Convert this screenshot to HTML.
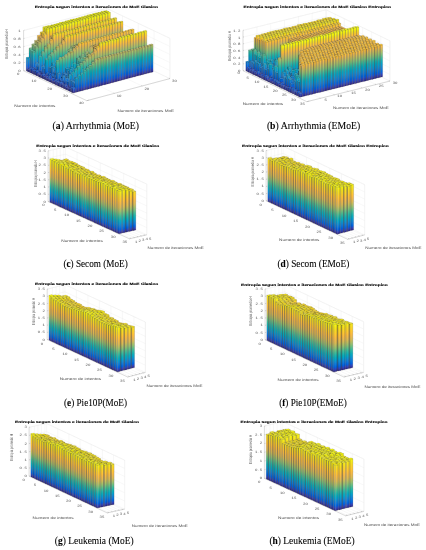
<!DOCTYPE html>
<html><head><meta charset="utf-8"><title>Entropia</title>
<style>
html,body{margin:0;padding:0;background:#fff;}
svg{display:block;}
text{font-family:"Liberation Sans",Arial,sans-serif;text-rendering:geometricPrecision;}
.cap{font-family:"Liberation Serif","Times New Roman",serif;font-size:9.4px;fill:#000;stroke:#000;stroke-width:0.08px;text-rendering:optimizeLegibility;}
</style></head><body>
<svg width="426" height="550" viewBox="0 0 426 550">
<defs><linearGradient id="gl" gradientUnits="userSpaceOnUse"><stop offset="0" stop-color="#352a87"/><stop offset="0.05" stop-color="#353eaf"/><stop offset="0.1" stop-color="#1b55d7"/><stop offset="0.15" stop-color="#036ae1"/><stop offset="0.2" stop-color="#0f77db"/><stop offset="0.25" stop-color="#1484d4"/><stop offset="0.3" stop-color="#0d93d2"/><stop offset="0.35" stop-color="#06a0cd"/><stop offset="0.4" stop-color="#07aac1"/><stop offset="0.45" stop-color="#18b1b2"/><stop offset="0.5" stop-color="#33b8a1"/><stop offset="0.55" stop-color="#55bd8e"/><stop offset="0.6" stop-color="#7abf7c"/><stop offset="0.65" stop-color="#9bbf6f"/><stop offset="0.7" stop-color="#b8bd63"/><stop offset="0.75" stop-color="#d3bb58"/><stop offset="0.8" stop-color="#ecb94c"/><stop offset="0.85" stop-color="#fec13a"/><stop offset="0.9" stop-color="#fad12b"/><stop offset="0.95" stop-color="#f5e31e"/><stop offset="1" stop-color="#f9fb0e"/></linearGradient><linearGradient id="gld" gradientUnits="userSpaceOnUse"><stop offset="0" stop-color="#251e5e"/><stop offset="0.05" stop-color="#252b7a"/><stop offset="0.1" stop-color="#133c96"/><stop offset="0.15" stop-color="#024a9d"/><stop offset="0.2" stop-color="#0a5399"/><stop offset="0.25" stop-color="#0e5c95"/><stop offset="0.3" stop-color="#096793"/><stop offset="0.35" stop-color="#04708f"/><stop offset="0.4" stop-color="#057787"/><stop offset="0.45" stop-color="#117c7d"/><stop offset="0.5" stop-color="#248171"/><stop offset="0.55" stop-color="#3b8463"/><stop offset="0.6" stop-color="#558657"/><stop offset="0.65" stop-color="#6d854e"/><stop offset="0.7" stop-color="#818445"/><stop offset="0.75" stop-color="#94833e"/><stop offset="0.8" stop-color="#a58235"/><stop offset="0.85" stop-color="#b28729"/><stop offset="0.9" stop-color="#af931e"/><stop offset="0.95" stop-color="#ab9f15"/><stop offset="1" stop-color="#aeaf0a"/></linearGradient><linearGradient id="gc" gradientUnits="userSpaceOnUse"><stop offset="0" stop-color="#352a87"/><stop offset="0.05" stop-color="#3145bc"/><stop offset="0.1" stop-color="#0265e1"/><stop offset="0.15" stop-color="#0f77db"/><stop offset="0.2" stop-color="#128ad3"/><stop offset="0.25" stop-color="#06a0cd"/><stop offset="0.3" stop-color="#0cadbb"/><stop offset="0.35" stop-color="#24b5aa"/><stop offset="0.4" stop-color="#44bb97"/><stop offset="0.45" stop-color="#6bbf83"/><stop offset="0.5" stop-color="#95bf71"/><stop offset="0.55" stop-color="#b8bd63"/><stop offset="0.6" stop-color="#d8ba56"/><stop offset="0.65" stop-color="#e8b94f"/><stop offset="0.7" stop-color="#f7ba45"/><stop offset="0.75" stop-color="#fec238"/><stop offset="0.8" stop-color="#fdcc2f"/><stop offset="0.85" stop-color="#f8d627"/><stop offset="0.9" stop-color="#f5e11f"/><stop offset="0.95" stop-color="#f5ed17"/><stop offset="1" stop-color="#f9fb0e"/></linearGradient><linearGradient id="gcd" gradientUnits="userSpaceOnUse"><stop offset="0" stop-color="#251e5e"/><stop offset="0.05" stop-color="#223084"/><stop offset="0.1" stop-color="#02479d"/><stop offset="0.15" stop-color="#0a5399"/><stop offset="0.2" stop-color="#0d6193"/><stop offset="0.25" stop-color="#047090"/><stop offset="0.3" stop-color="#097983"/><stop offset="0.35" stop-color="#197e77"/><stop offset="0.4" stop-color="#30836a"/><stop offset="0.45" stop-color="#4b855c"/><stop offset="0.5" stop-color="#68864f"/><stop offset="0.55" stop-color="#818445"/><stop offset="0.6" stop-color="#97823c"/><stop offset="0.65" stop-color="#a28237"/><stop offset="0.7" stop-color="#ad8230"/><stop offset="0.75" stop-color="#b28828"/><stop offset="0.8" stop-color="#b18f21"/><stop offset="0.85" stop-color="#ae961c"/><stop offset="0.9" stop-color="#ac9d16"/><stop offset="0.95" stop-color="#aca610"/><stop offset="1" stop-color="#aeaf0a"/></linearGradient>
<linearGradient id="aF1" href="#gl" gradientUnits="userSpaceOnUse" x1="0" y1="58.41" x2="14.80" y2="27.12"/>
<linearGradient id="aS30" href="#gl" gradientUnits="userSpaceOnUse" x1="0" y1="112.57" x2="-9.51" y2="76.82"/>
<linearGradient id="aF2" href="#gl" gradientUnits="userSpaceOnUse" x1="0" y1="56.36" x2="14.80" y2="25.08"/>
<linearGradient id="aF3" href="#gl" gradientUnits="userSpaceOnUse" x1="0" y1="54.31" x2="14.80" y2="23.03"/>
<linearGradient id="aF4" href="#gl" gradientUnits="userSpaceOnUse" x1="0" y1="52.27" x2="14.80" y2="20.98"/>
<linearGradient id="aF5" href="#gl" gradientUnits="userSpaceOnUse" x1="0" y1="50.22" x2="14.80" y2="18.93"/>
<linearGradient id="aF6" href="#gl" gradientUnits="userSpaceOnUse" x1="0" y1="48.17" x2="14.80" y2="16.89"/>
<linearGradient id="aF7" href="#gl" gradientUnits="userSpaceOnUse" x1="0" y1="46.12" x2="14.80" y2="14.84"/>
<linearGradient id="aF8" href="#gl" gradientUnits="userSpaceOnUse" x1="0" y1="44.08" x2="14.80" y2="12.79"/>
<linearGradient id="aF9" href="#gl" gradientUnits="userSpaceOnUse" x1="0" y1="42.03" x2="14.80" y2="10.75"/>
<linearGradient id="aF10" href="#gl" gradientUnits="userSpaceOnUse" x1="0" y1="39.98" x2="14.80" y2="8.70"/>
<linearGradient id="aF11" href="#gl" gradientUnits="userSpaceOnUse" x1="0" y1="37.93" x2="14.80" y2="6.65"/>
<linearGradient id="aF12" href="#gl" gradientUnits="userSpaceOnUse" x1="0" y1="35.89" x2="14.80" y2="4.60"/>
<linearGradient id="aF13" href="#gl" gradientUnits="userSpaceOnUse" x1="0" y1="33.84" x2="14.80" y2="2.56"/>
<linearGradient id="aF14" href="#gl" gradientUnits="userSpaceOnUse" x1="0" y1="31.79" x2="14.80" y2="0.51"/>
<linearGradient id="aF15" href="#gl" gradientUnits="userSpaceOnUse" x1="0" y1="29.75" x2="14.80" y2="-1.54"/>
<linearGradient id="aF16" href="#gl" gradientUnits="userSpaceOnUse" x1="0" y1="27.70" x2="14.80" y2="-3.58"/>
<linearGradient id="aF17" href="#gl" gradientUnits="userSpaceOnUse" x1="0" y1="25.65" x2="14.80" y2="-5.63"/>
<linearGradient id="aF18" href="#gl" gradientUnits="userSpaceOnUse" x1="0" y1="23.60" x2="14.80" y2="-7.68"/>
<linearGradient id="aF19" href="#gl" gradientUnits="userSpaceOnUse" x1="0" y1="21.56" x2="14.80" y2="-9.73"/>
<linearGradient id="aF20" href="#gl" gradientUnits="userSpaceOnUse" x1="0" y1="19.51" x2="14.80" y2="-11.77"/>
<linearGradient id="aF21" href="#gl" gradientUnits="userSpaceOnUse" x1="0" y1="17.46" x2="14.80" y2="-13.82"/>
<linearGradient id="aF22" href="#gl" gradientUnits="userSpaceOnUse" x1="0" y1="15.42" x2="14.80" y2="-15.87"/>
<linearGradient id="aF23" href="#gl" gradientUnits="userSpaceOnUse" x1="0" y1="13.37" x2="14.80" y2="-17.91"/>
<linearGradient id="aF24" href="#gl" gradientUnits="userSpaceOnUse" x1="0" y1="11.32" x2="14.80" y2="-19.96"/>
<linearGradient id="aF25" href="#gl" gradientUnits="userSpaceOnUse" x1="0" y1="9.27" x2="14.80" y2="-22.01"/>
<linearGradient id="aF26" href="#gl" gradientUnits="userSpaceOnUse" x1="0" y1="7.23" x2="14.80" y2="-24.06"/>
<linearGradient id="aF27" href="#gl" gradientUnits="userSpaceOnUse" x1="0" y1="5.18" x2="14.80" y2="-26.10"/>
<linearGradient id="aF28" href="#gl" gradientUnits="userSpaceOnUse" x1="0" y1="3.13" x2="14.80" y2="-28.15"/>
<linearGradient id="aF29" href="#gl" gradientUnits="userSpaceOnUse" x1="0" y1="1.09" x2="14.80" y2="-30.20"/>
<linearGradient id="aS29d" href="#gld" gradientUnits="userSpaceOnUse" x1="0" y1="111.41" x2="-9.51" y2="75.65"/>
<linearGradient id="aS28d" href="#gld" gradientUnits="userSpaceOnUse" x1="0" y1="110.24" x2="-9.51" y2="74.48"/>
<linearGradient id="aS28" href="#gl" gradientUnits="userSpaceOnUse" x1="0" y1="110.24" x2="-9.51" y2="74.48"/>
<linearGradient id="aF3d" href="#gld" gradientUnits="userSpaceOnUse" x1="0" y1="54.31" x2="14.80" y2="23.03"/>
<linearGradient id="aF10d" href="#gld" gradientUnits="userSpaceOnUse" x1="0" y1="39.98" x2="14.80" y2="8.70"/>
<linearGradient id="aS27d" href="#gld" gradientUnits="userSpaceOnUse" x1="0" y1="109.07" x2="-9.51" y2="73.31"/>
<linearGradient id="aS27" href="#gl" gradientUnits="userSpaceOnUse" x1="0" y1="109.07" x2="-9.51" y2="73.31"/>
<linearGradient id="aS26" href="#gl" gradientUnits="userSpaceOnUse" x1="0" y1="107.90" x2="-9.51" y2="72.15"/>
<linearGradient id="aS25" href="#gl" gradientUnits="userSpaceOnUse" x1="0" y1="106.74" x2="-9.51" y2="70.98"/>
<linearGradient id="aS25d" href="#gld" gradientUnits="userSpaceOnUse" x1="0" y1="106.74" x2="-9.51" y2="70.98"/>
<linearGradient id="aS24d" href="#gld" gradientUnits="userSpaceOnUse" x1="0" y1="105.57" x2="-9.51" y2="69.81"/>
<linearGradient id="aS24" href="#gl" gradientUnits="userSpaceOnUse" x1="0" y1="105.57" x2="-9.51" y2="69.81"/>
<linearGradient id="aF6d" href="#gld" gradientUnits="userSpaceOnUse" x1="0" y1="48.17" x2="14.80" y2="16.89"/>
<linearGradient id="aF14d" href="#gld" gradientUnits="userSpaceOnUse" x1="0" y1="31.79" x2="14.80" y2="0.51"/>
<linearGradient id="aS23" href="#gl" gradientUnits="userSpaceOnUse" x1="0" y1="104.40" x2="-9.51" y2="68.64"/>
<linearGradient id="aS23d" href="#gld" gradientUnits="userSpaceOnUse" x1="0" y1="104.40" x2="-9.51" y2="68.64"/>
<linearGradient id="aS22" href="#gl" gradientUnits="userSpaceOnUse" x1="0" y1="103.23" x2="-9.51" y2="67.48"/>
<linearGradient id="aS22d" href="#gld" gradientUnits="userSpaceOnUse" x1="0" y1="103.23" x2="-9.51" y2="67.48"/>
<linearGradient id="aF11d" href="#gld" gradientUnits="userSpaceOnUse" x1="0" y1="37.93" x2="14.80" y2="6.65"/>
<linearGradient id="aF15d" href="#gld" gradientUnits="userSpaceOnUse" x1="0" y1="29.75" x2="14.80" y2="-1.54"/>
<linearGradient id="aS21d" href="#gld" gradientUnits="userSpaceOnUse" x1="0" y1="102.06" x2="-9.51" y2="66.31"/>
<linearGradient id="aS21" href="#gl" gradientUnits="userSpaceOnUse" x1="0" y1="102.06" x2="-9.51" y2="66.31"/>
<linearGradient id="aS20" href="#gl" gradientUnits="userSpaceOnUse" x1="0" y1="100.90" x2="-9.51" y2="65.14"/>
<linearGradient id="aS20d" href="#gld" gradientUnits="userSpaceOnUse" x1="0" y1="100.90" x2="-9.51" y2="65.14"/>
<linearGradient id="aS19" href="#gl" gradientUnits="userSpaceOnUse" x1="0" y1="99.73" x2="-9.51" y2="63.97"/>
<linearGradient id="aS19d" href="#gld" gradientUnits="userSpaceOnUse" x1="0" y1="99.73" x2="-9.51" y2="63.97"/>
<linearGradient id="aS18d" href="#gld" gradientUnits="userSpaceOnUse" x1="0" y1="98.56" x2="-9.51" y2="62.81"/>
<linearGradient id="aS18" href="#gl" gradientUnits="userSpaceOnUse" x1="0" y1="98.56" x2="-9.51" y2="62.81"/>
<linearGradient id="aS17" href="#gl" gradientUnits="userSpaceOnUse" x1="0" y1="97.39" x2="-9.51" y2="61.64"/>
<linearGradient id="aS17d" href="#gld" gradientUnits="userSpaceOnUse" x1="0" y1="97.39" x2="-9.51" y2="61.64"/>
<linearGradient id="aS16d" href="#gld" gradientUnits="userSpaceOnUse" x1="0" y1="96.23" x2="-9.51" y2="60.47"/>
<linearGradient id="aS15" href="#gl" gradientUnits="userSpaceOnUse" x1="0" y1="95.06" x2="-9.51" y2="59.30"/>
<linearGradient id="aS15d" href="#gld" gradientUnits="userSpaceOnUse" x1="0" y1="95.06" x2="-9.51" y2="59.30"/>
<linearGradient id="aS14d" href="#gld" gradientUnits="userSpaceOnUse" x1="0" y1="93.89" x2="-9.51" y2="58.13"/>
<linearGradient id="aS14" href="#gl" gradientUnits="userSpaceOnUse" x1="0" y1="93.89" x2="-9.51" y2="58.13"/>
<linearGradient id="aF12d" href="#gld" gradientUnits="userSpaceOnUse" x1="0" y1="35.89" x2="14.80" y2="4.60"/>
<linearGradient id="aS13" href="#gl" gradientUnits="userSpaceOnUse" x1="0" y1="92.72" x2="-9.51" y2="56.97"/>
<linearGradient id="aS13d" href="#gld" gradientUnits="userSpaceOnUse" x1="0" y1="92.72" x2="-9.51" y2="56.97"/>
<linearGradient id="aS12d" href="#gld" gradientUnits="userSpaceOnUse" x1="0" y1="91.56" x2="-9.51" y2="55.80"/>
<linearGradient id="aS12" href="#gl" gradientUnits="userSpaceOnUse" x1="0" y1="91.56" x2="-9.51" y2="55.80"/>
<linearGradient id="aF5d" href="#gld" gradientUnits="userSpaceOnUse" x1="0" y1="50.22" x2="14.80" y2="18.93"/>
<linearGradient id="aS11" href="#gl" gradientUnits="userSpaceOnUse" x1="0" y1="90.39" x2="-9.51" y2="54.63"/>
<linearGradient id="aS10d" href="#gld" gradientUnits="userSpaceOnUse" x1="0" y1="89.22" x2="-9.51" y2="53.46"/>
<linearGradient id="aS9d" href="#gld" gradientUnits="userSpaceOnUse" x1="0" y1="88.05" x2="-9.51" y2="52.30"/>
<linearGradient id="aS9" href="#gl" gradientUnits="userSpaceOnUse" x1="0" y1="88.05" x2="-9.51" y2="52.30"/>
<linearGradient id="aF7d" href="#gld" gradientUnits="userSpaceOnUse" x1="0" y1="46.12" x2="14.80" y2="14.84"/>
<linearGradient id="aF9d" href="#gld" gradientUnits="userSpaceOnUse" x1="0" y1="42.03" x2="14.80" y2="10.75"/>
<linearGradient id="aS8" href="#gl" gradientUnits="userSpaceOnUse" x1="0" y1="86.88" x2="-9.51" y2="51.13"/>
<linearGradient id="aS8d" href="#gld" gradientUnits="userSpaceOnUse" x1="0" y1="86.88" x2="-9.51" y2="51.13"/>
<linearGradient id="aS7" href="#gl" gradientUnits="userSpaceOnUse" x1="0" y1="85.72" x2="-9.51" y2="49.96"/>
<linearGradient id="aS6d" href="#gld" gradientUnits="userSpaceOnUse" x1="0" y1="84.55" x2="-9.51" y2="48.79"/>
<linearGradient id="aS5d" href="#gld" gradientUnits="userSpaceOnUse" x1="0" y1="83.38" x2="-9.51" y2="47.63"/>
<linearGradient id="aS5" href="#gl" gradientUnits="userSpaceOnUse" x1="0" y1="83.38" x2="-9.51" y2="47.63"/>
<linearGradient id="aF4d" href="#gld" gradientUnits="userSpaceOnUse" x1="0" y1="52.27" x2="14.80" y2="20.98"/>
<linearGradient id="aF8d" href="#gld" gradientUnits="userSpaceOnUse" x1="0" y1="44.08" x2="14.80" y2="12.79"/>
<linearGradient id="aS4" href="#gl" gradientUnits="userSpaceOnUse" x1="0" y1="82.21" x2="-9.51" y2="46.46"/>
<linearGradient id="aS4d" href="#gld" gradientUnits="userSpaceOnUse" x1="0" y1="82.21" x2="-9.51" y2="46.46"/>
<linearGradient id="aS3d" href="#gld" gradientUnits="userSpaceOnUse" x1="0" y1="81.05" x2="-9.51" y2="45.29"/>
<linearGradient id="aS3" href="#gl" gradientUnits="userSpaceOnUse" x1="0" y1="81.05" x2="-9.51" y2="45.29"/>
<linearGradient id="aS2d" href="#gld" gradientUnits="userSpaceOnUse" x1="0" y1="79.88" x2="-9.51" y2="44.12"/>
<linearGradient id="aS2" href="#gl" gradientUnits="userSpaceOnUse" x1="0" y1="79.88" x2="-9.51" y2="44.12"/>
<linearGradient id="aS1" href="#gl" gradientUnits="userSpaceOnUse" x1="0" y1="78.71" x2="-9.51" y2="42.95"/>
<linearGradient id="aS1d" href="#gld" gradientUnits="userSpaceOnUse" x1="0" y1="78.71" x2="-9.51" y2="42.95"/>
<linearGradient id="bF1" href="#gl" gradientUnits="userSpaceOnUse" x1="0" y1="-48.59" x2="14.53" y2="-78.49"/>
<linearGradient id="bS30" href="#gl" gradientUnits="userSpaceOnUse" x1="0" y1="171.60" x2="-8.63" y2="136.78"/>
<linearGradient id="bF2" href="#gl" gradientUnits="userSpaceOnUse" x1="0" y1="-50.62" x2="14.53" y2="-80.52"/>
<linearGradient id="bF3" href="#gl" gradientUnits="userSpaceOnUse" x1="0" y1="-52.66" x2="14.53" y2="-82.56"/>
<linearGradient id="bF4" href="#gl" gradientUnits="userSpaceOnUse" x1="0" y1="-54.69" x2="14.53" y2="-84.59"/>
<linearGradient id="bF5" href="#gl" gradientUnits="userSpaceOnUse" x1="0" y1="-56.72" x2="14.53" y2="-86.62"/>
<linearGradient id="bF6d" href="#gld" gradientUnits="userSpaceOnUse" x1="0" y1="-58.75" x2="14.53" y2="-88.66"/>
<linearGradient id="bF7" href="#gl" gradientUnits="userSpaceOnUse" x1="0" y1="-60.79" x2="14.53" y2="-90.69"/>
<linearGradient id="bF8" href="#gl" gradientUnits="userSpaceOnUse" x1="0" y1="-62.82" x2="14.53" y2="-92.72"/>
<linearGradient id="bF9" href="#gl" gradientUnits="userSpaceOnUse" x1="0" y1="-64.85" x2="14.53" y2="-94.75"/>
<linearGradient id="bF10" href="#gl" gradientUnits="userSpaceOnUse" x1="0" y1="-66.88" x2="14.53" y2="-96.79"/>
<linearGradient id="bF11d" href="#gld" gradientUnits="userSpaceOnUse" x1="0" y1="-68.92" x2="14.53" y2="-98.82"/>
<linearGradient id="bF12" href="#gl" gradientUnits="userSpaceOnUse" x1="0" y1="-70.95" x2="14.53" y2="-100.85"/>
<linearGradient id="bF13d" href="#gld" gradientUnits="userSpaceOnUse" x1="0" y1="-72.98" x2="14.53" y2="-102.88"/>
<linearGradient id="bF14" href="#gl" gradientUnits="userSpaceOnUse" x1="0" y1="-75.02" x2="14.53" y2="-104.92"/>
<linearGradient id="bF15" href="#gl" gradientUnits="userSpaceOnUse" x1="0" y1="-77.05" x2="14.53" y2="-106.95"/>
<linearGradient id="bF16" href="#gl" gradientUnits="userSpaceOnUse" x1="0" y1="-79.08" x2="14.53" y2="-108.98"/>
<linearGradient id="bF17" href="#gl" gradientUnits="userSpaceOnUse" x1="0" y1="-81.11" x2="14.53" y2="-111.01"/>
<linearGradient id="bF18" href="#gl" gradientUnits="userSpaceOnUse" x1="0" y1="-83.15" x2="14.53" y2="-113.05"/>
<linearGradient id="bF19" href="#gl" gradientUnits="userSpaceOnUse" x1="0" y1="-85.18" x2="14.53" y2="-115.08"/>
<linearGradient id="bF20" href="#gl" gradientUnits="userSpaceOnUse" x1="0" y1="-87.21" x2="14.53" y2="-117.11"/>
<linearGradient id="bF21" href="#gl" gradientUnits="userSpaceOnUse" x1="0" y1="-89.24" x2="14.53" y2="-119.14"/>
<linearGradient id="bF22" href="#gl" gradientUnits="userSpaceOnUse" x1="0" y1="-91.28" x2="14.53" y2="-121.18"/>
<linearGradient id="bF23" href="#gl" gradientUnits="userSpaceOnUse" x1="0" y1="-93.31" x2="14.53" y2="-123.21"/>
<linearGradient id="bF24" href="#gl" gradientUnits="userSpaceOnUse" x1="0" y1="-95.34" x2="14.53" y2="-125.24"/>
<linearGradient id="bF25d" href="#gld" gradientUnits="userSpaceOnUse" x1="0" y1="-97.37" x2="14.53" y2="-127.27"/>
<linearGradient id="bF26" href="#gl" gradientUnits="userSpaceOnUse" x1="0" y1="-99.41" x2="14.53" y2="-129.31"/>
<linearGradient id="bF27" href="#gl" gradientUnits="userSpaceOnUse" x1="0" y1="-101.44" x2="14.53" y2="-131.34"/>
<linearGradient id="bF28d" href="#gld" gradientUnits="userSpaceOnUse" x1="0" y1="-103.47" x2="14.53" y2="-133.37"/>
<linearGradient id="bF29" href="#gl" gradientUnits="userSpaceOnUse" x1="0" y1="-105.50" x2="14.53" y2="-135.40"/>
<linearGradient id="bF30" href="#gl" gradientUnits="userSpaceOnUse" x1="0" y1="-107.54" x2="14.53" y2="-137.44"/>
<linearGradient id="bS29" href="#gl" gradientUnits="userSpaceOnUse" x1="0" y1="170.26" x2="-8.63" y2="135.44"/>
<linearGradient id="bS29d" href="#gld" gradientUnits="userSpaceOnUse" x1="0" y1="170.26" x2="-8.63" y2="135.44"/>
<linearGradient id="bS28d" href="#gld" gradientUnits="userSpaceOnUse" x1="0" y1="168.93" x2="-8.63" y2="134.11"/>
<linearGradient id="bS28" href="#gl" gradientUnits="userSpaceOnUse" x1="0" y1="168.93" x2="-8.63" y2="134.11"/>
<linearGradient id="bF4d" href="#gld" gradientUnits="userSpaceOnUse" x1="0" y1="-54.69" x2="14.53" y2="-84.59"/>
<linearGradient id="bF6" href="#gl" gradientUnits="userSpaceOnUse" x1="0" y1="-58.75" x2="14.53" y2="-88.66"/>
<linearGradient id="bF7d" href="#gld" gradientUnits="userSpaceOnUse" x1="0" y1="-60.79" x2="14.53" y2="-90.69"/>
<linearGradient id="bF9d" href="#gld" gradientUnits="userSpaceOnUse" x1="0" y1="-64.85" x2="14.53" y2="-94.75"/>
<linearGradient id="bF13" href="#gl" gradientUnits="userSpaceOnUse" x1="0" y1="-72.98" x2="14.53" y2="-102.88"/>
<linearGradient id="bF15d" href="#gld" gradientUnits="userSpaceOnUse" x1="0" y1="-77.05" x2="14.53" y2="-106.95"/>
<linearGradient id="bF19d" href="#gld" gradientUnits="userSpaceOnUse" x1="0" y1="-85.18" x2="14.53" y2="-115.08"/>
<linearGradient id="bF25" href="#gl" gradientUnits="userSpaceOnUse" x1="0" y1="-97.37" x2="14.53" y2="-127.27"/>
<linearGradient id="bF26d" href="#gld" gradientUnits="userSpaceOnUse" x1="0" y1="-99.41" x2="14.53" y2="-129.31"/>
<linearGradient id="bS27" href="#gl" gradientUnits="userSpaceOnUse" x1="0" y1="167.59" x2="-8.63" y2="132.77"/>
<linearGradient id="bS27d" href="#gld" gradientUnits="userSpaceOnUse" x1="0" y1="167.59" x2="-8.63" y2="132.77"/>
<linearGradient id="bS26" href="#gl" gradientUnits="userSpaceOnUse" x1="0" y1="166.25" x2="-8.63" y2="131.43"/>
<linearGradient id="bS26d" href="#gld" gradientUnits="userSpaceOnUse" x1="0" y1="166.25" x2="-8.63" y2="131.43"/>
<linearGradient id="bF8d" href="#gld" gradientUnits="userSpaceOnUse" x1="0" y1="-62.82" x2="14.53" y2="-92.72"/>
<linearGradient id="bF11" href="#gl" gradientUnits="userSpaceOnUse" x1="0" y1="-68.92" x2="14.53" y2="-98.82"/>
<linearGradient id="bF12d" href="#gld" gradientUnits="userSpaceOnUse" x1="0" y1="-70.95" x2="14.53" y2="-100.85"/>
<linearGradient id="bF17d" href="#gld" gradientUnits="userSpaceOnUse" x1="0" y1="-81.11" x2="14.53" y2="-111.01"/>
<linearGradient id="bF20d" href="#gld" gradientUnits="userSpaceOnUse" x1="0" y1="-87.21" x2="14.53" y2="-117.11"/>
<linearGradient id="bF23d" href="#gld" gradientUnits="userSpaceOnUse" x1="0" y1="-93.31" x2="14.53" y2="-123.21"/>
<linearGradient id="bF28" href="#gl" gradientUnits="userSpaceOnUse" x1="0" y1="-103.47" x2="14.53" y2="-133.37"/>
<linearGradient id="bS25d" href="#gld" gradientUnits="userSpaceOnUse" x1="0" y1="164.91" x2="-8.63" y2="130.09"/>
<linearGradient id="bF2d" href="#gld" gradientUnits="userSpaceOnUse" x1="0" y1="-50.62" x2="14.53" y2="-80.52"/>
<linearGradient id="bS25" href="#gl" gradientUnits="userSpaceOnUse" x1="0" y1="164.91" x2="-8.63" y2="130.09"/>
<linearGradient id="bS24" href="#gl" gradientUnits="userSpaceOnUse" x1="0" y1="163.58" x2="-8.63" y2="128.76"/>
<linearGradient id="bF18d" href="#gld" gradientUnits="userSpaceOnUse" x1="0" y1="-83.15" x2="14.53" y2="-113.05"/>
<linearGradient id="bS23d" href="#gld" gradientUnits="userSpaceOnUse" x1="0" y1="162.24" x2="-8.63" y2="127.42"/>
<linearGradient id="bS23" href="#gl" gradientUnits="userSpaceOnUse" x1="0" y1="162.24" x2="-8.63" y2="127.42"/>
<linearGradient id="bS22" href="#gl" gradientUnits="userSpaceOnUse" x1="0" y1="160.90" x2="-8.63" y2="126.08"/>
<linearGradient id="bS21" href="#gl" gradientUnits="userSpaceOnUse" x1="0" y1="159.56" x2="-8.63" y2="124.74"/>
<linearGradient id="bS21d" href="#gld" gradientUnits="userSpaceOnUse" x1="0" y1="159.56" x2="-8.63" y2="124.74"/>
<linearGradient id="bS20" href="#gl" gradientUnits="userSpaceOnUse" x1="0" y1="158.23" x2="-8.63" y2="123.40"/>
<linearGradient id="bS20d" href="#gld" gradientUnits="userSpaceOnUse" x1="0" y1="158.23" x2="-8.63" y2="123.40"/>
<linearGradient id="bF22d" href="#gld" gradientUnits="userSpaceOnUse" x1="0" y1="-91.28" x2="14.53" y2="-121.18"/>
<linearGradient id="bS19d" href="#gld" gradientUnits="userSpaceOnUse" x1="0" y1="156.89" x2="-8.63" y2="122.07"/>
<linearGradient id="bS19" href="#gl" gradientUnits="userSpaceOnUse" x1="0" y1="156.89" x2="-8.63" y2="122.07"/>
<linearGradient id="bS18" href="#gl" gradientUnits="userSpaceOnUse" x1="0" y1="155.55" x2="-8.63" y2="120.73"/>
<linearGradient id="bS18d" href="#gld" gradientUnits="userSpaceOnUse" x1="0" y1="155.55" x2="-8.63" y2="120.73"/>
<linearGradient id="bS17" href="#gl" gradientUnits="userSpaceOnUse" x1="0" y1="154.21" x2="-8.63" y2="119.39"/>
<linearGradient id="bF24d" href="#gld" gradientUnits="userSpaceOnUse" x1="0" y1="-95.34" x2="14.53" y2="-125.24"/>
<linearGradient id="bS16" href="#gl" gradientUnits="userSpaceOnUse" x1="0" y1="152.87" x2="-8.63" y2="118.05"/>
<linearGradient id="bS16d" href="#gld" gradientUnits="userSpaceOnUse" x1="0" y1="152.87" x2="-8.63" y2="118.05"/>
<linearGradient id="bS15d" href="#gld" gradientUnits="userSpaceOnUse" x1="0" y1="151.54" x2="-8.63" y2="116.72"/>
<linearGradient id="bS15" href="#gl" gradientUnits="userSpaceOnUse" x1="0" y1="151.54" x2="-8.63" y2="116.72"/>
<linearGradient id="bS14" href="#gl" gradientUnits="userSpaceOnUse" x1="0" y1="150.20" x2="-8.63" y2="115.38"/>
<linearGradient id="bS14d" href="#gld" gradientUnits="userSpaceOnUse" x1="0" y1="150.20" x2="-8.63" y2="115.38"/>
<linearGradient id="bS13d" href="#gld" gradientUnits="userSpaceOnUse" x1="0" y1="148.86" x2="-8.63" y2="114.04"/>
<linearGradient id="bS12" href="#gl" gradientUnits="userSpaceOnUse" x1="0" y1="147.52" x2="-8.63" y2="112.70"/>
<linearGradient id="bF3d" href="#gld" gradientUnits="userSpaceOnUse" x1="0" y1="-52.66" x2="14.53" y2="-82.56"/>
<linearGradient id="bS11" href="#gl" gradientUnits="userSpaceOnUse" x1="0" y1="146.19" x2="-8.63" y2="111.37"/>
<linearGradient id="bS11d" href="#gld" gradientUnits="userSpaceOnUse" x1="0" y1="146.19" x2="-8.63" y2="111.37"/>
<linearGradient id="bS10d" href="#gld" gradientUnits="userSpaceOnUse" x1="0" y1="144.85" x2="-8.63" y2="110.03"/>
<linearGradient id="bS10" href="#gl" gradientUnits="userSpaceOnUse" x1="0" y1="144.85" x2="-8.63" y2="110.03"/>
<linearGradient id="bS9" href="#gl" gradientUnits="userSpaceOnUse" x1="0" y1="143.51" x2="-8.63" y2="108.69"/>
<linearGradient id="bS8d" href="#gld" gradientUnits="userSpaceOnUse" x1="0" y1="142.17" x2="-8.63" y2="107.35"/>
<linearGradient id="bS8" href="#gl" gradientUnits="userSpaceOnUse" x1="0" y1="142.17" x2="-8.63" y2="107.35"/>
<linearGradient id="bF5d" href="#gld" gradientUnits="userSpaceOnUse" x1="0" y1="-56.72" x2="14.53" y2="-86.62"/>
<linearGradient id="bS7" href="#gl" gradientUnits="userSpaceOnUse" x1="0" y1="140.84" x2="-8.63" y2="106.02"/>
<linearGradient id="bS7d" href="#gld" gradientUnits="userSpaceOnUse" x1="0" y1="140.84" x2="-8.63" y2="106.02"/>
<linearGradient id="bS6d" href="#gld" gradientUnits="userSpaceOnUse" x1="0" y1="139.50" x2="-8.63" y2="104.68"/>
<linearGradient id="bS6" href="#gl" gradientUnits="userSpaceOnUse" x1="0" y1="139.50" x2="-8.63" y2="104.68"/>
<linearGradient id="bS5" href="#gl" gradientUnits="userSpaceOnUse" x1="0" y1="138.16" x2="-8.63" y2="103.34"/>
<linearGradient id="bS5d" href="#gld" gradientUnits="userSpaceOnUse" x1="0" y1="138.16" x2="-8.63" y2="103.34"/>
<linearGradient id="bS4" href="#gl" gradientUnits="userSpaceOnUse" x1="0" y1="136.82" x2="-8.63" y2="102.00"/>
<linearGradient id="bS3d" href="#gld" gradientUnits="userSpaceOnUse" x1="0" y1="135.49" x2="-8.63" y2="100.67"/>
<linearGradient id="bS2" href="#gl" gradientUnits="userSpaceOnUse" x1="0" y1="134.15" x2="-8.63" y2="99.33"/>
<linearGradient id="bF27d" href="#gld" gradientUnits="userSpaceOnUse" x1="0" y1="-101.44" x2="14.53" y2="-131.34"/>
<linearGradient id="bS1" href="#gl" gradientUnits="userSpaceOnUse" x1="0" y1="132.81" x2="-8.63" y2="97.99"/>
<linearGradient id="bS1d" href="#gld" gradientUnits="userSpaceOnUse" x1="0" y1="132.81" x2="-8.63" y2="97.99"/>
<linearGradient id="cF1" href="#gc" gradientUnits="userSpaceOnUse" x1="0" y1="179.35" x2="16.49" y2="143.31"/>
<linearGradient id="cS30" href="#gc" gradientUnits="userSpaceOnUse" x1="0" y1="260.93" x2="-9.43" y2="219.49"/>
<linearGradient id="cF2" href="#gc" gradientUnits="userSpaceOnUse" x1="0" y1="176.97" x2="16.49" y2="140.93"/>
<linearGradient id="cF3d" href="#gcd" gradientUnits="userSpaceOnUse" x1="0" y1="174.58" x2="16.49" y2="138.54"/>
<linearGradient id="cF4d" href="#gcd" gradientUnits="userSpaceOnUse" x1="0" y1="172.20" x2="16.49" y2="136.16"/>
<linearGradient id="cF5d" href="#gcd" gradientUnits="userSpaceOnUse" x1="0" y1="169.82" x2="16.49" y2="133.78"/>
<linearGradient id="cS29" href="#gc" gradientUnits="userSpaceOnUse" x1="0" y1="259.34" x2="-9.43" y2="217.90"/>
<linearGradient id="cF5" href="#gc" gradientUnits="userSpaceOnUse" x1="0" y1="169.82" x2="16.49" y2="133.78"/>
<linearGradient id="cS28" href="#gc" gradientUnits="userSpaceOnUse" x1="0" y1="257.75" x2="-9.43" y2="216.31"/>
<linearGradient id="cF2d" href="#gcd" gradientUnits="userSpaceOnUse" x1="0" y1="176.97" x2="16.49" y2="140.93"/>
<linearGradient id="cS28d" href="#gcd" gradientUnits="userSpaceOnUse" x1="0" y1="257.75" x2="-9.43" y2="216.31"/>
<linearGradient id="cS27d" href="#gcd" gradientUnits="userSpaceOnUse" x1="0" y1="256.15" x2="-9.43" y2="214.72"/>
<linearGradient id="cS27" href="#gc" gradientUnits="userSpaceOnUse" x1="0" y1="256.15" x2="-9.43" y2="214.72"/>
<linearGradient id="cS26" href="#gc" gradientUnits="userSpaceOnUse" x1="0" y1="254.56" x2="-9.43" y2="213.12"/>
<linearGradient id="cF4" href="#gc" gradientUnits="userSpaceOnUse" x1="0" y1="172.20" x2="16.49" y2="136.16"/>
<linearGradient id="cS25d" href="#gcd" gradientUnits="userSpaceOnUse" x1="0" y1="252.97" x2="-9.43" y2="211.53"/>
<linearGradient id="cS25" href="#gc" gradientUnits="userSpaceOnUse" x1="0" y1="252.97" x2="-9.43" y2="211.53"/>
<linearGradient id="cF3" href="#gc" gradientUnits="userSpaceOnUse" x1="0" y1="174.58" x2="16.49" y2="138.54"/>
<linearGradient id="cS24" href="#gc" gradientUnits="userSpaceOnUse" x1="0" y1="251.38" x2="-9.43" y2="209.94"/>
<linearGradient id="cS23" href="#gc" gradientUnits="userSpaceOnUse" x1="0" y1="249.79" x2="-9.43" y2="208.35"/>
<linearGradient id="cS23d" href="#gcd" gradientUnits="userSpaceOnUse" x1="0" y1="249.79" x2="-9.43" y2="208.35"/>
<linearGradient id="cS22d" href="#gcd" gradientUnits="userSpaceOnUse" x1="0" y1="248.20" x2="-9.43" y2="206.76"/>
<linearGradient id="cS22" href="#gc" gradientUnits="userSpaceOnUse" x1="0" y1="248.20" x2="-9.43" y2="206.76"/>
<linearGradient id="cS21d" href="#gcd" gradientUnits="userSpaceOnUse" x1="0" y1="246.61" x2="-9.43" y2="205.17"/>
<linearGradient id="cS21" href="#gc" gradientUnits="userSpaceOnUse" x1="0" y1="246.61" x2="-9.43" y2="205.17"/>
<linearGradient id="cS20d" href="#gcd" gradientUnits="userSpaceOnUse" x1="0" y1="245.01" x2="-9.43" y2="203.57"/>
<linearGradient id="cS20" href="#gc" gradientUnits="userSpaceOnUse" x1="0" y1="245.01" x2="-9.43" y2="203.57"/>
<linearGradient id="cS19" href="#gc" gradientUnits="userSpaceOnUse" x1="0" y1="243.42" x2="-9.43" y2="201.98"/>
<linearGradient id="cS18" href="#gc" gradientUnits="userSpaceOnUse" x1="0" y1="241.83" x2="-9.43" y2="200.39"/>
<linearGradient id="cS17d" href="#gcd" gradientUnits="userSpaceOnUse" x1="0" y1="240.24" x2="-9.43" y2="198.80"/>
<linearGradient id="cS17" href="#gc" gradientUnits="userSpaceOnUse" x1="0" y1="240.24" x2="-9.43" y2="198.80"/>
<linearGradient id="cS16" href="#gc" gradientUnits="userSpaceOnUse" x1="0" y1="238.65" x2="-9.43" y2="197.21"/>
<linearGradient id="cS15" href="#gc" gradientUnits="userSpaceOnUse" x1="0" y1="237.06" x2="-9.43" y2="195.62"/>
<linearGradient id="cS14" href="#gc" gradientUnits="userSpaceOnUse" x1="0" y1="235.46" x2="-9.43" y2="194.03"/>
<linearGradient id="cS13d" href="#gcd" gradientUnits="userSpaceOnUse" x1="0" y1="233.87" x2="-9.43" y2="192.43"/>
<linearGradient id="cS13" href="#gc" gradientUnits="userSpaceOnUse" x1="0" y1="233.87" x2="-9.43" y2="192.43"/>
<linearGradient id="cS12d" href="#gcd" gradientUnits="userSpaceOnUse" x1="0" y1="232.28" x2="-9.43" y2="190.84"/>
<linearGradient id="cS12" href="#gc" gradientUnits="userSpaceOnUse" x1="0" y1="232.28" x2="-9.43" y2="190.84"/>
<linearGradient id="cS11" href="#gc" gradientUnits="userSpaceOnUse" x1="0" y1="230.69" x2="-9.43" y2="189.25"/>
<linearGradient id="cS11d" href="#gcd" gradientUnits="userSpaceOnUse" x1="0" y1="230.69" x2="-9.43" y2="189.25"/>
<linearGradient id="cS10d" href="#gcd" gradientUnits="userSpaceOnUse" x1="0" y1="229.10" x2="-9.43" y2="187.66"/>
<linearGradient id="cS10" href="#gc" gradientUnits="userSpaceOnUse" x1="0" y1="229.10" x2="-9.43" y2="187.66"/>
<linearGradient id="cS9" href="#gc" gradientUnits="userSpaceOnUse" x1="0" y1="227.51" x2="-9.43" y2="186.07"/>
<linearGradient id="cS8d" href="#gcd" gradientUnits="userSpaceOnUse" x1="0" y1="225.92" x2="-9.43" y2="184.48"/>
<linearGradient id="cS8" href="#gc" gradientUnits="userSpaceOnUse" x1="0" y1="225.92" x2="-9.43" y2="184.48"/>
<linearGradient id="cS7" href="#gc" gradientUnits="userSpaceOnUse" x1="0" y1="224.32" x2="-9.43" y2="182.89"/>
<linearGradient id="cS6d" href="#gcd" gradientUnits="userSpaceOnUse" x1="0" y1="222.73" x2="-9.43" y2="181.29"/>
<linearGradient id="cS6" href="#gc" gradientUnits="userSpaceOnUse" x1="0" y1="222.73" x2="-9.43" y2="181.29"/>
<linearGradient id="cS5" href="#gc" gradientUnits="userSpaceOnUse" x1="0" y1="221.14" x2="-9.43" y2="179.70"/>
<linearGradient id="cS5d" href="#gcd" gradientUnits="userSpaceOnUse" x1="0" y1="221.14" x2="-9.43" y2="179.70"/>
<linearGradient id="cS4d" href="#gcd" gradientUnits="userSpaceOnUse" x1="0" y1="219.55" x2="-9.43" y2="178.11"/>
<linearGradient id="cS4" href="#gc" gradientUnits="userSpaceOnUse" x1="0" y1="219.55" x2="-9.43" y2="178.11"/>
<linearGradient id="cS3" href="#gc" gradientUnits="userSpaceOnUse" x1="0" y1="217.96" x2="-9.43" y2="176.52"/>
<linearGradient id="cS2" href="#gc" gradientUnits="userSpaceOnUse" x1="0" y1="216.37" x2="-9.43" y2="174.93"/>
<linearGradient id="cS1" href="#gc" gradientUnits="userSpaceOnUse" x1="0" y1="214.78" x2="-9.43" y2="173.34"/>
<linearGradient id="dF1" href="#gc" gradientUnits="userSpaceOnUse" x1="0" y1="74.85" x2="18.15" y2="36.42"/>
<linearGradient id="dS30" href="#gc" gradientUnits="userSpaceOnUse" x1="0" y1="320.92" x2="-11.34" y2="276.84"/>
<linearGradient id="dF2" href="#gc" gradientUnits="userSpaceOnUse" x1="0" y1="72.35" x2="18.15" y2="33.92"/>
<linearGradient id="dF3d" href="#gcd" gradientUnits="userSpaceOnUse" x1="0" y1="69.86" x2="18.15" y2="31.43"/>
<linearGradient id="dF4d" href="#gcd" gradientUnits="userSpaceOnUse" x1="0" y1="67.36" x2="18.15" y2="28.93"/>
<linearGradient id="dF5" href="#gc" gradientUnits="userSpaceOnUse" x1="0" y1="64.86" x2="18.15" y2="26.43"/>
<linearGradient id="dS29" href="#gc" gradientUnits="userSpaceOnUse" x1="0" y1="319.23" x2="-11.34" y2="275.14"/>
<linearGradient id="dF4" href="#gc" gradientUnits="userSpaceOnUse" x1="0" y1="67.36" x2="18.15" y2="28.93"/>
<linearGradient id="dS28d" href="#gcd" gradientUnits="userSpaceOnUse" x1="0" y1="317.53" x2="-11.34" y2="273.44"/>
<linearGradient id="dS28" href="#gc" gradientUnits="userSpaceOnUse" x1="0" y1="317.53" x2="-11.34" y2="273.44"/>
<linearGradient id="dF3" href="#gc" gradientUnits="userSpaceOnUse" x1="0" y1="69.86" x2="18.15" y2="31.43"/>
<linearGradient id="dS27" href="#gc" gradientUnits="userSpaceOnUse" x1="0" y1="315.83" x2="-11.34" y2="271.74"/>
<linearGradient id="dS27d" href="#gcd" gradientUnits="userSpaceOnUse" x1="0" y1="315.83" x2="-11.34" y2="271.74"/>
<linearGradient id="dS26d" href="#gcd" gradientUnits="userSpaceOnUse" x1="0" y1="314.13" x2="-11.34" y2="270.04"/>
<linearGradient id="dS26" href="#gc" gradientUnits="userSpaceOnUse" x1="0" y1="314.13" x2="-11.34" y2="270.04"/>
<linearGradient id="dF5d" href="#gcd" gradientUnits="userSpaceOnUse" x1="0" y1="64.86" x2="18.15" y2="26.43"/>
<linearGradient id="dS25d" href="#gcd" gradientUnits="userSpaceOnUse" x1="0" y1="312.43" x2="-11.34" y2="268.34"/>
<linearGradient id="dS25" href="#gc" gradientUnits="userSpaceOnUse" x1="0" y1="312.43" x2="-11.34" y2="268.34"/>
<linearGradient id="dS24" href="#gc" gradientUnits="userSpaceOnUse" x1="0" y1="310.73" x2="-11.34" y2="266.64"/>
<linearGradient id="dF2d" href="#gcd" gradientUnits="userSpaceOnUse" x1="0" y1="72.35" x2="18.15" y2="33.92"/>
<linearGradient id="dS24d" href="#gcd" gradientUnits="userSpaceOnUse" x1="0" y1="310.73" x2="-11.34" y2="266.64"/>
<linearGradient id="dS23d" href="#gcd" gradientUnits="userSpaceOnUse" x1="0" y1="309.03" x2="-11.34" y2="264.94"/>
<linearGradient id="dS23" href="#gc" gradientUnits="userSpaceOnUse" x1="0" y1="309.03" x2="-11.34" y2="264.94"/>
<linearGradient id="dS22" href="#gc" gradientUnits="userSpaceOnUse" x1="0" y1="307.33" x2="-11.34" y2="263.24"/>
<linearGradient id="dS22d" href="#gcd" gradientUnits="userSpaceOnUse" x1="0" y1="307.33" x2="-11.34" y2="263.24"/>
<linearGradient id="dS21" href="#gc" gradientUnits="userSpaceOnUse" x1="0" y1="305.63" x2="-11.34" y2="261.54"/>
<linearGradient id="dS20d" href="#gcd" gradientUnits="userSpaceOnUse" x1="0" y1="303.93" x2="-11.34" y2="259.85"/>
<linearGradient id="dS20" href="#gc" gradientUnits="userSpaceOnUse" x1="0" y1="303.93" x2="-11.34" y2="259.85"/>
<linearGradient id="dS19d" href="#gcd" gradientUnits="userSpaceOnUse" x1="0" y1="302.23" x2="-11.34" y2="258.15"/>
<linearGradient id="dS19" href="#gc" gradientUnits="userSpaceOnUse" x1="0" y1="302.23" x2="-11.34" y2="258.15"/>
<linearGradient id="dS18" href="#gc" gradientUnits="userSpaceOnUse" x1="0" y1="300.53" x2="-11.34" y2="256.45"/>
<linearGradient id="dS18d" href="#gcd" gradientUnits="userSpaceOnUse" x1="0" y1="300.53" x2="-11.34" y2="256.45"/>
<linearGradient id="dS17" href="#gc" gradientUnits="userSpaceOnUse" x1="0" y1="298.84" x2="-11.34" y2="254.75"/>
<linearGradient id="dS17d" href="#gcd" gradientUnits="userSpaceOnUse" x1="0" y1="298.84" x2="-11.34" y2="254.75"/>
<linearGradient id="dS16d" href="#gcd" gradientUnits="userSpaceOnUse" x1="0" y1="297.14" x2="-11.34" y2="253.05"/>
<linearGradient id="dS16" href="#gc" gradientUnits="userSpaceOnUse" x1="0" y1="297.14" x2="-11.34" y2="253.05"/>
<linearGradient id="dS15" href="#gc" gradientUnits="userSpaceOnUse" x1="0" y1="295.44" x2="-11.34" y2="251.35"/>
<linearGradient id="dS15d" href="#gcd" gradientUnits="userSpaceOnUse" x1="0" y1="295.44" x2="-11.34" y2="251.35"/>
<linearGradient id="dS14d" href="#gcd" gradientUnits="userSpaceOnUse" x1="0" y1="293.74" x2="-11.34" y2="249.65"/>
<linearGradient id="dS14" href="#gc" gradientUnits="userSpaceOnUse" x1="0" y1="293.74" x2="-11.34" y2="249.65"/>
<linearGradient id="dS13" href="#gc" gradientUnits="userSpaceOnUse" x1="0" y1="292.04" x2="-11.34" y2="247.95"/>
<linearGradient id="dS13d" href="#gcd" gradientUnits="userSpaceOnUse" x1="0" y1="292.04" x2="-11.34" y2="247.95"/>
<linearGradient id="dS12d" href="#gcd" gradientUnits="userSpaceOnUse" x1="0" y1="290.34" x2="-11.34" y2="246.25"/>
<linearGradient id="dS12" href="#gc" gradientUnits="userSpaceOnUse" x1="0" y1="290.34" x2="-11.34" y2="246.25"/>
<linearGradient id="dS11d" href="#gcd" gradientUnits="userSpaceOnUse" x1="0" y1="288.64" x2="-11.34" y2="244.55"/>
<linearGradient id="dS11" href="#gc" gradientUnits="userSpaceOnUse" x1="0" y1="288.64" x2="-11.34" y2="244.55"/>
<linearGradient id="dS10" href="#gc" gradientUnits="userSpaceOnUse" x1="0" y1="286.94" x2="-11.34" y2="242.85"/>
<linearGradient id="dS10d" href="#gcd" gradientUnits="userSpaceOnUse" x1="0" y1="286.94" x2="-11.34" y2="242.85"/>
<linearGradient id="dS9" href="#gc" gradientUnits="userSpaceOnUse" x1="0" y1="285.24" x2="-11.34" y2="241.15"/>
<linearGradient id="dS8d" href="#gcd" gradientUnits="userSpaceOnUse" x1="0" y1="283.54" x2="-11.34" y2="239.46"/>
<linearGradient id="dS8" href="#gc" gradientUnits="userSpaceOnUse" x1="0" y1="283.54" x2="-11.34" y2="239.46"/>
<linearGradient id="dS7d" href="#gcd" gradientUnits="userSpaceOnUse" x1="0" y1="281.84" x2="-11.34" y2="237.76"/>
<linearGradient id="dS7" href="#gc" gradientUnits="userSpaceOnUse" x1="0" y1="281.84" x2="-11.34" y2="237.76"/>
<linearGradient id="dS6" href="#gc" gradientUnits="userSpaceOnUse" x1="0" y1="280.14" x2="-11.34" y2="236.06"/>
<linearGradient id="dS6d" href="#gcd" gradientUnits="userSpaceOnUse" x1="0" y1="280.14" x2="-11.34" y2="236.06"/>
<linearGradient id="dS5" href="#gc" gradientUnits="userSpaceOnUse" x1="0" y1="278.45" x2="-11.34" y2="234.36"/>
<linearGradient id="dS4" href="#gc" gradientUnits="userSpaceOnUse" x1="0" y1="276.75" x2="-11.34" y2="232.66"/>
<linearGradient id="dS3" href="#gc" gradientUnits="userSpaceOnUse" x1="0" y1="275.05" x2="-11.34" y2="230.96"/>
<linearGradient id="dS2d" href="#gcd" gradientUnits="userSpaceOnUse" x1="0" y1="273.35" x2="-11.34" y2="229.26"/>
<linearGradient id="dS2" href="#gc" gradientUnits="userSpaceOnUse" x1="0" y1="273.35" x2="-11.34" y2="229.26"/>
<linearGradient id="dS1" href="#gc" gradientUnits="userSpaceOnUse" x1="0" y1="271.65" x2="-11.34" y2="227.56"/>
<linearGradient id="eF1" href="#gc" gradientUnits="userSpaceOnUse" x1="0" y1="317.41" x2="17.27" y2="280.25"/>
<linearGradient id="eS30" href="#gc" gradientUnits="userSpaceOnUse" x1="0" y1="402.39" x2="-10.96" y2="360.03"/>
<linearGradient id="eF2d" href="#gcd" gradientUnits="userSpaceOnUse" x1="0" y1="314.85" x2="17.27" y2="277.68"/>
<linearGradient id="eF3d" href="#gcd" gradientUnits="userSpaceOnUse" x1="0" y1="312.29" x2="17.27" y2="275.12"/>
<linearGradient id="eF4" href="#gc" gradientUnits="userSpaceOnUse" x1="0" y1="309.73" x2="17.27" y2="272.56"/>
<linearGradient id="eF5d" href="#gcd" gradientUnits="userSpaceOnUse" x1="0" y1="307.17" x2="17.27" y2="270.00"/>
<linearGradient id="eS29" href="#gc" gradientUnits="userSpaceOnUse" x1="0" y1="400.73" x2="-10.96" y2="358.37"/>
<linearGradient id="eF3" href="#gc" gradientUnits="userSpaceOnUse" x1="0" y1="312.29" x2="17.27" y2="275.12"/>
<linearGradient id="eS28d" href="#gcd" gradientUnits="userSpaceOnUse" x1="0" y1="399.06" x2="-10.96" y2="356.71"/>
<linearGradient id="eS28" href="#gc" gradientUnits="userSpaceOnUse" x1="0" y1="399.06" x2="-10.96" y2="356.71"/>
<linearGradient id="eS27d" href="#gcd" gradientUnits="userSpaceOnUse" x1="0" y1="397.40" x2="-10.96" y2="355.04"/>
<linearGradient id="eF2" href="#gc" gradientUnits="userSpaceOnUse" x1="0" y1="314.85" x2="17.27" y2="277.68"/>
<linearGradient id="eS27" href="#gc" gradientUnits="userSpaceOnUse" x1="0" y1="397.40" x2="-10.96" y2="355.04"/>
<linearGradient id="eF5" href="#gc" gradientUnits="userSpaceOnUse" x1="0" y1="307.17" x2="17.27" y2="270.00"/>
<linearGradient id="eS26d" href="#gcd" gradientUnits="userSpaceOnUse" x1="0" y1="395.74" x2="-10.96" y2="353.38"/>
<linearGradient id="eS26" href="#gc" gradientUnits="userSpaceOnUse" x1="0" y1="395.74" x2="-10.96" y2="353.38"/>
<linearGradient id="eS25d" href="#gcd" gradientUnits="userSpaceOnUse" x1="0" y1="394.07" x2="-10.96" y2="351.72"/>
<linearGradient id="eS25" href="#gc" gradientUnits="userSpaceOnUse" x1="0" y1="394.07" x2="-10.96" y2="351.72"/>
<linearGradient id="eS24" href="#gc" gradientUnits="userSpaceOnUse" x1="0" y1="392.41" x2="-10.96" y2="350.05"/>
<linearGradient id="eS23" href="#gc" gradientUnits="userSpaceOnUse" x1="0" y1="390.74" x2="-10.96" y2="348.39"/>
<linearGradient id="eF4d" href="#gcd" gradientUnits="userSpaceOnUse" x1="0" y1="309.73" x2="17.27" y2="272.56"/>
<linearGradient id="eS22" href="#gc" gradientUnits="userSpaceOnUse" x1="0" y1="389.08" x2="-10.96" y2="346.72"/>
<linearGradient id="eS21" href="#gc" gradientUnits="userSpaceOnUse" x1="0" y1="387.42" x2="-10.96" y2="345.06"/>
<linearGradient id="eS20" href="#gc" gradientUnits="userSpaceOnUse" x1="0" y1="385.75" x2="-10.96" y2="343.40"/>
<linearGradient id="eS19" href="#gc" gradientUnits="userSpaceOnUse" x1="0" y1="384.09" x2="-10.96" y2="341.73"/>
<linearGradient id="eS19d" href="#gcd" gradientUnits="userSpaceOnUse" x1="0" y1="384.09" x2="-10.96" y2="341.73"/>
<linearGradient id="eS18" href="#gc" gradientUnits="userSpaceOnUse" x1="0" y1="382.43" x2="-10.96" y2="340.07"/>
<linearGradient id="eS17" href="#gc" gradientUnits="userSpaceOnUse" x1="0" y1="380.76" x2="-10.96" y2="338.41"/>
<linearGradient id="eS16" href="#gc" gradientUnits="userSpaceOnUse" x1="0" y1="379.10" x2="-10.96" y2="336.74"/>
<linearGradient id="eS15d" href="#gcd" gradientUnits="userSpaceOnUse" x1="0" y1="377.43" x2="-10.96" y2="335.08"/>
<linearGradient id="eS15" href="#gc" gradientUnits="userSpaceOnUse" x1="0" y1="377.43" x2="-10.96" y2="335.08"/>
<linearGradient id="eS14" href="#gc" gradientUnits="userSpaceOnUse" x1="0" y1="375.77" x2="-10.96" y2="333.41"/>
<linearGradient id="eS13d" href="#gcd" gradientUnits="userSpaceOnUse" x1="0" y1="374.11" x2="-10.96" y2="331.75"/>
<linearGradient id="eS13" href="#gc" gradientUnits="userSpaceOnUse" x1="0" y1="374.11" x2="-10.96" y2="331.75"/>
<linearGradient id="eS12" href="#gc" gradientUnits="userSpaceOnUse" x1="0" y1="372.44" x2="-10.96" y2="330.09"/>
<linearGradient id="eS11" href="#gc" gradientUnits="userSpaceOnUse" x1="0" y1="370.78" x2="-10.96" y2="328.42"/>
<linearGradient id="eS10d" href="#gcd" gradientUnits="userSpaceOnUse" x1="0" y1="369.12" x2="-10.96" y2="326.76"/>
<linearGradient id="eS10" href="#gc" gradientUnits="userSpaceOnUse" x1="0" y1="369.12" x2="-10.96" y2="326.76"/>
<linearGradient id="eS9" href="#gc" gradientUnits="userSpaceOnUse" x1="0" y1="367.45" x2="-10.96" y2="325.10"/>
<linearGradient id="eS8" href="#gc" gradientUnits="userSpaceOnUse" x1="0" y1="365.79" x2="-10.96" y2="323.43"/>
<linearGradient id="eS7d" href="#gcd" gradientUnits="userSpaceOnUse" x1="0" y1="364.12" x2="-10.96" y2="321.77"/>
<linearGradient id="eS7" href="#gc" gradientUnits="userSpaceOnUse" x1="0" y1="364.12" x2="-10.96" y2="321.77"/>
<linearGradient id="eS6" href="#gc" gradientUnits="userSpaceOnUse" x1="0" y1="362.46" x2="-10.96" y2="320.10"/>
<linearGradient id="eS5d" href="#gcd" gradientUnits="userSpaceOnUse" x1="0" y1="360.80" x2="-10.96" y2="318.44"/>
<linearGradient id="eS5" href="#gc" gradientUnits="userSpaceOnUse" x1="0" y1="360.80" x2="-10.96" y2="318.44"/>
<linearGradient id="eS4" href="#gc" gradientUnits="userSpaceOnUse" x1="0" y1="359.13" x2="-10.96" y2="316.78"/>
<linearGradient id="eS3" href="#gc" gradientUnits="userSpaceOnUse" x1="0" y1="357.47" x2="-10.96" y2="315.11"/>
<linearGradient id="eS2" href="#gc" gradientUnits="userSpaceOnUse" x1="0" y1="355.81" x2="-10.96" y2="313.45"/>
<linearGradient id="eS1" href="#gc" gradientUnits="userSpaceOnUse" x1="0" y1="354.14" x2="-10.96" y2="311.79"/>
<linearGradient id="fF1" href="#gc" gradientUnits="userSpaceOnUse" x1="0" y1="214.37" x2="18.35" y2="175.51"/>
<linearGradient id="fS30" href="#gc" gradientUnits="userSpaceOnUse" x1="0" y1="449.66" x2="-10.48" y2="404.57"/>
<linearGradient id="fF2d" href="#gcd" gradientUnits="userSpaceOnUse" x1="0" y1="211.60" x2="18.35" y2="172.73"/>
<linearGradient id="fF3d" href="#gcd" gradientUnits="userSpaceOnUse" x1="0" y1="208.82" x2="18.35" y2="169.96"/>
<linearGradient id="fF4" href="#gc" gradientUnits="userSpaceOnUse" x1="0" y1="206.05" x2="18.35" y2="167.18"/>
<linearGradient id="fF5d" href="#gcd" gradientUnits="userSpaceOnUse" x1="0" y1="203.27" x2="18.35" y2="164.40"/>
<linearGradient id="fS29d" href="#gcd" gradientUnits="userSpaceOnUse" x1="0" y1="448.07" x2="-10.48" y2="402.98"/>
<linearGradient id="fS29" href="#gc" gradientUnits="userSpaceOnUse" x1="0" y1="448.07" x2="-10.48" y2="402.98"/>
<linearGradient id="fF3" href="#gc" gradientUnits="userSpaceOnUse" x1="0" y1="208.82" x2="18.35" y2="169.96"/>
<linearGradient id="fS28" href="#gc" gradientUnits="userSpaceOnUse" x1="0" y1="446.48" x2="-10.48" y2="401.39"/>
<linearGradient id="fF2" href="#gc" gradientUnits="userSpaceOnUse" x1="0" y1="211.60" x2="18.35" y2="172.73"/>
<linearGradient id="fS27d" href="#gcd" gradientUnits="userSpaceOnUse" x1="0" y1="444.90" x2="-10.48" y2="399.81"/>
<linearGradient id="fS27" href="#gc" gradientUnits="userSpaceOnUse" x1="0" y1="444.90" x2="-10.48" y2="399.81"/>
<linearGradient id="fF4d" href="#gcd" gradientUnits="userSpaceOnUse" x1="0" y1="206.05" x2="18.35" y2="167.18"/>
<linearGradient id="fS26" href="#gc" gradientUnits="userSpaceOnUse" x1="0" y1="443.31" x2="-10.48" y2="398.22"/>
<linearGradient id="fS26d" href="#gcd" gradientUnits="userSpaceOnUse" x1="0" y1="443.31" x2="-10.48" y2="398.22"/>
<linearGradient id="fF5" href="#gc" gradientUnits="userSpaceOnUse" x1="0" y1="203.27" x2="18.35" y2="164.40"/>
<linearGradient id="fS25" href="#gc" gradientUnits="userSpaceOnUse" x1="0" y1="441.72" x2="-10.48" y2="396.63"/>
<linearGradient id="fS25d" href="#gcd" gradientUnits="userSpaceOnUse" x1="0" y1="441.72" x2="-10.48" y2="396.63"/>
<linearGradient id="fS24d" href="#gcd" gradientUnits="userSpaceOnUse" x1="0" y1="440.14" x2="-10.48" y2="395.05"/>
<linearGradient id="fS24" href="#gc" gradientUnits="userSpaceOnUse" x1="0" y1="440.14" x2="-10.48" y2="395.05"/>
<linearGradient id="fS23" href="#gc" gradientUnits="userSpaceOnUse" x1="0" y1="438.55" x2="-10.48" y2="393.46"/>
<linearGradient id="fS22" href="#gc" gradientUnits="userSpaceOnUse" x1="0" y1="436.97" x2="-10.48" y2="391.88"/>
<linearGradient id="fS21" href="#gc" gradientUnits="userSpaceOnUse" x1="0" y1="435.38" x2="-10.48" y2="390.29"/>
<linearGradient id="fS20" href="#gc" gradientUnits="userSpaceOnUse" x1="0" y1="433.79" x2="-10.48" y2="388.70"/>
<linearGradient id="fS19d" href="#gcd" gradientUnits="userSpaceOnUse" x1="0" y1="432.21" x2="-10.48" y2="387.12"/>
<linearGradient id="fS19" href="#gc" gradientUnits="userSpaceOnUse" x1="0" y1="432.21" x2="-10.48" y2="387.12"/>
<linearGradient id="fS18d" href="#gcd" gradientUnits="userSpaceOnUse" x1="0" y1="430.62" x2="-10.48" y2="385.53"/>
<linearGradient id="fS18" href="#gc" gradientUnits="userSpaceOnUse" x1="0" y1="430.62" x2="-10.48" y2="385.53"/>
<linearGradient id="fS17d" href="#gcd" gradientUnits="userSpaceOnUse" x1="0" y1="429.03" x2="-10.48" y2="383.94"/>
<linearGradient id="fS17" href="#gc" gradientUnits="userSpaceOnUse" x1="0" y1="429.03" x2="-10.48" y2="383.94"/>
<linearGradient id="fS16d" href="#gcd" gradientUnits="userSpaceOnUse" x1="0" y1="427.45" x2="-10.48" y2="382.36"/>
<linearGradient id="fS15" href="#gc" gradientUnits="userSpaceOnUse" x1="0" y1="425.86" x2="-10.48" y2="380.77"/>
<linearGradient id="fS14" href="#gc" gradientUnits="userSpaceOnUse" x1="0" y1="424.27" x2="-10.48" y2="379.19"/>
<linearGradient id="fS13" href="#gc" gradientUnits="userSpaceOnUse" x1="0" y1="422.69" x2="-10.48" y2="377.60"/>
<linearGradient id="fS12" href="#gc" gradientUnits="userSpaceOnUse" x1="0" y1="421.10" x2="-10.48" y2="376.01"/>
<linearGradient id="fS11d" href="#gcd" gradientUnits="userSpaceOnUse" x1="0" y1="419.52" x2="-10.48" y2="374.43"/>
<linearGradient id="fS11" href="#gc" gradientUnits="userSpaceOnUse" x1="0" y1="419.52" x2="-10.48" y2="374.43"/>
<linearGradient id="fS10" href="#gc" gradientUnits="userSpaceOnUse" x1="0" y1="417.93" x2="-10.48" y2="372.84"/>
<linearGradient id="fS9d" href="#gcd" gradientUnits="userSpaceOnUse" x1="0" y1="416.34" x2="-10.48" y2="371.25"/>
<linearGradient id="fS9" href="#gc" gradientUnits="userSpaceOnUse" x1="0" y1="416.34" x2="-10.48" y2="371.25"/>
<linearGradient id="fS8d" href="#gcd" gradientUnits="userSpaceOnUse" x1="0" y1="414.76" x2="-10.48" y2="369.67"/>
<linearGradient id="fS7d" href="#gcd" gradientUnits="userSpaceOnUse" x1="0" y1="413.17" x2="-10.48" y2="368.08"/>
<linearGradient id="fS7" href="#gc" gradientUnits="userSpaceOnUse" x1="0" y1="413.17" x2="-10.48" y2="368.08"/>
<linearGradient id="fS6" href="#gc" gradientUnits="userSpaceOnUse" x1="0" y1="411.58" x2="-10.48" y2="366.50"/>
<linearGradient id="fS5" href="#gc" gradientUnits="userSpaceOnUse" x1="0" y1="410.00" x2="-10.48" y2="364.91"/>
<linearGradient id="fS4" href="#gc" gradientUnits="userSpaceOnUse" x1="0" y1="408.41" x2="-10.48" y2="363.32"/>
<linearGradient id="fS3d" href="#gcd" gradientUnits="userSpaceOnUse" x1="0" y1="406.83" x2="-10.48" y2="361.74"/>
<linearGradient id="fS3" href="#gc" gradientUnits="userSpaceOnUse" x1="0" y1="406.83" x2="-10.48" y2="361.74"/>
<linearGradient id="fS2" href="#gc" gradientUnits="userSpaceOnUse" x1="0" y1="405.24" x2="-10.48" y2="360.15"/>
<linearGradient id="fS1d" href="#gcd" gradientUnits="userSpaceOnUse" x1="0" y1="403.65" x2="-10.48" y2="358.56"/>
<linearGradient id="fS1" href="#gc" gradientUnits="userSpaceOnUse" x1="0" y1="403.65" x2="-10.48" y2="358.56"/>
<linearGradient id="gF1" href="#gc" gradientUnits="userSpaceOnUse" x1="0" y1="462.29" x2="16.97" y2="426.18"/>
<linearGradient id="gS30" href="#gc" gradientUnits="userSpaceOnUse" x1="0" y1="528.85" x2="-9.03" y2="486.70"/>
<linearGradient id="gF2" href="#gc" gradientUnits="userSpaceOnUse" x1="0" y1="459.89" x2="16.97" y2="423.78"/>
<linearGradient id="gF3d" href="#gcd" gradientUnits="userSpaceOnUse" x1="0" y1="457.50" x2="16.97" y2="421.39"/>
<linearGradient id="gF4" href="#gc" gradientUnits="userSpaceOnUse" x1="0" y1="455.10" x2="16.97" y2="418.99"/>
<linearGradient id="gF5d" href="#gcd" gradientUnits="userSpaceOnUse" x1="0" y1="452.71" x2="16.97" y2="416.60"/>
<linearGradient id="gS29" href="#gc" gradientUnits="userSpaceOnUse" x1="0" y1="527.32" x2="-9.03" y2="485.17"/>
<linearGradient id="gF2d" href="#gcd" gradientUnits="userSpaceOnUse" x1="0" y1="459.89" x2="16.97" y2="423.78"/>
<linearGradient id="gF5" href="#gc" gradientUnits="userSpaceOnUse" x1="0" y1="452.71" x2="16.97" y2="416.60"/>
<linearGradient id="gS28d" href="#gcd" gradientUnits="userSpaceOnUse" x1="0" y1="525.79" x2="-9.03" y2="483.65"/>
<linearGradient id="gS28" href="#gc" gradientUnits="userSpaceOnUse" x1="0" y1="525.79" x2="-9.03" y2="483.65"/>
<linearGradient id="gS27" href="#gc" gradientUnits="userSpaceOnUse" x1="0" y1="524.27" x2="-9.03" y2="482.12"/>
<linearGradient id="gS27d" href="#gcd" gradientUnits="userSpaceOnUse" x1="0" y1="524.27" x2="-9.03" y2="482.12"/>
<linearGradient id="gS26" href="#gc" gradientUnits="userSpaceOnUse" x1="0" y1="522.74" x2="-9.03" y2="480.59"/>
<linearGradient id="gS25d" href="#gcd" gradientUnits="userSpaceOnUse" x1="0" y1="521.21" x2="-9.03" y2="479.07"/>
<linearGradient id="gS25" href="#gc" gradientUnits="userSpaceOnUse" x1="0" y1="521.21" x2="-9.03" y2="479.07"/>
<linearGradient id="gF4d" href="#gcd" gradientUnits="userSpaceOnUse" x1="0" y1="455.10" x2="16.97" y2="418.99"/>
<linearGradient id="gS24" href="#gc" gradientUnits="userSpaceOnUse" x1="0" y1="519.69" x2="-9.03" y2="477.54"/>
<linearGradient id="gF3" href="#gc" gradientUnits="userSpaceOnUse" x1="0" y1="457.50" x2="16.97" y2="421.39"/>
<linearGradient id="gS23d" href="#gcd" gradientUnits="userSpaceOnUse" x1="0" y1="518.16" x2="-9.03" y2="476.01"/>
<linearGradient id="gS23" href="#gc" gradientUnits="userSpaceOnUse" x1="0" y1="518.16" x2="-9.03" y2="476.01"/>
<linearGradient id="gS22" href="#gc" gradientUnits="userSpaceOnUse" x1="0" y1="516.63" x2="-9.03" y2="474.49"/>
<linearGradient id="gS21" href="#gc" gradientUnits="userSpaceOnUse" x1="0" y1="515.11" x2="-9.03" y2="472.96"/>
<linearGradient id="gS20" href="#gc" gradientUnits="userSpaceOnUse" x1="0" y1="513.58" x2="-9.03" y2="471.43"/>
<linearGradient id="gS19" href="#gc" gradientUnits="userSpaceOnUse" x1="0" y1="512.05" x2="-9.03" y2="469.91"/>
<linearGradient id="gS19d" href="#gcd" gradientUnits="userSpaceOnUse" x1="0" y1="512.05" x2="-9.03" y2="469.91"/>
<linearGradient id="gS18d" href="#gcd" gradientUnits="userSpaceOnUse" x1="0" y1="510.53" x2="-9.03" y2="468.38"/>
<linearGradient id="gS18" href="#gc" gradientUnits="userSpaceOnUse" x1="0" y1="510.53" x2="-9.03" y2="468.38"/>
<linearGradient id="gS17" href="#gc" gradientUnits="userSpaceOnUse" x1="0" y1="509.00" x2="-9.03" y2="466.85"/>
<linearGradient id="gS16" href="#gc" gradientUnits="userSpaceOnUse" x1="0" y1="507.47" x2="-9.03" y2="465.33"/>
<linearGradient id="gS15d" href="#gcd" gradientUnits="userSpaceOnUse" x1="0" y1="505.95" x2="-9.03" y2="463.80"/>
<linearGradient id="gS15" href="#gc" gradientUnits="userSpaceOnUse" x1="0" y1="505.95" x2="-9.03" y2="463.80"/>
<linearGradient id="gS14" href="#gc" gradientUnits="userSpaceOnUse" x1="0" y1="504.42" x2="-9.03" y2="462.27"/>
<linearGradient id="gS13" href="#gc" gradientUnits="userSpaceOnUse" x1="0" y1="502.89" x2="-9.03" y2="460.75"/>
<linearGradient id="gS12" href="#gc" gradientUnits="userSpaceOnUse" x1="0" y1="501.37" x2="-9.03" y2="459.22"/>
<linearGradient id="gS11d" href="#gcd" gradientUnits="userSpaceOnUse" x1="0" y1="499.84" x2="-9.03" y2="457.69"/>
<linearGradient id="gS11" href="#gc" gradientUnits="userSpaceOnUse" x1="0" y1="499.84" x2="-9.03" y2="457.69"/>
<linearGradient id="gS10" href="#gc" gradientUnits="userSpaceOnUse" x1="0" y1="498.31" x2="-9.03" y2="456.16"/>
<linearGradient id="gS9d" href="#gcd" gradientUnits="userSpaceOnUse" x1="0" y1="496.79" x2="-9.03" y2="454.64"/>
<linearGradient id="gS9" href="#gc" gradientUnits="userSpaceOnUse" x1="0" y1="496.79" x2="-9.03" y2="454.64"/>
<linearGradient id="gS8" href="#gc" gradientUnits="userSpaceOnUse" x1="0" y1="495.26" x2="-9.03" y2="453.11"/>
<linearGradient id="gS7d" href="#gcd" gradientUnits="userSpaceOnUse" x1="0" y1="493.73" x2="-9.03" y2="451.58"/>
<linearGradient id="gS7" href="#gc" gradientUnits="userSpaceOnUse" x1="0" y1="493.73" x2="-9.03" y2="451.58"/>
<linearGradient id="gS6d" href="#gcd" gradientUnits="userSpaceOnUse" x1="0" y1="492.21" x2="-9.03" y2="450.06"/>
<linearGradient id="gS6" href="#gc" gradientUnits="userSpaceOnUse" x1="0" y1="492.21" x2="-9.03" y2="450.06"/>
<linearGradient id="gS5" href="#gc" gradientUnits="userSpaceOnUse" x1="0" y1="490.68" x2="-9.03" y2="448.53"/>
<linearGradient id="gS4" href="#gc" gradientUnits="userSpaceOnUse" x1="0" y1="489.15" x2="-9.03" y2="447.00"/>
<linearGradient id="gS4d" href="#gcd" gradientUnits="userSpaceOnUse" x1="0" y1="489.15" x2="-9.03" y2="447.00"/>
<linearGradient id="gS3" href="#gc" gradientUnits="userSpaceOnUse" x1="0" y1="487.63" x2="-9.03" y2="445.48"/>
<linearGradient id="gS2" href="#gc" gradientUnits="userSpaceOnUse" x1="0" y1="486.10" x2="-9.03" y2="443.95"/>
<linearGradient id="gS1" href="#gc" gradientUnits="userSpaceOnUse" x1="0" y1="484.57" x2="-9.03" y2="442.42"/>
<linearGradient id="hF1" href="#gc" gradientUnits="userSpaceOnUse" x1="0" y1="356.36" x2="18.51" y2="316.18"/>
<linearGradient id="hS30" href="#gc" gradientUnits="userSpaceOnUse" x1="0" y1="592.88" x2="-11.25" y2="546.92"/>
<linearGradient id="hF2" href="#gc" gradientUnits="userSpaceOnUse" x1="0" y1="353.78" x2="18.51" y2="313.59"/>
<linearGradient id="hF3d" href="#gcd" gradientUnits="userSpaceOnUse" x1="0" y1="351.20" x2="18.51" y2="311.01"/>
<linearGradient id="hF4" href="#gc" gradientUnits="userSpaceOnUse" x1="0" y1="348.62" x2="18.51" y2="308.43"/>
<linearGradient id="hF5" href="#gc" gradientUnits="userSpaceOnUse" x1="0" y1="346.03" x2="18.51" y2="305.85"/>
<linearGradient id="hS29" href="#gc" gradientUnits="userSpaceOnUse" x1="0" y1="591.24" x2="-11.25" y2="545.28"/>
<linearGradient id="hF5d" href="#gcd" gradientUnits="userSpaceOnUse" x1="0" y1="346.03" x2="18.51" y2="305.85"/>
<linearGradient id="hS29d" href="#gcd" gradientUnits="userSpaceOnUse" x1="0" y1="591.24" x2="-11.25" y2="545.28"/>
<linearGradient id="hS28" href="#gc" gradientUnits="userSpaceOnUse" x1="0" y1="589.60" x2="-11.25" y2="543.65"/>
<linearGradient id="hF2d" href="#gcd" gradientUnits="userSpaceOnUse" x1="0" y1="353.78" x2="18.51" y2="313.59"/>
<linearGradient id="hS28d" href="#gcd" gradientUnits="userSpaceOnUse" x1="0" y1="589.60" x2="-11.25" y2="543.65"/>
<linearGradient id="hF3" href="#gc" gradientUnits="userSpaceOnUse" x1="0" y1="351.20" x2="18.51" y2="311.01"/>
<linearGradient id="hS27d" href="#gcd" gradientUnits="userSpaceOnUse" x1="0" y1="587.97" x2="-11.25" y2="542.01"/>
<linearGradient id="hS27" href="#gc" gradientUnits="userSpaceOnUse" x1="0" y1="587.97" x2="-11.25" y2="542.01"/>
<linearGradient id="hS26d" href="#gcd" gradientUnits="userSpaceOnUse" x1="0" y1="586.33" x2="-11.25" y2="540.37"/>
<linearGradient id="hS26" href="#gc" gradientUnits="userSpaceOnUse" x1="0" y1="586.33" x2="-11.25" y2="540.37"/>
<linearGradient id="hS25" href="#gc" gradientUnits="userSpaceOnUse" x1="0" y1="584.70" x2="-11.25" y2="538.74"/>
<linearGradient id="hF4d" href="#gcd" gradientUnits="userSpaceOnUse" x1="0" y1="348.62" x2="18.51" y2="308.43"/>
<linearGradient id="hS25d" href="#gcd" gradientUnits="userSpaceOnUse" x1="0" y1="584.70" x2="-11.25" y2="538.74"/>
<linearGradient id="hS24" href="#gc" gradientUnits="userSpaceOnUse" x1="0" y1="583.06" x2="-11.25" y2="537.10"/>
<linearGradient id="hS24d" href="#gcd" gradientUnits="userSpaceOnUse" x1="0" y1="583.06" x2="-11.25" y2="537.10"/>
<linearGradient id="hS23" href="#gc" gradientUnits="userSpaceOnUse" x1="0" y1="581.42" x2="-11.25" y2="535.46"/>
<linearGradient id="hS23d" href="#gcd" gradientUnits="userSpaceOnUse" x1="0" y1="581.42" x2="-11.25" y2="535.46"/>
<linearGradient id="hS22" href="#gc" gradientUnits="userSpaceOnUse" x1="0" y1="579.79" x2="-11.25" y2="533.83"/>
<linearGradient id="hS21d" href="#gcd" gradientUnits="userSpaceOnUse" x1="0" y1="578.15" x2="-11.25" y2="532.19"/>
<linearGradient id="hS21" href="#gc" gradientUnits="userSpaceOnUse" x1="0" y1="578.15" x2="-11.25" y2="532.19"/>
<linearGradient id="hS20" href="#gc" gradientUnits="userSpaceOnUse" x1="0" y1="576.51" x2="-11.25" y2="530.56"/>
<linearGradient id="hS20d" href="#gcd" gradientUnits="userSpaceOnUse" x1="0" y1="576.51" x2="-11.25" y2="530.56"/>
<linearGradient id="hS19d" href="#gcd" gradientUnits="userSpaceOnUse" x1="0" y1="574.88" x2="-11.25" y2="528.92"/>
<linearGradient id="hS19" href="#gc" gradientUnits="userSpaceOnUse" x1="0" y1="574.88" x2="-11.25" y2="528.92"/>
<linearGradient id="hS18" href="#gc" gradientUnits="userSpaceOnUse" x1="0" y1="573.24" x2="-11.25" y2="527.28"/>
<linearGradient id="hS18d" href="#gcd" gradientUnits="userSpaceOnUse" x1="0" y1="573.24" x2="-11.25" y2="527.28"/>
<linearGradient id="hS17d" href="#gcd" gradientUnits="userSpaceOnUse" x1="0" y1="571.60" x2="-11.25" y2="525.65"/>
<linearGradient id="hS17" href="#gc" gradientUnits="userSpaceOnUse" x1="0" y1="571.60" x2="-11.25" y2="525.65"/>
<linearGradient id="hS16" href="#gc" gradientUnits="userSpaceOnUse" x1="0" y1="569.97" x2="-11.25" y2="524.01"/>
<linearGradient id="hS16d" href="#gcd" gradientUnits="userSpaceOnUse" x1="0" y1="569.97" x2="-11.25" y2="524.01"/>
<linearGradient id="hS15" href="#gc" gradientUnits="userSpaceOnUse" x1="0" y1="568.33" x2="-11.25" y2="522.37"/>
<linearGradient id="hS15d" href="#gcd" gradientUnits="userSpaceOnUse" x1="0" y1="568.33" x2="-11.25" y2="522.37"/>
<linearGradient id="hS14d" href="#gcd" gradientUnits="userSpaceOnUse" x1="0" y1="566.69" x2="-11.25" y2="520.74"/>
<linearGradient id="hS14" href="#gc" gradientUnits="userSpaceOnUse" x1="0" y1="566.69" x2="-11.25" y2="520.74"/>
<linearGradient id="hS13d" href="#gcd" gradientUnits="userSpaceOnUse" x1="0" y1="565.06" x2="-11.25" y2="519.10"/>
<linearGradient id="hS13" href="#gc" gradientUnits="userSpaceOnUse" x1="0" y1="565.06" x2="-11.25" y2="519.10"/>
<linearGradient id="hS12d" href="#gcd" gradientUnits="userSpaceOnUse" x1="0" y1="563.42" x2="-11.25" y2="517.46"/>
<linearGradient id="hS11d" href="#gcd" gradientUnits="userSpaceOnUse" x1="0" y1="561.78" x2="-11.25" y2="515.83"/>
<linearGradient id="hS10" href="#gc" gradientUnits="userSpaceOnUse" x1="0" y1="560.15" x2="-11.25" y2="514.19"/>
<linearGradient id="hS10d" href="#gcd" gradientUnits="userSpaceOnUse" x1="0" y1="560.15" x2="-11.25" y2="514.19"/>
<linearGradient id="hS9" href="#gc" gradientUnits="userSpaceOnUse" x1="0" y1="558.51" x2="-11.25" y2="512.55"/>
<linearGradient id="hS9d" href="#gcd" gradientUnits="userSpaceOnUse" x1="0" y1="558.51" x2="-11.25" y2="512.55"/>
<linearGradient id="hS8d" href="#gcd" gradientUnits="userSpaceOnUse" x1="0" y1="556.87" x2="-11.25" y2="510.92"/>
<linearGradient id="hS8" href="#gc" gradientUnits="userSpaceOnUse" x1="0" y1="556.87" x2="-11.25" y2="510.92"/>
<linearGradient id="hS7" href="#gc" gradientUnits="userSpaceOnUse" x1="0" y1="555.24" x2="-11.25" y2="509.28"/>
<linearGradient id="hS6" href="#gc" gradientUnits="userSpaceOnUse" x1="0" y1="553.60" x2="-11.25" y2="507.64"/>
<linearGradient id="hS6d" href="#gcd" gradientUnits="userSpaceOnUse" x1="0" y1="553.60" x2="-11.25" y2="507.64"/>
<linearGradient id="hS5d" href="#gcd" gradientUnits="userSpaceOnUse" x1="0" y1="551.96" x2="-11.25" y2="506.01"/>
<linearGradient id="hS5" href="#gc" gradientUnits="userSpaceOnUse" x1="0" y1="551.96" x2="-11.25" y2="506.01"/>
<linearGradient id="hS4" href="#gc" gradientUnits="userSpaceOnUse" x1="0" y1="550.33" x2="-11.25" y2="504.37"/>
<linearGradient id="hS4d" href="#gcd" gradientUnits="userSpaceOnUse" x1="0" y1="550.33" x2="-11.25" y2="504.37"/>
<linearGradient id="hS3d" href="#gcd" gradientUnits="userSpaceOnUse" x1="0" y1="548.69" x2="-11.25" y2="502.73"/>
<linearGradient id="hS3" href="#gc" gradientUnits="userSpaceOnUse" x1="0" y1="548.69" x2="-11.25" y2="502.73"/>
<linearGradient id="hS2" href="#gc" gradientUnits="userSpaceOnUse" x1="0" y1="547.06" x2="-11.25" y2="501.10"/>
<linearGradient id="hS1d" href="#gcd" gradientUnits="userSpaceOnUse" x1="0" y1="545.42" x2="-11.25" y2="499.46"/>
<linearGradient id="hS1" href="#gc" gradientUnits="userSpaceOnUse" x1="0" y1="545.42" x2="-11.25" y2="499.46"/>
</defs>
<rect width="426" height="550" fill="#fff"/>
<path d="M39.4 78.3L122.5 56.2M122.5 56.2L122.5 15.9M55.2 85.8L138.3 63.6M138.3 63.6L138.3 23.3M71 93.2L154.1 71.1M154.1 71.1L154.1 30.8M86.8 100.7L169.9 78.6M169.9 78.6L169.9 38.3M51.3 63.4L114.5 93.3M51.3 63.4L51.3 23.1M79 56.1L142.2 86M79 56.1L79 15.8M106.7 48.7L169.9 78.6M106.7 48.7L106.7 8.4M23.6 70.8L106.7 48.7M106.7 48.7L169.9 78.6M23.6 62.7L106.7 40.6M106.7 40.6L169.9 70.5M23.6 54.7L106.7 32.6M106.7 32.6L169.9 62.5M23.6 46.6L106.7 24.5M106.7 24.5L169.9 54.4M23.6 38.6L106.7 16.5M106.7 16.5L169.9 46.4M23.6 30.5L106.7 8.4M106.7 8.4L169.9 38.3M106.7 48.7L106.7 8.4M169.9 78.6L169.9 38.3M23.6 30.5L106.7 8.4M106.7 8.4L169.9 38.3" stroke="#e6e6e6" stroke-width="0.3" fill="none"/>
<path d="M23.6 70.8L23.6 30.5M23.6 70.8L86.8 100.7M86.8 100.7L169.9 78.6M23.6 70.8L24.5 70.5M23.6 62.7L24.5 62.5M23.6 54.7L24.5 54.4M23.6 46.6L24.5 46.4M23.6 38.6L24.5 38.3M23.6 30.5L24.5 30.2M39.4 78.3L41.9 77.6M55.2 85.8L57.7 85.1M71 93.2L73.5 92.6M86.8 100.7L89.3 100M114.5 93.3L113.6 92.9M142.2 86L141.3 85.5M169.9 78.6L169 78.2" stroke="#9a9a9a" stroke-width="0.35" fill="none"/>
<g stroke="rgba(0,0,0,0.5)" stroke-width="0.25" stroke-linejoin="round"><path fill="url(#aF1)" d="M73.3 93.1v-4.6l-1.3-.6v4.6zM71.7 92.3v-4.1l-1.2-.6v4.1zM70.1 91.6v-2.8l-1.2-.6v2.8zM68.6 90.8v-2l-1.3-.6v2zM67 90.1v-2.3l-1.3-.6v2.3zM65.4 89.3v-3.7l-1.3-.6v3.7zM63.8 88.6v-3.1l-1.2-.5v3zM62.2 87.8v-3.1l-1.2-.6v3.2zM60.7 87.1v-4.3l-1.3-.6v4.3zM59.1 86.4v-3.3l-1.3-.6v3.3zM57.5 85.6v-3.8l-1.3-.6v3.8zM55.9 84.9v-4.3l-1.3-.6v4.3zM54.3 84.1v-2.1l-1.2-.6v2.1zM52.8 83.4v-4.3l-1.3-.6v4.3zM51.2 82.6v-2.2l-1.3-.6v2.2zM49.6 81.9v-4.6l-1.3-.6v4.6zM48 81.1v-1.8l-1.3-.6v1.8zM46.4 80.4v-3.3l-1.2-.6v3.3zM44.9 79.6v-2.8l-1.3-.6v2.8zM43.3 78.9v-4.1l-1.3-.6v4.1zM41.7 78.1v-2.4l-1.3-.6v2.4zM40.1 77.4v-2.2l-1.3-.6v2.2zM38.5 76.6v-3.1l-1.2-.6v3.1zM37 75.9v-4.4l-1.3-.6v4.4zM35.4 75.1v-4.1l-1.3-.6v4.1zM33.8 74.4v-3.5l-1.3-.6v3.5zM32.2 73.6v-4.5l-1.2-.6v4.5zM30.6 72.9v-4.2l-1.2-.6v4.2zM29.1 72.2v-2.2l-1.3-.6v2.2zM27.5 71.4v-13.3l-1.3-.6v13.3z"/><path fill="url(#aS30)" d="M75.5 92.5v-4.6l-2.2.6v4.6zM78.3 91.8v-13.9l-2.2.6v13.8zM81.1 91v-15.8l-2.3.6v15.8zM83.8 90.3v-17.2l-2.2.6v17.2zM86.6 89.5v-19l-2.2.6v19zM89.4 88.8v-20.7l-2.3.6v20.7zM92.1 88.1v-22.6l-2.2.6v22.6zM94.9 87.3v-24.8l-2.2.6v24.8zM97.7 86.6v-27.5l-2.2.6v27.5zM100.4 85.9v-27.6l-2.2.6v27.6zM103.2 85.1v-27.4l-2.2.6v27.4zM106 84.4v-27.5l-2.2.6v27.5zM108.8 83.7v-27.5l-2.3.6v27.4zM111.5 82.9v-27.4l-2.2.5v27.5zM114.3 82.2v-27.5l-2.2.6v27.5zM117.1 81.4v-27.4l-2.3.6v27.4zM119.8 80.7v-27.5l-2.2.6v27.5zM122.6 80v-27.3l-2.2.5v27.4zM125.4 79.2v-27.5l-2.2.6v27.5zM128.1 78.5v-27.5l-2.2.6v27.5zM130.9 77.8v-27.3l-2.2.6v27.2zM133.7 77v-27.3l-2.2.5v27.4zM136.4 76.3v-27.3l-2.2.6v27.3zM139.2 75.5v-27.3l-2.2.6v27.3zM142 74.8v-27.5l-2.2.6v27.5zM144.8 74.1v-27.3l-2.3.6v27.3zM147.5 73.3v-27.3l-2.2.6v27.3zM150.3 72.6v-27.3l-2.2.6v27.3zM153.1 71.9v-27.5l-2.2.6v27.5z"/><path fill="url(#aF2)" d="M76.1 92.3v-13.8l-1.3-.6v9.7l.7.3v4.2zM74.5 83.4l-1.3-.6v4.5l.4.2.6-.2.3.1zM72.9 81.8l-1.3-.6v6.1l1.1-.3.2.1zM71.3 80.8l-1.2-.6v7.7l.4-.1v-.2l.8-.2zM69.7 75.5l-1.2-.6v12l.7.3v.5l.3-.1.2.1zM68.2 82.2l-1.3-.6v3.1l.7.3v1.7l.3-.1.3.1zM66.6 78.8l-1.3-.6v6.4l.1.1.9-.3.3.1zM65 81.5l-1.3-.6v2.9l.7.3v.3h.4l.2.1zM63.4 76.7l-1.2-.6v5.8l.7.3v1.4l.3-.1.2.1zM61.8 81.1l-1.2-.6v1.4l1-.3.2.1zM60.3 79.5l-1.3-.6v2l.7.3v.8l.3-.1.3.1zM58.7 73.8l-1.3-.6v6.4l.7.4v.7l.3-.1.3.1zM57.1 61.2l-1.3-.6v19l1.1-.2.2.1zM55.5 76.4l-1.2-.6v2.4l.7.3v1.4l.5-.2zM53.9 76.6l-1.2-.6v2.2l1-.3.2.1zM52.4 75.3l-1.3-.6v1.6l.7.4v1.7l.6-.2zM50.8 75.9l-1.3-.6v1l1-.2.3.1zM49.2 74.2l-1.3-.6v2.5l.8.4v.1l.5-.2zM47.6 73.5l-1.2-.6v3l.3.2.7-.2.2.1zM46 59.6l-1.2-.6v14.9l.7.3v1.5l.3-.1.2.1zM44.5 69.2l-1.3-.6v5.3l1-.3.3.2zM42.9 66.8l-1.3-.6v8l.4.2v-.2l.9-.2zM41.3 71.4l-1.3-.6v1.8l.8.3v1.2l.3-.1.2.1zM39.7 56.8l-1.2-.6v14.3l.7.4v1.5l.3-.1.2.1zM38.1 66.5l-1.2-.6v4.2l.6.3.4-.1.2.1zM36.6 63.6l-1.3-.6v7l.2.1.8-.2.3.1zM35 68.6l-1.3-.6v.2l.7.3v1.3l.3-.1.3.2zM33.4 52.2l-1.3-.6v16.2l.6.3.5-.2.2.1zM31.8 51.1l-1.2-.6v17.3l1-.3.2.2zM30.2 48.7l-1.2-.6v9.1l.7.3v10.5l.5-.1z"/><path fill="url(#aF3)" d="M78.8 91.6v-15.8l-1.2-.6v2.4l.7.3v13.4zM72.5 72.9l-1.3-.6v2.3l.8.3v4.8l.3-.1.2.1zM67.8 76.8l-1.3-.6v1.7l1-.3.3.1zM59.9 58.4l-1.3-.6v2.4l.7.4v12.1h.3l.3.1zM55.1 72.7l-1.2-.6v2.3l.7.3v.8l.3-.1.2.1zM53.6 67.9l-1.3-.6v7.1l1-.3.3.1zM52 67l-1.3-.6v6.9l.7.3v1l.6-.1zM50.4 68.1l-1.3-.6v5.1l.7.3v.2l.4-.1.2.1zM48.8 56.5l-1.2-.6v2.7l.7.4v13.4l.3-.1.2.2zM42.5 52.5l-1.3-.6v4l.7.3v9.9l.6-.2zM36.2 47.6l-1.3-.6v4.3l.7.4v11.2l.6-.2zM34.6 46l-1.3-.6v4.8l.7.3v.6h.4l.2.1zM33 44.7l-1.2-.6v3.6l.7.4v1.9l.3-.1.2.1z"/><path fill="url(#aF4)" d="M81.6 90.9v-17.2l-1.3-.6v1.8l.8.3v15.4zM75.3 69.9l-1.3-.6v2.6l.7.4v5.6l.6-.1zM65.8 74.8l-1.3-.6v1.4l1.1.5v.2h.2zM64.2 73.8l-1.2-.6v2.5l.2.1 1-.2zM62.6 57.7l-1.2-.6v.4l.7.3v17.7h.3l.2.1zM53.2 63.5l-1.3-.6v3.2l1-.3.3.1zM51.6 53.4l-1.3-.6v2.7l.7.4v10.4l.6-.1zM45.3 48.4l-1.3-.6v3.8l.7.3v12h.1v-4.9l.5-.2zM38.9 42.8l-1.2-.6v4.5l.7.3v15.8h.1v-6.6l.4-.1zM37.4 42.1l-1.3-.6v3.6l.7.4v1l.3-.1.3.1zM35.8 41l-1.3-.6v3.4l.7.4v.7h.3l.3.1z"/><path fill="url(#aF5)" d="M84.4 90.1v-19l-1.3-.6v2.3l.7.3v16.8zM78.1 66.8l-1.3-.6v2.7l.7.4v8.2l.1-.1v-2.2l.5-.1zM76.5 68.8l-1.3-.6v.8l1-.3zM72 72.1l1-.3-1-.5zM70.2 70.1l-1.3-.6v4.9l1.3-.4zM68.6 71l-1.3-.6v3.4l.7.4v1.3h.1v-.9l.5-.2zM67 69.1l-1.3-.6v4.3l.7.4v.5l.4-.1.2.1zM65.4 55.5l-1.2-.6v1.8l.7.4v15.6l.3-.1.2.1zM54.4 50.8l-1.3-.6v2.3l.7.3v9.6l.3-.1.3.1zM49.6 55.1l-1.2-.6v1.2l1.2-.4zM48 44.5l-1.2-.6v3.6l.7.3v10.7l.1-.1v-2.5l.4-.2zM41.7 38.8l-1.3-.6v3.7l.8.3v10.6v-.9l.5-.1zM40.1 37.6l-1.2-.6v4.2l.7.4v.1l.3-.1.2.1zM38.6 36.2l-1.3-.6v4.5l.7.4v.5h.3l.3.1z"/><path fill="url(#aF6)" d="M87.1 89.4v-20.7l-1.2-.6v2.1l.7.3v18.6zM84 69.5l-1.3-.6v3.7l.4.2v-2.3l.9-.2zM80.8 63.9l-1.2-.6v2.5l.7.4v8.6v.1v-1.8l.5-.1zM71.3 68l-1.2-.5v1.7l1-.3.2.2zM68.2 53.7l-1.3-.6v1.5l.7.3v13.1l.3-.1.3.2zM57.1 47.2l-1.2-.6v3.2l.7.4v10.2l.5-.2zM50.8 40.1l-1.3-.6v4.1l.8.3v10.1v-1.2l.5-.1zM46.1 46.8l-1.3-.6v1.4l1.3-.4zM44.5 34.7l-1.3-.6v3.8l.7.3v13.3l.1.1v-3.8l.5-.1zM42.9 33l-1.3-.6v4.3l.8.3v.7h.3l.2.1zM41.3 32.7l-1.2-.6v3.2l.7.3v.9l.3-.1.2.1z"/><path fill="url(#aF7)" d="M89.9 88.7v-22.6l-1.3-.6v2.3l.8.3v20.3zM83.6 61.9l-1.3-.6v1.7l.7.3v5.6l.6-.2zM77.3 65.1l-1.3-.6v3.4l.4-.1v-1.2l.4-.1v-.3l.5-.2zM74.1 63.8l-1.3-.6v3.9l.8.4v3.4l.4-.1v-1.5l.1-.1zM71 52.2l-1.3-.6v1.1l.7.4v14.3l.6-.2zM59.9 44.7l-1.3-.6v2.1l.7.4v11l.6-.1zM53.6 34.9l-1.3-.6v4.9l.7.3v13h.1v-2.3l.5-.2zM47.3 29.2l-1.3-.6v5.2l.7.3v11.6h.1v-1.8l.5-.1zM45.7 28.4l-1.3-.6v4.3l.7.3v1.2l.3-.1.3.1zM44.1 27.5l-1.3-.6v4.9l.4.2.7-.2.2.1z"/><path fill="url(#aF8)" d="M92.7 87.9v-24.8l-1.3-.6v2.6l.7.4v22.2zM87.9 67.2l-1.2-.6v1.3l1.2-.3zM86.4 58.6l-1.3-.6v3l.7.3v7.5h.1v-.7l.5-.1zM81.6 61.9l-1.2-.6v1.8l1.2-.4zM80 61.5l-1.2-.6v3.3l.7.3v1h.1v-2.2l.4-.1zM78.5 59.3l-1.3-.6v5.5l1-.3.3.2zM73.7 49.4l-1.2-.6v2.5l.7.3v11.5l.5-.1zM62.7 41.5l-1.3-.6v2.9l.7.3v12.8l.6-.2zM56.3 33.9l-1.2-.6v.6l.7.4v13.2h.1v-.9l.4-.2zM51.6 36.6l-1.3-.6v3.3l1.3-.3zM50 28.6l-1.2-.6v.3l.7.3v15v-4.1l.5-.1zM48.4 27.5l-1.2-.6v.6l.7.3v.3l.3-.1.2.1zM46.9 26.8l-1.3-.6v.4l.7.3v.4l.3-.1.3.1z"/><path fill="url(#aF9)" d="M95.5 87.2v-27.5l-1.3-.6v3.1l.7.3v24.4zM89.1 56.2l-1.2-.6v2.1l.7.3v8.1v-.6l.5-.2zM84.4 58.1l-1.3-.6v3.4l.3.2 1-.3zM81.2 58.6l-1.2-.6v.4l.7.3v1.7l.3-.1.2.1zM76.8 58v6.3l.4-.1v-5.5l.7-.2zM76.5 47.1l-1.3-.6v2l.7.3v14.2l.4.2v1.2h.2zM70.2 49.8l-1.3-.6v3.3h.2l.6.2v-1.1l.5-.1zM68.6 51l-1.3-.6v2.6l1.3-.4zM65.4 36.7l-1.2-.6v4.5l.7.3v13.8l.5-.1zM59.1 33.4l-1.3-.6v.2l.8.3v12.9v-2.1l.5-.1zM52.8 27.6l-1.3-.6v.6l.7.4v7.5l.1-.1v-1.1l.5-.2zM51.2 27l-1.2-.6v.2l.7.4v.5l.3-.1.2.1zM49.6 26.4l-1.2-.6v.1l.7.3v.2h.3l.2.1z"/><path fill="url(#aF10)" d="M98.2 86.5v-27.6l-1.2-.6v.5l.7.3v27.1zM93.5 61.8l-1.3-.6v1.1l1.3-.3zM91.9 54.2l-1.3-.6v1.7l.8.3v9.5v-2.6l.5-.1zM88.7 54.9l-1.2-.6v3.2l.4.2v-2.1l.8-.3zM87.2 56l-1.3-.6v1.8l.7.3v.1l.6-.1zM82.4 55.4l-1.2-.6v2.9l1-.3.2.1zM80.8 56.6l-1.2-.6v1.6l.6.3.6-.1zM79.3 43.7l-1.3-.6v3l.7.4v11l.3-.1.3.1zM68.2 35.9l-1.3-.6v.4l.7.4v14.2l.6-.2zM63.5 39l-1.3-.6v2.3l1.3-.4zM61.9 32.6l-1.3-.6v.4l.7.4v9l.1-.1v-.8l.5-.1zM55.6 27.1l-1.3-.6v.2l.7.3v6.9h.1v-.6l.5-.1zM54 26.2l-1.3-.6v.5l.7.4.3-.1.3.1zM52.4 25.5l-1.3-.6v.6l.8.3v.1l.3-.1.2.2z"/><path fill="url(#aF11)" d="M101 85.7v-27.4l-1.3-.6v.3l.7.3v27.2zM94.7 50.9l-1.3-.6v3l.7.3v6.9h.1v-1.4l.5-.1zM93.1 52.8l-1.3-.6v1.1l1.1-.3.2.1zM86.8 52.6l-1.3-.6v5l.4.2v-1.8l.9-.3zM82 42.9l-1.2-.6v.5l.7.3v11.6l.5-.2zM76 45.4v.9l1.1-.3zM75.7 46.1l-1.3-.6v2.8l.3-.1.5.3v-2l.5-.2zM74.1 46.9l-1.2-.6v2.4l1.2-.3zM72.6 46.8l-1.3-.6v2.5l1.1.5v2l.1.1v-2.5h.1zM71 35.2l-1.3-.6v.3l.7.4v13.5l.6-.2zM64.7 31.8l-1.3-.6v.4l.7.4v5.9l.1-.1v-1.7l.5-.2zM58.3 26.3l-1.2-.6v.5l.7.3v6.4v.1v-.2l.5-.2zM56.8 25.4l-1.3-.6v.5l.7.3v.4l.3-.1.3.1zM55.2 24.9l-1.3-.6v.3l.7.4v.1l.3-.1.3.1z"/><path fill="url(#aF12)" d="M103.8 85v-27.5l-1.3-.6v.5l.7.3v27zM97.4 47.2l-1.2-.6v3.3l.7.4v8.5h.1v-.5l.4-.1zM93 51.9l.4-.1v-1.5l.8-.2-1.2-.6zM84.8 42.4l-1.3-.6v.2l.7.3v12.3l.4.2v2.3l.2-.1zM73.7 34.6l-1.2-.6v.3l.7.3v11.1h.3l.2.1zM67.4 31l-1.2-.6v.4l.7.4v4.5v-.4l.5-.2zM61.1 25.7l-1.3-.6v.2l.8.4v6.7v-.4l.5-.2zM59.5 24.6l-1.2-.6v.5l.7.3v.3h.3l.2.1zM57.9 24.2l-1.2-.6v.4l.7.3.3-.1.2.2z"/><path fill="url(#aF13)" d="M106.5 84.2v-27.4l-1.2-.6v.4l.7.3v27.1zM100.2 43.4l-1.2-.6v3.5l.7.3v11.4v-.3l.5-.1zM95.5 47.9l-1.3-.6v1.9l1-.3.3.1zM90.7 47.5l-1.2-.6v6.8l1.1.5v-.6h.1zM87.6 41.5l-1.3-.6v.6l.7.3v9.8l.6-.2zM76.5 33.9l-1.3-.6v.4l.8.3v11.1l.5-.2zM70.2 30.5l-1.3-.6v.2l.7.3v4.5h.1v-.3l.5-.1zM63.9 24.7l-1.3-.6v.7l.7.3v6.5h.1v-.4l.5-.2zM62.3 23.8l-1.3-.6v.5l.7.3v.6l.4-.1.2.1zM60.7 23.2l-1.3-.6v.7l.6.2.5-.1.2.1z"/><path fill="url(#aF14)" d="M109.3 83.5v-27.5l-1.3-.6v.5l.8.3v27zM103 42.7l-1.3-.6v.4l.7.3v14.6h.1v-.5l.5-.1zM98.2 45.8l-1.2-.6v1.2l1.2-.3zM96.7 45.6l-1.3-.6v2l.8-.2v-.2l.5-.1zM95.1 46l-1.3-.6v3.9l.4-.1v-1.9l.9-.2zM93.5 46.8l-1.3-.6v.3l.8.4v5v-2.4l.5-.1zM90.3 41l-1.2-.6v.2l.7.3v5.9l.5-.2zM79.3 33.2l-1.3-.6v.4l.7.3v9.6l.6-.1zM73 29.6l-1.3-.6v.6l.7.3v4.3l.1.1v-.3l.5-.1zM66.6 24.2l-1.2-.6v.2l.7.3v6.7h.1v-.4l.4-.1zM65.1 23.5l-1.3-.6.7.4v.3l.3-.1.3.1zM63.5 22.6l-1.3-.6v.3l.7.4h.3l.3.1z"/><path fill="url(#aF15)" d="M112.1 82.8v-27.5l-1.3-.6v.4l.7.4v27zM105.8 42l-1.3-.6v.3l.7.4v14.4l.1.1v-.4l.5-.1zM93.1 40.2l-1.3-.6v.5l.8.3v5.3l.3-.1.2.1zM82.1 32.1l-1.3-.6v.8l.7.3v9.5l.6-.1zM75.7 29.1l-1.2-.6v.2l.7.4v4.5v.1v-.4l.5-.1zM69.4 23.5l-1.2-.6v.3l.7.4v6.5v-.2l.5-.1zM67.8 22.5l-1.2-.6v.6l.7.4v.2l.3-.1.2.1zM66.3 21.7l-1.3-.6v.6l.7.3v.4l.3-.1.3.1z"/><path fill="url(#aF16)" d="M114.8 82v-27.4l-1.2-.6v.4l.7.3v27.1zM108.5 41.1l-1.2-.6v.6l.7.4v14.3v.1v-.5l.5-.1zM95.9 39.4l-1.3-.6v.5l.7.3v5.4l.6-.2zM84.8 31.7l-1.2-.6v.1l.7.3v10.1l.5-.1zM78.5 28.1l-1.3-.6v.6l.8.4v4.5v-.4l.5-.1zM72.2 22.5l-1.3-.6v.7l.7.3v6.7h.1v-.6l.5-.1zM70.6 21.9l-1.3-.6v.3l.8.3v.5l.3-.1.2.1zM69 21l-1.2-.6v.4l.7.3v.3l.3-.1.2.2z"/><path fill="url(#aF17)" d="M117.6 81.3v-27.5l-1.2-.6v.4l.7.4v27zM111.3 40.4l-1.3-.6v.4l.7.3v14.6h.1v-.4l.5-.1zM98.7 38.8l-1.3-.6v.3l.7.3v5.7l.6-.2zM87.6 30.7l-1.3-.6v.7l.7.3v9.6l.6-.2zM81.3 27.5l-1.3-.6v.3l.7.3v4.7l.1.1v-.8l.5-.1zM75 21.8l-1.3-.6v.3l.7.4v6.8h.1v-.2l.5-.2zM73.4 20.9l-1.3-.6v.7l.7.3v.1l.3-.1.3.1zM71.8 20.2l-1.3-.6v.5l.7.3v.4l.4-.1.2.1z"/><path fill="url(#aF18)" d="M120.4 80.6v-27.4l-1.3-.6v.3l.7.3v27.1zM114.1 39.8l-1.3-.6v.3l.7.3v14.6h.1v-.4l.5-.2zM101.4 37.9l-1.2-.6v.6l.7.3v4.1l.3-.1.2.1zM90.4 29.9l-1.3-.6v.5l.7.3v10.1l.6-.1zM84 26.8l-1.2-.6v.4l.7.3v4.3h.1v-.1l.4-.1zM77.7 21.2l-1.2-.6v.2l.7.4v6.9v-.6l.5-.1zM76.1 20.5l-1.2-.6.7.4v.4l.3-.1.2.1zM74.6 19.7l-1.3-.6v.2l.7.3v.2l.3-.1.3.1z"/><path fill="url(#aF19)" d="M123.2 79.8v-27.5l-1.3-.6v.6l.7.4v26.9zM116.8 39.1l-1.2-.6v.4l.7.3v14.4h.1v-.4l.4-.1zM104.2 37l-1.3-.6v.5l.7.4v4.3l.3-.1.3.1zM93.1 29.2l-1.2-.6v.4l.7.4v10l.5-.2zM86.8 25.8l-1.2-.6v.7l.7.4v4.5v-.7l.5-.1zM80.5 20.5l-1.3-.6v.4l.7.3v6.6h.1v-.3l.5-.1zM78.9 19.7l-1.3-.6v.5l.8.3v.2l.3-.1.2.1zM77.3 18.9l-1.2-.6v.5l.7.3v.3l.3-.1.2.1z"/><path fill="url(#aF20)" d="M125.9 79.1v-27.5l-1.2-.6v.4l.7.3v27.1zM119.6 38l-1.3-.6v.7l.7.4v14.3l.1.1v-.3l.5-.1zM107 36.5l-1.3-.6v.2l.7.4v4.4h.3l.3.1zM95.9 28.5l-1.3-.6v.4l.8.3v10l.5-.1zM89.6 25.3l-1.3-.6v.2l.7.3v4.5l.1.1v-.5l.5-.1zM83.3 19.5l-1.3-.6v.6l.7.4v6.6l.1.1v-.4l.5-.1zM81.7 18.7l-1.3-.6v.7l.7.3v.2h.3l.3.1zM80.1 18.2l-1.3-.6v.4l.8.3v.3l.3-.1.2.1z"/><path fill="url(#aF21)" d="M128.7 78.3v-27.2l-1.3-.6v.1l.7.4v27.1zM122.4 37.4l-1.3-.6v.3l.7.3v14.9h.1v-.6l.5-.1zM109.7 35.6l-1.2-.6v.5l.7.4v4.1l.3-.1.2.1zM98.7 27.8l-1.3-.6v.4l.7.3v10.1l.6-.1zM92.4 24.6l-1.3-.6v.4l.7.3v4.3h.1v-.4l.5-.1zM86 18.8l-1.2-.6v.4l.7.3v7h.1v-.7l.4-.1zM84.5 18l-1.3-.6v.4l.7.3v.3l.3-.1.3.1zM82.9 17.4l-1.3-.6v.5l.7.3.3-.1.3.1z"/><path fill="url(#aF22)" d="M131.5 77.6v-27.4l-1.3-.5v.4l.7.4v26.8zM125.1 36.6l-1.2-.6v.4l.7.4v14.5l.1.1v-.4l.4-.2zM112.5 34.9l-1.3-.6v.4l.8.3v4.3l.2-.1.3.1zM101.4 27.2l-1.2-.6v.3l.7.3v9.9l.5-.2zM95.1 23.9l-1.2-.6v.4l.7.3v4.3v-.4l.5-.1zM88.8 18l-1.3-.6v.5l.7.3v6.7h.1v-.2l.5-.1zM87.2 17.5l-1.2-.6v.1l.7.4v.3l.3-.1.2.2zM85.6 16.5l-1.2-.6v.6l.7.3h.3l.2.1z"/><path fill="url(#aF23)" d="M134.2 76.9v-27.3l-1.2-.6v.3l.7.4v26.9zM127.9 35.9l-1.3-.6v.3l.8.4v14.6v-.1l.5-.2zM115.3 34.3l-1.3-.6v.3l.7.3v4.4l.3-.1.3.1zM104.2 26.4l-1.2-.6v.4l.7.4v9.6l.5-.1zM97.9 23l-1.3-.6v.6l.7.3v4.3h.1v-.4l.5-.1zM91.6 17.3l-1.3-.6v.3l.7.4v7h.1v-.4l.5-.1zM90 16.8l-1.3-.6v.4l.7.3.4-.1.2.1zM88.4 15.7l-1.2-.6v.5l.7.4v.4l.3-.1.2.1z"/><path fill="url(#aF24)" d="M137 76.1v-27.3l-1.3-.6v.5l.7.3v26.9zM130.7 35.1l-1.3-.6v.5l.7.3v14.8h.1v-.4l.5-.2zM118 33.6l-1.2-.6v.4l.7.3v4.2h.3l.2.1zM107 25.7l-1.3-.6v.4l.7.3v9.9l.6-.2zM100.7 22.3l-1.3-.6v.4l.7.3v4.4l.1.1v-.3l.5-.2zM94.3 16.6l-1.2-.6v.3l.7.4v7h.1v-.4l.4-.1zM92.8 16.1l-1.3-.6v.4l.7.3.3-.1.3.1zM91.2 15.2l-1.3-.6v.2l.7.3v.6l.3-.1.3.1z"/><path fill="url(#aF25)" d="M139.8 75.4v-27.5l-1.3-.6v.6l.7.3v26.9zM133.5 34.6l-1.3-.6v.2l.7.3v14.8h.1v-.3l.5-.1zM120.8 32.7l-1.2-.6v.6l.7.3v3.9l.3-.1.2.2zM109.8 24.8l-1.3-.6v.5l.7.4v9.7l.6-.1zM103.4 21.6l-1.2-.6v.4l.7.3v4.5h.1v-.4l.4-.1zM97.1 15.8l-1.2-.6v.5l.7.4v6.9v-.6l.5-.1zM95.5 15.3l-1.2-.6v.5l.7.3h.3l.2.1zM94 14.3l-1.3-.6v.6l.7.3v.4l.3-.1.3.1z"/><path fill="url(#aF26)" d="M142.5 74.7v-27.3l-1.2-.6v.2l.7.3v27.1zM136.2 34l-1.2-.6v.3l.7.3v14.6v.1v-.5l.5-.1zM123.6 32.1l-1.3-.6v.3l.7.3v4.1h.3l.3.1zM112.5 24.3l-1.2-.6v.2l.7.4v9.8l.5-.1zM106.2 20.6l-1.3-.6v.6l.7.4v4.4l.1.1v-.4l.5-.2zM99.9 15.2l-1.3-.6v.3l.7.3v6.8l.1.1v-.4l.5-.1zM98.3 14.2l-1.3-.5v.7l.7.3.4-.1.2.1zM96.7 13.6l-1.2-.6v.4l.7.3v.5l.3-.1.2.1z"/><path fill="url(#aF27)" d="M145.3 73.9v-27.3l-1.3-.6v.5l.8.3v26.9zM139 32.9l-1.3-.6v.7l.7.4v14.4l.1.1v-.6l.5-.1zM126.4 31.3l-1.3-.6v.5l.7.3v4l.3-.1.3.1zM115.3 23.6l-1.3-.6v.4l.7.3v9.8l.6-.2zM109 20l-1.3-.6v.3l.7.3v4.7h.1v-.5l.5-.1zM102.7 14.6l-1.3-.6v.3l.7.4v6.7h.1v-.4l.5-.2zM101.1 13.5l-1.3-.6v.4l.7.4v.4h.3l.3.1zM99.5 13l-1.3-.5v.1l.7.4v.1h.4l.2.1z"/><path fill="url(#aF28)" d="M148.1 73.2v-27.3l-1.3-.6v.3l.7.4v26.9zM141.8 32.4l-1.3-.6v.2l.7.3v14.6l.1.1v-.2l.5-.1zM129.1 30.5l-1.2-.6v.5l.7.3v4.1l.3-.1.2.1zM118.1 22.6l-1.3-.6v.7l.7.3v9.8l.6-.1zM111.7 19.4l-1.2-.6v.2l.7.4v4.5h.1v-.2l.4-.1zM105.4 13.9l-1.2-.6v.4l.7.3v6.6v-.6l.5-.1zM103.8 13.1l-1.2-.6v.1l.7.4v.5l.3-.1.2.1zM102.3 12l-1.3-.6v.7l.7.3h.3l.3.1z"/><path fill="url(#aF29)" d="M150.9 72.5v-27.5l-1.3-.6v.6l.7.3v26.9zM144.5 31.5l-1.2-.6v.6l.7.3v14.6v.1v-.5l.5-.2zM131.9 30l-1.3-.6v.2l.7.3v4.1l.3-.1.3.1zM120.8 22.1l-1.2-.6v.2l.7.3v9.9l.5-.1zM114.5 18.6l-1.3-.6v.5l.8.3v4.6v-.4l.5-.1zM108.2 13l-1.3-.6v.6l.7.3v6.4h.1v-.3l.5-.2zM106.6 12.2l-1.2-.6v.6l.7.3v.3l.3-.1.2.1zM105 11.6l-1.2-.6v.1l.7.4v.5l.3-.1.2.2z"/><path fill="url(#aS29d)" d="M72 92.3v-4.2l-.3.1v4.1zM74.5 87.4l.3.2v-4.3l-.3.1z"/><path fill="url(#aS28d)" d="M70.5 91.5v-2.8l-.4.1v2.8z"/><path fill="url(#aS28)" d="M72.9 81.8v5.3l.3.2v-4.5l1.6-.5v-1zM84 69.5v.8l1.3-.4.6.3v-1.2z"/><path fill="url(#aF3d)" d="M74.4 80.9l.4.1v-2.8l-.4-.2zM68.1 77.9l.4.2v-3.2l.2-.1-.6-.2zM66.2 77.1l-.6-.3v1.3l.6-.1zM61.8 77.1v1.4l.4.2v-1.4zM61.5 76.7l-.6-.3v2l.3-.1.3.1zM55.4 75.5l.4-.1v-4.8l-.4-.2zM44.4 65.8l.4.2v-1.8l-.4-.2z"/><path fill="url(#aF10d)" d="M93.8 60.6v1.4l.4.2v-1.4zM63.8 40.4l.4.2v-2.5l-.4-.1z"/><path fill="url(#aS27d)" d="M68.9 90.8v-2.1l-.3.1v2zM87.9 67.2v.4l.2-.1.5.3v-.8zM93.5 61.8v.2h.1h.2v-.3z"/><path fill="url(#aS27)" d="M73.5 80.2l-2.2.6v6.6l.3-.1v-6.1l1.9-.5z"/><path fill="url(#aS26)" d="M67.3 90v-1.8l1.9-.5v-.5l-2.2.6v2.3zM72 74.9l-2.3.6v12.2l.4.2v-7.7l1.9-.5zM74.7 72.3l-2.2.6v6.8l1 .5v.5l.4-.1.5.3v-2.9l.3-.1zM77.5 69.3l-2.2.6v7.9l1.7-.5.4.2h.1zM80.3 66.2l-2.2.6v8.3l1.7-.5.5.2zM83 63.3l-2.2.6v9.1l1.8-.5.1.1v-3.7h.3zM85.8 61.3l-2.2.6v6.8l1.3-.3.9.4zM88.6 58l-2.2.6v9.4l.3-.1v-1.3l1.9-.5zM91.4 55.6l-2.3.6v9.1l1.8-.4.5.2zM94.1 53.6l-2.2.6v8.2l.3-.1v-1.1l1.6-.5v-.1l.3-.1zM96.9 50.3l-2.2.6v8.1l1.7-.5.5.3zM99.7 46.6l-2.3.6v11l1.8-.5.5.3zM102.4 42.8l-2.2.6v14.2l1.7-.5.5.3zM105.2 42.1l-2.2.6v14.1l1.7-.5.5.2zM108 41.5l-2.2.5v14.1l1.7-.5.5.2zM110.7 40.5l-2.2.6v14.2l1.8-.4.4.2zM113.5 39.8l-2.2.6v14.2l1.7-.5.5.3zM116.3 39.2l-2.2.6v14l1.7-.4.5.2zM119 38.5l-2.2.6v14l1.8-.5.4.2zM121.8 37.4l-2.2.6v14.5l1.7-.4.5.2zM124.6 36.8l-2.2.6v14.2l1.7-.5.5.2zM127.4 36l-2.3.6v14.2l1.8-.4.5.2zM130.1 35.3l-2.2.6v14.4l1.7-.4.5.2zM132.9 34.5l-2.2.6v14.4l1.7-.4.5.2zM135.7 34l-2.2.6v14.3l1.7-.5.5.2zM138.4 33.4l-2.2.6v14.1l1.8-.5.4.2zM141.2 32.3l-2.2.6v14.3l1.7-.5.5.2zM144 31.8l-2.2.6v14.3l1.7-.5.5.2zM146.8 30.9l-2.3.6v14.3l1.8-.4.5.2z"/><path fill="url(#aS25)" d="M65.7 89.3v-2.1l1.9-.5v-1.7l-2.2.6v3.7z"/><path fill="url(#aS25d)" d="M68.2 86.7l.3.2v-4.7h-.3zM93.1 53.1l.3.2v-.6l-.3.1z"/><path fill="url(#aS24d)" d="M64.1 88.5v-3h-.3v3.1zM96.2 49.9v-.3l-.5.1z"/><path fill="url(#aS24)" d="M66.6 78.8v5.7l.3.2v-3.1l1.6-.4v-2.9zM88.7 55.3l1.4-.3.5.3v-.9l-1.9.5z"/><path fill="url(#aF6d)" d="M76.4 67.8l.4-.1v-.9l-.4-.2zM69.8 69l-.6-.3v.7l.6-.1z"/><path fill="url(#aF14d)" d="M98.6 46.1l.4.2v-1.4l-.4-.2zM90.7 46.5l.4-.1-.4-.2z"/><path fill="url(#aS23)" d="M62.6 87.8v-2.8l1.8-.6v-.3l-2.2.6v3.1zM86.6 57.5l-2.2.6v2.7h.1l.6.2v-3l1.5-.4z"/><path fill="url(#aS23d)" d="M65 84.5l.3.1v-3.2l-.3.1zM67.8 77.7l.3.2v-1.2l-.3.1zM81.6 61.9v.8h.2l.5.3v-1.3zM87.2 57.5l.1-.1.2.1v-1.6l-.3.1zM95.5 49l.7.4v-1.7l-.7.2zM98.2 45.8v.3l.2-.1.2.1v-.4z"/><path fill="url(#aS22)" d="M61 87v-2.9l1.9-.5v-1.4l-2.2.6v4.3zM65.6 76.1l-2.2.6v6.9l.3.2v-2.9l1.6-.4v-2.3l.3-.1zM79.5 64.5l-2.2.6v.9l2.2-.5z"/><path fill="url(#aS22d)" d="M66.2 78l.3-.1v-.9l-.3.1zM80 61.5v1.7l.4-.1v-1.7zM96.7 46.5l.3-.1v-.9l-.3.1z"/><path fill="url(#aF11d)" d="M87.1 55l.4-.1v-.5l-.4-.2zM77.6 44.6v1.4l.4.1v-1.3z"/><path fill="url(#aF15d)" d="M98.2 44.5v.1l.3.2.1-.1zM93.4 45.5v.4l.4-.1v-.1z"/><path fill="url(#aS21d)" d="M59.4 86.3v-3.3l-.3.1v3.3zM61.8 81.7l.4.2v-.9l-.4.1zM95.1 47.1l.3-.1v-1.1l-.3.1z"/><path fill="url(#aS21)" d="M72.4 69.5l-2.2.6v3.9h.1l.6.3.3-.1v-1.9l.8-.2v-.8l.4-.1zM80.7 58.7l-2.2.6v4.8l.3.1v-3.3l1.9-.5zM81.2 58.6v1.8l.9.4.5-.1.5.2v-2.8zM89 52l-2.2.6v2.5l.3-.1v-.8l1.9-.5z"/><path fill="url(#aS20)" d="M57.8 85.5v-3l1.9-.5v-.8l-2.2.6v3.8zM60.3 79.5v2.5l.3-.1v-1.4l1.6-.4v-1.1zM68 74.2l-2.2.6v1.5l.3-.1v-.2l1.9-.5zM73.6 67.5l-2.3.5v1.1l1.1.4v1.7l1.2-.3zM76.3 63.2l-2.2.6v5.4l1.1-.2v-.8l.8-.3v-3.4l.3-.1zM84.6 54.8l-2.2.6v2.1l.7.4v-.4l1.5-.4zM93 46.9l-2.3.6v6.1l.7-.2v-.2l.4-.1v-.9l1.2-.3z"/><path fill="url(#aS20d)" d="M68.6 74.4h.3v-3.5l-.3.1zM93.5 49.4l.3-.1v-2.6l-.3.1z"/><path fill="url(#aS19)" d="M56.2 84.8v-3.6l1.9-.5v-.7l-2.2.6v4.3zM60.9 73.3l-2.2.5v6.9l.3.2v-2l1.9-.5zM66.4 73.2l-2.2.6v1.8l.2-.1.1.1v-1.4l1.9-.5zM69.2 68.5l-2.2.6v4.6l.3.1v-3.4l1.6-.5v-.4l.3-.1z"/><path fill="url(#aS19d)" d="M61.5 76.7v1.7l.3.1v-1.4l.4-.1v-.5zM69.8 69.3l.3-.1v-.3l-.3.1zM80 58.1l-.4.1.4.2zM80.8 56.6v1.2l.4-.1v-1.1z"/><path fill="url(#aS18d)" d="M54.6 84v-2.1l-.3.1v2.1z"/><path fill="url(#aS18)" d="M59.3 60.6l-2.2.6v18.3l.3.1v-6.4l1.9-.5zM62.1 57.8l-2.2.6v14.4l1 .5v2.6l1.2-.4zM64.9 57.1l-2.3.6v17.9l.4.1v-2.5l1.9-.5zM67.6 54.9l-2.2.6v17.2l.3.1v-4.3l1.9-.5zM70.4 53.1l-2.2.6v14.4l.5.2 1.4-.3v-.5l.3-.1zM73.2 51.6l-2.2.6v15l1.3-.3.5.2v-3.9l.4-.1zM75.9 48.8l-2.2.6v13.6l1.4-.4.8.4zM78.7 46.5l-2.2.6v17.3l.3-.1v-6.3l1.9-.5zM81.5 43.1l-2.2.6v13.8l.3.1v-1.6l1.6-.4v-.8l.3-.1zM84.2 42.3l-2.2.6v11.6l1.4-.3.8.4zM87 41.8l-2.2.6v14.6l.5-.1.2.1v-5l1.5-.4zM89.8 40.9l-2.2.6v9.9h.1l1.3.6v1.7l.3-.1.2.1v-6.8l.3-.1zM92.6 40.4l-2.3.6v5.6l.4-.1v-.3l1.9-.5zM95.3 39.6l-2.2.6v5.5l.3.2v-.4l1.9-.5zM98.1 38.8l-2.2.6v5.4l1.7-.4.4.1h.1zM100.9 38.2l-2.2.6v5.5l.3-.1v-1.4l1.9-.5zM103.6 37.3l-2.2.6v4.4l.3.2v-.4l1.9-.5zM106.4 36.5l-2.2.5v4.6l.3.1v-.3l1.9-.5zM109.2 35.9l-2.2.6v4.5l.3.1v-.6l1.9-.5zM112 35l-2.3.6v4.4l.3.2v-.4l2-.5zM114.7 34.3l-2.2.6v4.4l.3.2v-.3l1.9-.5zM117.5 33.7l-2.2.6v4.4l.3.2v-.4l1.9-.6zM120.3 33l-2.3.6v4.4l.3.1v-.7l2-.5zM123 32.1l-2.2.6v4.3l.3.1v-.3l1.9-.6zM125.8 31.5l-2.2.6v4.2l.3.1v-.4l1.9-.5zM128.6 30.7l-2.2.6v4.2l.2.1v-.3l2-.5zM131.3 29.9l-2.2.6v4.3l.3.2v-.5l1.9-.5zM134.1 29.4l-2.2.6v4l.3.2v-.2l1.9-.5z"/><path fill="url(#aS17)" d="M53.1 83.3v-1.9l1.5-.4v-1l.4-.1v-1.4l-2.2.6v4.3z"/><path fill="url(#aS17d)" d="M55.5 76.4v3.3l.3-.1v-3.3z"/><path fill="url(#aS16d)" d="M51.5 82.5v-2.1h-.3v2.2zM53.9 76.6v1.4l.4.2v-1.7z"/><path fill="url(#aS15)" d="M49.9 81.8v-2l1.6-.4v-.9l.3-.1v-1.7l-2.2.6v4.6zM54.6 74.7l-2.2.6v2.9h.3v-2.2l1.9-.5z"/><path fill="url(#aS15d)" d="M55.1 72.7v2.8l.1.1.2-.1v-2.8z"/><path fill="url(#aS14d)" d="M48.3 81v-1.8l-.3.1v1.8zM50.8 75.9v.3l.3.1v-.5zM75.7 46.1v.2h.3v-.3z"/><path fill="url(#aS14)" d="M55.8 67.3l-2.2.6v6.3l.3.2v-2.3l1.5-.4v-1.3l.4-.1zM72.4 49.2l-2.2.6v1.7l1.7-.5.5.2z"/><path fill="url(#aF12d)" d="M77.2 45.1l.4-.1v-.1l-.4-.2zM74.1 45.9l.3-.1v-.1l-.3-.1z"/><path fill="url(#aS13)" d="M46.7 80.3v-1.6l1.6-.5v-1.5l.4-.1v-.1l-2.3.6v3.3zM51.4 73.6l-2.2.6v2.2l.3-.1v-1l1.6-.4v-.2l.3-.1zM54.2 66.4l-2.2.6v7.5l.3-.1v-7.1l1.9-.5z"/><path fill="url(#aS13d)" d="M68.6 52.6l.3-.1v-1.6l-.3.1zM74.1 48.4l.3-.1v-1.5l-.3.1z"/><path fill="url(#aS12d)" d="M45.2 79.5v-2.8l-.3.1v2.8zM50.4 68.1v5l.3.2v-5.3zM72.6 48.8l.3-.1v-1.9h-.3z"/><path fill="url(#aS12)" d="M49.8 72.9l-2.2.6v2.5l.3.1v-2.5l1.9-.5zM55.4 62.9l-2.2.6v2.4l1 .5v.4l.3-.1.9.4z"/><path fill="url(#aF5d)" d="M55.4 66.6v.5l.4.2v3v-3.5z"/><path fill="url(#aS11)" d="M43.6 78.8v-2.6l1.9-.5v-1.5l-2.2.6v4.1zM48.3 59l-2.3.6v16.1l.4.2v-3l1.9-.5zM51 55.9l-2.2.6v16l.3.1v-5.1l1.6-.4v-.7l.3-.1zM53.8 52.8l-2.2.6v12.8l.3-.1v-3.2l1.9-.5zM56.6 50.2l-2.2.6v11.6l1 .5v3.2l.4-.1v-5.4l.8-.2zM59.3 46.6l-2.2.6v13l1-.2.5.2v-2.4l.7-.2zM62.1 44.1l-2.2.6v12.8l.9-.3.5.2h.1v-.3l.7-.2zM64.9 40.9l-2.2.6v15.2l.9-.2.6.2v-1.8l.7-.2zM67.6 36.1l-2.2.6v17.9l1-.3.5.3v-1.5l.4-.1v-2.6l.3-.1zM70.4 35.3l-2.2.6v14.2l.7-.1v-.8l1.5-.4zM73.2 34.6l-2.2.6v13.4h.1l.2.1v-2.5l1.9-.5zM76 34l-2.3.6v11.2l.4.1v-.3l1.9-.5zM78.7 33.3l-2.2.6v11h.2l.4.2h.1v-.4l.8-.2v-1.4l.7-.2zM81.5 32.6l-2.2.6v9.6l.9-.3.6.3v-.5l.7-.2zM84.3 31.5l-2.2.6v9.9l.9-.2.5.2v-.2l.8-.2zM87 31.1l-2.2.6v9.8l1-.2.5.2v-.6l.7-.2zM89.8 30.1l-2.2.6v9.8l.9-.2.6.3v-.2l.7-.2zM92.6 29.4l-2.2.5v10.2l.9-.3.5.3v-.5l.8-.2zM95.4 28.6l-2.3.6v10l1-.2.5.3v-.5l.8-.2zM98.1 27.9l-2.2.6v10l.9-.3.6.3v-.3l.7-.2zM100.9 27.2l-2.2.6v10.1l.9-.3.6.3v-.6l.7-.2zM103.7 26.6l-2.3.6v9.7l1-.2.5.2v-.5l.8-.2zM106.4 25.8l-2.2.6v9.7l.9-.2.6.2v-.2l.7-.2zM109.2 25.1l-2.2.6v9.8l.9-.2.6.2v-.5l.7-.2zM112 24.3l-2.2.5v9.9l.9-.3.5.3v-.4l.8-.2zM114.7 23.7l-2.2.6v9.7l1-.3.5.3v-.3l.7-.2zM117.5 23l-2.2.6v9.7l.9-.2.6.3v-.4l.7-.2zM120.3 22l-2.2.6v10.1l.9-.3.6.3v-.6l.7-.2zM123 21.5l-2.2.6v9.7l1-.3.5.3v-.3l.7-.2z"/><path fill="url(#aS10d)" d="M42 78v-2.4l-.3.1v2.4zM44.5 69.2v4.6l.3.1v-4.8z"/><path fill="url(#aS9d)" d="M40.4 77.3v-2.2l-.3.1v2.2z"/><path fill="url(#aS9)" d="M42.9 66.8v7.2l.3-.1v-5.3l1.6-.4v-1.9z"/><path fill="url(#aF7d)" d="M55.5 49.6l.4.2v-2l-.4-.2z"/><path fill="url(#aF9d)" d="M61 41.8v1.8l.4.2v-1.8z"/><path fill="url(#aS8)" d="M38.8 76.6v-2l2-.5v-1.2l-2.3.6v3.1z"/><path fill="url(#aS8d)" d="M41.3 71.4v2.7l.3.1v-2.9zM49.6 55.1v.2h.2l.5.2v-.6zM63.5 39v1.3h.1l.2.1v-1.5z"/><path fill="url(#aS7)" d="M37.3 75.8v-2.9l1.9-.5v-1.5l-2.2.6v4.4zM41.9 56.2l-2.2.6v15.6l.3.2v-1.8l1.6-.4v-4.2l.3-.1zM44.7 51.9l-2.2.6v13.4l1.3-.3.5.2.1-.1v-1.7l.3-.1zM47.5 47.8l-2.2.6v10.4l1.7-.4.3.1h.2zM50.3 43.9l-2.3.6v11.2h.4v-1.2l1.9-.5zM53 39.5l-2.2.6v12.6l1.7-.5.5.3zM55.8 34.3l-2.2.6v15.1l1.7-.4h.2v-2l.3-.1zM58.6 33.3l-2.3.6v12.5l1.8-.4.5.2zM61.3 32.8l-2.2.6v10.6l1.7-.5.2.1v-1.8h.3zM64.1 32l-2.2.6v8.2l.3-.1v-2.3l1.9-.5zM66.9 31.2l-2.2.6v4.1l1.7-.4.5.2zM69.6 30.4l-2.2.6v4.1l1.8-.4.4.2zM72.4 29.9l-2.2.6v4l1.7-.5.5.2zM75.2 29.1l-2.2.5v4.3l1.7-.5.5.2zM78 28.5l-2.3.6v4.1l1.8-.5.5.3zM80.7 27.5l-2.2.6v4.4l1.7-.5.5.2zM83.5 26.9l-2.2.6v3.9l1.7-.5.5.3zM86.3 26.3l-2.3.5v4.2l1.8-.5.5.3zM89 25.2l-2.2.6v4.2l1.7-.5.5.2zM91.8 24.7l-2.2.6v3.9l1.7-.4.5.2zM94.6 24l-2.2.6v3.9l1.7-.5.5.3zM97.3 23.3l-2.2.6v3.9l1.8-.5.4.3zM100.1 22.4l-2.2.6v4.1l1.7-.5.5.2zM102.9 21.7l-2.2.6v4.1l1.7-.4.5.2zM105.6 21l-2.2.6v4.1l1.8-.5.4.2zM108.4 20l-2.2.6v4.3l1.7-.4.5.2zM111.2 19.4l-2.2.6v4.1l1.7-.4.5.2zM114 18.8l-2.3.6v4.2l1.8-.5.5.3zM116.7 18l-2.2.6v4.3l1.7-.5.5.2z"/><path fill="url(#aS6d)" d="M35.7 75.1v-4.1h-.3v4.1zM38.1 66.5v3.9l.4.1v-4.1z"/><path fill="url(#aS5d)" d="M34.1 74.3v-3.5l-.3.1v3.5z"/><path fill="url(#aS5)" d="M36.6 70l.3.1v-4.2l1.6-.4v-2.5l-1.9.6z"/><path fill="url(#aF4d)" d="M40.8 52.9v2.8l.4.2v-2.8z"/><path fill="url(#aF8d)" d="M51.9 39l.4.2v-3.3l-.4-.2z"/><path fill="url(#aS4)" d="M32.5 73.6v-3.3l1.9-.5v-1.3l-2.2.6v4.5z"/><path fill="url(#aS4d)" d="M35 68.6v1.3l.3.1v-1.4zM46.1 46.8v.4h.1l.6.3v-.9zM51.6 36.6v2.4l.2-.1.1.1v-2.5z"/><path fill="url(#aS3d)" d="M31 72.8v-4.2l-.4.1v4.2z"/><path fill="url(#aS3)" d="M35.6 51.7l-2.2.5v15.8l.3.2v-.2l1.6-.4v-4.6l.3-.1zM38.4 47l-2.2.6v15.1l1.3-.3.9.4zM41.2 42.2l-2.3.6v13.3l1.8-.5.1.1v-2.8l.4-.1zM43.9 38.2l-2.2.6v13l1.7-.5.5.2zM46.7 34.1l-2.2.6v13l.3-.1v-1.4l1.9-.5zM49.5 28.6l-2.2.6v14.6l1.7-.5.5.3zM52.2 28l-2.2.6v10.8l.3-.1v-3.3l1.9-.5zM55 27l-2.2.6v6.5l1.7-.4.5.2zM57.8 26.5l-2.2.6v6.1l1.7-.5.5.2zM60.6 25.7l-2.3.6v6.3l1.8-.4.5.2zM63.3 25.1l-2.2.6v6.1l1.7-.4.5.2zM66.1 24.1l-2.2.6v6.3l1.7-.4.5.2zM68.9 23.6l-2.3.6v6.1l1.8-.5.5.3zM71.6 22.9l-2.2.6v6.3l1.7-.5.5.3zM74.4 21.9l-2.2.6v6.4l1.7-.4.5.2zM77.2 21.2l-2.2.6v6.5l1.7-.4.5.2zM79.9 20.6l-2.2.6v6.2l1.8-.5.4.3zM82.7 19.9l-2.2.6v6.3l1.7-.5.5.2zM85.5 18.9l-2.2.6v6.6l1.7-.4.5.2zM88.2 18.2l-2.2.6v6.3l1.8-.4.4.2zM91 17.4l-2.2.6v6.6l1.7-.5.5.3zM93.8 16.7l-2.2.6v6.6l1.7-.5.5.3zM96.6 16.1l-2.3.5v6.6l1.8-.5.5.3zM99.3 15.2l-2.2.6v6.5l1.7-.5.5.2zM102.1 14.7l-2.2.5v6.4l1.7-.5.5.3zM104.9 14l-2.2.6v6.2l1.7-.4.5.2zM107.6 13.3l-2.2.6v6l1.8-.4.4.2zM110.4 12.4l-2.2.6v6.2l1.7-.4.5.2z"/><path fill="url(#aS2d)" d="M29.4 72.1v-2.2l-.3.1v2.2zM87.2 17.8l.3.1v-.5l-.3.1zM90 16.9l.3.1v-.3l-.3.1zM95.5 15.3v.3l.4.1v-.5z"/><path fill="url(#aS2)" d="M34 50.5l-2.2.6v16.6l.3.1v-16.2l1.9-.5zM36.8 45.5l-2.2.5v5.2l.3.1v-4.3l1.9-.5zM39.6 41.6l-2.2.5v4.4l.3.2v-4.5l1.9-.5zM42.4 37l-2.3.6v4.1l.3.2v-3.7l2-.5zM45.1 32.4l-2.2.6v4.8l.3.1v-3.8l1.9-.5zM47.9 27.8l-2.2.6v5.2l.3.2v-5.2l1.9-.5zM50.7 27l-2.3.5v.6l.4.2v-.3l1.9-.5zM53.4 26.4l-2.2.6v.5l.3.1v-.6zM56.2 25.6l-2.2.6v.3l.3.2v-.2l1.9-.5zM59 24.8l-2.2.6v.6l.3.2v-.5l1.9-.6zM61.7 24l-2.2.6v.6l.3.1v-.2l1.9-.5zM64.5 23.3l-2.2.5v.8l.3.2v-.7l1.9-.5zM67.3 22.9l-2.2.6v.1l.3.2v-.2l1.9-.5zM70.1 21.9l-2.3.6v.6l.4.1v-.3l1.9-.5zM72.8 21.3l-2.2.6v.5l.3.2v-.7l1.9-.5zM75.6 20.3l-2.2.6v.5l.3.1v-.3l1.9-.5zM78.4 19.9l-2.3.6v.2l.4.1v-.2l1.9-.5zM81.1 19.1l-2.2.6v.4l.3.2v-.4l1.9-.6zM83.9 18.1l-2.2.6v.7l.3.1v-.6l1.9-.5zM86.7 17.4l-2.2.6v.4l.3.2v-.4l1.9-.5zM95 15.5l-2.2.6v.1l.3.1v-.3zM100.5 13.7l-2.2.5v.5l.3.2v-.3l1.9-.5zM103.3 13l-2.2.5v.7l.3.1v-.3l1.9-.5zM106.1 12.5l-2.3.6v.4l.4.2v-.4l1.9-.5zM108.8 11.6l-2.2.6v.6l.3.2v-.6l1.9-.5z"/><path fill="url(#aS1)" d="M27.8 71.3v-1.9l1.6-.4v-.9l.3-.1v-10.5l-2.2.6v13.3zM32.5 48.1l-2.3.6v19.2l.4-.1v-17.3l1.9-.5zM35.2 44.2l-2.2.5v5.3l.3.2v-4.8l1.9-.5zM38 40.5l-2.2.5v4l.3.1v-3.6l1.9-.5zM40.8 35.6l-2.2.6v4.9l.3.1v-4.2l1.9-.5zM46.3 26.9l-2.2.6v4.4l.3.2v-4.3l1.9-.5zM49.1 26.2l-2.2.6v.5l.3.2v-.6l1.9-.5zM51.9 25.8l-2.3.6v.1l.4.1v-.2l1.9-.5zM54.6 25l-2.2.5v.5l.3.1v-.5l1.9-.5zM57.4 24.3l-2.2.6v.2l.3.2v-.5zM62.9 22.7l-2.2.5v.3l.3.2v-.5zM65.7 22l-2.2.6v.2l.3.1 1.9-.5zM68.5 21.1l-2.2.6v.7l.3.1v-.6l1.9-.5zM71.2 20.4l-2.2.6v.5l.3.1v-.3l1.9-.5zM74 19.6l-2.2.6v.6l.3.2v-.7l1.9-.5zM76.8 19.1l-2.2.6v.1l.3.2 1.9-.6zM79.6 18.3l-2.3.6v.5l.3.2v-.5l2-.5zM87.9 16l-2.3.5v.4l.4.1v-.1l1.9-.5zM90.6 15.1l-2.2.6v.7l.3.2v-.4l1.9-.5zM93.4 14.6l-2.2.6v.5l.3.2v-.4l1.9-.5zM96.2 13.7l-2.2.6v.7l.3.2v-.5l1.9-.5zM98.9 13l-2.2.6v.6l.3.2v-.7l1.9-.6zM104.5 11.5l-2.2.5v.5l.3.1v-.1l1.9-.5zM107.2 11l-2.2.6v.5l.4.1v-.6l1.8-.5z"/><path fill="url(#aS1d)" d="M41.3 36.5l.3.2v-4.1l-.3.1zM57.9 24.2v.2l.4.1v-.4zM80.1 18.6l.3.2v-.7l-.3.1zM82.9 17.6l.3.2v-.4h-.3zM99.5 13.2l.3.1v-.3h-.3z"/></g>
<g stroke="rgba(0,0,0,0.35)" stroke-width="0.25" stroke-linejoin="round"><path fill="#0363e1" d="M72 87.9l1.3.6 2.2-.6-1.3-.6zM49.6 77.3l2.2-.6-1.3-.6-2.2.6z"/><path fill="#06a4ca" d="M76.1 78.5l2.2-.6-1.3-.6-2.2.6zM69.7 75.5l2.3-.6-1.3-.6-2.2.6zM71.3 68l2.3-.5-1.3-.6-2.2.6zM53.2 63.5l2.2-.6-1.3-.6-2.2.6z"/><path fill="#0aacbe" d="M78.8 75.8l2.3-.6-1.3-.6-2.2.6zM72.5 72.9l2.2-.6-1.2-.6-2.3.6z"/><path fill="#15b1b4" d="M81.6 73.7l2.2-.6-1.2-.6-2.3.6zM79 65.6l.6.2v-.3z"/><path fill="#2eb7a4" d="M84.4 71.1l2.2-.6-1.3-.6-2.2.6zM46 59.6l2.3-.6-1.3-.6-2.2.6zM49.6 55.1l.7-.2v-.9l-1.9.5zM41.2 53.1v-.3l-.4.1z"/><path fill="#4dbc92" d="M87.1 68.7l2.3-.6-1.3-.6-2.2.6zM78.1 66.8l2.2-.6-1.3-.6-2.2.6zM81.6 61.9l.7-.2v-.4l1.1-.2-.8-.4-2.2.6zM80 61.5l.4-.1v-.1l1.7-.5-1.1-.5-2.2.6zM77.9 58.5l1.5-.4.2.1.6-.3-1.2-.5-2.2.6zM48.8 56.5l2.2-.6-1.2-.6-2.2.6z"/><path fill="#71bf80" d="M89.9 66.1l2.2-.6-1.2-.6-2.3.6zM93.5 61.8l.3-.1v-1l-1.6.5zM80.8 63.9l2.2-.6-1.2-.6-2.2.6zM57.1 61.2l2.2-.6-1.2-.6-2.3.6z"/><path fill="#9cbf6f" d="M92.7 63.1l2.2-.6-1.3-.5-2.2.5zM87.1 54.2l.4.1 2.1-.5-.3-.2zM54.4 50.8l2.2-.6-1.3-.6-2.2.6zM55.9 47.8v-.3l-.4.1zM34.6 46l2.2-.5-1.3-.6-2.2.5zM33 44.7l2.2-.5-1.2-.6-2.2.5z"/><path fill="#c0bc60" d="M95.5 59.7l2.2-.6-1.3-.6-2.2.6zM98.2 58.9l2.2-.6-1.2-.6-2.2.6zM101 58.3l2.2-.6-1.3-.6-2.2.6zM103.8 57.5l2.2-.6-1.3-.6-2.2.6zM106.5 56.8l2.3-.6-1.3-.6-2.2.6zM109.3 56l2.2-.5-1.2-.6-2.3.5zM112.1 55.3l2.2-.6-1.3-.6-2.2.6zM114.8 54.6l2.3-.6-1.3-.6-2.2.6zM117.6 53.8l2.2-.6-1.2-.6-2.2.6zM120.4 53.2l2.2-.5-1.3-.6-2.2.5zM123.2 52.3l2.2-.6-1.3-.6-2.2.6zM125.9 51.6l2.2-.6-1.2-.6-2.2.6zM128.7 51.1l2.2-.6-1.3-.6-2.2.6zM131.5 50.2l2.2-.5-1.3-.6-2.2.6zM134.2 49.6l2.2-.6-1.2-.6-2.2.6zM137 48.8l2.2-.6-1.2-.6-2.3.6zM139.8 47.9l2.2-.6-1.3-.6-2.2.6zM142.5 47.4l2.3-.6-1.3-.6-2.2.6zM145.3 46.6l2.2-.6-1.2-.6-2.3.6zM148.1 45.9l2.2-.6-1.3-.6-2.2.6zM150.9 45l2.2-.6-1.3-.6-2.2.6zM71 52.2l2.2-.6-1.3-.6-2.2.6z"/><path fill="#0f5cdd" d="M71.7 88.2l.3-.1v-.2l1.6-.4-.9-.5-2.2.6zM60.7 82.8l2.2-.6-1.3-.6-2.2.6zM61.8 81.1l.4-.1v-.9l-1.6.4zM55.9 80.6l2.2-.6-1.2-.6-2.3.6zM52.8 79.1l2.2-.6-1.3-.6-2.2.6zM50.8 75.9l.3-.1v-.9l-1.6.4zM43.3 74.8l2.2-.6-1.3-.6-2.2.6zM41.3 71.4l.3-.1v-.9l-1.6.4zM37 71.5l2.2-.6-1.3-.6-2.2.6zM35.4 71h.3v-.1l1.8-.5-1.2-.5-2.2.5zM32.2 69.1l2.2-.6-1.2-.6-2.2.6zM35 68.6h.3v-1l-1.6.4zM30.6 68.7l.4-.1v-.1l1.7-.4-1.1-.6-2.2.6z"/><path fill="#127dd8" d="M74.5 83.4l.3-.1v-1l-1.6.5zM66.2 77.1l.3-.1v-.8l.8-.2-.2-.1-1.5.4v.5zM65.8 74.8l2.2-.6-1.2-.6-2.3.6zM44.5 69.2l.3-.1v-.9l-1.6.4z"/><path fill="#2c4ac7" d="M70.1 88.8l.4-.1v-.9l-1.6.4zM63.8 85.5h.3v-.5l1.3-.3-.6-.3-2.2.6zM62.2 84.7l2.2-.6-1.2-.6-2.2.6zM59.1 83.1l.3-.1v-.8l.8-.2-.2-.1-2.2.6zM46.4 77.1l2.3-.6-1.3-.6-2.2.6zM44.9 76.8l.3-.1v-.2l1.5-.4-.9-.5-2.2.6zM38.5 73.5l2.3-.6-1.3-.6-2.2.6z"/><path fill="#1481d6" d="M72.9 81.8l1.9-.5v-.3l-.9-.4-2.3.6zM71.3 80.8l2.2-.6-1.2-.6-2.2.6zM66.6 78.8l1.9-.5v-.2l-1-.5-2.2.6zM64.2 73.8l2.2-.6-1.2-.6-2.2.6z"/><path fill="#0c93d2" d="M74.8 78.2v-.3l1.9-.5-2.3.6zM68.6 71l.3-.1v-1l-1.6.5zM53.6 67.9l2.2-.6-1.3-.6-2.2.6zM44.8 64.2v-.3l-.4.1z"/><path fill="#25b5a9" d="M84 69.5l1.9-.5v-.2l-1-.4-2.2.5zM87.9 67.2l.7-.2v-.9l-1.9.5zM75.3 69.9l2.2-.6-1.3-.6-2.2.6zM39.7 56.8l2.2-.6-1.2-.6-2.2.6z"/><path fill="#87bf77" d="M94.2 60.8v-.3l-.4.1zM83.6 61.9l2.2-.6-1.3-.5-2.2.5zM84.4 58.1l2.2-.6-1.3-.6-2.2.6zM82.4 55.4l2.2-.6-1.2-.6-2.2.6zM68.6 51l.3-.1v-.9l-1.6.4zM36.2 47.6l2.2-.6-1.3-.6-2.2.6z"/><path fill="#353dad" d="M68.6 88.8l.3-.1v-.5l1.2-.3-.6-.3-2.2.6zM54.3 82l.3-.1v-.9l-1.5.4zM48 79.3l.3-.1v-1l-1.6.5zM29.1 70l.3-.1v-.9l-1.6.4z"/><path fill="#3243ba" d="M67 87.8l2.2-.6-1.3-.6-2.2.6zM51.2 80.4h.3v-1l-1.6.4zM41.7 75.7l.3-.1v-1l-1.6.5zM40.1 75.2l1.9-.6v-.2l-.9-.4-2.3.6z"/><path fill="#aebe67" d="M86.4 58.6l2.2-.6-1.3-.6-2.2.6zM91.7 53.3h.1v-.2l-.4.1zM86.8 52.6l2.2-.6-1.3-.6-2.2.6zM74.1 46.9l.3-.1v-1l-1.5.5z"/><path fill="#c8bc5d" d="M89.1 56.2l2.3-.6-1.3-.6-2.2.6zM75.7 46.1l.3-.1v-.6l1.2-.3-.5-.2-2.3.6zM77.6 44.9v-.3l.4-.1-.8.2zM57.1 47.2l2.2-.6-1.2-.6-2.2.6zM38.9 42.8l2.3-.6-1.3-.6-2.2.6zM37.4 42.1l2.2-.5-1.3-.6-2.2.5zM35.8 41l2.2-.5-1.3-.6-2.2.5z"/><path fill="#d9ba56" d="M91.9 54.2l2.2-.6-1.2-.6-2.3.6zM93.1 52.8l.3-.1v-.9l-1.6.4zM90.7 47.5l2.3-.6-1.3-.6-2.2.6zM93.5 46.8l.3-.1v-.9l-1.6.4zM61.4 42v-.3l-.4.1z"/><path fill="#f8bb44" d="M94.7 50.9l2.2-.6-1.3-.6-2.2.6zM98.6 44.7l.4-.1v-.4l-.8.3zM40.1 37.6l2.3-.6-1.3-.6-2.2.6z"/><path fill="#fad32a" d="M97.4 47.2l2.3-.6-1.3-.6-2.2.6zM44.5 34.7l2.2-.6-1.3-.6-2.2.6z"/><path fill="#f6f313" d="M100.2 43.4l2.2-.6-1.2-.6-2.2.6zM103 42.7l2.2-.6-1.3-.6-2.2.6zM105.8 42l2.2-.5-1.3-.6-2.2.5zM108.5 41.1l2.2-.6-1.2-.6-2.2.6zM111.3 40.4l2.2-.6-1.3-.6-2.2.6zM114.1 39.8l2.2-.6-1.3-.6-2.2.6zM116.8 39.1l2.2-.6-1.2-.6-2.2.6zM133.5 34.6l2.2-.6-1.3-.6-2.2.6zM136.2 34l2.2-.6-1.2-.6-2.2.6zM141.8 32.4l2.2-.6-1.3-.6-2.2.6zM144.5 31.5l2.3-.6-1.3-.6-2.2.6z"/><path fill="#f9fb0e" d="M119.6 38l2.2-.6-1.2-.6-2.3.6zM122.4 37.4l2.2-.6-1.3-.6-2.2.6zM125.1 36.6l2.3-.6-1.3-.6-2.2.6zM127.9 35.9l2.2-.6-1.2-.6-2.3.6zM130.7 35.1l2.2-.6-1.3-.6-2.2.6zM139 32.9l2.2-.6-1.3-.6-2.2.6zM47.3 29.2l2.2-.6-1.3-.6-2.2.6zM50 28.6l2.2-.6-1.2-.6-2.2.6zM52.8 27.6l2.2-.6-1.3-.6-2.2.6zM55.6 27.1l2.2-.6-1.3-.6-2.2.6zM58.3 26.3l2.3-.6-1.3-.6-2.2.6zM61.1 25.7l2.2-.6-1.2-.6-2.3.6zM63.9 24.7l2.2-.6-1.3-.6-2.2.6zM66.6 24.2l2.3-.6-1.3-.6-2.2.6zM69.4 23.5l2.2-.6-1.2-.6-2.2.6zM72.2 22.5l2.2-.6-1.3-.6-2.2.6zM75 21.8l2.2-.6-1.3-.6-2.2.6zM77.7 21.2l2.2-.6-1.2-.6-2.2.6zM80.5 20.5l2.2-.6-1.3-.6-2.2.6zM83.3 19.5l2.2-.6-1.3-.6-2.2.6zM86 18.8l2.2-.6-1.2-.6-2.2.6zM88.8 18l2.2-.6-1.2-.6-2.3.6zM91.6 17.3l2.2-.6-1.3-.6-2.2.6zM94.3 16.6l2.3-.5-1.3-.6-2.2.5zM97.1 15.8l2.2-.6-1.2-.6-2.2.6zM99.9 15.2l2.2-.5-1.3-.6-2.2.5zM102.7 14.6l2.2-.6-1.3-.6-2.2.6zM105.4 13.9l2.2-.6-1.2-.6-2.2.6zM108.2 13l2.2-.6-1.3-.6-2.2.6zM45.7 28.4l2.2-.6-1.3-.6-2.2.6zM48.4 27.5l2.3-.5-1.3-.6-2.2.5zM51.2 27l2.2-.6-1.2-.6-2.2.6zM54 26.2l2.2-.6-1.3-.6-2.2.6zM56.8 25.4l2.2-.6-1.3-.6-2.2.6zM59.5 24.6l2.2-.6-1.2-.6-2.2.6zM62.3 23.8l2.2-.5-1.3-.6-2.2.5zM65.1 23.5l2.2-.6-1.3-.6-2.2.6zM67.8 22.5l2.3-.6-1.3-.6-2.2.6zM70.6 21.9l2.2-.6-1.2-.6-2.3.6zM73.4 20.9l2.2-.6-1.3-.6-2.2.6zM76.1 20.5l2.3-.6-1.3-.6-2.2.6zM78.9 19.7l2.2-.6-1.2-.6-2.3.6zM81.7 18.7l2.2-.6-1.3-.6-2.2.6zM84.5 18l2.2-.6-1.3-.6-2.2.6zM87.2 17.5l.3-.1 1.9-.5-1.2-.6-2.2.6zM90 16.8l.3-.1 1.9-.5-1.3-.6-2.2.6zM92.8 16.1l2.2-.6-1.3-.6-2.2.6zM95.5 15.3l.4-.1 1.8-.5-1.2-.6-2.2.6zM98.3 14.2l2.2-.5-1.2-.6-2.3.6zM101.1 13.5l2.2-.5-1.3-.6-2.2.5zM103.8 13.1l2.3-.6-1.3-.6-2.2.6zM106.6 12.2l2.2-.6-1.2-.6-2.2.6zM44.1 27.5l2.2-.6-1.3-.6-2.2.6zM46.9 26.8l2.2-.6-1.3-.6-2.2.6zM49.6 26.4l2.3-.6-1.3-.6-2.2.6zM52.4 25.5l2.2-.5-1.2-.6-2.3.5zM55.2 24.9l2.2-.6-1.3-.6-2.2.6zM57.9 24.2l.4-.1v-.1l1.7-.5-1.1-.5-2.2.6zM60.7 23.2l2.2-.5-1.2-.6-2.3.5zM63.5 22.6l2.2-.6-1.3-.6-2.2.6zM66.3 21.7l2.2-.6-1.3-.6-2.2.6zM69 21l2.2-.6-1.2-.6-2.2.6zM71.8 20.2l2.2-.6-1.3-.6-2.2.6zM74.6 19.7l2.2-.6-1.3-.6-2.2.6zM77.3 18.9l2.3-.6-1.3-.6-2.2.6zM80.1 18.2l.3-.1 1.9-.5-1.2-.6-2.3.6zM82.9 17.4h.3l1.9-.6-1.3-.5-2.2.5zM85.6 16.5l2.3-.5-1.3-.6-2.2.5zM88.4 15.7l2.2-.6-1.2-.6-2.2.6zM91.2 15.2l2.2-.6-1.3-.6-2.2.6zM94 14.3l2.2-.6-1.3-.6-2.2.6zM96.7 13.6l2.2-.6-1.2-.6-2.2.6zM99.5 13l.3-.1 1.9-.5-1.3-.5-2.2.6zM102.3 12l2.2-.5-1.3-.6-2.2.5zM105 11.6l2.2-.6-1.2-.6-2.2.6z"/><path fill="#2053d4" d="M65.4 85.6l2.2-.6-1.3-.6-2.2.6zM57.5 81.8l2.2-.6-1.3-.6-2.2.6zM33.8 70.9l.3-.1v-.4l1.4-.3-.8-.4-2.2.6z"/><path fill="#046de0" d="M68.2 82.2h.3v-1l-1.6.4zM55.5 76.4l.3-.1v-.9l-1.5.4zM52.4 75.3l2.2-.6-1.3-.6-2.2.6z"/><path fill="#1db3af" d="M76.5 68.8l.3-.1v-1l-1.6.5zM76.8 66.8v-.3l-.4.1zM77.3 65.1l2.2-.6-1.3-.6-2.2.6zM74.1 63.8l2.2-.6-1.2-.6-2.3.6z"/><path fill="#0998d1" d="M68.7 74.8l2-.5.5.3v-.2l-.9-.4-2.2.6zM69.8 69l.3-.1v-.9l-1.4.3.5.2v.2zM52 67l2.2-.6-1.3-.6-2.2.6z"/><path fill="#b7bd64" d="M88.7 54.9l1.9-.5v-.2l-.9-.5-2.2.6zM68.2 53.7l2.2-.6-1.3-.6-2.2.6z"/><path fill="#e9b94e" d="M94.2 50.1l2-.5v-.2l-1-.5-2.2.6z"/><path fill="#fcce2e" d="M99 44.9v-.3l-.4.1zM79.3 43.7l2.2-.6-1.3-.6-2.2.6zM82 42.9l2.2-.6-1.2-.5-2.2.5zM87.6 41.5l2.2-.6-1.3-.6-2.2.6zM104.2 37l2.2-.5-1.3-.6-2.2.5zM109.7 35.6l2.3-.6-1.3-.6-2.2.6zM112.5 34.9l2.2-.6-1.2-.6-2.3.6z"/><path fill="#0268e1" d="M65 81.5l.3-.1v-.9l-1.6.4zM60.3 79.5l1.9-.5v-.3l-1-.4-2.2.6zM53.9 76.6l.4-.1v-.7l.9-.2-.3-.2-2.2.6zM49.2 74.2l2.2-.6-1.2-.6-2.3.6zM47.6 73.5l2.2-.6-1.2-.6-2.2.6z"/><path fill="#1485d4" d="M67.8 76.8l.3-.1v-.9l-1.6.4zM63.4 76.7l2.2-.6-1.2-.6-2.2.6zM55.8 66.8v-.8l-.4.1v.5zM42.9 66.8l1.9-.5v-.3l-1-.4-2.2.6z"/><path fill="#079ccf" d="M73 71.8l.5-.1.2.1.3-.1v-.9l-2 .5zM67 69.1l2.2-.6-1.3-.6-2.2.6z"/><path fill="#a5be6b" d="M87.2 56l.3-.1v-1l-1.6.5zM65.4 55.5l2.2-.6-1.2-.6-2.2.6zM70.2 49.8l2.2-.6-1.3-.6-2.2.6zM72.6 46.8h.3v-.5l1.2-.4-.6-.2-2.2.5zM74.4 45.7v-.2l1.9-.5-2.2.6zM45.3 48.4l2.2-.6-1.3-.6-2.2.6z"/><path fill="#f1b94a" d="M95.5 47.9l.7-.2v-.9l-2 .5zM95.1 46l.3-.1v-.9l-1.6.4zM76.5 47.1l2.2-.6-1.3-.6-2.2.6zM63.5 39l.3-.1v-.9l.4-.2-2 .6zM41.7 38.8l2.2-.6-1.2-.5-2.3.5z"/><path fill="#fdbe3d" d="M98.2 45.8l.4-.1v-.9l-1.6.4zM96.7 45.6l.3-.1v-.3l1.5-.4-.9-.4-2.2.6zM62.7 41.5l2.2-.6-1.3-.6-2.2.6zM64.2 38.1v-.2l-.4.1zM50.8 40.1l2.2-.6-1.2-.6-2.3.6zM51.6 36.6l.3-.1v-.8l.4-.1v-.2l-2 .6zM38.6 36.2l2.2-.6-1.3-.6-2.2.6z"/><path fill="#0d75dc" d="M66.4 76.1l.7-.2.2.1.8-.2v-.3l-2 .5z"/><path fill="#06a0cd" d="M70.2 70.1l2.2-.6-1.3-.6-2.2.6zM27.5 58.1l2.2-.6-1.3-.6-2.2.6z"/><path fill="#65be86" d="M78.5 59.3l2.2-.6-1.3-.6-2.2.6zM81.2 58.6l1.9-.5v-.2l-.9-.5-2.2.6zM80.8 56.6h.4v-1l-1.6.4zM42.5 52.5l2.2-.6-1.3-.6-2.2.6zM30.2 48.7l2.3-.6-1.3-.6-2.2.6z"/><path fill="#0871de" d="M62.2 77.3v-.3l-.4.1zM61.5 76.7l.7-.2v-.4l1-.3-.8-.3-1.5.4v.5z"/><path fill="#1389d3" d="M58.7 73.8l2.2-.5-1.3-.6-2.2.5zM55.8 70.6v-.3l-.4.1zM50.4 68.1l.3-.1v-.9l-1.6.4zM36.6 63.6l1.9-.6v-.2l-1-.4-2.2.6z"/><path fill="#d1bb59" d="M91.1 46.4l.6-.1.5.2v-.3l1.2-.3-.5-.3-2.2.6zM93.8 45.7v-.3l1.8-.5-2.2.6zM77.1 46l.3-.1.2.1v-1l-1.6.4zM48 44.5l2.3-.6-1.3-.6-2.2.6z"/><path fill="#92bf73" d="M59.9 58.4l2.2-.6-1.3-.6-2.2.6zM62.6 57.7l2.3-.6-1.3-.6-2.2.6z"/><path fill="#e1b952" d="M73.7 49.4l2.2-.6-1.2-.6-2.2.6zM78 44.8v-.3l-.4.1zM59.9 44.7l2.2-.6-1.3-.6-2.2.6z"/><path fill="#fec832" d="M84.8 42.4l2.2-.6-1.2-.5-2.3.5zM90.3 41l2.3-.6-1.3-.6-2.2.6zM93.1 40.2l2.2-.6-1.2-.6-2.3.6zM95.9 39.4l2.2-.6-1.3-.6-2.2.6zM98.7 38.8l2.2-.6-1.3-.6-2.2.6zM101.4 37.9l2.2-.6-1.2-.6-2.2.6zM107 36.5l2.2-.6-1.3-.6-2.2.6zM115.3 34.3l2.2-.6-1.3-.6-2.2.6zM118 33.6l2.3-.6-1.3-.6-2.2.6zM120.8 32.7l2.2-.6-1.2-.6-2.2.6zM123.6 32.1l2.2-.6-1.3-.6-2.2.6zM126.4 31.3l2.2-.6-1.3-.5-2.2.5zM129.1 30.5l2.2-.6-1.2-.6-2.2.6zM131.9 30l2.2-.6-1.3-.6-2.2.6z"/><path fill="#1079da" d="M55.1 72.7h.3v-1l-1.5.4zM38.1 66.5l.4-.1v-.9l-1.6.4z"/><path fill="#7cbf7b" d="M51.6 53.4l2.2-.6-1.3-.6-2.2.6zM46.1 46.8l.7-.2v-.9l-2 .5z"/><path fill="#f5e41d" d="M65.4 36.7l2.2-.6-1.2-.6-2.2.6zM68.2 35.9l2.2-.6-1.2-.6-2.3.6zM71 35.2l2.2-.6-1.3-.6-2.2.6zM73.7 34.6l2.3-.6-1.3-.6-2.2.6zM82.1 32.1l2.2-.6-1.3-.6-2.2.6zM87.6 30.7l2.2-.6-1.3-.6-2.2.6zM90.4 29.9l2.2-.5-1.3-.6-2.2.5zM93.1 29.2l2.3-.6-1.3-.6-2.2.6zM95.9 28.5l2.2-.6-1.2-.6-2.3.6zM98.7 27.8l2.2-.6-1.3-.6-2.2.6zM101.4 27.2l2.3-.6-1.3-.6-2.2.6zM104.2 26.4l2.2-.6-1.2-.6-2.2.6zM107 25.7l2.2-.6-1.3-.6-2.2.6zM109.8 24.8l2.2-.5-1.3-.6-2.2.5zM118.1 22.6l2.2-.6-1.3-.6-2.2.6zM53.6 34.9l2.2-.6-1.3-.6-2.2.6zM59.1 33.4l2.2-.6-1.2-.6-2.3.6zM61.9 32.6l2.2-.6-1.3-.6-2.2.6zM64.7 31.8l2.2-.6-1.3-.6-2.2.6zM67.4 31l2.2-.6-1.2-.6-2.2.6zM70.2 30.5l2.2-.6-1.3-.6-2.2.6zM73 29.6l2.2-.5-1.3-.6-2.2.5zM75.7 29.1l2.3-.6-1.3-.6-2.2.6zM78.5 28.1l2.2-.6-1.2-.6-2.3.6zM81.3 27.5l2.2-.6-1.3-.6-2.2.6zM84 26.8l2.3-.5-1.3-.6-2.2.5zM89.6 25.3l2.2-.6-1.3-.6-2.2.6zM92.4 24.6l2.2-.6-1.3-.6-2.2.6zM95.1 23.9l2.2-.6-1.2-.6-2.2.6zM97.9 23l2.2-.6-1.3-.6-2.2.6zM100.7 22.3l2.2-.6-1.3-.6-2.2.6zM103.4 21.6l2.2-.6-1.2-.6-2.2.6zM109 20l2.2-.6-1.3-.6-2.2.6zM111.7 19.4l2.3-.6-1.3-.5-2.2.5zM114.5 18.6l2.2-.6-1.2-.6-2.3.6z"/><path fill="#f5de21" d="M76.5 33.9l2.2-.6-1.2-.6-2.3.6zM79.3 33.2l2.2-.6-1.3-.6-2.2.6zM84.8 31.7l2.2-.6-1.2-.6-2.2.6zM112.5 24.3l2.2-.6-1.2-.6-2.2.6zM115.3 23.6l2.2-.6-1.3-.6-2.2.6zM120.8 22.1l2.2-.6-1.2-.6-2.2.6z"/><path fill="#f5eb18" d="M56.3 33.9l2.3-.6-1.3-.6-2.2.6zM86.8 25.8l2.2-.6-1.2-.5-2.2.5zM106.2 20.6l2.2-.6-1.2-.5-2.3.5z"/><path fill="#ffc337" d="M52.3 35.9v-.3l-.4.1z"/><path fill="#42bb98" d="M33.4 52.2l2.2-.5-1.2-.6-2.3.5zM31.8 51.1l2.2-.6-1.2-.6-2.2.6z"/><path fill="#f7d826" d="M42.9 33l2.2-.6-1.2-.6-2.3.6zM41.3 32.7l.3-.1v-.2l1.6-.4-.9-.5-2.2.6z"/></g>
<g font-size="3.3" fill="#606060" letter-spacing="0"><text transform="translate(21.4 72.2)scale(1.3 1)" text-anchor="end" letter-spacing="0.5">0</text><text transform="translate(21.4 64.1)scale(1.3 1)" text-anchor="end" letter-spacing="0.5">0.2</text><text transform="translate(21.4 56.1)scale(1.3 1)" text-anchor="end" letter-spacing="0.5">0.4</text><text transform="translate(21.4 48)scale(1.3 1)" text-anchor="end" letter-spacing="0.5">0.6</text><text transform="translate(21.4 40)scale(1.3 1)" text-anchor="end" letter-spacing="0.5">0.8</text><text transform="translate(21.4 31.9)scale(1.3 1)" text-anchor="end" letter-spacing="0.5">1</text><text transform="translate(18.1 74.5)scale(1.3 1)" text-anchor="middle">0</text><text transform="translate(33.9 82)scale(1.3 1)" text-anchor="middle">10</text><text transform="translate(49.7 89.5)scale(1.3 1)" text-anchor="middle">20</text><text transform="translate(65.5 96.9)scale(1.3 1)" text-anchor="middle">30</text><text transform="translate(81.3 104.4)scale(1.3 1)" text-anchor="middle">40</text><text transform="translate(119.1 97.1)scale(1.3 1)" text-anchor="middle">10</text><text transform="translate(146.8 89.8)scale(1.3 1)" text-anchor="middle">20</text><text transform="translate(174.5 82.4)scale(1.3 1)" text-anchor="middle">30</text></g>
<text font-size="4.3" fill="#4a4a4a" text-anchor="middle" transform="translate(7.6 43.9) rotate(-90)" textLength="29.7" lengthAdjust="spacingAndGlyphs">Entropia promedio H</text>
<text font-size="3.5" fill="#4a4a4a" x="14.2" y="106.5" textLength="41.3" lengthAdjust="spacingAndGlyphs">Numero de intentos</text>
<text font-size="3.5" fill="#4a4a4a" x="117.4" y="111.6" textLength="56.7" lengthAdjust="spacingAndGlyphs">Numero de iteraciones MoE</text>
<text font-size="3.3" font-weight="bold" stroke="#000" stroke-width="0.12" fill="#000" x="34.8" y="7.7" textLength="123.2" lengthAdjust="spacingAndGlyphs">Entropia segun intentos e iteraciones de MoE Clasico</text>
<path d="M252.1 75.1L335.2 54.5M335.2 54.5L335.2 14.2M261.2 79.6L344.3 59M344.3 59L344.3 18.6M270.3 84L353.4 63.4M353.4 63.4L353.4 23.1M279.5 88.4L362.6 67.8M362.6 67.8L362.6 27.5M288.6 92.8L371.7 72.2M371.7 72.2L371.7 31.9M297.7 97.3L380.8 76.7M380.8 76.7L380.8 36.4M306.8 101.7L389.9 81.1M389.9 81.1L389.9 40.8M256.9 67.3L320.6 98.3M256.9 67.3L256.9 26.9M270.7 63.8L334.5 94.8M270.7 63.8L270.7 23.5M284.5 60.4L348.4 91.4M284.5 60.4L284.5 20.1M298.4 57L362.2 88M298.4 57L298.4 16.6M312.2 53.5L376 84.5M312.2 53.5L312.2 13.2M326.1 50.1L389.9 81.1M326.1 50.1L326.1 9.8M243 70.7L326.1 50.1M326.1 50.1L389.9 81.1M243 64L326.1 43.4M326.1 43.4L389.9 74.4M243 57.3L326.1 36.7M326.1 36.7L389.9 67.7M243 50.5L326.1 29.9M326.1 29.9L389.9 60.9M243 43.8L326.1 23.2M326.1 23.2L389.9 54.2M243 37.1L326.1 16.5M326.1 16.5L389.9 47.5M243 30.4L326.1 9.8M326.1 9.8L389.9 40.8M326.1 50.1L326.1 9.8M389.9 81.1L389.9 40.8M243 30.4L326.1 9.8M326.1 9.8L389.9 40.8" stroke="#e6e6e6" stroke-width="0.3" fill="none"/>
<path d="M243 70.7L243 30.4M243 70.7L306.8 101.7M306.8 101.7L389.9 81.1M243 70.7L243.9 70.5M243 64L243.9 63.7M243 57.3L243.9 57M243 50.5L243.9 50.3M243 43.8L243.9 43.6M243 37.1L243.9 36.9M243 30.4L243.9 30.1M252.1 75.1L254.6 74.5M261.2 79.6L263.7 78.9M270.3 84L272.8 83.4M279.5 88.4L282 87.8M288.6 92.8L291.1 92.2M297.7 97.3L300.2 96.7M306.8 101.7L309.3 101.1M320.6 98.3L319.7 97.8M334.5 94.8L333.5 94.4M348.4 91.4L347.4 90.9M362.2 88L361.2 87.5M376 84.5L375.1 84.1M389.9 81.1L388.9 80.6" stroke="#9a9a9a" stroke-width="0.35" fill="none"/>
<g stroke="rgba(0,0,0,0.5)" stroke-width="0.25" stroke-linejoin="round"><path fill="url(#bF1)" d="M300.1 97.2v-3.4l-1.5-.7v3.4zM298.3 96.3v-4.1l-1.5-.8v4.2zM296.4 95.4v-2.9l-1.4-.7v2.9zM294.6 94.6v-4.2l-1.4-.7v4.1zM292.8 93.7v-4.5l-1.5-.7v4.5zM291 92.8v-3.5l-1.5-.7v3.5zM289.1 91.9v-3.6l-1.4-.7v3.6zM287.3 91v-2.8l-1.4-.7v2.8zM285.5 90.1v-2.9l-1.5-.7v2.9zM283.7 89.2v-2.7l-1.5-.7v2.7zM281.8 88.4v-4.1l-1.4-.7v4zM280 87.5v-2.6l-1.4-.7v2.6zM278.2 86.6v-3.9l-1.5-.7v3.9zM276.4 85.7v-4.2l-1.5-.7v4.2zM274.6 84.8v-4.3l-1.5-.7v4.3zM272.7 83.9v-1.5l-1.4-.7v1.5zM270.9 83v-3.8l-1.4-.8v3.9zM269.1 82.2v-1.4l-1.5-.7v1.3zM267.3 81.3v-3.7l-1.5-.7v3.7zM265.4 80.4v-4.3l-1.4-.7v4.3zM263.6 79.5v-2.6l-1.4-.8v2.7zM261.8 78.6v-3.3l-1.5-.7v3.3zM260 77.7v-1.7l-1.5-.7v1.7zM258.2 76.8v-4.4l-1.5-.7v4.4zM256.3 76v-2.2l-1.4-.7v2.1zM254.5 75.1v-3.1l-1.5-.7v3.1zM252.7 74.2v-3.8l-1.5-.7v3.8zM250.9 73.3v-2.9l-1.5-.7v2.9zM249 72.4v-4.2l-1.4-.7v4.2zM247.2 71.5v-9.2l-1.4-.7v9.2z"/><path fill="url(#bS30)" d="M302.3 96.7v-3.5l-2.2.6v3.4zM305.1 96v-31.7l-2.3.6v31.6zM307.8 95.3v-32.4l-2.2.5v32.4zM310.6 94.6v-32l-2.2.5v32.1zM313.4 93.9v-32l-2.2.5v32.1zM316.1 93.2v-31.6l-2.2.6v31.6zM318.9 92.5v-31.7l-2.2.5v31.8zM321.7 91.9v-32.2l-2.2.6v32.1zM324.5 91.2v-32.4l-2.3.6v32.3zM327.2 90.5v-32.2l-2.2.6v32.1zM330 89.8v-31.6l-2.2.5v31.6zM332.8 89.1v-32l-2.3.5v32.1zM335.5 88.4v-31.6l-2.2.6v31.6zM338.3 87.7v-32.1l-2.2.5v32.2zM341.1 87.1v-31.9l-2.2.6v31.8zM343.8 86.4v-32.1l-2.2.6v32zM346.6 85.7v-32.4l-2.2.6v32.3zM349.4 85v-32.1l-2.2.6v32zM352.2 84.3v-31.9l-2.3.6v31.9zM354.9 83.6v-32l-2.2.6v32zM357.7 82.9v-31.6l-2.2.5v31.7zM360.5 82.2v-32l-2.3.6v32zM363.2 81.6v-31.8l-2.2.6v31.7zM366 80.9v-32.3l-2.2.5v32.3zM368.8 80.2v-31.7l-2.2.5v31.7zM371.5 79.5v-31.9l-2.2.5v31.9zM374.3 78.8v-32l-2.2.6v32zM377.1 78.1v-31.4l-2.2.5v31.5zM379.9 77.4v-32.1l-2.3.6v32.1zM382.6 76.8v-32.1l-2.2.5v32.1z"/><path fill="url(#bF2)" d="M302.8 96.5v-31.6l-1.4-.7v28.6l.9.4v3.1zM301 66.3l-1.4-.7v25.6l.9.4v1l.3-.1.2.1zM299.2 82l-1.5-.7v9.9l1.3-.3.2.1zM297.4 78l-1.5-.7v12.1l.9.4v1.5l.4-.1.2.1zM295.6 81.5l-1.5-.7v7.4l.9.5v.5l.4-.1.2.1zM291.9 84.2l-1.4-.7v3.8l.9.4v.5l.3-.1.2.1zM290.1 79.8l-1.5-.7v8.1l.2.1 1.1-.3.2.1zM288.3 76.4l-1.5-.7v10.5l.9.5v.4l.4-.1.2.1zM286.4 78.6l-1.4-.8v7.7l.9.4v.1h.4l.1.1zM284.6 77.5l-1.4-.7v6.5l.9.4v1.6l.3-.1.2.1zM281.3 82.5v.8l1.2-.3zM281 79.1l-1.5-.7v3.3l.9.5v1.4l.6-.2zM279.1 58.6l-1.4-.7v22.6l.9.4v.7l.4-.1.1.1zM277.3 73.1l-1.4-.7v7.1l.9.5v.3l.3-.1.2.1zM275.5 66.7l-1.5-.7v13.6l1.3-.3.2.1zM273.7 69.7l-1.5-.7v9.2l.9.4v1.2l.6-.1zM271.9 76.7l-1.5-.7v2.2l1.3-.3.2.1zM270 64.7l-1.4-.7v12.6l.9.5v1.3l.5-.1zM268.2 69.2l-1.4-.7v6.6l.9.5v.8h.3l.2.1zM266.4 70.3l-1.5-.7v5.6l1.3-.4.2.1zM264.6 64.4l-1.5-.7v10.7l.9.4v.6l.6-.1zM262.7 66.8l-1.4-.7v8.3l1.3-.3.1.1zM260.9 68l-1.4-.7v4.1l.9.5v2.7l.5-.1zM259.1 64.2l-1.5-.7v8l1.3-.3.2.1zM257.3 63l-1.5-.7v8.8l.9.4v.2l.6-.1zM255.5 61.5l-1.5-.7v8.6l.9.5v1l.4-.1.2.1zM253.6 63.5l-1.4-.7v6.6l.1.1 1.1-.3.2.1zM251.8 61.9l-1.5-.7v6l1 .5v1.5l.3-.1.2.1zM250 50.7l-1.5-.7v11.4l.9.4v5.3l.4-.1.2.1z"/><path fill="url(#bF3)" d="M305.6 95.8v-32.4l-1.4-.7v1.2l.9.4v31.3zM302 61.7l-1.5-.7v4.3l.9-.2v-.9l.6-.2zM300.1 64l-1.4-.8v13.8l.9.5v-11.9l.5-.2zM296.5 75.6l-1.5-.7v5.7l.9-.2v-3.1l.6-.1zM293.2 80.1v3.1l.9.5v-2.9l.5-.1zM287.4 75.5l-1.5-.7v1.7l.9.4v-1.2l.6-.1zM283.7 73l-1.4-.7v5.8l.9.4v-1.7l.5-.2zM281.9 45.7l-1.4-.7v12.6l.9.5v19.8h.3h.2zM269.2 63.3l-1.5-.7v5.7l.9-.3v-4l.6-.1zM267.3 61.4l-1.4-.7v2.8l.9.4v4.6l.5-.1zM263.7 55.3l-1.5-.7v11.3l.9-.2v-2l.6-.1zM261.9 55.4l-1.5-.7v8.5l.9.5v2.4l.6-.1zM260 58.1l-1.4-.7v4.6l.9.5v.5l.4-.1.1.1zM258.2 52.7l-1.4-.7v8.5l.9.5v.9l.3-.1.2.1zM256.4 55.4l-1.5-.7v5.9l1.3-.3.2.1zM254.6 50.4l-1.5-.7v11.3l.9.4v-.6l.6-.1zM252.8 49.8l-1.5-.7v.6l.9.5v10.6l.4-.1.2.1z"/><path fill="url(#bF4)" d="M308.4 95.2v-32.1l-1.5-.7v.1l.9.4v32zM301.1 59.7l-1.5-.7v4l.9-.2v-1.8l.6-.2zM295.6 74.1l-1.4-.7v6.4l.8-.2v-4.7l.6-.1zM292 77.2l-1.5-.7v2.1l1.3-.3.2.1zM286.5 70.7l-1.4-.7v2l.9.4v2.4l.5-.2zM284.7 44.8l-1.5-.7v.6l.9.4v26.7l.4-.1.2.1zM266.8 59.7v.7l1-.2zM266.5 42.2l-1.5-.8v13l.9.4v5.9l.6-.2zM264.6 38.6l-1.4-.7v16.5l1.2-.3.2.1zM262.8 40.7l-1.4-.7v14.5l1.2-.3.2.1zM261 37.4l-1.5-.7v15l.9.5v2.5l.6-.1zM259.2 40l-1.5-.7v12.5l1.3-.4.2.1zM257.3 36.2l-1.4-.7v14l.9.4v2.1l.5-.1zM255.5 38.3l-1.4-.7v11.2l.9.5.3-.1.2.1z"/><path fill="url(#bF5)" d="M311.2 94.5v-32.1l-1.5-.7v.4l.9.5v31.6zM307.5 60.4l-1.4-.7v1.2l.9.4v1.1l.5-.2zM303.9 58.8l-1.5-.7v.7l.9.4v1.5l.6.3zM300.2 57.6l-1.4-.7v6.3l.8-.2v-4l.6-.1zM292.9 71.1l-1.4-.7v5.8l1.2-.3.2.1zM291.1 73l-1.5-.7v2.2l1 .4v1.5l.5-.1zM289.3 67.8l-1.5-.7v2.6l.9.5v4.1l.4-.1.2.1zM287.5 44.1l-1.5-.7v.4l.9.5v25.2l.4-.1.2.1zM276.5 60.9l-1.4-.7v5.5l1.2-.3.2.1zM269.2 41.2l-1.4-.7v.7l.9.4v17.6h.3h.2zM267.4 37.4l-1.4-.7v.9l.9.4v3l.3-.1.2.1zM263.8 36.5l-1.5-.7v.6l.9.4v1.1l.6-.2zM260.1 35.7l-1.4-.7v.2l.9.4v1l.5-.1z"/><path fill="url(#bF6d)" d="M313.9 93.8v-31.6l-.5-.3v31.6zM306.6 58.6l-.5-.2v1.3l.5-.1zM273.8 62.9l-.5-.3v2l.5.3z"/><path fill="url(#bF7)" d="M316.7 93.1v-31.8l-1.5-.7v.6l.9.4v31.2zM309.4 57.2l-1.5-.7v1.1l1 .5v1.2l.5-.1zM305.8 55.7l-1.5-.7v.9l.9.4v1.5l.2.1.4-.1zM302.1 54.4l-1.4-.7v2.7l.3-.1.5.3v-.4l.6-.2zM300.3 55.8l-1.5-.7v1.7l1.5-.3zM293.4 69.1v.8l.3-.1.5.3v-.6zM293 43.1l-1.5-.8v.5l.9.4v26.9l.6-.1zM276.6 59.7l-1.5-.7v1.2l1.5-.4zM274.8 39.6l-1.5-.7v.6l.9.4v20.8l.6-.1zM272.9 36.4l-1.4-.7v.3l.9.4v2.9l.4-.1.1.1zM269.3 35l-1.5-.7v.5l.9.4v1.1l.6-.2zM265.7 34.1l-1.5-.7v.3l.9.5v.9l.6-.2z"/><path fill="url(#bF8)" d="M319.5 92.4v-32.1l-1.5-.7v.7l.9.5v31.3zM315.8 58.5l-1.4-.8v1.1l.9.4v1.4l.5-.1zM304.9 53.1l-1.5-.7v1l.9.5v1.1l.6-.2zM301.2 52.1l-1.4-.7v3.5l.9-.2v-1l.5-.1zM295.8 42.2l-1.5-.7v.6l.9.4v26.2l.4-.1.2.1zM277.5 39.1l-1.4-.7v.2l.9.4v19.6l.4-.1.1.1zM275.7 35.3l-1.4-.8v.9l.9.4v2.6l.3-.1.2.1zM272.1 34.6l-1.5-.7v.1l.9.5v1.1l.6-.1zM268.4 33.2l-1.4-.7v.6l.9.5v.7l.5-.1z"/><path fill="url(#bF9)" d="M322.2 91.7v-32.3l-1.4-.8v.7l.9.4v31.8zM314.9 56.4l-1.4-.7v.5l.9.4v1.1l.5-.1zM311.3 54.9l-1.5-.7v.2l.9.5v1.3l.3.2.3-.1zM304 51.3l-1.4-.7v.5l.9.4v.9l.5-.1zM280.3 38.2l-1.4-.7v.6l.9.5v18.1l.5-.2zM278.5 34.9l-1.5-.8v.2l.9.4v3.3l.4-.1.2.1zM274.8 33.7l-1.4-.7v.6l.9.4v.5l.5-.1zM271.2 32.5l-1.5-.7v.5l.9.4v1.2l.6-.2z"/><path fill="url(#bF10)" d="M325 91v-32.1l-1.5-.7v.2l1 .4v32zM321.4 57l-1.5-.7v1.2l.9.4v.7l.6-.1zM317.7 55.5l-1.4-.7v.6l.9.5v1.6l.4.2.1-.1zM314.1 53.4l-1.5-.7v1.3l.9.4v1.3l.6-.1zM310.4 51.8l-1.4-.7v1l.9.4v1.7l.5-.1zM306.8 49.8l-1.5-.7v1.2l.9.5v1.3l.3.2.3-.1zM301.3 40.8l-1.4-.7v.8l.9.5v9.7l.5-.1zM283.1 37.6l-1.5-.7v.3l.9.5v6.8l.2-.1.4.2zM281.3 34.5l-1.5-.8v.2l.9.4v2.8l.4-.1.2.1zM277.6 32.8l-1.4-.7v.6l.9.4v1l.5-.1zM274 31.8l-1.5-.7v.5l.9.4v1l.6-.2z"/><path fill="url(#bF11d)" d="M327.8 90.3v-31.6l-.6-.2v31.6zM324.1 57.1l-.5-.3v1.4l.5-.2z"/><path fill="url(#bF12)" d="M330.5 89.7v-32.1l-1.4-.7v.8l.9.5v31.2zM326.9 56.4l-1.5-.7v.4l.9.4v1.4l.2.1.4-.1zM319.6 52l-1.4-.7v.5l.9.4v1.5l.5-.1zM316 50.4l-1.5-.7v.7l.9.4v1.2l.6-.1zM307.2 48.7l.3-.1.6.3.4-.2-1.3-.6zM306.8 39.9l-1.4-.8v.4l.9.4v9l.5-.1zM294.1 41.7l-1.5-.7v1.1l1.2-.3.3.2zM292.3 40.8l-1.5-.7v2.5l.2-.1.5.3v-.5l.8-.1zM290.4 39.9l-1.4-.7v3.8l1.4-.4zM288.6 36.4l-1.4-.7v.2l.9.5v6.5h.1l.4.2zM286.8 32.6l-1.5-.7v.2l.9.5v3.2l.4-.1.2.1zM283.2 31.5l-1.5-.7v.6l.9.4v.6l.6-.1zM279.5 30.8l-1.5-.8v.1l1 .5v1.1l.5-.2z"/><path fill="url(#bF13d)" d="M333.3 89v-31.6l-.5-.3v31.6zM322.4 52l-.6-.3v1.8h.2l.4-.1z"/><path fill="url(#bF14)" d="M336.1 88.3v-32.2l-1.5-.7v1l.9.4v31.2zM332.4 54.2l-1.4-.7v.6l.9.4v2.1l.5-.1zM328.8 53.1l-1.5-.7v.3l.9.4v1.2l.6-.1zM325.1 50.7l-1.4-.7v1l.9.5v1.4l.5-.1zM321.5 49.6l-1.5-.7 1 .4v1.7l.3.2h.2zM317.9 47.6l-1.5-.7v.5l.9.4v1.4l.6-.2zM314.2 47.4l-1.4-.7v.4l.9.5v.1l.5-.2zM312.4 38.4l-1.5-.7.9.5v8.7l.4-.1.2.1zM299.6 40.3l-1.4-.7v.4l.9.5v.2l.3-.1.2.1zM297.8 39.4l-1.5-.7v.4l1 .5v.3l.3-.1.2.1zM296 38.6l-1.5-.7v.4l.9.4v.3l.4-.1.2.1zM294.2 34.9l-1.5-.7v.2l.9.5v3.2l.4-.1.2.1zM292.3 31.6l-1.4-.8.9.5v3l.3-.1.2.1zM288.7 30.4l-1.5-.7.9.5v.9l.6-.1zM285 28.9l-1.4-.7v.8l.9.5v.5l.5-.2z"/><path fill="url(#bF15)" d="M338.9 87.6v-31.8l-1.5-.8v.1l.9.5v31.7zM331.6 52.3l-1.5-.7v.5l.9.4v1l.6-.1zM324.3 48.9l-1.5-.7v.4l.9.4v1l.6-.2zM320.6 47.2l-1.4-.7v.1l.9.4v1.9l.5-.2zM317 46.7l-1.5-.7v.4l.9.5zM315.2 37.4l-1.5-.7v.7l.9.5v8.4l.4-.1.2.1zM302.4 39.6l-1.5-.7v.4l.7.4.5-.1.3.1zM300.6 38.8l-1.5-.7v.4l.9.4v.3l.4-.1.2.1zM298.8 37.9l-1.5-.7v.4l.9.4v.3l.4-.1.2.1zM296.9 34.3l-1.4-.7v.3l.9.4v3.1l.3-.1.2.1zM295.1 30.8l-1.5-.7v.5l1 .4v2.7l.3-.1.2.1zM291.5 29.7l-1.5-.7v.4l.9.4v1l.6-.1zM287.8 28.6l-1.4-.7.9.5v1.2l.5-.1z"/><path fill="url(#bF16)" d="M341.6 86.9v-32l-1.4-.7v.6l.9.4v31.4zM338 53.3l-1.5-.7v.6l.9.5v1.3l.6-.1zM334.3 51.4l-1.4-.7v.6l.9.4v1.6l.3.1h.2zM330.7 49.8l-1.5-.7v.6l.9.4v1.5l.6-.2zM327 48.2l-1.4-.7v.4l.9.5v1.3l.3.2.2-.1zM323.4 46.1l-1.5-.7v.8l.9.5v1.5l.6-.1zM319.8 46l-1.5-.7v.4l.9.5v.3l.6-.1zM317.9 36.6l-1.4-.7v.5l.9.5v8.7l.3-.1.2.1zM305.2 39l-1.5-.7v.4l.9.4v.1h.2l.4.1zM303.3 38.1l-1.4-.7v.4l.9.4v.3l.4-.1.1.1zM301.5 37.2l-1.4-.7v.4l.9.4v.3l.3-.1.2.1zM299.7 33.9l-1.5-.7v.1l.9.4v3l.4-.1.2.1zM297.9 30.4l-1.5-.7v.1l.9.5v2.8l.4-.1.2.1zM294.2 29l-1.4-.7v.4l.9.4v1l.5-.1zM290.6 28.1l-1.5-.7v.2l.9.4v1l.6-.2z"/><path fill="url(#bF17)" d="M344.4 86.2v-32.3l-1.5-.7v.7l.9.4v31.7zM340.8 52.4l-1.5-.7v.6l.9.4v1.5l.6-.2zM333.5 48.6l-1.5-.7v.9l.9.4v1.4l.6-.1zM329.8 47l-1.4-.7v.9l.9.5v1.4l.5-.2zM326.2 45.7l-1.5-.7.9.5v2l.6-.1zM321.1 44.6v.5l.8.4v-.1l.4-.1zM320.7 35.9l-1.5-.8v.5l.9.5v8.8l.4-.1.2.1zM307.9 38.3l-1.4-.7v.4l.9.4v.3l.4-.1.1.1zM306.1 37.4l-1.4-.7v.4l.9.4v.3l.3-.1.2.1zM304.3 36.5l-1.5-.7v.4l.9.4v.3l.4-.1.2.1zM302.5 32.6l-1.5-.7v1l.9.4v2.7l.4-.1.2.1zM300.6 29l-1.4-.7v1.1l.9.4v2.9l.4-.1.1.1zM297 28.5l-1.5-.7v.2l.9.4v1.3l.6-.2zM293.4 27.3l-1.5-.8v.6l.9.5v.7l.6-.2z"/><path fill="url(#bF18)" d="M347.2 85.5v-32l-1.5-.7v.1l.9.4v32zM343.5 51.6l-1.4-.7v.5l.9.4v1.4l.5-.2zM339.9 49.6l-1.5-.7v1.2l.9.4v1.1l.6-.1zM328.9 44.6l-1.4-.7v.8l.9.5v1.1l.5-.1zM325.3 44.7l-1.5-.7v.4l.9.4v.2l.6-.1zM310.7 37.6l-1.4-.7v.4l.6.3.5-.2zM308.9 36.7l-1.5-.7v.4l.9.4v.3l.4-.1.2.1zM307.1 35.8l-1.5-.7v.4l.9.5v.2l.4-.1.2.1zM303.4 28.7l-1.4-.7.9.5v2.9h.3h.2zM299.8 27.4l-1.5-.7v.8l.9.4v.4l.6-.2zM296.1 26.7l-1.4-.7v.3l.9.4v1.1l.5-.2z"/><path fill="url(#bF19)" d="M349.9 84.9v-31.9l-1.4-.7v.2l.9.4v31.7zM342.6 49.1l-1.4-.7v.3l.9.4v1.8l.5-.2zM339 47.5l-1.5-.7v.7l.9.4v1l.6-.1zM335.4 46.2l-1.5-.7v.4l.9.4v1.3l.1.1.5-.1zM331.7 43.9l-1.5-.7v.4l1 .5v1.9l.1.1.4-.1zM326.6 43.7l.9.4v-.2l.2-.1-1.1-.5zM326.2 34.9l-1.4-.7v.5l.9.4v8.4l.4-.1.1.1zM313.5 36.9l-1.5-.7v.4l.9.4v.2h.2l.4.1zM311.7 36l-1.5-.7v.4l.9.5v.2l.4-.1.2.1zM309.8 35.1l-1.4-.7v.4l.9.5v.2l.3-.1.2.1zM308 31.8l-1.4-.7v.3l.9.4v2.8h.3h.2zM306.2 28l-1.5-.7v.4l.9.5v3l.4-.1.2.1zM302.5 26.8l-1.4-.7v.3l.9.5v1.1l.5-.1zM298.9 25.5l-1.5-.8v1l.9.5v.5l.6-.1z"/><path fill="url(#bF20)" d="M352.7 84.2v-32l-1.5-.8v.6l1 .4v31.5zM349.1 50.1l-1.5-.7v1l.9.4v1.4l.6-.1zM341.8 46.9l-1.5-.7v.4l.9.4v1.4l.6-.1zM338.1 45.4l-1.4-.7v.5l.9.4v1.2l.5-.1zM334.5 43.5l-1.5-.7v.1l.9.5v2.1l.6-.2zM329.4 43l.8.4v-.2l.3-.1-1.1-.5zM329 34.2l-1.4-.7v.4l.9.4v8.5l.3-.1.2.1zM316.2 36.2l-1.4-.7v.4l.7.4.4-.1.3.1zM314.4 35.3l-1.4-.7v.4l.9.5v.2l.3-.1.2.1zM312.6 34.4l-1.5-.7v.4l.9.5v.2h.4h.2zM310.8 31l-1.5-.7v.5l.9.5v2.7l.4-.1.2.1zM309 27.4l-1.5-.7v.3l.9.4v3.3l.4-.1.2.1zM305.3 26l-1.4-.7v.6l.9.4v1l.5-.2zM301.7 25.1l-1.5-.7v.1l.9.4v1.2l.6-.1z"/><path fill="url(#bF21)" d="M355.5 83.5v-31.7l-1.5-.7.9.5v31.6zM351.8 49.7l-1.4-.8v.2l.9.5v1.8l.5-.1zM348.2 48.3l-1.5-.7v.4l.9.4v1l.6-.1zM344.5 46l-1.4-.7v.6l.9.5v1.7l.1.1.4-.1zM340.9 44.7l-1.5-.7v.5l.9.4v1.3l.6-.1zM337.2 42.3l-1.4-.7v.9l.9.4v1.8l.5-.1zM333.6 42.6l-1.5-.7v.4l.9.5zM331.8 33.2l-1.5-.7v.7l.9.5v8.4l.4-.1.2.1zM317.6 34.8v.4l.5.3.6-.1zM317.2 34.6l-1.5-.7v.4l.9.5v.2h.4h.2zM315.4 33.8l-1.5-.8v.5l.9.4v.3l.4-.1.2.1zM313.6 30.2l-1.5-.7v.5l.9.5v2.8l.4-.1.2.1zM311.7 26.6l-1.4-.7v.5l.9.5v2.9h.3h.2zM308.1 25.2l-1.5-.7v.5l.9.5v1.2l.6-.1zM304.4 24.4l-1.4-.7v.4l.9.4v.8l.5-.1z"/><path fill="url(#bF22)" d="M358.2 82.8v-32l-1.4-.7v.7l.9.5v31.2zM354.6 49.3l-1.5-.7v.1l.9.4v2l.6-.1zM351 46.9l-1.5-.7v1.1l.9.5v1.1l.6-.1zM347.3 45.4l-1.4-.7v.3l.9.4v2.2l.5-.1zM343.7 43.3l-1.5-.7v1.1l.9.4v1.1l.6-.1zM334.9 41.2v.4l.9.4v-.4zM334.5 32.4l-1.4-.7v.6l.9.4v8.7h.4h.1zM320.3 34.1v.4l.5.3.5-.2zM320 34l-1.5-.8v.5l.9.4v.3l.4-.1.2.1zM318.1 33.1l-1.4-.7v.4l.9.4v.3l.4-.1.1.1zM316.3 29.6l-1.4-.8v.4l.9.5v2.9l.3-.1.2.1zM314.5 25.7l-1.5-.7v.6l.9.5v2.9h.4h.2zM310.9 24.6l-1.5-.7v.3l.9.4v1.3l.6-.1zM307.2 24l-1.5-.7v.1l1 .4v.7l.5-.2z"/><path fill="url(#bF23)" d="M361 82.1v-31.7l-1.4-.7v.1l.9.4v31.6zM357.4 48.5l-1.5-.7v.5l.9.4v1.4l.6-.2zM346.4 43l-1.4-.7v.1l.9.4v1.9l.5-.2zM342.8 41.4l-1.5-.7v.7l.9.4v.8l.6-.1zM339.1 41.2l-1.4-.7v.4l.3.2 1 .5.1-.1zM337.3 31.6l-1.4-.7v.5l.9.4v9l.3-.1.2.1zM324.6 34.2l-1.5-.8v.5l.9.4v.2l.2-.1.4.2zM322.7 33.3l-1.4-.7v.4l.9.4v.3l.3-.1.2.1zM320.9 32.4l-1.4-.7v.4l.9.4v.3l.3-.1.2.1zM319.1 28.9l-1.5-.8v.5l.9.4v2.9l.4-.1.2.1zM313.6 24.3l-1.4-.7.9.5v.9l.5-.2zM310 23.2l-1.5-.7v.5l.9.5v.4l.6-.2z"/><path fill="url(#bF24)" d="M363.8 81.4v-32.3l-1.5-.7v1l.9.4v31.4zM360.1 47.6l-1.4-.7v.6l.9.5v1.7l.5-.2zM356.5 46.1l-1.5-.7v.3l.9.4v1.7l.6-.1zM352.8 44.5l-1.4-.8v.5l.9.4v1.4l.5-.2zM349.2 42.4l-1.5-.7v.3l.9.4v2h.2l.4-.1zM345.6 40.5l-1.5-.7v.6l.9.5v1.4l.6-.2zM341.9 40.6l-1.4-.8v.4l.9.5zM327.3 33.5l-1.4-.7v.4l.9.4v.1l.2-.1.3.2zM325.5 32.6l-1.5-.7v.4l1 .4v.3l.3-.1.2.1zM323.7 31.7l-1.5-.7v.4l.9.4v.3l.4-.1.2.1zM321.9 28l-1.5-.7v.6l.9.4v2.9l.4-.1.2.1zM320 24.2l-1.4-.7v.9l.9.4v2.9l.3-.1.2.1zM316.4 23.3l-1.5-.7v.7l.9.4v1l.6-.2zM312.7 22.6l-1.4-.7v.4l.9.4v.9l.5-.2z"/><path fill="url(#bF25d)" d="M366.6 80.7v-31.7l-.6-.3v31.8z"/><path fill="url(#bF26)" d="M369.3 80v-31.9l-1.4-.7v.6l.9.5v31.3zM358.4 42.8l-1.5-.7v.1l.9.5v1.7l.6-.2zM354.7 41.3l-1.4-.7v.1l.9.4v1.4l.5-.1zM346 38.9l.9.4v-.4l-.9-.4zM345.6 29.9l-1.4-.7v.2l.9.5v8.8l.3-.1.2.1zM332.9 32.1l-1.5-.7v.4l.7.3.4-.1.4.2zM331 31.2l-1.4-.7v.4l.9.4v.3l.4-.1.1.1zM329.2 30.3l-1.4-.7v.4l.9.5v.2l.3-.1.2.1zM327.4 26.9l-1.5-.7v.4l.9.5v2.7h.4h.2zM325.6 22.8l-1.5-.7v.6l.9.4v3.4l.4-.1.2.1zM321.9 22.2l-1.4-.7v.4l.9.4v.7l.5-.2zM318.3 20.8l-1.5-.7v.9l.9.4v.8l.6-.2z"/><path fill="url(#bF27)" d="M372.1 79.4v-32l-1.5-.7v.5l.9.4v31.5zM368.5 45.3l-1.5-.7v.8l.9.4v1.6l.6-.1zM364.8 43.7l-1.5-.7v1l1 .5v1.1l.5-.1zM361.2 41.7l-1.5-.7v.8l.9.4v1.9l.2.1h.4zM357.5 39.9l-1.4-.7v1.1l.9.5v1.3l.5-.2zM353.9 38.6l-1.5-.7v.4l.9.5v1.8l.6-.1zM348.8 38.2l.9.4.5-.1-1.4-.7zM348.4 29.5l-1.5-.7v.1l.9.5v8.6l.4-.1.2.1zM334.2 31.1l.4.2.5-.1-.9-.5zM333.8 30.5l-1.4-.7v.4l.9.5v.2l.3-.1.2.1zM332 29.6l-1.5-.7v.4l.9.5v.2l.4-.1.2.1zM330.2 26.2l-1.5-.7v.4l.9.5v2.8l.4-.1.2.1zM328.3 22.5l-1.4-.7.9.5v3.4h.4h.1zM324.7 21.4l-1.5-.7v.5l.9.5v.4l.6-.1z"/><path fill="url(#bF28d)" d="M374.9 78.7v-31.5l-.6-.3v31.5zM371.2 45.1l-.5-.3v1.9l.5-.2zM363.9 41.6l-.5-.2v1.6l.5-.2zM360.3 39.7l-.6-.3v1.6l.6-.2z"/><path fill="url(#bF29)" d="M377.6 78v-32.1l-1.4-.7v1l.9.5v31zM374 44.8l-1.5-.8.9.5v1.9l.2.1.4-.1zM370.3 42.8l-1.4-.7v.3l.9.4v1.5h.1l.4-.1zM366.7 41.1l-1.5-.7v.2l.9.5v1.5l.6-.1zM363.1 38.6l-1.5-.7v.8l.9.4v1.6l.3.1h.3zM359.4 37l-1.4-.7v.4l.9.5v1.8l.5-.2zM354.3 36.8l.9.4v-.2l.2-.1-1.1-.5zM353.9 27.8l-1.4-.7v.6l.9.4v8.5l.4-.1.1.1zM341.2 30l-1.5-.7v.4l.9.5v.1l.2-.1.4.2zM339.4 29.1l-1.5-.7v.4l.9.5v.3l.4-.1.2.1zM337.5 28.3l-1.4-.7v.4l.9.4v.3l.3-.1.2.1zM335.7 24.5l-1.4-.7v.4l.9.4v3.2l.3-.1.2.1zM333.9 21.2l-1.5-.7v.3l.9.4v2.8l.4-.1.2.1zM330.2 20.1l-1.4-.7v.6l.9.4v.6l.5-.1zM326.6 18.7l-1.5-.7v.3l.9.4v1.6l.6-.2z"/><path fill="url(#bF30)" d="M380.4 77.3v-32.1l-1.5-.7v.4l1 .4v31.7zM376.8 44.1l-1.5-.8v.5l.9.4v.9l.6-.1zM373.1 41.4l-1.4-.7v1.1l.9.5v1.7l.5-.1zM369.5 39.7l-1.5-.7v1.1l.9.4v1.6l.6-.1zM365.8 37.8l-1.4-.7v.5l.9.4v2.4l.5-.2zM362.2 36.6l-1.5-.7v.1l.9.4v1.5l.6-.2zM357.1 36.1l.9.5v-.3l.1-.1-1-.5zM356.7 27.5l-1.4-.7.9.5v8.7l.3-.1.2.1zM342.5 28.6v.4l.5.3.6-.1zM342.1 28.5l-1.4-.7v.4l.9.4v.3l.3-.1.2.1zM340.3 27.6l-1.5-.7v.4l1 .4v.3l.3-.1.2.1zM338.5 23.9l-1.5-.7v.3l.9.4v3.2l.4-.1.2.1zM336.7 20.1l-1.5-.7v.8l.9.4v2.7l.4-.1.2.1zM333 19.2l-1.4-.7v.6l.9.4v1l.5-.2zM329.4 18.4l-1.5-.7.9.5v1.2l.6-.2z"/><path fill="url(#bS29)" d="M298.6 96.2v-3.1l1.9-.5v-1l-2.2.6v4.1z"/><path fill="url(#bS29d)" d="M301 92.6l.4.2v-26.6l-.4.1z"/><path fill="url(#bS28d)" d="M296.8 95.4v-3l-.4.1v2.9zM299.2 91l.4.2v-9.3l-.4.1z"/><path fill="url(#bS28)" d="M304.2 61.2l-2.2.5v2.3l1.6-.4.6.3zM307 61.3l-2.3.6v.7l1.7-.4.5.3zM309.7 59.9l-2.2.5v1.8l1.6-.4.6.3zM312.5 59.5l-2.2.5v1.6l1.6-.4.6.2zM315.3 59.2l-2.2.6v1.5l1.6-.4.5.3zM318 57.9l-2.2.6v2l1.7-.4.5.2zM320.8 57.9l-2.2.6v.9l1.6-.4.6.3zM323.6 56.4l-2.2.6v1.5l1.6-.4.5.3zM326.3 56.5l-2.2.6v.9l1.7-.4.5.3zM329.1 55.9l-2.2.5v1.5l1.6-.4.6.2zM331.9 54.5l-2.2.6v1.7l1.6-.5.6.3zM334.7 53.7l-2.3.5v2.3l1.7-.4.5.3zM337.4 53.7l-2.2.5v1.1l1.6-.4.6.2zM340.2 52.7l-2.2.6v1.6l1.6-.4.6.3zM343 51.8l-2.2.6v1.6l1.6-.4.5.3zM345.7 51l-2.2.6v1.4l1.7-.4.5.3zM348.5 50.8l-2.2.6v1.2l1.6-.4.6.3zM351.3 49.6l-2.2.5v2l1.6-.4.5.3zM354 49.1l-2.2.6v1.6l1.7-.4.5.3zM356.8 48.7l-2.2.6v1.7l1.6-.4.6.2zM359.6 48l-2.2.5v1.4l1.6-.4.6.3zM362.4 47.1l-2.3.5v1.9l1.7-.4.5.3zM365.1 46l-2.2.6v1.7l1.6-.5.6.3zM367.9 45.8l-2.2.6v1.8l1.6-.4.6.2zM370.7 44.7l-2.2.6v2l1.6-.4.5.3zM373.4 44.5l-2.2.6v1.4l1.7-.4.5.3zM376.2 44.2l-2.2.6v1.6l1.6-.5.6.3zM379 43.5l-2.2.6v.9l1.6-.4.5.3z"/><path fill="url(#bF4d)" d="M304.7 61.9l-.5-.3v1.1l.5-.1z"/><path fill="url(#bF6)" d="M310.3 60l-1.5-.7v.1l.9.5v1.8l.6-.1zM303 56.9l-1.5-.7v.4l.9.4v1.1l.6-.2zM295.7 70l-1.5-.7v.8l.9.4v2.7l.6-.2zM290.2 43.8l-1.4-.7.9.5v23.1l.3-.1.2.1zM274.2 65.3l.9.4v-4.6l-.9-.4zM272 40.5l-1.5-.8v.5l.9.4v18.9l.4-.1.2.1zM270.2 37l-1.5-.7v.2l.9.4v3.1l.4-.1.2.1zM266.5 35.8l-1.4-.7v.4l.9.4v.8l.5-.1zM262.9 34.7l-1.5-.7v.7l.9.5v.6l.6-.2z"/><path fill="url(#bF7d)" d="M313.1 59.8l-.6-.3v1.9l.6-.1zM298.5 71.1l-.6-.2v3.8l.6.2zM277 59.1v.6l.3-.1.4.2v-.3z"/><path fill="url(#bF9d)" d="M318.6 58.5l-.6-.3v1.4l.6-.2zM307.7 53.1l-.6-.3v1.9l.6-.1zM298.5 41.9l-.5-.2v27.4l.4-.1.1.1z"/><path fill="url(#bF13)" d="M329.7 55.1l-1.5-.8v1.1l.9.5v1l.6-.1zM326 53.7l-1.4-.7v.3l.9.4v2l.5-.2zM318.7 49.9l-1.4-.7v.2l.9.5v1.4l.5-.1zM315.1 48.4l-1.5-.7v.6l.9.4v1l.6-.1zM311.4 48.1l-1.4-.7v.4l.9.4v.4l.5-.2zM309.6 38.7l-1.4-.7v.9l.9.4v8.3l.3-.1.2.1zM296.9 41l-1.5-.7v.4l.7.4.4-.2.4.2zM295 40.1l-1.4-.7v.4l.9.5v.2l.3-.1.2.1zM293.2 39.2l-1.4-.7v.4l.9.5v.3l.3-.1.2.1zM291.4 35.4l-1.5-.7v.7l.9.5v2.9l.4-.1.2.1zM289.6 31.8l-1.5-.7v.5l.9.4v3.2h.4h.2zM285.9 30.7l-1.4-.7v.5l.9.4v1l.5-.2zM282.3 30l-1.5-.7v.5l.9.4v.6l.6-.2z"/><path fill="url(#bF15d)" d="M335.2 54.2l-.5-.3v1.5l.5-.1zM327.9 50.7l-.5-.3v1.9l.5-.1z"/><path fill="url(#bF19d)" d="M346.3 51.4l-.6-.3v1.7l.6-.2z"/><path fill="url(#bF25)" d="M362.9 46.6l-1.4-.7v.8l.9.4v1.3l.5-.1zM359.3 45.1l-1.5-.7v.7l.9.4v1.4l.6-.1zM355.6 43.2l-1.4-.7v1l.9.4v1.5l.5-.2zM352 41.7l-1.5-.7v.4l.9.4v1.9l.6-.1zM348.3 39.6l-1.4-.8v.7l.9.4v1.7l.5-.1zM343.2 39.6l.9.4v-.2l.3-.1-1.2-.5zM342.9 30.4l-1.5-.7v.8l.9.4v8.5l.4-.1.2.1zM330.1 32.8l-1.5-.7v.4l.9.4v.1h.3l.3.1zM328.3 31.9l-1.5-.7v.4l.9.4v.3l.4-.1.2.1zM326.5 31l-1.5-.7v.4l.9.4v.3l.4-.1.2.1zM324.6 27.6l-1.4-.7v.2l.9.4v3l.3-.1.2.1zM322.8 23.7l-1.5-.7v.2l1 .5v3.2l.3-.1.2.1zM319.2 22.9l-1.5-.7v.1l.9.5v.7l.6-.1zM315.5 21.9l-1.4-.7v.4l.9.5v.5l.5-.2z"/><path fill="url(#bF26d)" d="M365.7 46.4l-.6-.3v2l.3.1h.3zM362 45l-.5-.3v1.2l.5-.2zM351.1 39.3l-.6-.3v2l.6-.2z"/><path fill="url(#bS27)" d="M295 94.5v-2.7l1.8-.5v-1.5l-2.2.6v4.2zM297.4 91.3l.3-.1v-9.9l1.9-.5v-3.3l-2.2.5z"/><path fill="url(#bS27d)" d="M300.1 64v1.4l.4-.1v-1.4z"/><path fill="url(#bS26)" d="M293.2 93.6v-3.9l1.8-.5v-.5l-2.2.5v4.5zM303.3 59.2l-2.2.5v1.1l1.6-.4.6.3zM306.1 58.2l-2.2.6v2.2l1.6-.4.6.3zM308.9 58.1l-2.3.5v1l1.7-.4.5.2zM311.6 56.7l-2.2.5v2l1.6-.4.6.2zM314.4 56.6l-2.2.6v1.7l1.6-.4.6.3zM317.2 55.9l-2.3.5v1.2l1.7-.4.6.3zM319.9 55l-2.2.5v2.1l1.6-.4.6.3zM322.7 53.9l-2.2.5v1.7l1.6-.4.6.3zM325.5 53.7l-2.2.6v1.9l1.6-.4.5.3zM328.2 53.1l-2.2.6v1.8l1.7-.4.5.3zM331 52.5l-2.2.6v1.1l1.6-.4.6.3zM333.8 51.7l-2.2.6v1.1l1.6-.4.6.3zM336.6 50.8l-2.3.6v2l1.7-.4.5.2zM339.3 50.5l-2.2.6v1.3l1.6-.4.6.3zM342.1 49.1l-2.2.5v1.9l1.6-.4.6.3zM344.9 48.6l-2.3.5v1.6l1.7-.4.6.3zM347.6 48.4l-2.2.5v1.6l1.6-.4.6.3zM350.4 47.8l-2.2.5v1l1.6-.4.6.2zM353.2 46.4l-2.2.5v1.9l1.6-.4.5.3zM355.9 46.1l-2.2.6v1.7l1.7-.4.5.3zM358.7 45.5l-2.2.6v1.6l1.6-.4.6.2zM361.5 44.6l-2.2.5v1.7l1.6-.4.6.3zM364.3 44.5l-2.3.5v.7l1.7-.4.6.3zM367 43.1l-2.2.6v1.8l1.6-.4.6.3zM369.8 42.8l-2.2.6v1l1.6-.4.6.3zM372.6 42.3l-2.3.5v1.4l1.7-.4.5.3zM375.3 40.8l-2.2.6v2.5l1.6-.4.6.3z"/><path fill="url(#bS26d)" d="M295.6 89.2l.3.2v-7.9h-.3z"/><path fill="url(#bF8d)" d="M312.2 57.2l-.6-.3v2.1l.6-.1zM308.5 55.4l-.5-.2v1.3l.5-.1zM279.7 56.7v.7h.2l.6.2v-.6z"/><path fill="url(#bF11)" d="M320.5 54.4l-1.5-.7v.8l.9.5v1.3l.6-.2zM316.8 52.8l-1.4-.7v.3l.9.5v1.9l.5-.1zM313.2 51.4l-1.5-.7v.1l.9.4v1.5l.6-.1zM309.5 49.5l-1.4-.7.9.5v1.8l.5-.2zM304.1 40.4l-1.5-.7v.1l.9.5v10.1l.6-.2zM285.9 36.9l-1.5-.7v.4l.9.5v6.5l.1-.1.5.2zM284 33.1l-1.4-.7v1.1l.9.4v2.5l.3-.1.2.1zM280.4 32.4l-1.5-.7v.1l.9.4v1.5l.6-.1zM276.7 31.1l-1.4-.7v.4l.9.5v.8l.5-.2z"/><path fill="url(#bF12d)" d="M323.3 54.3l-.6-.3v2l.5.2h.1zM312.3 49.3l-.5-.3v1.7l.5-.2z"/><path fill="url(#bF17d)" d="M337.1 51.1l-.5-.3v1.8l.5-.2z"/><path fill="url(#bF20d)" d="M345.4 48.9l-.5-.2v1.9l.5-.1z"/><path fill="url(#bF23d)" d="M353.7 46.7l-.5-.3v2.2l.5-.2zM350.1 45.2l-.6-.3v1.3l.6-.1zM317.3 25.4l-.6-.3v3.3l.4-.1.2.1z"/><path fill="url(#bF28)" d="M367.6 43.4l-1.5-.8.9.5v1.5l.6-.2zM356.6 37.7l-1.4-.7v.7l.9.4v1.1l.5-.1zM351.5 37.5l.9.4.6-.1-1.5-.7zM351.2 28.7l-1.5-.7v.5l.9.4v8.4l.4-.1.2.1zM337 30v.4l.2.1.6-.1zM336.6 29.8l-1.5-.7v.4l.9.5v.2l.4-.1.2.1zM334.8 28.9l-1.5-.7v.4l.9.5v.3l.4-.1.2.1zM332.9 25.2l-1.4-.8v.9l.9.4v2.8l.4-.1.1.1zM331.1 21.7l-1.4-.7v.6l.9.4v3.1l.3-.1.2.1zM327.5 21l-1.5-.7v.1l.9.4v1l.6-.1zM323.8 19.3l-1.4-.7v.9l.9.5v.6l.5-.1z"/><path fill="url(#bS25d)" d="M291.3 92.7v-3.5l-.3.1v3.5z"/><path fill="url(#bF2d)" d="M292.3 88.3l.6-.2-.6-.3z"/><path fill="url(#bS25)" d="M296.5 77.2l.4-.1v-.2l1.8-.4v-1.4l-2.2.5z"/><path fill="url(#bS24)" d="M289.5 91.8v-3.2l1.9-.4v-.5l-2.3.6v3.6zM291.9 88.2l.4.1v-.5l1.8-.4v-3.7l-2.2.5zM302.4 57l-2.2.6v1.3l1.7-.4.5.3zM305.2 56.3l-2.2.6v1l1.6-.4.6.3zM308 55.1l-2.2.6v2.1l1.6-.4.5.2zM310.7 54.9l-2.2.5v1l1.7-.4.5.2zM313.5 54.4l-2.2.5v1.4l1.6-.4.6.3zM316.3 52.9l-2.2.5v2.2l1.6-.5.6.3zM319.1 52.2l-2.3.6v1.9l1.7-.5.5.3zM321.8 51.5l-2.2.5v1.6l1.6-.4.6.3zM324.6 51.5l-2.2.5v1.4l1.6-.4.6.3zM327.4 50.2l-2.3.5v2.1l1.7-.4.5.3zM330.1 50.1l-2.2.6v1.5l1.7-.4.5.3zM332.9 49.2l-2.2.6v1.6l1.6-.4.6.3zM335.7 48.1l-2.2.5v1.9l1.6-.4.6.3zM338.4 47.9l-2.2.5v1.8l1.7-.4.5.3zM341.2 47l-2.2.5v1.3l1.6-.4.6.3zM344 46.4l-2.2.5v1.4l1.6-.5.6.3zM346.8 45.4l-2.3.6v2.1l1.7-.4.5.3zM349.5 44.8l-2.2.6v2.1l1.6-.4.6.2zM352.3 44.6l-2.2.6v.9l1.6-.4.6.3zM355.1 43.9l-2.3.6v1.3l1.7-.4.5.3zM357.8 42.7l-2.2.5v2l1.7-.4.5.3zM360.6 42.2l-2.2.6v1.4l1.6-.4.6.3zM363.4 41.1l-2.2.6v2.5l1.6-.5.5.3zM366.1 41.1l-2.2.5v1.2l1.7-.4.5.3zM368.9 40.5l-2.2.6v1.4l1.6-.4.6.3zM371.7 39.2l-2.2.5v2.3l1.6-.4.6.2z"/><path fill="url(#bF18d)" d="M336.2 48.4l-.5-.2v2.2l.5-.2zM332.6 46.9l-.6-.3v1.3l.6-.1zM323.5 35.7l-.6-.3v8.8l.4-.1.2.1zM305.2 32.4l-.5-.3v3.2l.4-.1.1.1z"/><path fill="url(#bS23d)" d="M287.7 90.9v-2.8l-.4.1v2.8z"/><path fill="url(#bS23)" d="M292.3 79.3l-2.2.5v7.3l.4.2v-3.8l1.8-.4zM297.8 73.6l-2.2.5v.7l1.7-.4.5.2z"/><path fill="url(#bS22)" d="M285.9 90v-2.5l1.8-.4v-.4l-2.2.5v2.9zM290.5 75.9l-2.2.5v10.7l.3.1v-8.1l1.9-.5zM293.2 79.1l-.9.2v3.8l.4-.1.5.2zM304.3 53.9l-2.2.5v1.6l1.6-.4.6.3zM307.1 52.6l-2.2.5v1.7l1.6-.4.6.3zM309.9 52.5l-2.2.6v1.5l1.6-.4.5.2zM312.6 51.2l-2.2.6v2.3l1.7-.4.5.3zM315.4 50.8l-2.2.6v1.2l1.6-.4.6.2zM318.2 49.9l-2.2.5v1.5l1.6-.4.6.3zM321 49.3l-2.3.6v1.3l1.7-.4.6.2zM323.7 49l-2.2.6v1.6l1.6-.4.6.2zM326.5 48.4l-2.2.5v.9l1.6-.4.6.3zM329.3 47.7l-2.3.5v1.6l1.7-.4.5.3zM332 46.5l-2.2.5v1.9l1.6-.4.6.3zM334.8 46.3l-2.2.6v.9l1.6-.4.6.2zM337.6 45.6l-2.2.6v1.4l1.6-.4.5.3zM340.3 44.9l-2.2.5v1.3l1.7-.4.5.3zM343.1 44.1l-2.2.6v1.4l1.6-.4.6.2zM345.9 42.8l-2.2.5v1.8l1.6-.4.6.3zM348.6 42.4l-2.2.6v1.5l1.7-.4.5.3zM351.4 41.8l-2.2.6v1.9l1.6-.4.6.3zM354.2 41.1l-2.2.6v1.9l1.6-.4.6.3zM357 40.8l-2.3.5v1.1l1.7-.5.5.3zM359.7 39.4l-2.2.5v2l1.6-.4.6.3zM362.5 39.1l-2.2.6v1.1l1.6-.4.6.3zM365.3 38l-2.2.6v2.2l1.6-.4.5.2zM368 37.3l-2.2.5v2.4l1.7-.4.5.3z"/><path fill="url(#bS21)" d="M284 89.2v-2.7l1.9-.5v-.1l-2.2.6v2.7zM292 78.4l1.2.7v1l1-.3v-3.2l-2.2.6z"/><path fill="url(#bS21d)" d="M286.4 86.1l.4.1v-7.7l-.4.1zM300.3 56.5l.4-.1v-.7l-.4.1z"/><path fill="url(#bS20)" d="M282.2 88.3v-2.5l1.9-.5v-1.6l-2.3.6v4.1zM284.6 85.3l.4.2v-7.7l1.8-.4v-.4l-2.2.5zM289.6 74.9l-2.2.6v.1l1.6-.4.6.3zM295.1 70.5l-2.2.6v4.9l1.1.5h.2v-3.1l.9-.2zM297.9 69.5l-2.2.5v3l.7-.1 1.4.7v1l.1.1zM303.5 51.5l-2.3.6v1.5l1.7-.4.5.2zM306.2 50.8l-2.2.5v1l1.6-.4.6.2zM309 49.3l-2.2.5v2.4l1.6-.4.6.3zM311.8 49l-2.3.5v1.4l1.7-.4.5.3zM314.5 48.7l-2.2.6v1.2l1.7-.4.5.3zM317.3 47.8l-2.2.6v1.2l1.6-.4.6.2zM320.1 47l-2.2.6v1.4l1.6-.4.5.3zM322.8 46.7l-2.2.5v1.5l1.7-.4.5.3zM325.6 45.5l-2.2.6v2l1.6-.4.6.2zM328.4 45.2l-2.2.5v1.7l1.6-.4.6.2zM331.2 44.1l-2.3.5v1.6l1.7-.5.6.3zM333.9 43.4l-2.2.5v2.1l1.6-.4.6.3zM336.7 42.9l-2.2.6v1.8l1.6-.4.6.3zM339.5 41.8l-2.3.5v2.3l1.7-.4.5.3zM342.2 41.8l-2.2.6v1.4l1.7-.4.5.3zM345 40.9l-2.2.5v1.1l1.6-.4.6.3zM347.8 39.9l-2.2.6v1.6l1.6-.4.5.3zM350.5 39l-2.2.6v1.9l1.7-.4.5.3zM353.3 38.8l-2.2.5v1.5l1.6-.4.6.3zM356.1 38.1l-2.2.5v1.9l1.6-.4.6.2zM358.9 37.2l-2.3.5v1.4l1.7-.4.6.3zM361.6 36.4l-2.2.6v1.8l1.6-.4.6.3zM364.4 36l-2.2.6v1.1l1.6-.4.6.3z"/><path fill="url(#bS20d)" d="M298.5 71.1v3.8l.2.1v-3.9z"/><path fill="url(#bF22d)" d="M340 42.4l-.5-.3v1.9l.5-.2z"/><path fill="url(#bS19d)" d="M280.4 87.4v-2.6l-.4.1v2.6zM291.1 73v3.3l.4-.1v-3.3z"/><path fill="url(#bS19)" d="M290.6 74.9l-1 .3v.3l.9.4v.9l.1-.4z"/><path fill="url(#bS18)" d="M278.6 86.5v-2.3l1.8-.4v-1.6l-2.2.5v3.9zM281 83.4l.3-.1v-.8l1.9-.5v-3.4l-2.2.5zM286 72.4l-2.3.6v3.6l1.7-.4.5.3zM288.7 70.2l-2.2.5v3.9l1.6-.4.4.2.2-.1zM291.5 67.3l-2.2.5v6.5l.3.2v-2.2l1.9-.5zM313.7 47.6l-2.3.5v.3l1.7-.4.5.3zM316.4 46.9l-2.2.5v.1l1.6-.4.6.3zM319.2 46.2l-2.2.5 1.6-.4.6.3zM319.8 46.4l1.6-.4.5.2v-.7l-2.1.5zM325.3 44.9l1.6-.4.6.2v-.6l-2.2.6zM333.6 42.6l1.6-.4.6.3v-.4zM341.4 40.7l-2.3.5v.3l1.7-.4.5.3zM341.9 40.6l1.6-.4.6.2v-.4z"/><path fill="url(#bS18d)" d="M310.9 48.2l-.4.2.4.2zM324.7 44.8l-.3.1.3.2zM352.4 38.3v-.4l-.5.2zM355.2 37.7v-.4l-.6.1z"/><path fill="url(#bS17)" d="M276.7 85.6v-3.6l1.9-.4v-.7l-2.2.6v4.2zM281.4 58.1l-2.3.5v23l.4.1v-3.3l1.9-.5zM284.1 45.1l-2.2.6v32.2l.4.2v-5.8l1.8-.5zM286.9 44.3l-2.2.5v27l.4.2v-2l1.8-.5zM289.7 43.6l-2.2.5v25.4l.3.2v-2.6l1.9-.4zM292.4 43.2l-2.2.6v22.9l1.3.6v3l.9-.2zM295.2 42.5l-2.2.6v26.9l.4-.1v-.8l1.8-.4zM298 41.7l-2.2.5v26.5l.3.1.4-.1 1 .5.5-.1zM300.8 41.4l-2.3.5v27.2l.2.1v-6h.1v-6.3v-.1v-1.7l1-.2v-3.5l1-.3zM303.5 40.3l-2.2.5v10.2l.7-.2.6.3v-.5l.9-.2zM306.3 39.9l-2.2.5v9.8l.7-.1.5.2v-1.2l1-.2zM309.1 39.3l-2.3.6v8.9l.4-.1v-.6l1.9-.5zM311.8 38.2l-2.2.5v8.9l.4.2v-.4l1.8-.5zM314.6 37.9l-2.2.5v8.5l.4.2v-.4l1.8-.4zM317.4 36.9l-2.2.5v8.9l.3.1v-.4l1.9-.4zM320.1 36.1l-2.2.5v9l.4.1v-.4l1.8-.4zM322.9 35.3l-2.2.6v9l.4.2v-.5l1.8-.4zM325.7 35.1l-2.2.6v8.5l.3.2v-.4l1.9-.5zM328.5 34.3l-2.3.6v8.6l.4.2v-.4l1.9-.5zM331.2 33.7l-2.2.5v8.6l.4.2v-.4l1.8-.5zM334 32.7l-2.2.5v8.9l.3.2v-.4l1.9-.5zM336.8 31.8l-2.3.6v9l.4.2v-.4l1.9-.4zM339.5 31l-2.2.6v9.2l.4.1v-.4l1.8-.4zM342.3 30.9l-2.2.6v8.6l.4.1v-.4l1.8-.4zM345.1 29.9l-2.2.5v9l.3.2v-.4l1.9-.5zM347.8 29.4l-2.2.5v8.8l.4.2v-.4l1.8-.5zM350.6 28.9l-2.2.6v8.5l.4.2v-.4l1.8-.5zM353.4 28.1l-2.2.6v8.6l.3.2v-.4l1.9-.5zM356.2 27.3l-2.3.5v8.8l.4.2v-.4l1.9-.4zM358.9 27l-2.2.5v8.5l.4.1v-.4l1.8-.4z"/><path fill="url(#bF24d)" d="M340.1 31.5l-.6-.3v8.9l.4-.1.2.1z"/><path fill="url(#bS16)" d="M274.9 84.7v-3.9l1.9-.5v-.3l-2.2.5v4.3z"/><path fill="url(#bS16d)" d="M277.3 80.3l.4.2v-7.5l-.4.1z"/><path fill="url(#bS15d)" d="M273.1 83.8v-1.5l-.4.1v1.5z"/><path fill="url(#bS15)" d="M275.5 79.4l.4.1v-7.1l1.8-.5v-5.8l-2.2.6z"/><path fill="url(#bS14)" d="M271.3 83v-1.3l1.8-.4v-2.7l-2.2.6v3.8z"/><path fill="url(#bS14d)" d="M273.7 79.7l.3-.1v-10l-.3.1z"/><path fill="url(#bS13d)" d="M269.5 82.1v-1.4l-.4.1v1.4zM271.9 78l.3.2v-1.6l-.3.1z"/><path fill="url(#bS12)" d="M267.6 81.2v-1.1l1.9-.5v-2.5l-2.2.5v3.7zM272.3 64.2l-2.3.5v13.6l.4-.1v-2.2l1.8-.5zM272.8 68.8l1.2-.3v-.5l-1.2.3z"/><path fill="url(#bF3d)" d="M272.8 68.3l-.5-.2v.9l.5-.2z"/><path fill="url(#bS11)" d="M265.8 80.3v-3.4l1.9-.5v-.8l-2.3.5v4.3zM273.2 66.5l-.9.2v.7l.9-.2zM276.5 65.5l1.2.6v-5.5l-1.2.3z"/><path fill="url(#bS11d)" d="M268.2 76.5l.4.1v-7.5l-.4.1z"/><path fill="url(#bS10d)" d="M264 79.4v-2.6l-.4.1v2.6zM266.4 74.9l.4.2v-4.9l-.4.1zM294.1 41.7v.3l.2.1v-.4zM299.6 40.3v.4l.3.1v-.5zM307.9 38.3v.4l.3.1v-.6zM313.5 36.9v.4l.2.1v-.6zM330.1 32.8v.3l.2.1v-.5zM341.2 30v.4l.2.1v-.5z"/><path fill="url(#bS10)" d="M271.4 62.8l-2.2.5v.6l1.6-.4.6.2zM274.1 65l-1.8.5v.5l.9.5v.7l.4-.1.4.2v-1.3l.1-.1zM299.1 40.5l-2.2.5v.1l.2.1 2-.5zM304.6 39.1l-2.2.5v.1l.2.1v-.1l2-.5zM307.4 38.4l-2.2.6v.3l.2.2v-.4l2-.4zM312.9 37l-2.2.6.2.1 2-.5zM324 34.3l-2.1.5.2.1 1.9-.4zM326.8 33.6l-2.2.6v.4l.2.1v-.5l2-.5zM329.5 32.9l-2.2.6v.3l.3.1v-.4l1.9-.5zM340.6 30.2l-1.9.4.2.1 1.7-.4z"/><path fill="url(#bS9)" d="M262.2 78.5v-2.4l1.8-.4v-.9l-2.2.5v3.3zM266.8 63.9l-2.2.5v10.9l.3-.1v-5.6l1.9-.5zM269.6 60.8l-2.3.6v7l.4-.1v-5.7l1.9-.4zM294.5 40.3l-2.2.5v1.4l.3-.1v-1.1l1.9-.5zM297.3 39.6l-2.3.5v.4l.4.2v-.4l1.9-.4zM300 38.9l-2.2.5v.5l.4.1v-.4l1.8-.4zM302.8 38.2l-2.2.6v.4l.3.1v-.4l1.9-.4zM305.6 37.5l-2.3.6v.4l.4.2v-.4l1.9-.5zM308.3 36.8l-2.2.6v.4l.4.2v-.4l1.8-.5zM311.1 36.2l-2.2.5v.4l.4.2v-.4l1.8-.5zM313.9 35.5l-2.2.5v.4l.3.2v-.4l1.9-.5zM316.6 34.8l-2.2.5v.4l.4.2v-.4l1.8-.5zM319.4 34.1l-2.2.5v.4l.4.2v-.4l1.8-.4zM322.2 33.4l-2.2.6v.4l.3.1v-.4l1.9-.4zM325 32.7l-2.3.6v.4l.4.2v-.5l1.9-.4zM327.7 32l-2.2.6v.4l.4.2v-.4l1.8-.5zM330.5 31.3l-2.2.6v.4l.3.2v-.4l1.9-.5zM333.3 30.7l-2.3.5v.4l.4.2v-.4l1.9-.5zM336 30l-2.2.5v.4l.4.2v-.4l1.8-.5zM338.8 29.3l-2.2.5v.4l.4.2v-.4l1.8-.4zM341.6 28.6l-2.2.5v.5l.3.1v-.4l1.9-.4zM344.3 27.9l-2.2.6v.4l.4.1v-.4l1.8-.4z"/><path fill="url(#bS8d)" d="M260.3 77.6v-1.7l-.3.1v1.7zM262.7 74.2l.4.2v-7.7l-.4.1zM273.8 64.9l.3.1.1.3v-2.5l-.4.1z"/><path fill="url(#bS8)" d="M270.5 59.9l-2 .4 1.1.5v1.4l.3-.1.6.2zM273.3 60.1l-2.2.6v1.9l.3.2v.9l.9.5v.2l.4-.1.6.3zM292.7 39.4l-2.3.5v2.7h.4v-2.5l1.9-.4zM295.4 38.7l-2.2.5v.5l.4.1v-.4l1.8-.4zM298.2 38l-2.2.6v.4l.3.1v-.4l1.9-.4zM301 37.3l-2.2.6v.4l.3.2v-.4l1.9-.5zM303.7 36.6l-2.2.6v.4l.4.2v-.4l1.8-.5zM306.5 36l-2.2.5v.4l.4.2v-.4l1.8-.5zM309.3 35.3l-2.2.5v.4l.3.2v-.4l1.9-.5zM312 34.6l-2.2.5v.4l.4.2v-.4l1.8-.5zM314.8 33.9l-2.2.5v.4l.4.2v-.4l1.8-.4zM317.6 33.2l-2.2.6v.4l.3.1v-.4l1.9-.4zM320.4 32.5l-2.3.6v.4l.4.2v-.5l1.9-.4zM323.1 31.8l-2.2.6v.4l.4.2v-.4l1.8-.5zM325.9 31.1l-2.2.6v.4l.3.2v-.4l1.9-.5zM328.7 30.5l-2.2.5v.4l.3.2v-.4l1.9-.5zM331.4 29.8l-2.2.5v.4l.4.2v-.4l1.8-.5zM334.2 29.1l-2.2.5v.4l.4.2v-.4l1.8-.4zM337 28.4l-2.2.5v.5l.3.1v-.4l1.9-.4zM339.8 27.7l-2.3.6v.4l.4.1v-.4l1.9-.4zM342.5 27l-2.2.6v.4l.4.2v-.4l1.8-.5z"/><path fill="url(#bF5d)" d="M271.1 60.7l-.6-.3v1.9l.6.3z"/><path fill="url(#bS7)" d="M258.5 76.8v-1.5l1.8-.5.1-2.9-2.2.5v4.4zM265.9 54.8l-2.2.5v8.3l1.6-.4.6.3zM268.7 41.6l-2.2.6v18.3l.3-.1v-.7l1.9-.5zM271.4 40.6l-2.2.6v18l1.1.6 1.1-.3zM274.2 39.9l-2.2.6v19l1.3.6v1.9l.9-.3zM277 39l-2.2.6v21l.3-.1v-.3v-1.2l1.9-.4zM279.8 38.6l-2.3.5v19.5h.2v-.7l2-.5zM282.5 37.7l-2.2.5v18.3h.2v-11.5l2-.5zM285.3 37.1l-2.2.5v7l.1.1v-.6l2.1-.5zM288.1 36.4l-2.2.5v6.8l.1.1v-.4l2.1-.5zM290.8 35.9l-2.2.5v6.7h.2l.2-.1v-3.8l1.8-.4zM293.6 34.9l-2.2.5v3.4l.4.1v-.4l1.8-.4zM296.4 34.3l-2.2.6v3.2l.3.2v-.4l1.9-.5zM299.1 33.7l-2.2.6v3.1l.4.2v-.4l1.8-.5zM301.9 33.3l-2.2.6v2.8l.4.2v-.4l1.8-.5zM304.7 32.1l-2.2.5v3.4l.3.2v-.4l1.9-.5zM307.5 31.8l-2.3.6v2.9l.4.2v-.4l1.9-.5zM310.2 31.3l-2.2.5v2.8l.4.2v-.4l1.8-.4zM313 30.5l-2.2.5v3l.3.1v-.4l1.9-.4zM315.8 29.7l-2.2.5v3.1l.3.2v-.5l1.9-.4zM318.5 29l-2.2.6v3l.4.2v-.4l1.8-.5zM321.3 28.3l-2.2.6v3l.4.2v-.4l1.8-.5zM324.1 27.5l-2.2.5v3.2l.3.2v-.4l1.9-.5zM326.8 27.1l-2.2.5v2.9l.4.2v-.4l1.8-.5zM329.6 26.4l-2.2.5v2.9l.4.2v-.4l1.8-.4zM332.4 25.7l-2.2.5v3l.3.1v-.4l1.9-.4zM335.2 24.6l-2.3.6v3.3l.4.1v-.4l1.9-.4zM337.9 23.9l-2.2.6v3.3l.4.2v-.4l1.8-.5zM340.7 23.3l-2.2.6v3.2l.3.2v-.4l1.9-.5z"/><path fill="url(#bS7d)" d="M260.9 74.5l.4-.1v-6.5l-.4.1z"/><path fill="url(#bS6d)" d="M256.7 75.9v-2.1h-.4v2.2zM261.9 55.4v10.6l.3-.1v-10.6z"/><path fill="url(#bS6)" d="M261.3 63.7l-2.2.5v7.1l.4.1v-4.1l1.8-.5zM266.9 38l-2.3.6v15.6l.4.2v-13l1.9-.4zM269.6 36.9l-2.2.5v3.6l.4.2v-.7l1.8-.5zM272.4 36.4l-2.2.6v3l.3.2v-.5l1.9-.4zM275.2 35.8l-2.3.6v2.9l.4.2v-.6l1.9-.5zM277.9 34.7l-2.2.6v3.1l.4.2v-.2l1.8-.4zM280.7 34.3l-2.2.6v3.1l.4.1v-.6l1.8-.4zM283.5 33.9l-2.2.6v2.6l.3.1v-.3l1.9-.5zM286.2 32.6l-2.2.5v3.3l.4.2v-.4l1.8-.4zM289 32l-2.2.6v3.2l.4.1v-.2l1.8-.5zM291.8 31.3l-2.2.5v3.4l.3.2v-.7l1.9-.4zM294.6 31l-2.3.6v2.7l.4.1v-.2l1.9-.5zM297.3 30.3l-2.2.5v2.9l.4.2v-.3l1.8-.5zM300.1 29.8l-2.2.6v2.7l.3.2v-.1l1.9-.5zM302.9 28.5l-2.3.5v3.7l.4.2v-1l1.9-.5zM305.6 28.2l-2.2.5v2.7l.5.3 1.7-.5zM308.4 27.4l-2.2.6v3.2l.4.2v-.3l1.8-.4zM311.2 26.9l-2.2.5v3.3l.3.1v-.5l1.9-.5zM313.9 26.1l-2.2.5v3.2l.4.2v-.5l1.8-.5zM316.7 25.1l-2.2.6v3.3l.4.2v-.4l1.8-.4zM319.5 24.8l-2.2.6v3l.3.2v-.5l1.9-.4zM322.3 23.7l-2.3.5v3.5l.4.2v-.6l1.9-.4zM325 23.1l-2.2.6v3.2l.4.2v-.2l1.8-.4zM327.8 22.3l-2.2.5v3.7l.3.1v-.4l1.9-.5zM330.6 22l-2.3.5v3.2l.4.2v-.4l1.9-.4zM333.3 21.2l-2.2.5v3.4l.4.2v-.9l1.8-.4zM336.1 20.6l-2.2.6v2.8l.4.2v-.4l1.8-.5zM338.9 19.6l-2.2.5v3.2l.3.2v-.3l1.9-.5z"/><path fill="url(#bS5)" d="M254.9 75v-1.9l1.8-.4v-1.2l-2.2.5v3.1zM259.5 62.5l-2.2.5v8.6l.3-.1v-8l1.9-.5z"/><path fill="url(#bS5d)" d="M260 58.1v4.9l.4.2v-5.2zM262.8 40.7v13.6l.3.1.1-13.8z"/><path fill="url(#bS4)" d="M253 74.1v-2.8l1.9-.4v-1l-2.2.5v3.8zM257.7 61l-2.2.5v9.4l.3.2v-8.8l1.9-.4zM260.4 52.2l-2.2.5v9.2l.4.1v-4.6l1.8-.5zM263.2 36.8l-2.2.6v17.2l.4-.1v-14.5l1.8-.5zM266 35.9l-2.2.6v1.2l1.6-.4.6.3zM268.7 35.2l-2.2.6v.8l1.7-.4.5.3zM271.5 34.5l-2.2.5v1.1l1.6-.4.6.3zM274.3 34l-2.2.6v.9l1.6-.4.6.3zM277.1 33.1l-2.3.6v.7l1.7-.4.5.3zM279.8 32.2l-2.2.6v1.2l1.6-.4.6.3zM282.6 31.8l-2.2.6v1.2l1.6-.4.6.3zM285.4 30.9l-2.2.6v.8l1.6-.4.5.2zM288.1 30.2l-2.2.5v1l1.7-.4.5.3zM290.9 29.8l-2.2.6v.6l1.6-.4.6.3zM293.7 29.1l-2.2.6v1l1.6-.4.5.3zM296.4 28.4l-2.2.6v1l1.7-.5.5.3zM299.2 27.9l-2.2.6v1l1.6-.4.6.3zM302 26.9l-2.2.5v.7l1.6-.4.6.3zM304.8 26.3l-2.3.5v1.1l1.7-.4.5.2zM307.5 25.5l-2.2.5v1.1l1.6-.4.6.3zM310.3 24.6l-2.2.6v1.4l1.6-.4.6.2zM313.1 24.1l-2.2.5v1.2l1.6-.4.5.2zM315.8 23.7l-2.2.6v.5l1.7-.4.5.3zM318.6 22.8l-2.2.5v1.2l1.6-.4.6.3zM321.4 22.3l-2.2.6v.5l1.6-.4.5.2zM324.1 21.7l-2.2.5v.6l1.7-.4.5.3zM326.9 20.8l-2.2.6v.6l1.6-.4.6.3zM329.7 20.4l-2.2.6v.7l1.6-.4.6.3zM332.5 19.5l-2.3.6v.8l1.7-.4.5.3zM335.2 18.7l-2.2.5v1.1l1.6-.4.6.3z"/><path fill="url(#bS3d)" d="M251.2 73.2v-2.9l-.3.1v2.9zM253.6 63.5v5.8l.4.1v-6zM256.4 55.4v5l.4.1v-5.1zM259.2 40v11.5l.3.2v-11.8z"/><path fill="url(#bS2)" d="M249.4 72.3v-2.6l1.9-.5v-1.5l-2.3.5v4.2zM251.8 69.2l.4.2v-6.6l1.8-.5v-.9l-2.2.5zM256.8 49.9l-2.2.5v10.3l.3-.1v-5.9l1.9-.4zM259.6 35.6l-2.3.6v15.7l.4-.1v-12.5l1.8-.5zM262.3 35.2l-2.2.5v.8l1.7-.4.5.3zM265.1 34.2l-2.2.5v.9l1.6-.4.6.3zM267.9 33.6l-2.2.5v.8l1.6-.4.5.3zM270.6 32.7l-2.2.5v1l1.7-.5.5.3zM273.4 32l-2.2.5v1.2l1.6-.4.6.3zM276.2 31.3l-2.2.5v1l1.6-.4.6.3zM279 30.6l-2.3.5v.8l1.7-.4.5.3zM281.7 30.2l-2.2.6v.7l1.6-.4.6.3zM284.5 29.5l-2.2.5v.6l1.6-.4.6.3zM287.3 28.4l-2.3.5v.9l1.7-.4.5.3zM290 28l-2.2.6v.9l1.7-.4.5.3zM292.8 27.6l-2.2.5v.7l1.6-.4.6.3zM295.6 26.7l-2.2.6v.8l1.6-.4.5.3zM298.3 26.2l-2.2.5v.9l1.7-.4.5.3zM301.1 24.9l-2.2.6v1.1l1.6-.5.6.3zM303.9 24.5l-2.2.6v.9l1.6-.4.6.3zM306.7 23.8l-2.3.6v.8l1.7-.4.5.2zM309.4 23.5l-2.2.5v.3l1.6-.4.6.3zM312.2 22.7l-2.2.5v.5l1.6-.4.6.3zM315 22.1l-2.3.5v.8l1.7-.4.5.3zM317.7 21.4l-2.2.5v.5l1.7-.4.5.3zM320.5 20.2l-2.2.6v1.2l1.6-.4.6.3zM323.3 20l-2.2.5v.9l1.6-.5.5.3zM326 18.7l-2.2.6v1.2l1.7-.4.5.3zM328.8 18.2l-2.2.5v1.4l1.6-.4.6.3zM331.6 17.8l-2.2.6v.8l1.6-.4.6.3z"/><path fill="url(#bF27d)" d="M321.1 20.5l-.6-.3v1.3l.6-.1z"/><path fill="url(#bS1)" d="M247.6 71.4v-3.9l1.8-.4v-5.3l-2.2.5v9.2zM252.2 50.2l-2.2.5v16.4l.3.1v-6l1.9-.4z"/><path fill="url(#bS1d)" d="M252.8 49.8v11l.3.2v-11.3zM255.5 38.3v11l.4.2v-11.3z"/></g>
<g stroke="rgba(0,0,0,0.35)" stroke-width="0.25" stroke-linejoin="round"><path fill="#2053d4" d="M298.6 93.1l1.5.7 2.2-.6-1.5-.7zM291 89.3l.3-.1v-.7l.9-.2-.5-.2-2.2.5zM292.9 88.1l.6-.1.6.2v-.8l-1.8.4zM289.1 88.3l2.3-.6-1.5-.7-2.2.6zM281.3 82.5l1.6.6h.3v-1.1zM267.3 77.6l2.2-.5-1.5-.7-2.2.5zM261.8 75.3l2.2-.5-1.4-.7-2.3.5zM252.7 70.4l2.2-.5-1.5-.7-2.2.5z"/><path fill="#ffc337" d="M302.8 64.9l2.3-.6-1.5-.7-2.2.6zM313.9 62.2l2.2-.6-1.4-.7-2.2.5zM316.7 61.3l2.2-.5-1.4-.7-2.3.5zM327.8 58.7l2.2-.5-1.5-.7-2 .5.7.3v.2zM333.3 57.4l2.2-.6-1.4-.7-2.2.5zM338.9 55.8l2.2-.6-1.5-.7-2.2.5zM349.9 53l2.3-.6-1.5-.7-2.2.6zM355.5 51.8l2.2-.5-1.5-.7-2.2.5zM361 50.4l2.2-.6-1.4-.7-2.2.6zM366.6 49l2.2-.5-1.5-.7-1.9.4.6.4v.1zM369.3 48.1l2.2-.5-1.4-.7-2.2.5zM374.9 47.2l2.2-.5-1.5-.8-2 .6.7.3v.1zM304.7 61.9l2.3-.6-1.5-.7-1.6.4.3.2v.4zM313.1 59.8l2.2-.6-1.5-.7-2.2.5zM318.6 58.5l2.2-.6-1.5-.7-1.7.5.4.2v.3zM324.1 57.1l2.2-.6-1.4-.7-1.7.4.4.2v.4zM326.9 56.4l2.2-.5-1.4-.8-2.3.6zM335.2 54.2l2.2-.5-1.4-.7-1.9.4.6.3v.2zM338 53.3l2.2-.6-1.5-.7-2.2.6zM346.3 51.4l2.2-.6-1.5-.7-2.1.5zM354.6 49.3l2.2-.6-1.4-.7-2.3.6zM357.4 48.5l2.2-.5-1.5-.7-2.2.5zM365.7 46.4l2.2-.6-1.5-.7-2.1.5zM371.2 45.1l2.2-.6-1.4-.7-2.1.5zM374 44.8l2.2-.6-1.5-.7-2.2.5zM376.8 44.1l2.2-.6-1.5-.7-2.2.5zM301.1 59.7l2.2-.5-1.4-.7-2.3.5zM306.6 58.6l2.3-.5-1.5-.7-2 .5.7.3v.2zM312.2 57.2l2.2-.6-1.5-.7-1.9.5.6.3v.2zM314.9 56.4l2.3-.5-1.5-.8-2.2.6zM323.3 54.3l2.2-.6-1.5-.7-2 .5.7.4v.1zM326 53.7l2.2-.6-1.4-.7-2.2.6zM328.8 53.1l2.2-.6-1.4-.7-2.3.6zM331.6 52.3l2.2-.6-1.5-.7-2.2.6zM337.1 51.1l2.2-.6-1.4-.7-2.2.6zM345.4 48.9l2.2-.5-1.4-.7-2.1.5.8.4v.1zM348.2 48.3l2.2-.5-1.5-.7-2.2.5zM353.7 46.7l2.2-.6-1.4-.7-2.2.6zM356.5 46.1l2.2-.6-1.4-.7-2.3.6zM362 45l2.3-.5-1.5-.8-2 .5.7.4v.1zM367.6 43.4l2.2-.6-1.5-.7-2.2.5zM370.3 42.8l2.3-.5-1.5-.7-2.2.5zM300.2 57.6l2.2-.6-1.4-.7-2.2.6zM303 56.9l2.2-.6-1.5-.7-2.2.6zM308.5 55.4l2.2-.5-1.4-.7-2.2.5zM311.3 54.9l2.2-.5-1.4-.7-2.3.5zM322.4 52l2.2-.5-1.5-.7-1.8.4.5.3v.2zM327.9 50.7l2.2-.6-1.4-.7-1.9.5.6.3v.2zM330.7 49.8l2.2-.6-1.5-.7-2.2.6zM336.2 48.4l2.2-.5-1.4-.7-2.1.5.8.4v.1zM341.8 46.9l2.2-.5-1.5-.7-2.2.5zM350.1 45.2l2.2-.6-1.5-.7-2 .5.7.4v.1zM352.8 44.5l2.3-.6-1.5-.7-2.2.5zM358.4 42.8l2.2-.6-1.5-.7-2.2.6zM363.9 41.6l2.2-.5-1.4-.7-1.9.4.6.3v.3zM366.7 41.1l2.2-.6-1.4-.7-2.3.6zM302.1 54.4l2.2-.5-1.4-.7-2.2.5zM307.7 53.1l2.2-.6-1.5-.7-1.9.5.6.3v.2zM313.2 51.4l2.2-.6-1.4-.7-2.3.6zM321.5 49.6l2.2-.6-1.4-.7-2.3.6zM324.3 48.9l2.2-.5-1.5-.7-2.2.5zM327 48.2l2.3-.5-1.5-.7-2.2.5zM332.6 46.9l2.2-.6-1.5-.7-2 .5.7.4v.1zM335.4 46.2l2.2-.6-1.5-.7-2.2.6zM338.1 45.4l2.2-.5-1.4-.7-2.2.5zM340.9 44.7l2.2-.6-1.4-.7-2.3.6zM349.2 42.4l2.2-.6-1.4-.7-2.3.6zM352 41.7l2.2-.6-1.5-.7-2.2.6zM354.7 41.3l2.3-.5-1.5-.7-2.2.5zM360.3 39.7l2.2-.6-1.5-.7-2.2.6zM301.2 52.1l2.3-.6-1.5-.7-2.2.6zM304 51.3l2.2-.5-1.4-.7-2.2.5zM309.5 49.5l2.3-.5-1.5-.7-2.2.5zM312.3 49.3l2.2-.6-1.4-.7-2.2.6zM315.1 48.4l2.2-.6-1.5-.7-2.2.6zM317.9 47.6l2.2-.6-1.5-.7-2.2.6zM320.6 47.2l2.2-.5-1.4-.7-2.2.5zM326.2 45.7l2.2-.5-1.5-.7-2.2.5zM334.5 43.5l2.2-.6-1.5-.7-2.2.6zM340 42.4l2.2-.6-1.4-.7-1.8.5.5.2v.3zM342.8 41.4l2.2-.5-1.5-.7-2.2.5zM351.1 39.3l2.2-.5-1.4-.8-2.2.6zM353.9 38.6l2.2-.5-1.5-.7-2.2.5zM362.2 36.6l2.2-.6-1.5-.7-2.2.6z"/><path fill="#fec832" d="M305.6 63.4l2.2-.5-1.4-.7-2.2.5zM308.4 63.1l2.2-.5-1.5-.8-2.2.6zM311.2 62.4l2.2-.5-1.5-.7-2.2.5zM319.5 60.3l2.2-.6-1.5-.7-2.2.6zM322.2 59.4l2.3-.6-1.5-.7-2.2.5zM325 58.9l2.2-.6-1.4-.7-2.3.6zM330.5 57.6l2.3-.5-1.5-.8-2.2.6zM336.1 56.1l2.2-.5-1.5-.7-2.2.5zM341.6 54.9l2.2-.6-1.4-.7-2.2.6zM344.4 53.9l2.2-.6-1.4-.7-2.3.6zM347.2 53.5l2.2-.6-1.5-.7-2.2.6zM352.7 52.2l2.2-.6-1.4-.7-2.3.5zM358.2 50.8l2.3-.6-1.5-.7-2.2.6zM363.8 49.1l2.2-.5-1.5-.8-2.2.6zM372.1 47.4l2.2-.6-1.4-.7-2.3.6zM377.6 45.9l2.3-.6-1.5-.7-2.2.6zM380.4 45.2l2.2-.5-1.4-.8-2.3.6zM302 61.7l2.2-.5-1.5-.8-2.2.6zM307.5 60.4l2.2-.5-1.4-.7-2.2.5zM310.3 60l2.2-.5-1.5-.7-2.2.5zM315.8 58.5l2.2-.6-1.4-.7-2.2.5zM321.4 57l2.2-.6-1.5-.7-2.2.6zM329.7 55.1l2.2-.6-1.5-.7-2.2.5zM332.4 54.2l2.3-.5-1.5-.7-2.2.5zM340.8 52.4l2.2-.6-1.5-.7-2.2.6zM343.5 51.6l2.2-.6-1.4-.7-2.2.6zM349.1 50.1l2.2-.5-1.5-.7-2.2.5zM351.8 49.7l2.2-.6-1.4-.7-2.2.5zM360.1 47.6l2.3-.5-1.5-.7-2.2.5zM362.9 46.6l2.2-.6-1.4-.7-2.2.6zM368.5 45.3l2.2-.6-1.5-.7-2.2.6zM303.9 58.8l2.2-.6-1.5-.7-2.2.6zM309.4 57.2l2.2-.5-1.4-.7-2.3.5zM317.7 55.5l2.2-.5-1.4-.8-2.2.6zM320.5 54.4l2.2-.5-1.5-.7-2.2.5zM334.3 51.4l2.3-.6-1.5-.7-2.2.6zM339.9 49.6l2.2-.5-1.5-.7-2.2.5zM342.6 49.1l2.3-.5-1.5-.8-2.2.6zM351 46.9l2.2-.5-1.5-.7-2.2.5zM359.3 45.1l2.2-.5-1.5-.8-2.2.6zM364.8 43.7l2.2-.6-1.4-.7-2.3.6zM373.1 41.4l2.2-.6-1.4-.7-2.2.6zM305.8 55.7l2.2-.6-1.5-.7-2.2.6zM314.1 53.4l2.2-.5-1.5-.7-2.2.5zM316.8 52.8l2.3-.6-1.5-.7-2.2.6zM319.6 52l2.2-.5-1.4-.7-2.2.5zM325.1 50.7l2.3-.5-1.5-.8-2.2.6zM333.5 48.6l2.2-.5-1.5-.7-2.2.5zM339 47.5l2.2-.5-1.4-.7-2.3.5zM344.5 46l2.3-.6-1.5-.7-2.2.6zM347.3 45.4l2.2-.6-1.4-.7-2.2.6zM355.6 43.2l2.2-.5-1.4-.8-2.2.6zM361.2 41.7l2.2-.6-1.5-.7-2.2.6zM369.5 39.7l2.2-.5-1.5-.8-2.2.6zM304.9 53.1l2.2-.5-1.5-.7-2.2.5zM310.4 51.8l2.2-.6-1.4-.7-2.2.6zM316 50.4l2.2-.5-1.5-.7-2.2.5zM318.7 49.9l2.3-.6-1.5-.7-2.2.6zM329.8 47l2.2-.5-1.4-.8-2.2.6zM343.7 43.3l2.2-.5-1.5-.7-2.2.5zM346.4 43l2.2-.6-1.4-.7-2.2.6zM357.5 39.9l2.2-.5-1.4-.7-2.2.5zM363.1 38.6l2.2-.6-1.5-.7-2.2.6zM365.8 37.8l2.2-.5-1.4-.7-2.2.5zM306.8 49.8l2.2-.5-1.5-.7-2.2.5zM323.4 46.1l2.2-.6-1.4-.7-2.3.6zM328.9 44.6l2.3-.5-1.5-.7-2.2.5zM331.7 43.9l2.2-.5-1.4-.7-2.3.5zM337.2 42.3l2.3-.5-1.5-.7-2.2.5zM345.6 40.5l2.2-.6-1.5-.7-2.2.6zM348.3 39.6l2.2-.6-1.4-.7-2.2.5zM356.6 37.7l2.3-.5-1.5-.7-2.2.5zM359.4 37l2.2-.6-1.4-.7-2.2.6zM262.8 40.7l.4-.1v-1.1l-1.8.5z"/><path fill="#0f5cdd" d="M298.3 92.2l2.2-.6-1.5-.7-2.2.5zM294.6 90.4l2.2-.6-1.4-.7-2.2.6zM281.8 84.3l2.3-.6-1.5-.7-2.2.6zM278.2 82.7l2.2-.5-1.4-.7-2.3.5zM276.4 81.5l2.2-.6-1.5-.7-2.2.6zM274.6 80.5l2.2-.5-1.5-.7-2.2.5zM270.9 79.2l2.2-.6-1.4-.7-2.2.5zM265.4 76.1l2.3-.5-1.5-.8-2.2.6zM249 68.2l2.3-.5-1.5-.7-2.2.5z"/><path fill="#e9b94e" d="M301 66.3l.4-.1v-1.1l-1.8.5zM300.1 64l.4-.1v-1.1l-1.8.4zM300.3 55.8l.4-.1v-1l-1.9.4z"/><path fill="#2c4ac7" d="M296.4 92.5l.4-.1v-1l.5-.1-.1-.1-2.2.6zM287.3 88.2l.4-.1v-.5l1.1-.3-.7-.3-2.2.5zM285.5 87.2l2.2-.5-1.4-.7-2.3.5zM283.7 86.5l2.2-.6-1.5-.7-2.2.6zM263.6 76.9l.4-.1v-1.1l-1.8.4zM254.5 72l2.2-.5-1.4-.7-2.3.5zM250.9 70.4l.3-.1v-.6l1.1-.2-.7-.4-2.2.6z"/><path fill="#06a0cd" d="M299.2 82l.4-.1v-1.1l-1.9.5zM288.3 76.4l2.2-.5-1.5-.7-2.2.5zM298.5 71.1h.2v-1.1l-.8.2v.7zM294.2 69.5v-.2l1.9-.5-.5-.2-2.2.5zM273.7 69.7l.3-.1v-1.1l-1.8.5z"/><path fill="#0faeb9" d="M297.4 78l2.2-.5-1.5-.7-2.2.5zM296.5 75.6l2.2-.5v-.1l-1.4-.6-2.3.5zM289.3 67.8l2.2-.5-1.5-.7-2.2.5zM270 64.7l2.3-.5-1.5-.7-2.2.5zM267.3 61.4l2.3-.6-1.5-.7-2.2.6zM260 58.1l.4-.1v-1.1l-1.8.5z"/><path fill="#0363e1" d="M292.8 89.2l2.2-.5-1.5-.7-2.2.5zM271.9 76.7l.3-.1v-1.1l-1.8.5zM258.2 72.4l2.2-.5-1.5-.7-2.2.5z"/><path fill="#0c93d2" d="M295.6 81.5h.3v-1.1l-1.8.4zM277.3 73.1l.4-.1v-1.1l-1.8.5zM273.8 62.9l.4-.1v-1.1l-.9.3v.6zM259.1 64.2l2.2-.5-1.4-.8-2.3.6zM257.3 63l2.2-.5-1.5-.7-2.2.5z"/><path fill="#07a9c2" d="M297.1 77l1-.2.6.2v-.5l-1.8.4zM295.6 74.1l2.2-.5-1.4-.7-2.2.5zM292.9 71.1l2.2-.6-1.4-.7-2.2.6zM295.7 70l2.2-.5-1.4-.8-2.3.6zM269.2 63.3l2.2-.5-1.5-.7-2.2.5zM277.7 59.5v-.6l-.7.2z"/><path fill="#0d75dc" d="M291.9 84.2l2.2-.5-1.4-.7-2.2.5zM281 79.1l2.2-.5v-.1l-1.5-.6-2.2.5z"/><path fill="#1389d3" d="M294.6 80.7l.4-.1v-1l-1.8.5zM286.4 78.6l.4-.1v-1.1l-1.8.4zM292 77.2l2.2-.6-1.5-.7-2.2.6zM284.6 77.5l2.2-.5v-.1l-1.4-.7-2.2.6zM290.6 74.9l-1.5-.7-.6.2 1.1.5v.3zM262.7 66.8l.4-.1v-1l-1.8.4zM251.8 61.9l2.2-.5-1.4-.7-2.3.5z"/><path fill="#108ed2" d="M290.1 79.8l2.2-.5-1.5-.7-2.2.5zM268.2 69.2l.4-.1v-1.1l-1.8.5z"/><path fill="#1485d4" d="M293.2 79.1l-1.4-.8-.9.3 1.4.7zM274.1 65.3v.6l.9-.2zM253.6 63.5l.4-.1v-1.1l-1.8.5zM247.2 62.3l2.2-.5-1.4-.7-2.2.5z"/><path fill="#0998d1" d="M287.4 75.5l2.2-.6-1.5-.7-2.2.6zM291.1 73l.4-.1v-1.1l-1.9.5zM298.7 70v-.8l-.3-.2-.9.2.4.3v.7zM272.8 68.3l1.2-.3v-.7l-.4-.2-1.3.3v.7zM273.2 66.5l-.9-.5v.7zM274.1 65l-1.4-.7-.4.1v1.1zM255.5 61.5l2.2-.5-1.5-.7-2.2.5z"/><path fill="#3243ba" d="M280 84.9l.4-.1v-1l-1.8.4zM256.3 73.8h.4v-1.1l-1.8.4z"/><path fill="#079ccf" d="M283.7 73l2.3-.6-1.5-.7-2.2.6z"/><path fill="#06a7c6" d="M286.5 70.7l2.2-.5-1.4-.8-2.2.6zM271.1 60.7l2.2-.6-1.5-.7-1.5.4.2.1v.5zM276.6 59.7l.4-.1v-.5l.7-.2v-.3l-.3-.1-2.3.5z"/><path fill="#f8bb44" d="M308.5 48.7l1.8-.4.2.1.4-.2-1.5-.7-2.2.6zM311.4 48.1l2.3-.5-1.5-.8-2.2.6zM314.2 47.4l2.2-.5-1.4-.7-2.2.5zM317 46.7l2.2-.5-1.5-.7-2.2.5zM319.8 46l2.1-.5-1.4-.7-2.2.5zM322.3 45.3l1.9-.5.2.1.3-.1-1.4-.7-2.2.5zM325.3 44.7l2.2-.6-1.4-.7-2.3.6zM327.7 43.8l2-.4.3.1.2-.1-1.4-.7-2.2.6zM330.5 43.1l2-.4.3.1.2-.1-1.4-.7-2.2.6zM333.6 42.6l2.2-.5v-.1l-1.4-.6-2.3.5zM334.9 41.2l.9.4 2.2-.5-.9-.4zM339.1 41.2l2.3-.5-1.5-.7-2.2.5zM341.9 40.6l2.2-.6-1.4-.7-2.2.5zM344.4 39.7l1.9-.5.3.2.3-.1-1.5-.7-2.2.6zM346 38.5l.9.3 2.1-.5-.8-.4zM350.2 38.5l1.7-.5.5-.1-1.4-.7-2.2.6zM353 37.8l2.2-.5v-.1l-1.4-.7-2.3.6zM355.4 36.9l2-.4.3.1h.3l-1.5-.7-2.2.5zM358.1 36.2l2.1-.5.4.2h.1l-1.4-.7-2.2.5zM294.1 41.7h.2v-.2l1.8-.4-1.3-.7-2.2.6zM296.9 41l2.2-.5-1.5-.7-2.2.5zM299.6 40.3h.3v-.2l1.7-.4-1.2-.6-2.2.5zM302.4 39.6l2.2-.5-1.4-.7-2.3.5zM305.2 39l2.2-.6-1.5-.7-2.2.6zM307.9 38.3l.3-.1v-.2l1.7-.4-1.2-.6-2.2.6zM310.7 37.6l2.2-.6-1.4-.7-2.2.6zM313.5 36.9l.2-.1v-.1l1.8-.4-1.3-.7-2.2.6zM316.2 36.2h.3v-.3l1.6-.4-1.1-.5-2.2.5zM317.6 34.8l1.4.7h.2v-.4l1.6-.3-1-.5zM321.3 34.6h.2l.4.2 2.1-.5-1.5-.7-2.2.5zM324.6 34.2l2.2-.6-1.5-.7-2.2.5zM327.3 33.5l2.2-.6-1.4-.7-2.2.6zM330.1 32.8l.2-.1v-.2l1.8-.4-1.2-.6-2.3.6zM332.9 32.1l.2-.1v-.3l1.5-.4-1-.5-2.2.6zM335.1 31.2l.2-.1.6.3v-.5l1.3-.4-.8-.4-2.2.6zM337.8 30.4l.3-.1.6.3 1.9-.4-1.4-.7-2.2.5zM341.2 30h.2v-.3l1.6-.4-1.1-.5-2.2.5zM342.5 28.6l1.5.7h.2v-.1l1.8-.5-1.3-.6zM292.3 40.8l2.2-.5-1.5-.7-2.2.5zM295 40.1l2.3-.5-1.5-.7-2.2.5zM297.8 39.4l2.2-.5-1.4-.7-2.3.5zM300.6 38.8l2.2-.6-1.5-.7-2.2.6zM303.3 38.1l2.3-.6-1.5-.7-2.2.6zM306.1 37.4l2.2-.6-1.4-.7-2.2.6zM308.9 36.7l2.2-.5-1.5-.8-2.2.6zM311.7 36l2.2-.5-1.5-.7-2.2.5zM314.4 35.3l2.2-.5-1.4-.7-2.2.5zM317.2 34.6l2.2-.5-1.4-.7-2.3.5zM320 34l2.2-.6-1.5-.7-2.2.5zM322.7 33.3l2.3-.6-1.5-.7-2.2.6zM325.5 32.6l2.2-.6-1.4-.7-2.3.6zM328.3 31.9l2.2-.6-1.5-.7-2.2.6zM331 31.2l2.3-.5-1.5-.8-2.2.6zM333.8 30.5l2.2-.5-1.4-.7-2.2.5zM336.6 29.8l2.2-.5-1.5-.7-2.2.5zM339.4 29.1l2.2-.5-1.5-.7-2.2.5zM342.1 28.5l2.2-.6-1.4-.7-2.2.6zM290.4 39.9l2.3-.5-1.5-.7-2.2.5zM293.2 39.2l2.2-.5-1.4-.7-2.2.5zM296 38.6l2.2-.6-1.5-.7-2.2.6zM298.8 37.9l2.2-.6-1.5-.7-2.2.6zM301.5 37.2l2.2-.6-1.4-.7-2.2.6zM304.3 36.5l2.2-.5-1.4-.8-2.3.6zM307.1 35.8l2.2-.5-1.5-.7-2.2.5zM309.8 35.1l2.2-.5-1.4-.7-2.2.5zM312.6 34.4l2.2-.5-1.4-.7-2.3.5zM315.4 33.8l2.2-.6-1.5-.7-2.2.5zM318.1 33.1l2.3-.6-1.5-.7-2.2.6zM320.9 32.4l2.2-.6-1.4-.7-2.2.6zM323.7 31.7l2.2-.6-1.5-.7-2.2.6zM326.5 31l2.2-.5-1.5-.7-2.2.5zM329.2 30.3l2.2-.5-1.4-.7-2.2.5zM332 29.6l2.2-.5-1.4-.7-2.3.5zM334.8 28.9l2.2-.5-1.5-.7-2.2.5zM337.5 28.3l2.3-.6-1.5-.7-2.2.6zM340.3 27.6l2.2-.6-1.4-.7-2.3.6z"/><path fill="#c0bc60" d="M279.1 58.6l2.3-.5-1.5-.7-2.2.5z"/><path fill="#f9fb0e" d="M281.9 45.7l2.2-.6-1.4-.7-2.2.6zM284.7 44.8l2.2-.5-1.5-.8-2.2.6zM287.5 44.1l2.2-.5-1.5-.7-2.2.5zM290.2 43.8l2.2-.6-1.4-.7-2.2.6zM293 43.1l2.2-.6-1.4-.7-2.3.5zM295.8 42.2l2.2-.5-1.5-.8-2.2.6zM298.5 41.9l2.3-.5-1.5-.7-2.2.5zM301.3 40.8l2.2-.5-1.4-.7-2.2.5zM304.1 40.4l2.2-.5-1.5-.7-2.2.5zM306.8 39.9l2.3-.6-1.5-.7-2.2.5zM309.6 38.7l2.2-.5-1.4-.8-2.2.6zM312.4 38.4l2.2-.5-1.5-.7-2.2.5zM315.2 37.4l2.2-.5-1.5-.7-2.2.5zM317.9 36.6l2.2-.5-1.4-.7-2.2.5zM320.7 35.9l2.2-.6-1.4-.7-2.3.5zM323.5 35.7l2.2-.6-1.5-.7-2.1.5zM326.2 34.9l2.3-.6-1.5-.7-2.2.6zM329 34.2l2.2-.5-1.4-.7-2.2.5zM331.8 33.2l2.2-.5-1.5-.7-2.2.5zM334.5 32.4l2.3-.6-1.5-.7-2.2.6zM337.3 31.6l2.2-.6-1.4-.7-2.2.6zM340.1 31.5l2.2-.6-1.5-.7-1.9.5.6.3v.2zM342.9 30.4l2.2-.5-1.5-.7-2.2.5zM345.6 29.9l2.2-.5-1.4-.8-2.2.6zM348.4 29.5l2.2-.6-1.4-.7-2.3.6zM351.2 28.7l2.2-.6-1.5-.7-2.2.6zM353.9 27.8l2.3-.5-1.5-.7-2.2.5zM356.7 27.5l2.2-.5-1.4-.7-2.2.5z"/><path fill="#353dad" d="M272.7 82.4l.4-.1v-1l-1.8.4zM260 76l.3-.1v-1.1l-1.8.5z"/><path fill="#15b1b4" d="M275.5 66.7l2.2-.6-1.4-.7-2.3.6zM280.5 57v-.5l-.8.2zM256.4 55.4h.4v-1.1l-1.9.4z"/><path fill="#3637a0" d="M269.1 80.8l.4-.1v-1.1l-1.9.5z"/><path fill="#1db3af" d="M276.5 60.9l1.2-.3v-.8l-.4-.2-2.2.6z"/><path fill="#127dd8" d="M266.4 70.3l.4-.1v-1.1l-1.9.5zM260.9 68l.4-.1v-1.1l-1.8.5z"/><path fill="#06a4ca" d="M264.6 64.4l2.2-.5-1.5-.7-2.2.5zM275.1 61.1v-.6l-.9.2z"/><path fill="#0aacbe" d="M267.8 60.2l.3-.1.4.2 2-.4-1.5-.7-2.2.5z"/><path fill="#4dbc92" d="M263.7 55.3l2.2-.5-1.5-.7-2.2.5zM258.2 52.7l2.2-.5-1.4-.8-2.2.6zM250 50.7l2.2-.5-1.5-.8-2.2.6z"/><path fill="#fcce2e" d="M266.5 42.2l2.2-.6-1.5-.7-2.2.5zM269.2 41.2l2.2-.6-1.4-.7-2.2.6zM272 40.5l2.2-.6-1.4-.7-2.3.5zM274.8 39.6l2.2-.6-1.5-.7-2.2.6zM277.5 39.1l2.3-.5-1.5-.7-2.2.5zM280.3 38.2l2.2-.5-1.4-.7-2.2.5zM283.1 37.6l2.2-.5-1.5-.8-2.2.6zM285.9 36.9l2.2-.5-1.5-.7-2.2.5zM288.6 36.4l2.2-.5-1.4-.7-2.2.5zM294.2 34.9l2.2-.6-1.5-.7-2.2.6zM296.9 34.3l2.2-.6-1.4-.7-2.2.6zM299.7 33.9l2.2-.6-1.4-.7-2.3.6zM305.2 32.4l2.3-.6-1.5-.7-2.1.6zM308 31.8l2.2-.5-1.4-.7-2.2.5zM310.8 31l2.2-.5-1.5-.7-2.2.5zM313.6 30.2l2.2-.5-1.5-.7-2.2.5zM316.3 29.6l2.2-.6-1.4-.7-2.2.5zM319.1 28.9l2.2-.6-1.5-.7-2.2.5zM321.9 28l2.2-.5-1.5-.7-2.2.5zM324.6 27.6l2.2-.5-1.4-.7-2.2.5zM327.4 26.9l2.2-.5-1.4-.7-2.3.5zM330.2 26.2l2.2-.5-1.5-.7-2.2.5zM332.9 25.2l2.3-.6-1.5-.7-2.2.5zM338.5 23.9l2.2-.6-1.5-.7-2.2.6z"/><path fill="#fad32a" d="M291.4 35.4l2.2-.5-1.5-.7-2.2.5zM302.5 32.6l2.2-.5-1.5-.7-2.2.5zM335.7 24.5l2.2-.6-1.4-.7-2.2.6z"/><path fill="#42bb98" d="M261.9 55.4l.3-.1v-.7l.9-.2-.5-.2-2.2.5z"/><path fill="#f5e41d" d="M264.6 38.6l2.3-.6-1.5-.7-2.2.6zM272.9 36.4l2.3-.6-1.5-.7-2.2.6zM281.3 34.5l2.2-.6-1.5-.7-2.2.5zM292.3 31.6l2.3-.6-1.5-.7-2.2.5zM297.9 30.4l2.2-.6-1.5-.7-2.2.6zM309 27.4l2.2-.5-1.5-.7-2.2.5zM317.3 25.4l2.2-.6-1.5-.7-2.2.6zM263.8 36.5l2.2-.6-1.5-.7-2.2.6zM266.5 35.8l2.2-.6-1.4-.7-2.2.6zM269.3 35l2.2-.5-1.4-.8-2.3.6zM274.8 33.7l2.3-.6-1.5-.7-2.2.6zM277.6 32.8l2.2-.6-1.4-.7-2.2.6zM280.4 32.4l2.2-.6-1.5-.7-2.2.6zM283.2 31.5l2.2-.6-1.5-.7-2.2.6zM285.9 30.7l2.2-.5-1.4-.8-2.2.6zM294.2 29l2.2-.6-1.4-.7-2.2.6zM299.8 27.4l2.2-.5-1.5-.8-2.2.6zM302.5 26.8l2.3-.5-1.5-.7-2.2.5zM305.3 26l2.2-.5-1.4-.7-2.2.5zM308.1 25.2l2.2-.6-1.5-.7-2.2.6zM310.9 24.6l2.2-.5-1.5-.8-2.2.6zM316.4 23.3l2.2-.5-1.4-.8-2.3.6zM324.7 21.4l2.2-.6-1.4-.7-2.3.6zM333 19.2l2.2-.5-1.4-.7-2.2.5z"/><path fill="#f5eb18" d="M267.4 37.4l2.2-.5-1.4-.7-2.2.5zM270.2 37l2.2-.6-1.5-.7-2.2.6zM275.7 35.3l2.2-.6-1.4-.7-2.2.5zM278.5 34.9l2.2-.6-1.5-.7-2.2.5zM284 33.1l2.2-.5-1.4-.7-2.2.5zM286.8 32.6l2.2-.6-1.4-.7-2.3.6zM289.6 31.8l2.2-.5-1.5-.7-2.2.5zM295.1 30.8l2.2-.5-1.4-.8-2.3.6zM300.6 29l2.3-.5-1.5-.8-2.2.6zM303.4 28.7l2.2-.5-1.4-.7-2.2.5zM306.2 28l2.2-.6-1.5-.7-2.2.6zM311.7 26.6l2.2-.5-1.4-.7-2.2.5zM314.5 25.7l2.2-.6-1.4-.7-2.3.6zM320 24.2l2.3-.5-1.5-.7-2.2.5zM322.8 23.7l2.2-.6-1.4-.7-2.3.6zM325.6 22.8l2.2-.5-1.5-.7-2.2.5zM328.3 22.5l2.3-.5-1.5-.7-2.2.5zM331.1 21.7l2.2-.5-1.4-.7-2.2.5zM333.9 21.2l2.2-.6-1.5-.7-2.2.6zM336.7 20.1l2.2-.5-1.5-.7-2.2.5z"/><path fill="#f5de21" d="M261 37.4l2.2-.6-1.4-.7-2.3.6zM272.1 34.6l2.2-.6-1.5-.7-2.2.6zM288.7 30.4l2.2-.6-1.4-.7-2.3.6zM291.5 29.7l2.2-.6-1.5-.7-2.2.6zM297 28.5l2.2-.6-1.4-.7-2.3.6zM313.6 24.3l2.2-.6-1.4-.7-2.2.6zM319.2 22.9l2.2-.6-1.5-.7-2.2.6zM321.9 22.2l2.2-.5-1.4-.8-2.2.6zM327.5 21l2.2-.6-1.5-.7-2.2.6zM330.2 20.1l2.3-.6-1.5-.7-2.2.6zM268.4 33.2l2.2-.5-1.4-.7-2.2.5zM271.2 32.5l2.2-.5-1.4-.7-2.3.5zM274 31.8l2.2-.5-1.5-.7-2.2.5zM276.7 31.1l2.3-.5-1.5-.7-2.2.5zM285 28.9l2.3-.5-1.5-.7-2.2.5zM298.9 25.5l2.2-.6-1.4-.7-2.3.5zM304.4 24.4l2.3-.6-1.5-.7-2.2.6zM318.3 20.8l2.2-.6-1.5-.7-2.2.6zM323.8 19.3l2.2-.6-1.4-.7-2.2.6zM326.6 18.7l2.2-.5-1.4-.7-2.3.5z"/><path fill="#fdbe3d" d="M259.2 40l.3-.1v-1.1l-1.8.5zM255.5 38.3l.4-.1v-1l-1.8.4z"/><path fill="#59bd8c" d="M254.6 50.4l2.2-.5-1.5-.7-2.2.5zM252.8 49.8l.3-.1 1.9-.4-1.5-.7-2.2.5z"/><path fill="#f7d826" d="M257.3 36.2l2.3-.6-1.5-.7-2.2.6zM260.1 35.7l2.2-.5-1.4-.7-2.2.5zM262.9 34.7l2.2-.5-1.5-.7-2.2.5zM265.7 34.1l2.2-.5-1.5-.8-2.2.6zM279.5 30.8l2.2-.6-1.4-.7-2.3.5zM282.3 30l2.2-.5-1.5-.7-2.2.5zM287.8 28.6l2.2-.6-1.4-.7-2.2.6zM290.6 28.1l2.2-.5-1.5-.7-2.2.5zM293.4 27.3l2.2-.6-1.5-.7-2.2.5zM296.1 26.7l2.2-.5-1.4-.7-2.2.5zM301.7 25.1l2.2-.6-1.5-.7-2.2.6zM307.2 24l2.2-.5-1.4-.8-2.3.6zM310 23.2l2.2-.5-1.5-.7-2.2.5zM312.7 22.6l2.3-.5-1.5-.8-2.2.6zM315.5 21.9l2.2-.5-1.4-.7-2.2.5zM321.1 20.5l2.2-.5-1.5-.8-2.2.6zM329.4 18.4l2.2-.6-1.5-.7-2.2.6z"/></g>
<g font-size="3.3" fill="#606060" letter-spacing="0"><text transform="translate(241.1 72.1)scale(1.3 1)" text-anchor="end" letter-spacing="0.5">0</text><text transform="translate(241.1 65.4)scale(1.3 1)" text-anchor="end" letter-spacing="0.5">0.2</text><text transform="translate(241.1 58.7)scale(1.3 1)" text-anchor="end" letter-spacing="0.5">0.4</text><text transform="translate(241.1 51.9)scale(1.3 1)" text-anchor="end" letter-spacing="0.5">0.6</text><text transform="translate(241.1 45.2)scale(1.3 1)" text-anchor="end" letter-spacing="0.5">0.8</text><text transform="translate(241.1 38.5)scale(1.3 1)" text-anchor="end" letter-spacing="0.5">1</text><text transform="translate(241.1 31.8)scale(1.3 1)" text-anchor="end" letter-spacing="0.5">1.2</text><text transform="translate(238.7 74.2)scale(1.3 1)" text-anchor="middle">0</text><text transform="translate(247.8 78.6)scale(1.3 1)" text-anchor="middle">5</text><text transform="translate(256.9 83.1)scale(1.3 1)" text-anchor="middle">10</text><text transform="translate(266 87.5)scale(1.3 1)" text-anchor="middle">15</text><text transform="translate(275.2 91.9)scale(1.3 1)" text-anchor="middle">20</text><text transform="translate(284.3 96.3)scale(1.3 1)" text-anchor="middle">25</text><text transform="translate(293.4 100.8)scale(1.3 1)" text-anchor="middle">30</text><text transform="translate(302.5 105.2)scale(1.3 1)" text-anchor="middle">35</text><text transform="translate(325.8 100.8)scale(1.3 1)" text-anchor="middle">5</text><text transform="translate(339.7 97.3)scale(1.3 1)" text-anchor="middle">10</text><text transform="translate(353.6 93.9)scale(1.3 1)" text-anchor="middle">15</text><text transform="translate(367.4 90.5)scale(1.3 1)" text-anchor="middle">20</text><text transform="translate(381.2 87)scale(1.3 1)" text-anchor="middle">25</text><text transform="translate(395.1 83.6)scale(1.3 1)" text-anchor="middle">30</text></g>
<text font-size="4.3" fill="#4a4a4a" text-anchor="middle" transform="translate(231.3 45.9) rotate(-90)" textLength="30" lengthAdjust="spacingAndGlyphs">Entropia promedio H</text>
<text font-size="3.5" fill="#4a4a4a" x="242.7" y="104.7" textLength="40.5" lengthAdjust="spacingAndGlyphs">Numero de intentos</text>
<text font-size="3.5" fill="#4a4a4a" x="332.9" y="108.6" textLength="55.9" lengthAdjust="spacingAndGlyphs">Numero de iteraciones MoE</text>
<text font-size="3.3" font-weight="bold" stroke="#000" stroke-width="0.12" fill="#000" x="243.5" y="7.7" textLength="147.4" lengthAdjust="spacingAndGlyphs">Entropia segun intentos e iteraciones de MoE Clasico Entropico</text>
<path d="M59.7 206.9L77.1 203M77.1 203L77.1 152.2M71.3 212.2L88.7 208.3M88.7 208.3L88.7 157.6M82.9 217.5L100.3 213.6M100.3 213.6L100.3 162.9M94.6 222.9L112 218.9M112 218.9L112 168.2M106.2 228.2L123.6 224.2M123.6 224.2L123.6 173.5M117.8 233.5L135.2 229.5M135.2 229.5L135.2 178.8M129.4 238.8L146.8 234.8M146.8 234.8L146.8 184.1M49.8 201.2L131.1 238.4M49.8 201.2L49.8 150.5M53.3 200.4L134.6 237.6M53.3 200.4L53.3 149.7M56.8 199.6L138.1 236.8M56.8 199.6L56.8 148.9M60.3 198.8L141.6 236M60.3 198.8L60.3 148.1M63.8 198L145.1 235.2M63.8 198L63.8 147.3M48.1 201.6L65.5 197.6M65.5 197.6L146.8 234.8M48.1 194.4L65.5 190.4M65.5 190.4L146.8 227.6M48.1 187.1L65.5 183.1M65.5 183.1L146.8 220.3M48.1 179.9L65.5 175.9M65.5 175.9L146.8 213.1M48.1 172.6L65.5 168.7M65.5 168.7L146.8 205.9M48.1 165.4L65.5 161.4M65.5 161.4L146.8 198.6M48.1 158.1L65.5 154.2M65.5 154.2L146.8 191.4M48.1 150.9L65.5 146.9M65.5 146.9L146.8 184.1M65.5 197.6L65.5 146.9M146.8 234.8L146.8 184.1M48.1 150.9L65.5 146.9M65.5 146.9L146.8 184.1" stroke="#e6e6e6" stroke-width="0.3" fill="none"/>
<path d="M48.1 201.6L48.1 150.9M48.1 201.6L129.4 238.8M129.4 238.8L146.8 234.8M48.1 201.6L49 201.3M48.1 194.4L49 194.1M48.1 187.1L49 186.9M48.1 179.9L49 179.6M48.1 172.6L49 172.4M48.1 165.4L49 165.1M48.1 158.1L49 157.9M48.1 150.9L49 150.6M59.7 206.9L60.2 206.8M71.3 212.2L71.9 212.1M82.9 217.5L83.5 217.4M94.6 222.9L95.1 222.7M106.2 228.2L106.7 228.1M117.8 233.5L118.3 233.4M129.4 238.8L129.9 238.7M131.1 238.4L129.9 237.8M134.6 237.6L133.4 237.1M138.1 236.8L136.9 236.3M141.6 236L140.4 235.5M145.1 235.2L143.8 234.7" stroke="#9a9a9a" stroke-width="0.35" fill="none"/>
<g stroke="rgba(0,0,0,0.5)" stroke-width="0.25" stroke-linejoin="round"><path fill="url(#cF1)" d="M119.1 233.8v-42.6l-1.9-.8v42.6zM116.7 232.8v-42.6l-1.8-.8v42.5zM114.4 231.7v-43.6l-1.8-.8v43.6zM112.1 230.6v-42.5l-1.9-.8v42.5zM109.8 229.6v-43.2l-1.9-.8v43.1zM107.4 228.5v-42.3l-1.8-.8v42.3zM105.1 227.5v-43.1l-1.8-.9v43.1zM102.8 226.4v-43.3l-1.9-.9v43.3zM100.5 225.3v-42.8l-1.9-.9v42.9zM98.2 224.3v-42.4l-1.9-.9v42.4zM95.8 223.2v-42l-1.8-.9v42.1zM93.5 222.1v-42l-1.8-.8v42zM91.2 221.1v-42.2l-1.9-.9v42.2zM88.9 220v-41.6l-1.9-.9v41.7zM86.5 219v-42.4l-1.8-.8v42.3zM84.2 217.9v-42.1l-1.8-.9v42.1zM81.9 216.8v-42.3l-1.9-.9v42.4zM79.6 215.8v-41.4l-1.9-.9v41.4zM77.3 214.7v-41.1l-1.9-.8v41zM74.9 213.6v-42.1l-1.8-.8v42.1zM72.6 212.6v-41.5l-1.9-.8v41.4zM70.3 211.5v-42.5l-1.9-.9v42.6zM68 210.4v-41.6l-1.9-.9v41.7zM65.6 209.4v-43.2l-1.8-.9v43.2zM63.3 208.3v-42l-1.8-.9v42.1zM61 207.3v-43.5l-1.9-.9v43.5zM58.7 206.2v-42.4l-1.9-.9v42.4zM56.3 205.1v-42.6l-1.8-.8v42.6zM54 204.1v-42.9l-1.8-.8v42.8zM51.7 203v-43.2l-1.9-.9v43.3z"/><path fill="url(#cS30)" d="M121.8 233.2v-42.6l-2.7.6v42.6zM125.3 232.4v-42.9l-2.8.7v42.8zM128.8 231.6v-42l-2.8.6v42zM132.3 230.8v-40.1l-2.8.6v40.2zM135.8 230v-38.8l-2.8.6v38.9z"/><path fill="url(#cF2)" d="M122.5 233v-42.8l-1.8-.9v.7l1.1.6v42.1zM120.2 189.2l-1.8-.8v.7l1.1.5v.2l.5-.1.2.1zM113.7 186.1v.9l1.3-.3zM97.5 179.9v.1l1.1.5h.1zM80.7 172.9l-1.8-.9v.5l1.1.5.5-.1.2.1zM78.4 171l-1.8-.8v.1l1.1.6v1.3l.5-.1.2.1zM57.5 160.7l-1.9-.8v.1l1.2.6v.6l.5-.1.2.1z"/><path fill="url(#cF3d)" d="M126 232.2v-42l-.7-.3v42zM119.1 187.4l-.7-.3v.4l.4-.1.3.1zM93.5 176.8l-.7-.3v1.1l.5-.1.2.1zM86.5 174.4l-.7-.3v.5l.3.1.2-.1.2.1zM84.2 173.1l-.7-.3v.5l.5-.1.2.1zM81.9 170.9l-.7-.3v.9l.5-.1.2.1zM68 165.1l-.7-.3v.2l.2.1.2-.1z"/><path fill="url(#cF4d)" d="M129.5 231.5v-40.2l-.7-.3v40.1zM124.9 188.5l-.7-.3v.5l.4-.1.3.1zM122.5 187.1l-.7-.3v.5l.5-.1.2.1zM113.7 183.8v.4l.6-.2zM104 179.6l-.7-.3v1.2l.4-.1.3.1zM97 177.1l-.7-.3v.6l.5-.1.2.1zM85.4 171.6l-.7-.3v.4l.4-.1.3.1zM78.4 167.9l-.7-.3v.9l.5-.1.2.1zM66.8 162.5l-.7-.4v.5l.1.1.4-.1.2.1z"/><path fill="url(#cF5d)" d="M133 230.7v-38.9l-.7-.3v38.8zM119.5 185v.3l.4-.1zM119 184.6l-.7-.4v1.1l.5-.1.2.1zM91.2 172.4l-.7-.4v1.5l.4-.1.3.1zM81.9 167.9l-.7-.3v1.2l.4-.1.3.1zM77.2 165.9l-.7-.3v.6l.7.3z"/><path fill="url(#cS29)" d="M117.2 232.7v-42.3l2.3-.6v-.2l-2.8.6v42.6zM123 188.6l-2.8.6v.6l.5.2v-.7l2.3-.5zM130 189.9l-1.2.2v.1zM133.4 189.3l-2.7.6 1.6.8 1.1-.3z"/><path fill="url(#cF5)" d="M128.8 189.3l1.2.6.4-.1-1.6-.7zM112.5 182.3l.8.3h.2l-1-.5zM112.1 181.6l-1.9-.8v.6l1.2.6v.1l.4-.1.3.1zM102.8 177.6l-1.9-.8v.3l1.2.5v.3l.5-.1.2.1zM91.6 173.3v.4l.9.4.6-.2zM82.3 168.9v.1l.9.4h.1zM77.7 166.7l.1.1.9-.2-1-.5zM73.1 164l.5.3.7-.2-1.2-.6zM72.6 163.3l-1.9-.8 1.2.6v.7l.5-.1.2.1zM63.8 160l.3.2 1.2-.3-1.5-.7z"/><path fill="url(#cS28)" d="M114.9 231.6v-42.2l2.3-.6v-1.3l-2.8.6v43.6zM124.2 188.1l-1.6.3.4.2v.2l.5-.1.3.1.4-.1zM127.6 187.9l-2.7.6v.2l.6.3 1.4-.3.7.3z"/><path fill="url(#cF2d)" d="M117.2 188.5v.3l.4-.1zM108.6 184.8l-.7-.4v.5l.5-.1.2.1zM90 176.5l-.7-.3v.8l.5-.1.2.1zM73.8 169.2l-.7-.3v.9l.4-.2.3.2zM69.1 166.6l-.7-.3v1.1l.5-.1.2.1zM64.5 163.8l-.7-.3v1.4l.4-.1.3.1z"/><path fill="url(#cS28d)" d="M118.4 188.8l-.5.1.5.2z"/><path fill="url(#cS27d)" d="M112.6 230.5v-42.5l-.5.1v42.5z"/><path fill="url(#cS27)" d="M118.4 186.3l-2.5.6 1.3.6v.2l1.2-.2zM121.8 186.7l-2.7.7v.1l.7.3 2-.5zM125.3 186.5l-2.8.6v.2l.7.3 2.1-.4zM128.8 187.2l-1.8.4.6.3v.4l1.2-.2z"/><path fill="url(#cS26)" d="M110.2 229.5v-42.2l2.4-.5v-1l-2.8.6v43.2zM126.5 186.3l-1.2.2v.3l1.2-.3z"/><path fill="url(#cF4)" d="M118.4 185.6v.7l1-.3zM113.2 183.9l-1.8-.9v.4l1.1.5v.2l.5-.1.2.1zM106.3 180.6l-1.9-.9v1l.2.1 1.4-.3zM97.4 177.4v.2l1.1.5h.4zM87.7 172.3l-1.9-.8v.4l1.2.6v.5l.5-.1.2.1zM69.1 163.7l-1.8-.9 1.1.6v.3l.5-.1z"/><path fill="url(#cS25d)" d="M107.9 228.4v-42.3l-.5.1v42.3z"/><path fill="url(#cS25)" d="M113.7 185.9l-1.1.2v.3l1.1-.3zM117.2 184.6l-2.8.7v.7l2.1-.5.7.3zM124.2 185.2l-1.6.4.4.2 1.2-.3z"/><path fill="url(#cF3)" d="M114.4 185.3l-1.8-.9v.9l1.1.6v.2l.7-.1zM98.6 178.9l1.1.5h.2l-1.3-.6zM87 174.8l1.4-.3-1.4-.7zM77.7 169.8l.2.1.9-.3-1.1-.4zM74.9 167.4l-1.8-.9v.8l1.1.5.5-.1.2.1zM72.6 166.2l-1.9-.8 1.2.5v1.2l.5-.1.2.1zM70.3 165.1l-1.9-.9v1.2h.2l1.4-.3.3.1zM63.3 161.8l-1.9-.9v.7l1.2.5v.5l.5.2h.2z"/><path fill="url(#cS24)" d="M105.6 227.3v-41.9l2.3-.5v-1.1l-2.8.6v43.1zM111.4 184.1l-2.8.7v.1l.8.3 1.3-.3.5.3.2-.1zM118.3 184l-1.7.4.6.2v1l1.1-.3zM121.8 183.9l-2.8.7v.7l.1.1.4-.1v-.3l2.3-.5z"/><path fill="url(#cS23)" d="M103.3 226.3v-42.8l2.3-.5v-.6l-2.8.7v43.3zM109.1 182.9l-2 .5.6.3 1.4-.3zM112.5 183.9l-1.1.3v.1l1.1-.2z"/><path fill="url(#cS23d)" d="M113.2 183.9v.2l.4.1h.1v-.4z"/><path fill="url(#cS22d)" d="M100.9 225.2v-42.8l-.4.1v42.8z"/><path fill="url(#cS22)" d="M106.7 181.8l-1.6.4.5.3 1.1-.3zM117.2 182.3l-2.2.5 1 .4 1.2-.2z"/><path fill="url(#cS21d)" d="M98.6 224.2v-42.4l-.4.1v42.4z"/><path fill="url(#cS21)" d="M107.9 181.4l-1.5.3.3.1v.4l.5-.1.7.3zM111.4 182l-2.5.5.2.1 2.3-.5zM114.9 181l-2.8.6v.5l.4.2v-.2l2.4-.5z"/><path fill="url(#cS20d)" d="M96.3 223.1v-42l-.5.1v42z"/><path fill="url(#cS20)" d="M102.1 180.1l-2.4.6 1 .5.7-.2.5.2h.2zM109.1 179.9l-2.8.7 1.6.8v.1l1.2-.3z"/><path fill="url(#cS19)" d="M94 222v-41.7l2.3-.5v-.3l-2.8.6v42zM103.3 179l-2.5.5 1.3.6v.7l1.2-.3zM106.7 179l-2.7.6v.9l.4.2v-1l2.3-.5zM110.2 179.5l-1.4.3.3.1v.3l1.1-.2z"/><path fill="url(#cS18)" d="M91.7 221v-41.7l2.3-.6v-.5l-2.8.7v42.2zM97.5 178.5l-2.3.5.3.1 2-.4zM107.9 178.4l-1.7.4.5.2 1.2-.2z"/><path fill="url(#cS17d)" d="M89.3 219.9v-41.6l-.4.1v41.6z"/><path fill="url(#cS17)" d="M102.1 177.6l-2.6.6.4.2 2.2-.5zM105.6 177l-2.8.6v.3l.6.2 2.2-.5z"/><path fill="url(#cS16)" d="M87 218.8v-41.3l2.3-.5v-1l-2.8.6v42.4zM92.8 175.9l-2.8.6v.5l1.3.6.8-.2.6.3.1-.1zM96.3 176.2l-2.8.6v.8l.6.3 2.2-.5zM99.8 176.5l-2.8.6v.3l.4.2v-.2l2.4-.5z"/><path fill="url(#cS15)" d="M84.7 217.8v-42l2.3-.5v-.2l-2.8.7v42.1zM94 175.3l-1.6.4.2.1 1.4-.3zM97.4 175.5l-1.8.4.3.2 1.5-.4zM100.9 175.5l-2.2.5.8.3 1.4-.3z"/><path fill="url(#cS14)" d="M82.4 216.7v-41.8l2.3-.5v-.5l-2.8.6v42.3zM91.6 174l-2.5.6.7.4 1.8-.4z"/><path fill="url(#cS13d)" d="M80 215.7v-41.4l-.4.1v41.4zM86.5 174.7l.2.1h.3v-.5l-.5.1z"/><path fill="url(#cS13)" d="M85.8 174l-1.1.3v.1l.4-.1.7.3zM96.3 173.5l-2.7.6 1.4.6 1.3-.3z"/><path fill="url(#cS12d)" d="M77.7 214.6v-41.1l-.4.1v41.1z"/><path fill="url(#cS12)" d="M83.5 172.2l-2.8.7v.1l.7.3 1.4-.3.7.3zM87 172.5l-2.8.6v.2l.5.2 2.3-.5zM90.5 171.7l-2.8.6v.7l1 .4 1.1-.2.7.3zM94 171.7l-2.8.7v1.1l.4.2v-.4l2.4-.6z"/><path fill="url(#cS11)" d="M75.4 213.5v-40.7l2.3-.6v-1.3l-2.8.6v42.1zM81.2 170.4l-2.8.6v1.2l.5.3v-.5l2.3-.5zM84.7 170.3l-2.8.6v.6l1.3.6 1.5-.4z"/><path fill="url(#cS11d)" d="M85.4 171.7l.4.2v-.4l-.4.1z"/><path fill="url(#cS10d)" d="M73.1 212.5v-41.5l-.5.1v41.5z"/><path fill="url(#cS10)" d="M82.3 169.4l-2.2.5.3.1 1.9-.4zM85.8 170.1l-1.1.2v.2l1.1-.2zM89.3 169.9l-2.4.5 1.1.6.6-.2.2.1.5-.1z"/><path fill="url(#cS9)" d="M70.7 211.4v-41.1l2.4-.5v-1.4l-2.8.6v42.5zM76.5 168.6l-2.7.6v.6l.6.3 2.1-.5z"/><path fill="url(#cS8d)" d="M68.4 210.3v-41.6l-.4.1v41.6z"/><path fill="url(#cS8)" d="M77.7 166.7l-2.8.7v.4l1.6.8v.1l1.2-.2zM81.2 167.3l-2.8.6v.6l.8.3 1.3-.3.7.3zM84.7 167.3l-2.8.6v.9l.4.2v-.1l2.4-.5z"/><path fill="url(#cS7)" d="M66.1 209.3v-41.4l2.3-.5v-1.9l-2.8.7v43.2zM71.9 165.9l-2.8.7v.8l.6.2 2.2-.5zM75.4 165.6l-2.8.6v.9l.5.2v-.8l2.3-.5zM82.3 166.4l-2.1.4.3.1 1.8-.4z"/><path fill="url(#cS6d)" d="M63.8 208.2v-42.1l-.5.2v42z"/><path fill="url(#cS6)" d="M73.1 164.5l-2.8.6v.1l.4.2 2.4-.5zM76.5 164.9l-1.8.4.7.3v.4l.4-.1.7.3zM80 165.3l-2.8.6v.6l.5.2v-.6l2.3-.5z"/><path fill="url(#cS5)" d="M61.5 207.2v-41.8l2.3-.5v-1.8l-2.8.7v43.5zM67.3 163.2l-2.8.6v1.1l.4.2 1.7-.4.7.3zM77.7 163.8l-2.4.5 1.1.6 1.3-.3z"/><path fill="url(#cS5d)" d="M68 165.1l.4.3v-.4z"/><path fill="url(#cS4d)" d="M59.1 206.1v-42.4l-.4.1v42.4z"/><path fill="url(#cS4)" d="M68.4 163.4l-1.1.3v.3l1.1-.3zM71.9 163.1l-2.8.6.5.3 1.6-.4.6.3.1-.1zM75.4 162.7l-2.8.6v.5l.5.2v-.5l2.3-.5z"/><path fill="url(#cS3)" d="M56.8 205v-42.1l2.3-.5v-.5l-2.8.6v42.6zM62.6 162.1l-2.2.5 1.5-.3.7.3zM66.1 161.1l-2.8.7v1l2.1-.5.7.3zM69.6 161.8l-2.8.7v.2l.5.2 2.3-.6zM73 161.8l-2.5.6.2.1 2.3-.6z"/><path fill="url(#cS2)" d="M54.5 204v-42.3l2.3-.5v-.6l-2.8.6v42.9zM60.3 160.1l-2.8.6v.5l1.2.5 1.6-.3zM67.2 160.7l-1.3.3.2.1v.2l1.1-.2z"/><path fill="url(#cS1)" d="M52.2 202.9v-42.5l2.3-.6v-.7l-2.8.7v43.2zM68.4 159.4l-2.7.6 1.5.7 1.2-.3z"/></g>
<g stroke="rgba(0,0,0,0.35)" stroke-width="0.25" stroke-linejoin="round"><path fill="#f8f611" d="M117.2 190.4l1.9.8 2.7-.6-1.8-.9zM122.5 190.2l2.8-.7-1.8-.8-2.8.6zM120.2 189.2l2.8-.6-1.9-.9-2.7.7zM115 186.7l.3-.1.6.3 2.5-.6-1.9-.8-2.8.6zM109.8 186.4l2.8-.6-1.9-.9-2.8.7zM105.1 184.4l2.8-.6-1.8-.9-2.8.6zM100.5 182.5l.4-.1v-.2l2.1-.5-1.6-.7-2.8.6zM65.6 166.2l2.8-.7-1.8-.8-2.8.6zM64.5 163.8l2.8-.6-1.9-.9-2.3.5.7.3v.4zM56.3 162.5l2.8-.6-1.8-.8-2.8.6zM54 161.2l2.8-.6-1.9-.9-2.7.7zM57.5 160.7l2.8-.6-1.9-.9-2.8.7z"/><path fill="#f6f214" d="M126 190.2l2.8-.6-1.9-.9-2.2.5.6.3v.4zM116.7 190.2l2.8-.6-1.8-.9-2.8.7zM117.2 188.5l.7.4.5-.1v-.4l1.7-.4-1.3-.6-1.6.3zM112.1 188.1l.5-.1v-.7l1.2-.3-.8-.3-2.8.6zM107.4 186.2l.5-.1v-.5l1.5-.4-1-.4-2.8.6zM108.6 184.8l2.8-.7-1.9-.8-1.8.4.2.1v.6zM109.1 182.9l-1.9-.8-1.6.4v.5l.5-.1 1 .5zM106.7 181.8l-1.8-.8-2.4.5.5.2.7-.1 1.4.6zM98.2 181.9l.4-.1v-.2l2.1-.4-1.6-.8-2.8.6zM95.8 181.2l.5-.2 2.3-.5-1.8-.8-2.8.6zM93.5 180.1l2.8-.6-1.9-.9-2.7.7zM91.2 178.9l2.8-.7-1.9-.8-2.8.6zM86.5 176.6l2.8-.6-1.8-.8-2.8.6zM84.2 175.8l2.8-.7-1.9-.8-2.7.6zM81.9 174.5l2.8-.6-1.9-.9-2.8.6zM74.9 171.5l2.8-.6-1.8-.9-2.8.7zM70.3 169l2.8-.6-1.9-.9-2.8.6zM69.1 166.6l2.8-.7-1.9-.8-1.7.4h.1v.8zM63.3 166.3l.5-.2v-.8l1.1-.2-.7-.3-2.7.6zM58.7 163.8l.4-.1v-.8l1.3-.3-.8-.3-2.8.6zM56.1 158.7l-1.7.4.1.7.4-.1.7.3v-.1l2-.5z"/><path fill="#f5e61c" d="M129.5 191.3l2.8-.6-1.9-.9-1.6.4v.8zM130 189.9l-1.9-.9-.3.1 1 .5v.5zM111.4 185.1l.5-.1.7.3v-.9l1-.2-.6-.2-1.6.3zM114.3 184l1-.2 1.3.6 1.7-.4-1.8-.9-2.8.7zM112.5 183.9l-1.8-.8-1.1.2 1.8.8v.1zM113.2 183.9l.5-.1 2.3-.6-1.8-.8-2.8.6zM110.2 183.1l-1.8-.8-.5.1 1.2.5v.5zM106.3 180.6l2.8-.7-1.9-.8-2.8.6zM104 179.6l2.7-.6-1.8-.8-2.3.5.7.3v.3zM99.1 178l-1.8.4.2.1v.2l.4-.1.7.3v-.1l1.4-.4zM93.3 177.5l-.6.2 1 .4.5-.1zM94 175.3l-1.9-.9-2.3.6.5.2.6-.2 1.5.7zM86.3 174.6l-.2.1.4.2.2-.1zM85.8 174l-1.8-.8-.5.1 1.2.6v.4zM86.5 174.4l.5-.1v-.5l1.7-.4-1.2-.5-2.8.6zM84.2 173.1l2.8-.6-1.9-.9-1.9.5.3.1v.6zM87.7 172.3l2.8-.6-1.9-.9-2.8.7zM76.5 169.5h.5l.7.2v-.5l1.5-.4-1-.4-1.7.3zM78.4 167.9l2.8-.6-1.9-.9-1.6.4v.8zM76.5 164.9l-1.8-.8-1.7.3.1.5.4-.1 1.2.5zM69.1 163.7l2.8-.6-1.9-.9-2.7.6zM66.8 162.5l2.8-.7-1.9-.8-1.6.3v.8zM62.8 160.6l1.4-.3 1.7.7 1.3-.3-1.8-.8-2.8.6zM59.6 159.6l-.2.1.9.4v.6l1.1-.3z"/><path fill="#f5de21" d="M133 191.8l2.8-.6-1.9-.9-1.6.4v.8zM117.6 182.9l-1.1.2 1.1.5 1.1-.2zM109.3 181.2l.2-.1.4.2.3-.1v-.4l1.7-.4-1.2-.5-1.6.3v.8zM110.2 179.5l-1.8-.8-1.7.3v.2l.5-.1 1.6.7zM107.9 178.4l-1.9-.9-2.6.6.5.3 1-.2 1.3.6zM101.4 175.9l-1.9.4.3.2v.4l.4-.1.7.3v-.3l1.6-.4zM100.9 175.5l-1.8-.9-2.3.6.6.3v.2l.5-.1.8.4zM93.3 173.9l-1.7.4v.3l.5-.2 1.4.7 1.6-.4zM90.9 173.4l-.4.1 1.1.5v.3l.9-.2zM93.1 173.9h.2l.3.2 2.7-.6-1.9-.9-2.8.7zM85.9 170.2h.4l.6.2 2.4-.5-1.8-.9-2.6.6.9.5v.1zM81.6 168.7l-.5.1 1.2.6v.2l.9-.2zM83.3 169.4l.7-.2.9.4 2-.5-1.8-.8-2.8.6zM68.9 160.3l-1.7.4v.4l.5-.1 1.2.5 1.7-.4z"/><path fill="#f5ea19" d="M124.6 188.6l-.8.2.9.4.8-.2zM124.9 188.5l2.7-.6-1.8-.8-2.6.5 1 .5v.1zM122.5 187.1l2.8-.6-1.8-.8-2.7.6zM119.4 186l.6-.1.8.4 2.2-.5-1.9-.9-2.7.7zM102.6 181.1l-.7.1.6.3.7-.1zM103.6 181.3l1.3-.3 1.5.7 1.5-.3-1.9-.9-2.7.6zM99.9 179.4l.3-.1.6.2 2.5-.5-1.9-.9-2.8.7zM97.5 178.5l-1.9-.9-1.9.5.3.1v.5l.4-.1.8.4zM93.5 176.8l2.8-.6-1.9-.8-1.8.4.2.1v.6zM88.4 174.5l.2-.1.5.2 2.5-.6-1.8-.8-2.8.6zM77.3 173.6l.4-.1 2.3-.5-1.8-.9-2.8.7zM80.7 172.9l2.8-.7-1.8-.8-2.8.6zM81.9 170.9l2.8-.6-1.9-.8-2.4.5.8.4v.2zM77 169.5l-2.6.6.5.2 1-.3.7.3v-.1l1.3-.3zM78.8 169.6l.5-.1.8.4 2.2-.5-1.8-.9-2.8.7zM72.4 167l-2.7.6.3.2 1.2-.3 1.5.7 1.5-.4zM67.7 165l-.2.1.8.4.3-.1zM68 165.1l.4-.1v-.8l1.2-.2-.7-.4-1.6.4v.8zM68.4 163.4l-1.8-.8-.4.1 1.1.5v.5zM61.9 160.3l-1.6.4v.7l.5-.1.6.3v-.7l1.3-.3z"/><path fill="#f5e21e" d="M128.8 189.1l1.9.8 2.7-.6-1.8-.9zM129.3 187.9l-1.7.4v.7l.2.1.3-.1.7.3v-.2l2-.5zM128.8 187.2l-1.9-.8-1.6.4v.4l.5-.1 1.2.5zM126.5 186.3l-1.9-.9-1.1.3 1.8.8zM118.8 185.2l-1.6.4v.2l1 .5h.2v-.7l.7-.2zM119.9 185.2l1.2-.3 1.5.7 1.6-.4-1.9-.8-2.8.6zM119 184.6l2.8-.7-1.8-.8-2.4.5.7.4v.2zM110.3 183.2l.4-.1.6.3.1-.1v-.3l1.9-.4-1.5-.6-2.7.6zM113.5 182.6l.7-.2.8.4 2.2-.5-1.9-.8-2.8.6zM108.1 182.4l.3-.1.5.2 2.5-.5-1.9-.9-1.6.4v.8zM112.1 181.6l2.8-.6-1.9-.9-2.8.7zM103.7 180.4l-1.6.4v.4l.5-.1.6.3.1-.3 1.3-.3zM102.6 177.8l-2.7.6h.1l1.4-.3 1.2.6 1.3-.3zM96.8 177.3l-2.7.6.1.1 1.4-.4 1.7.8 1.2-.3zM98.9 178.1l.2-.1.4.2 2.6-.6-1.9-.8-2.8.6zM102.8 177.6l2.8-.6-1.9-.9-2.8.7zM97 177.1l2.8-.6-1.9-.9-2 .5.4.1v.6zM97.4 175.5l-1.8-.9-2.1.5.5.2v.2l.4-.1 1.2.5zM91.2 172.4l2.8-.7-1.9-.8-2.3.5.7.3v.3zM85.4 171.6l.4-.1 2.2-.5-1.7-.8-1.6.3v.8zM85.8 170.1l-1.8-.9-1.2.3 1.9.8zM81.9 167.9l2.8-.6-1.9-.9-2.3.5.7.4v.3zM78.7 166.6l.6-.2.9.4 2.1-.4-1.8-.9-2.8.6zM77.2 165.9l2.8-.6-1.8-.8-1.8.4h.1v.7zM72.4 163.7l-.6.2 1.2.5.6-.1zM74.3 164.1h.4l.6.2 2.4-.5-1.9-.9-2.7.6zM72.6 163.3l2.8-.6-1.9-.9-2.8.7zM69.8 162.3l.2-.1.5.2 2.5-.6-1.8-.8-2.3.5.7.3v.3zM63.1 159.7l-2.2.5.5.2.5-.1.7.3v-.1l1.5-.3zM65.3 159.9h.1l.3.1 2.7-.6-1.9-.8-2.7.6z"/><path fill="#f9fb0e" d="M114.4 188.1l2.8-.6-1.9-.9-2.7.7zM102.8 183.1l2.8-.7-1.9-.8-2.8.6zM61 163.8l2.8-.7-1.9-.8-2.8.6zM51.7 159.8l2.8-.7-1.9-.8-2.8.6z"/><path fill="#f5ee17" d="M124.2 188.1l-1.9-.9-2.5.6.3.2 1-.3 1.5.7zM119.1 187.4l2.7-.7-1.8-.8-1.8.4h.2v.8zM114.2 186l-1.6.4v.4l.4-.1.7.3v-.9zM113.7 185.9l-1.8-.9-.7.2 1.4.6v.3zM114.4 185.3l2.8-.7-1.9-.8-2.7.6zM98.7 180.5l.4-.1.6.3 2.4-.6-1.9-.8-2.7.6zM96.4 179.8l.4-.1.6.3 2.3-.6-1.8-.8-2.4.5.8.4v.2zM88.9 178.4l.4-.1v-.3l2-.4-1.5-.7-2.8.6zM90 176.5l2.8-.6-1.9-.9-2.5.6.9.4v.2zM88.6 174.4l-2.1.5.5.2v.2l.5-.1.9.4 1.9-.4zM79.6 174.4l.4-.1v-.7l1.4-.3-.9-.4-2.8.6zM78.4 171l2.8-.6-1.9-.9-2.7.7zM72.6 171.1l.5-.1v-.3l1.8-.4-1.4-.7-2.8.7zM73.8 169.2l2.7-.6-1.8-.9-2 .5.4.2v.5zM68 168.8l.4-.1v-.6l1.6-.3-1.1-.5-2.8.6zM74.9 167.4l2.8-.7-1.9-.8-2.7.6zM72.6 166.2l2.8-.6-1.9-.8-2.8.6zM70.3 165.1l2.8-.6-1.9-.9-2.8.6zM62.6 162.1l-1.8-.8-2.1.4.4.2v.5l.5-.1.8.3zM63.3 161.8l2.8-.7-1.9-.8-2.8.6z"/><path fill="#f6db24" d="M96.7 174.3l-1.7.4.6-.1 1.2.6 1.2-.3zM89.8 170.7l-1 .2 1 .5 1-.2z"/></g>
<g font-size="3.3" fill="#606060" letter-spacing="0"><text transform="translate(46.5 202.5)scale(1.3 1)" text-anchor="end" letter-spacing="0.5">0</text><text transform="translate(46.5 195.3)scale(1.3 1)" text-anchor="end" letter-spacing="0.5">0.5</text><text transform="translate(46.5 188)scale(1.3 1)" text-anchor="end" letter-spacing="0.5">1</text><text transform="translate(46.5 180.8)scale(1.3 1)" text-anchor="end" letter-spacing="0.5">1.5</text><text transform="translate(46.5 173.5)scale(1.3 1)" text-anchor="end" letter-spacing="0.5">2</text><text transform="translate(46.5 166.3)scale(1.3 1)" text-anchor="end" letter-spacing="0.5">2.5</text><text transform="translate(46.5 159)scale(1.3 1)" text-anchor="end" letter-spacing="0.5">3</text><text transform="translate(46.5 151.8)scale(1.3 1)" text-anchor="end" letter-spacing="0.5">3.5</text><text transform="translate(43.5 205.6)scale(1.3 1)" text-anchor="middle">0</text><text transform="translate(55.1 210.9)scale(1.3 1)" text-anchor="middle">5</text><text transform="translate(66.7 216.2)scale(1.3 1)" text-anchor="middle">10</text><text transform="translate(78.3 221.5)scale(1.3 1)" text-anchor="middle">15</text><text transform="translate(90 226.9)scale(1.3 1)" text-anchor="middle">20</text><text transform="translate(101.6 232.2)scale(1.3 1)" text-anchor="middle">25</text><text transform="translate(113.2 237.5)scale(1.3 1)" text-anchor="middle">30</text><text transform="translate(124.8 242.8)scale(1.3 1)" text-anchor="middle">35</text><text transform="translate(136.1 242.8)scale(1.3 1)" text-anchor="middle">1</text><text transform="translate(139.6 242)scale(1.3 1)" text-anchor="middle">2</text><text transform="translate(143.1 241.2)scale(1.3 1)" text-anchor="middle">3</text><text transform="translate(146.6 240.4)scale(1.3 1)" text-anchor="middle">4</text><text transform="translate(150.1 239.6)scale(1.3 1)" text-anchor="middle">5</text></g>
<text font-size="4.3" fill="#4a4a4a" text-anchor="middle" transform="translate(36.5 173.7) rotate(-90)" textLength="26.6" lengthAdjust="spacingAndGlyphs">Entropia promedio H</text>
<text font-size="3.5" fill="#4a4a4a" x="61.2" y="242.3" textLength="41.6" lengthAdjust="spacingAndGlyphs">Numero de intentos</text>
<text font-size="3.5" fill="#4a4a4a" x="147.6" y="249.4" textLength="56.2" lengthAdjust="spacingAndGlyphs">Numero de iteraciones MoE</text>
<text font-size="3.3" font-weight="bold" stroke="#000" stroke-width="0.12" fill="#000" x="36.2" y="146.6" textLength="123" lengthAdjust="spacingAndGlyphs">Entropia segun intentos e iteraciones de MoE Clasico</text>
<path d="M277.7 206.3L294.8 201.9M294.8 201.9L294.8 151.7M289.4 211.8L306.5 207.4M306.5 207.4L306.5 157.2M301 217.3L318.1 212.9M318.1 212.9L318.1 162.7M312.7 222.8L329.8 218.4M329.8 218.4L329.8 168.2M324.3 228.3L341.4 223.9M341.4 223.9L341.4 173.7M336 233.8L353.1 229.4M353.1 229.4L353.1 179.2M347.6 239.3L364.7 234.9M364.7 234.9L364.7 184.7M267.8 200.4L349.3 238.9M267.8 200.4L267.8 150.2M271.2 199.5L352.7 238M271.2 199.5L271.2 149.3M274.7 198.6L356.2 237.1M274.7 198.6L274.7 148.4M278.1 197.7L359.6 236.2M278.1 197.7L278.1 147.5M281.5 196.8L363 235.3M281.5 196.8L281.5 146.7M266.1 200.8L283.2 196.4M283.2 196.4L364.7 234.9M266.1 193.6L283.2 189.2M283.2 189.2L364.7 227.7M266.1 186.5L283.2 182.1M283.2 182.1L364.7 220.6M266.1 179.3L283.2 174.9M283.2 174.9L364.7 213.4M266.1 172.1L283.2 167.7M283.2 167.7L364.7 206.2M266.1 165L283.2 160.6M283.2 160.6L364.7 199.1M266.1 157.8L283.2 153.4M283.2 153.4L364.7 191.9M266.1 150.6L283.2 146.2M283.2 146.2L364.7 184.7M283.2 196.4L283.2 146.2M364.7 234.9L364.7 184.7M266.1 150.6L283.2 146.2M283.2 146.2L364.7 184.7" stroke="#e6e6e6" stroke-width="0.3" fill="none"/>
<path d="M266.1 200.8L266.1 150.6M266.1 200.8L347.6 239.3M347.6 239.3L364.7 234.9M266.1 200.8L267 200.6M266.1 193.6L267 193.4M266.1 186.5L267 186.2M266.1 179.3L267 179M266.1 172.1L267 171.9M266.1 165L267 164.7M266.1 157.8L267 157.5M266.1 150.6L267 150.4M277.7 206.3L278.3 206.2M289.4 211.8L289.9 211.7M301 217.3L301.5 217.2M312.7 222.8L313.2 222.7M324.3 228.3L324.8 228.2M336 233.8L336.5 233.7M347.6 239.3L348.1 239.2M349.3 238.9L348.1 238.3M352.7 238L351.5 237.4M356.2 237.1L354.9 236.5M359.6 236.2L358.3 235.6M363 235.3L361.8 234.8" stroke="#9a9a9a" stroke-width="0.35" fill="none"/>
<g stroke="rgba(0,0,0,0.5)" stroke-width="0.25" stroke-linejoin="round"><path fill="url(#dF1)" d="M337.2 234.2v-46.7l-1.8-.9v46.7zM334.9 233.1v-47.1l-1.9-.8v47zM332.6 232v-45.7l-1.9-.9v45.7zM330.2 230.9v-46.4l-1.8-.9v46.4zM327.9 229.8v-45.6l-1.8-.9v45.6zM325.6 228.7v-45.1l-1.9-.9v45.1zM323.3 227.6v-46.2l-1.9-.9v46.2zM320.9 226.5v-45.4l-1.8-.9v45.4zM318.6 225.4v-45.8l-1.9-.9v45.8zM316.3 224.3v-46.3l-1.9-.8v46.2zM313.9 223.2v-45.6l-1.8-.9v45.6zM311.6 222.1v-44.9l-1.8-.9v44.9zM309.3 221v-46.6l-1.9-.9v46.6zM307 219.9v-46.6l-1.9-.8v46.5zM304.6 218.8v-45.2l-1.8-.9v45.2zM302.3 217.7v-46.3l-1.9-.9v46.3zM300 216.6v-45.2l-1.9-.8v45.1zM297.6 215.5v-45.3l-1.8-.8v45.2zM295.3 214.4v-44.1l-1.8-.9v44.1zM293 213.3v-43.6l-1.9-.9v43.6zM290.7 212.2v-43.6l-1.9-.9v43.6zM288.3 211.1v-44l-1.8-.9v44zM286 210v-43.4l-1.9-.9v43.4zM283.7 208.9v-42.8l-1.9-.9v42.8zM281.3 207.8v-42.5l-1.8-.9v42.5zM279 206.7v-43.5l-1.8-.8v43.4zM276.7 205.6v-43.9l-1.9-.8v43.8zM274.4 204.5v-44l-1.9-.9v44zM272 203.4v-42.3l-1.8-.9v42.3zM269.7 202.3v-43.5l-1.9-.9v43.5z"/><path fill="url(#dS30)" d="M340 233.4v-46.6l-2.8.7v46.7zM343.4 232.6v-46.7l-2.7.7v46.7zM346.8 231.7v-45.8l-2.7.7v45.8zM350.2 230.8v-45.1l-2.7.7v45.1zM353.6 229.9v-45.5l-2.7.7v45.5z"/><path fill="url(#dF2)" d="M340.7 233.3v-46.7l-1.9-.8v.4l1.2.6v46.1zM336 184.3l-1.9-.8v1.4l1.7-.4.2.1zM329 182.2l-1.9-.8v.9l1 .5.7-.2.2.1zM322.5 179.5v.4l.5.2.4-.1zM322 178.6l-1.8-.9v.7l1.1.5v.8l.5-.2.2.1zM315.5 176.3l.7.4.6-.2-1.3-.6zM306.2 172.2l1.1-.3-1.1-.5zM296.4 167.7l-1.9-.9v1.6l1 .5.7-.2.2.1zM294.1 167.2l-1.9-.9v1.1l1.2.5v.3l.5-.1.2.1zM287.6 165.3l.8.4.4-.1-1.2-.6zM287.1 164.8l-1.9-.9v.9l.9.4.8-.2.2.1zM284.8 164.3l-1.9-.8v.5l1.2.6.4-.1.3.1zM282.4 162.1l-1.8-.8v.7l1.2.5v1.3l.4-.1.2.1zM280.1 160.6l-1.9-.9v.8l1.2.5v.8l.5-.1.2.1zM273.6 158.2v1.1l1.6-.4z"/><path fill="url(#dF3d)" d="M344.1 232.4v-45.8l-.7-.4v45.9zM332.4 182l-.7-.3v.7l.5-.2.2.1zM327.8 180.5l-.7-.3v.4l.5-.1.2.1zM325.4 178.3l-.6-.4v1.1l.4-.2.2.1zM316.1 175.2l-.7-.3v.4l.5-.1zM313.8 173.5l-.7-.3v.7l.5-.1.2.1zM309.1 170.7l-.6-.3v.4l.4-.1zM283.5 160.3l-.7-.3v.7l.5-.1.2.1z"/><path fill="url(#dF4d)" d="M347.5 231.5v-45.1l-.7-.3v45.1zM342.8 184.4l-.7-.3v.4l.5-.1.2.1zM336.3 181.9l.5-.1-.5-.3zM333.3 180.5l-.5-.3v.4zM328.9 178.8l-.7-.3v.6l.4-.2.3.1zM312.6 170.8l-.7-.4v.6l.4-.2.3.1zM300.9 167l-.7-.4v.6l.5-.2.2.1z"/><path fill="url(#dF5)" d="M350.9 230.6v-45.5l-1.9-.9v.9l1.2.6v44.6zM348.6 184l-1.9-.9 1.2.6v1.2l.5-.1.2.1zM342.1 182.8l.6.3.2-.1-.8-.4zM336.9 179.9l-1.8-.9v.3l1.2.6v.5l.4-.1.2.1zM334.6 179l-1.9-.9v.6l1.1.4.6-.1.2.1zM330 176.8l-1.9-.9v.7l1.2.6v.2l.4-.2.3.1zM323.4 173.6v.2l1.2.6.3-.1zM323 172.8l-1.9-.9v1.5l.8.3.8-.2.3.1zM320.6 172.2l-1.8-.9v.6l1.2.5v.8l.4-.2.2.1zM316 169.8l-1.9-.9v.6l1 .5.7-.2.2.1zM309 167l-1.9-.9v.7l1.2.6v.2l.5-.1.2.1zM306.7 166.5l-1.9-.9v1.3l1.6-.4.3.1zM302 165.2l-1.9-.9v1.4l.1.1 1.6-.4.2.1zM299.7 164.8l-1.9-.8v.7l1.2.5v.3l.5-.1.2.1zM297.4 163.5l-1.9-.9v.4l1.2.5v1l.4-.1.3.1zM290.4 159.4l-1.9-.9v.6l1.2.5v1.4l.4-.1.3.1z"/><path fill="url(#dS29)" d="M335.4 232.9v-46.3l2.2-.6v-.7l-2.7.7v47.1zM347.9 183.7l-2.7.7v.7l.7.3 2-.5zM351.3 183.3l-2.7.7v.9l.4.2v-.9l2.3-.6z"/><path fill="url(#dF4)" d="M345.2 184.4l-1.9-.9v1.3l.9.4.7-.2.3.1zM329.3 179v.3l.6.3.3-.1zM320 174.2v.7l.9-.3zM319.5 174.6l-1.8-.9v.3l1.2.5v.4l.4-.1.2.1zM317.2 173.1l-1.8-.9 1.1.6v1l.5-.2.2.2zM314.9 171.4l-1.9-.9v.7l1.2.5v.4l.5-.2.2.2zM308.4 168.5v.8l.4.2 1-.3zM306 168.2v.3l1.2.6.4-.1zM305.6 168.1l-1.9-.9v.7l.9.5.8-.2.2.1zM294.4 165.1v.1l1.2.6v.1l.3-.1zM293.9 164.2l-1.8-.8v.6l1.1.6v.4l.5-.1.2.1zM291.6 162.6l-1.9-.9v.3l1.2.5v1.3l.5-.1.2.1zM282.8 159.1l1.3-.3-1.3-.7zM282.3 158.1l-1.9-.8v.7l1.2.5v.7l.5-.1.2.1z"/><path fill="url(#dS28d)" d="M333 231.8v-45.6l-.4.1v45.7zM342.8 184.4v.1l.5.3v-.5z"/><path fill="url(#dS28)" d="M338.7 183.6l-2.7.7v.3l1.3.6 1.4-.4zM342.1 183.2l-2.7.7v.9l.7.3 2-.6z"/><path fill="url(#dF3)" d="M339.4 183.9l-1.8-.9v.1l1.1.5v1.2l.5-.1.2.1zM335.2 183.2l1.4-.4-1.4-.7zM334.8 183.2l-1.9-.9v.3l1.2.5v.3l.7-.1zM328.2 180.8l.4.2 1.1-.3-1.5-.7zM323.1 177l-1.8-.9v1.1l.3.1 1.3-.3.2.1zM320.8 176l-1.9-.8v.3l1.2.6v.9l.5-.2.2.1zM302.6 168.9v.2l.8.4.3-.1zM288.2 163.2l-1.9-.8v.7l.8.4.9-.3.2.1zM285.9 161.6l-1.9-.8v.1l1.2.5v1.5l.4-.1.3.1z"/><path fill="url(#dS27)" d="M330.7 230.7v-45.3l2.3-.6v-1l-2.8.7v46.4zM339.8 182.3l-2.5.7.3.1v-.1l2.2-.6z"/><path fill="url(#dS27d)" d="M346.7 182.8l-.5.1.4.2h.1z"/><path fill="url(#dS26d)" d="M328.4 229.6v-45.5l-.5.1v45.6zM334.8 183.3l.4-.1v-.1l-.4.1z"/><path fill="url(#dS26)" d="M334.1 183.1l-1.7.4.5.2 1.2-.3zM340.9 181.7l-1.5.4.4.2v.1l.5-.1.6.3zM344.3 181.7l-2.7.7v.2l.5.2v-.2l2.2-.5z"/><path fill="url(#dF5d)" d="M341.6 182.4l-.7-.3v.5l.5-.1.2.1zM331.6 178.2v.3l.4-.1zM327.6 175.7l-.7-.3v1l.5-.1.2.1zM317.6 171.4v.2l.4-.1z"/><path fill="url(#dS25d)" d="M326.1 228.5v-45l-.5.1v45.1z"/><path fill="url(#dS25)" d="M331.7 181.5l-2.7.7v.5l.5.2 2.2-.5zM335.2 181.3l-2.8.7v.3l.5.3v-.3l2.3-.6z"/><path fill="url(#dS24)" d="M323.7 227.4v-44.7l2.3-.6v-1.4l-2.7.7v46.2zM332.8 180.2l-2.5.6.5.3 2-.5zM336.3 179.9l-2.8.7.7.3 2.1-.5zM339.7 179.2l-2.8.7v.5l1.2.5 1.6-.4z"/><path fill="url(#dF2d)" d="M326.7 182.1l-.7-.3v.3l.5-.1zM312.7 175.4l-.7-.3v.6l.5-.1.2.1zM305.7 171.1l-.7-.3v1.3l.5-.1.2.1zM296.9 168.6v.4l.6-.1z"/><path fill="url(#dS24d)" d="M327.1 182l-.4.1.4.2z"/><path fill="url(#dS23d)" d="M321.4 226.3v-45.3l-.5.1v45.4zM327.8 180.6l.4.2v-.4l-.4.1z"/><path fill="url(#dS23)" d="M327.1 179.7l-2 .5.9.5v.2l1.1-.3zM337.3 178.3l-2.7.7v.1l.5.2v-.3l2.2-.6z"/><path fill="url(#dS22)" d="M319.1 225.2v-45l2.2-.5v-.8l-2.7.7v45.8zM324.8 177.9l-2.8.7v1l.5.3v-.4l2.3-.5zM328.2 177.6l-2.8.7v.6l1.2.6 1.6-.4zM331.6 178.1l-2.7.7v.2l.4.3v-.3l2.3-.5z"/><path fill="url(#dS22d)" d="M332.4 178.5l.3.2v-.3z"/><path fill="url(#dS21)" d="M316.7 224.1v-45.4l2.3-.5v-.9l-2.7.7v46.3zM325.8 176.3l-2.7.7v.1l.6.3 2.1-.6zM329.3 177.2l-1.2.3.1.1 1.1-.2zM332.7 176.1l-2.7.7v.5l.5.3 2.2-.6z"/><path fill="url(#dS20d)" d="M314.4 223v-45.5l-.5.1v45.6z"/><path fill="url(#dS20)" d="M320.1 176.1l-2.4.6 1.2.6 1.2-.3zM323.5 175.3l-2.7.7v.9l.5.3v-1.1l2.2-.6zM326.9 175.1l-2.3.6 1.2.6v.4l1.1-.3zM330.4 175l-2.8.7v.7l.5.2v-.7l2.3-.6z"/><path fill="url(#dS19d)" d="M312.1 221.9v-44.8l-.5.1v44.9z"/><path fill="url(#dS19)" d="M328 173.8l-2.5.6.6.3 1.9-.5z"/><path fill="url(#dS18)" d="M309.8 220.8v-44.5l2.2-.6v-2l-2.7.7v46.6zM315.4 174.7l-2.7.7v.3l.5.2 2.2-.6zM318.9 174.5l-2.8.7v.1l.6.2 2.2-.6zM325.7 172.1l-2.7.7v.8l.4.2v-.2l2.3-.6z"/><path fill="url(#dS18d)" d="M319.5 174.6v.3l.1.1.4-.1v-.4z"/><path fill="url(#dS17)" d="M307.4 219.7v-46.2l2.3-.5v-.4l-2.7.7v46.6zM313.1 172.5l-2.3.6 1.2.6v.5l1.1-.3zM316.5 172.8l-2.7.7v.4l.8.4 1.9-.5zM320 172.4l-2.8.7v.7l.5.2v-.3l2.3-.5z"/><path fill="url(#dS17d)" d="M320.6 172.2v.9l.5.3v-1.3z"/><path fill="url(#dS16d)" d="M305.1 218.6v-45.1l-.5.1v45.2zM318.8 171.6l-.4.1.4.2z"/><path fill="url(#dS16)" d="M310.8 171.5l-2.2.6.3.2 1.9-.5zM314.2 171.7l-1.8.5.5.2 1.3-.3zM317.6 170.7l-2.7.7v.7l.5.2 2.2-.7z"/><path fill="url(#dS15)" d="M302.8 217.5v-44.8l2.2-.6v-1.4l-2.7.7v46.3zM308.5 170.4l-2.8.7v1l.3.1h.2v-.8l2.3-.6zM311.9 170l-2.8.7v.1l1.3.5 1.5-.3zM318.7 169.1l-2.7.7v.1l1.4.7 1.3-.4z"/><path fill="url(#dS15d)" d="M312.6 170.8v.1l.4.3v-.6z"/><path fill="url(#dS14d)" d="M300.4 216.4v-45.1l-.4.1v45.2z"/><path fill="url(#dS14)" d="M313 168.7l-2.5.7.8.3 1.7-.4z"/><path fill="url(#dS13)" d="M298.1 215.3v-44.7l2.3-.6v-.5l-2.8.7v45.3zM307.2 169l-2.1.6 2.1-.5z"/><path fill="url(#dS13d)" d="M308.4 169l-.4.1.4.2z"/><path fill="url(#dS12d)" d="M295.8 214.2v-44l-.5.1v44.1z"/><path fill="url(#dS12)" d="M301.5 168.8l-1.8.4.1.1 1.7-.4zM308.3 167.4l-2.7.7v.2l.4.2v-.3l2.3-.6zM311.7 166.3l-2.7.7v.6l1 .5 1.7-.4z"/><path fill="url(#dS11d)" d="M293.5 213.1v-43.5l-.5.1v43.6zM306.7 166.5v.1l.4.2v-.4z"/><path fill="url(#dS11)" d="M299.1 167l-2.7.7v1.1l.5.2v-.4l2.2-.6z"/><path fill="url(#dS10)" d="M291.1 212v-43.2l2.3-.6v-.3l-2.7.7v43.6zM300.2 166.2l-1.8.4.7.4v.4l1.1-.2zM303.7 166.3l-2.8.7v.1l.7.3 2.1-.5z"/><path fill="url(#dS10d)" d="M294.1 167.2v1l.4.2v-1.3z"/><path fill="url(#dS9)" d="M288.8 210.9v-43.2l2.3-.6v-.7l-2.8.7v44zM304.7 164.5l-2.7.7v.3l1.2.5 1.5-.4z"/><path fill="url(#dS8d)" d="M286.5 209.8v-43.4l-.5.2v43.4zM299 165.2l-.5.2.5.1zM299.7 164.8v.7l.4.2v-1z"/><path fill="url(#dS8)" d="M292.2 165.2l-2.4.6 1 .4 1.4-.3z"/><path fill="url(#dS7d)" d="M284.1 208.7v-42.8l-.4.2v42.8z"/><path fill="url(#dS7)" d="M289.8 164.1l-2.7.7v.3l.5.2v-.3l2.2-.6zM293.2 164.6l-1.5.4.5.2v.1l1-.3zM296.7 163.5l-2.8.7v.8l.5.2v-.1l2.3-.6zM300.1 162.8l-2.7.7v1l.4.2v-.7l2.3-.6z"/><path fill="url(#dS6)" d="M281.8 207.6v-42.4l2.3-.6v-.1l-2.8.8v42.5zM290.9 162.5l-2.7.7v.1l1.6.8 1.1-.3zM294.3 161.9l-2.7.7v1.2l.5.2v-.6l2.2-.6z"/><path fill="url(#dS6d)" d="M284.8 164.3v.3l.4.2v-.6z"/><path fill="url(#dS5)" d="M279.5 206.5v-42.1l2.3-.6v-1.3l-2.8.7v43.5zM285.2 161.4l-2.8.7v1.7l.5.2v-.5l2.3-.6zM288.6 160.9l-2.7.7v1.3l.4.2v-.7l2.3-.6zM295.4 161.3l-1.4.4.3.2v.2l1.1-.2z"/><path fill="url(#dS4)" d="M277.2 205.4v-43l2.2-.6v-.8l-2.7.7v43.9zM282.8 159.9l-2.7.7v1.2l.5.2v-.7l2.2-.6zM286.3 159.6l-2.8.7v.4l.5.2v-.1l2.3-.6zM289.7 159.6l-2.5.7 1.4.6v.4l1.1-.3zM293.1 158.7l-2.7.7v1.6l.4.2 2.3-.6z"/><path fill="url(#dS3)" d="M274.8 204.3v-43.4l2.3-.6v-.5l-2.7.7v44zM287.4 158.3l-2.5.6.7.4 1.8-.5z"/><path fill="url(#dS2d)" d="M272.5 203.2v-42.2l-.5.1v42.3z"/><path fill="url(#dS2)" d="M278.2 158.3l-2.7.7.9.4 1.8-.4zM281.6 158.5l-2.4.6.5.2 1.3-.3.5.2h.1zM285 157.4l-2.7.7v1.1h.1l.4-.1v-1l2.2-.6zM288.4 157.2l-2.1.6 1.1.5v.5l1-.3z"/><path fill="url(#dS1)" d="M270.2 202.1v-41.9l2.2-.6v-1.5l-2.7.7v43.5z"/></g>
<g stroke="rgba(0,0,0,0.35)" stroke-width="0.25" stroke-linejoin="round"><path fill="#f9fb0e" d="M335.4 186.6l1.8.9 2.8-.7-1.9-.9zM334.9 186l2.7-.7-1.8-.8-2.8.7zM336 184.3l2.7-.7-1.8-.8-2.8.7z"/><path fill="#f8f611" d="M340.7 186.6l2.7-.7-1.9-.8-2.7.7zM337.7 186l.4-.1.6.3.1-.1v-.3l1.7-.5-1.3-.6-1.9.5.3.1v.6zM345.2 184.4l2.7-.7-1.9-.9-2.7.7zM339.4 183.9l2.7-.7-1.8-.9-2.7.7zM330.2 184.5l2.8-.7-1.9-.9-2.7.7zM336.6 182.8h.3l.4.2 2.5-.7-1.8-.9-2.8.7zM323.3 181.4l2.7-.7-1.9-.9-2.7.7zM322 178.6l2.8-.7-1.9-.9-2.7.7zM316.3 178l2.7-.7-1.9-.8-2.7.7zM309.3 174.4l2.7-.7-1.8-.9-2.8.7zM307 173.3l2.7-.7-1.9-.8-2.7.7zM302.3 171.4l2.7-.7-1.8-.9-2.8.7z"/><path fill="#f6f214" d="M344.1 186.6l2.7-.7-1.9-.9-2.3.6.8.3v.3zM350.9 185.1l2.7-.7-1.8-.9-2.8.7zM342.6 184.4l-2.5.7.4.2 1-.2 1.1.5 1.6-.4zM348.6 184l2.7-.7-1.8-.9-2.8.7zM332.6 186.3l.4-.1v-1l1-.3-.6-.2-2.7.7zM327.9 184.2l.5-.1v-.5l1.6-.4-1.2-.6-2.7.7zM329 182.2l2.7-.7-1.8-.8-2.8.7zM320.9 181.1l.5-.1v-.5l1.6-.4-1.2-.6-2.7.7zM323.4 180l.7-.2 1 .4 2-.5-1.9-.9-2.7.7zM318.6 179.6l2.7-.7-1.8-.9-2.8.7zM325.4 178.3l2.8-.7-1.9-.9-2.6.7zM323.1 177l2.7-.7-1.8-.9-2.7.7zM313.9 177.6l.5-.1v-.3l1.8-.5-1.4-.7-2.7.7zM316.8 176.5h.3l.6.2 2.4-.6-1.9-.9-2.7.7zM320.8 176l2.7-.7-1.8-.8-2.8.7zM309.8 172.9l.4-.1.6.3 2.3-.6-1.8-.9-2.4.7.8.3v.3zM304.6 173.6l.5-.1v-1l.9-.3-.5-.2-2.7.7zM307.3 171.9l.5-.1.8.3 2.2-.6-1.9-.8-2.7.7zM305.7 171.1l2.8-.7-1.9-.9-2.6.7zM309.1 170.7l2.8-.7-1.9-.9-2.7.7zM297.6 170.2l2.8-.7-1.9-.8-2.7.7z"/><path fill="#f5ee17" d="M347.5 186.4l2.7-.7-1.8-.9-2.5.6.9.5v.2zM342.8 184.4l.5-.1v-.8l1.3-.3-.9-.4-1.6.4v.9zM333.3 184.7h.1l.4.2.3-.1v-1.3l.5-.2-1.7.4.1.1v.8zM334.1 183.1l-1.9-.9-2.7.7.5.3 1.1-.3 1.3.6zM334.8 183.2l.4-.1v-1l1.1-.2-.7-.3-2.7.7zM336.8 181.8l1.2-.4 1.4.7 1.5-.4-1.9-.9-2.7.7zM325.6 183.6l.5-.1v-.2l2-.5-1.6-.8-2.8.7zM332.4 182l2.8-.7-1.9-.8-2.5.6.9.4v.2zM326.7 182.1l.4-.1v-.6l1.5-.4-1-.5-1.6.4v.9zM329.7 180.7h.2l.4.1 2.5-.6-1.8-.9-2.8.7zM319.1 178.1l.4-.1.6.3h.1v-.6l1.4-.4-1-.5-1.7.5h.1v.8zM323.5 175.5l.5-.1.6.3 2.3-.6-1.8-.9-2.5.7.9.4zM311.6 177.2l.5-.1v-.4l1.8-.4-1.4-.7-2.7.7zM314 176.2l.8-.2.7.3v-.4l1.3-.3-.9-.4-2.7.7zM312.7 175.4l2.7-.7-1.8-.9-1.6.4v.9zM323 172.8l2.7-.7-1.9-.9-2.7.7zM313.8 173.5l2.7-.7-1.8-.9-1.8.5.2.1v.7zM314.2 171.7l-1.9-.9-1.9.5.4.2v.3l.5-.2 1.1.6zM314.9 171.4l2.7-.7-1.8-.9-2.8.7zM300 171.4l.4-.1v-.8l1.2-.3-.8-.3-2.7.7zM301.9 170.1l1.3-.3.8.4 1.4-.4-1.1-.6-2.8.7zM309.8 169.2l.2-.1.5.3 2.5-.7-1.9-.9-2.7.7zM296.4 167.7l2.7-.7-1.8-.9-2.8.7z"/><path fill="#f5ea19" d="M347.1 182.9l-.5.2.1.1.6-.2zM341.4 182.5l-.5.1 1.2.6.6-.1zM342.9 183l.8-.2.9.4 1.4-.4.2.1.5-.1-1.9-.9-2.7.7zM341.6 182.4l2.7-.7-1.8-.9-2.3.6.7.3v.4zM335.4 181.6h.2l.4.2.3-.1v-.2l2.1-.5-1.7-.7-2.5.6 1 .4v.2zM331.8 179.7l1.7.9 2.8-.7-1.9-.9zM336.9 179.9l2.8-.7-1.9-.9-2.7.7zM327.8 180.5l.4-.1v-.4l1.7-.4-1.3-.7-2 .6.5.2v.5zM330.2 179.5l.8-.2.8.4 2-.6-1.7-.8-2.8.7zM334.6 179l2.7-.7-1.8-.9-2.8.7zM328.9 178.8l2.7-.7-1.9-.9-1.5.4v.9zM329.3 177.2l-1.9-.9-1.6.4v.1l.5-.1 1.8.8zM330 176.8l2.7-.7-1.9-.9-2.7.7zM327.6 175.7l2.8-.7-1.9-.9-2.4.6.8.4v.3zM319.3 174.8l-2.6.7.1.1 1.4-.4.7.3v-.3l.7-.2zM320.9 174.6l.8-.1.9.4 2-.5-1.9-.9-2.7.7zM324.9 174.3l.2-.1.4.2 2.5-.6-1.8-.9-2.8.7zM316.1 175.2l2.8-.7-1.9-.9-2.4.7.8.4v.2zM319.5 174.6l.5-.1v-.3l1.9-.5-1.5-.7-2.7.7zM317.2 173.1l2.8-.7-1.9-.9-2.7.7zM320.6 172.2l.5-.1v-.2l2-.5-1.6-.8-2.7.7zM312.6 170.8l.4-.2v-.1l2.1-.5-1.7-.8-2.1.5.6.3v.4zM316 169.8l2.7-.7-1.8-.9-2.8.7zM307.7 169l-2.6.6.3.2 1.2-.3.7.3 1.5-.3zM301.9 168.8l-2.1.5.6.2v.5l.4-.1.7.3v-.3l1.9-.4zM303.7 169.4l.6-.2.8.4 2.1-.6-1.8-.8-2.8.7zM306 168.2l2 .9.4-.1v-.5l1.6-.4-1.2-.6zM295.3 170.3l.5-.1v-.8l1.2-.3-.8-.4-2.7.7zM297.5 168.9l1-.2 1.2.5 1.8-.4-1.9-.9-2.7.7zM309 167l2.7-.7-1.8-.9-2.8.7zM294.1 167.2l.4-.1v-.3l2-.5-1.5-.7-2.8.7zM288.3 167.1l2.8-.7-1.9-.9-2.7.7zM276.7 161.7l2.7-.7-1.8-.8-2.8.7zM280.1 160.6l2.7-.7-1.8-.9-2.8.7zM274.4 160.5l2.7-.7-1.9-.9-2.7.7z"/><path fill="#f5e61c" d="M340.1 180.3l-2 .6.3.1.6-.2 1.2.6 1.4-.4zM332 178.4l.4.1.3-.1v-.3l2-.5-1.5-.7-2.7.7zM317.6 171.4l.8.3.4-.1v-.3l1.9-.5-1.5-.7-1.8.5.2.1zM313.3 169.2h.1l.4.2.3-.1v-.4l1.8-.4-1.4-.7-2.2.6.7.3v.4zM301.5 168.9l.4-.1.7.3v-.2l2-.5-1.6-.8-2.6.7 1.1.5zM305.6 168.1l2.7-.7-1.9-.9-2.7.7zM293 169.7l.5-.1v-.2l2-.5-1.6-.8-2.8.7zM306.7 166.5l.4-.1v-.3l2-.5-1.6-.7-2.7.7zM290.7 168.6l2.7-.7-1.9-.9-2.7.7zM300.2 166.2l-1.8-.9-2.7.7.8.3.8-.2 1.1.5zM286 166.6l.5-.2v-.2l1.9-.5-1.5-.7-2.8.7zM288.8 165.6l.4-.1.6.3 2.4-.6-1.9-.9-2.7.7zM287.1 164.8l2.7-.7-1.8-.9-2.8.7zM279 163.2l2.8-.7-1.9-.8-2.7.7zM282.4 162.1l2.8-.7-1.9-.8-2.7.7zM285.9 161.6l2.7-.7-1.9-.8-2.7.7zM283.5 160.3l2.8-.7-1.9-.9-2.6.7zM277.3 160.2h.3l.4.2.2-.1v-.6l1.5-.4-1-.4-2.3.5.7.4v.3zM273.6 158.2l1.9.8 2.7-.7-1.9-.8zM269.7 158.8l2.7-.7-1.8-.9-2.8.7z"/><path fill="#f5e21e" d="M312.2 167.6l-1 .3 1.1.5 1-.3zM300.7 167l-1.6.4v.6l.5-.1.8.4 1.9-.5zM304.1 166.8l-2.5.6.7.4.7-.2.7.3v-.7l.9-.2zM300.9 167l2.8-.7-1.9-.9-2.1.5.5.3v.4zM291.3 167.1l.2-.1.5.3.2-.1v-.9l1-.3-.6-.2-1.8.4.3.2v.6zM302 165.2l2.7-.7-1.8-.9-2.8.7zM283.7 166.1l.4-.2v-.2l2-.5-1.6-.7-2.7.7zM281.3 165.3l2.8-.8-1.9-.8-2.7.7zM284.8 164.3l.4-.1v-.3l1.9-.4-1.5-.7-2.7.7zM288.2 163.2l2.7-.7-1.8-.9-2.8.8zM291.6 162.6l2.7-.7-1.8-.9-2.8.7zM286.5 160.1h.2l.5.2 2.5-.7-1.9-.9-2.2.6.7.3v.4zM290.4 159.4l2.7-.7-1.9-.9-2.7.7zM284.1 158.8l.3-.1.5.2 2.5-.6-1.9-.9-2.7.7zM272 161.1l.5-.1v-1.4l.4-.1-2.7.7zM278.3 158.9h.4l.5.2 2.4-.6-1.9-.9-1.9.5.4.2v.6zM282.3 158.1l2.7-.7-1.8-.8-2.8.7z"/><path fill="#f5de21" d="M303.8 166.9l.3-.1.5.2.2-.1v-1.3l-1.6.4.5.3v.5zM296 165.8l-.4.1.1.1.5-.2zM299.5 165.4l-.6.1.8.4.5-.1zM295.6 165.8l-1.9-.9-1.5.4v.6l.4-.1.6.2 1.8-.4.4.2zM299.7 164.8l.4-.1v-.4l1.8-.4-1.3-.6-2.8.7zM293.2 164.6l-1.8-.9-1.6.4v.3l.5-.1 1.4.7zM293.9 164.2l2.8-.7-1.9-.9-2.7.8zM297.4 163.5l2.7-.7-1.9-.9-2.7.7zM290.1 160.9l-1.5.4v.5l.5-.2.6.4v-.3l1.5-.4zM282.1 159.1l-.6.1.3.2.6-.2zM288.4 157.2l-1.8-.8-2.5.6.9.4v.1l.5-.1.8.4zM272.5 159.6l1.1-.3v-.9l-1.2.3v.9z"/><path fill="#f6db24" d="M295.9 165.8h.3l2.2-.5.1.1.5-.2-1.9-.8-2.7.7zM295.9 161.7l-1.6.4v.7l.5-.2.7.4v-.4l1.5-.3zM291.2 161.3l1.3-.3 1.5.7 1.4-.4-1.8-.8-2.8.7zM289 158.4l-1.6.4.4-.1.7.4v-.6zM277.4 157.8h-.3l.7.3h.2zM278.1 158l1.6-.4.7.4v-.6zM281.6 157l1.6-.4.9.4 1.2-.3-1-.5-2.8.7z"/></g>
<g font-size="3.3" fill="#606060" letter-spacing="0"><text transform="translate(264.5 201.7)scale(1.3 1)" text-anchor="end" letter-spacing="0.5">0</text><text transform="translate(264.5 194.5)scale(1.3 1)" text-anchor="end" letter-spacing="0.5">0.5</text><text transform="translate(264.5 187.4)scale(1.3 1)" text-anchor="end" letter-spacing="0.5">1</text><text transform="translate(264.5 180.2)scale(1.3 1)" text-anchor="end" letter-spacing="0.5">1.5</text><text transform="translate(264.5 173)scale(1.3 1)" text-anchor="end" letter-spacing="0.5">2</text><text transform="translate(264.5 165.9)scale(1.3 1)" text-anchor="end" letter-spacing="0.5">2.5</text><text transform="translate(264.5 158.7)scale(1.3 1)" text-anchor="end" letter-spacing="0.5">3</text><text transform="translate(264.5 151.5)scale(1.3 1)" text-anchor="end" letter-spacing="0.5">3.5</text><text transform="translate(260.8 205.7)scale(1.3 1)" text-anchor="middle">0</text><text transform="translate(272.4 211.2)scale(1.3 1)" text-anchor="middle">5</text><text transform="translate(284.1 216.7)scale(1.3 1)" text-anchor="middle">10</text><text transform="translate(295.7 222.2)scale(1.3 1)" text-anchor="middle">15</text><text transform="translate(307.4 227.7)scale(1.3 1)" text-anchor="middle">20</text><text transform="translate(319 233.2)scale(1.3 1)" text-anchor="middle">25</text><text transform="translate(330.7 238.7)scale(1.3 1)" text-anchor="middle">30</text><text transform="translate(342.3 244.2)scale(1.3 1)" text-anchor="middle">35</text><text transform="translate(354.3 243.3)scale(1.3 1)" text-anchor="middle">1</text><text transform="translate(357.7 242.4)scale(1.3 1)" text-anchor="middle">2</text><text transform="translate(361.2 241.5)scale(1.3 1)" text-anchor="middle">3</text><text transform="translate(364.6 240.6)scale(1.3 1)" text-anchor="middle">4</text><text transform="translate(368 239.7)scale(1.3 1)" text-anchor="middle">5</text></g>
<text font-size="4.3" fill="#4a4a4a" text-anchor="middle" transform="translate(253.8 171.7) rotate(-90)" textLength="29.6" lengthAdjust="spacingAndGlyphs">Entropia promedio H</text>
<text font-size="3.5" fill="#4a4a4a" x="279.1" y="241.4" textLength="40.3" lengthAdjust="spacingAndGlyphs">Numero de intentos</text>
<text font-size="3.5" fill="#4a4a4a" x="365.3" y="249.4" textLength="56.2" lengthAdjust="spacingAndGlyphs">Numero de iteraciones MoE</text>
<text font-size="3.3" font-weight="bold" stroke="#000" stroke-width="0.12" fill="#000" x="242.1" y="146.8" textLength="146.6" lengthAdjust="spacingAndGlyphs">Entropia segun intentos e iteraciones de MoE Clasico Entropico</text>
<path d="M58.7 344.9L76.4 340.4M76.4 340.4L76.4 290M70.2 350.3L87.9 345.7M87.9 345.7L87.9 295.3M81.7 355.6L99.4 351M99.4 351L99.4 300.6M93.2 361L110.9 356.4M110.9 356.4L110.9 306M104.7 366.3L122.4 361.7M122.4 361.7L122.4 311.3M116.2 371.7L133.9 367.1M133.9 367.1L133.9 316.7M127.7 377L145.4 372.4M145.4 372.4L145.4 322M49 339.1L129.5 376.5M49 339.1L49 288.7M52.5 338.2L133 375.6M52.5 338.2L52.5 287.8M56.1 337.3L136.6 374.7M56.1 337.3L56.1 286.9M59.6 336.4L140.1 373.8M59.6 336.4L59.6 286M63.1 335.5L143.6 372.9M63.1 335.5L63.1 285.1M47.2 339.6L64.9 335M64.9 335L145.4 372.4M47.2 332.4L64.9 327.8M64.9 327.8L145.4 365.2M47.2 325.2L64.9 320.6M64.9 320.6L145.4 358M47.2 318L64.9 313.4M64.9 313.4L145.4 350.8M47.2 310.8L64.9 306.2M64.9 306.2L145.4 343.6M47.2 303.6L64.9 299M64.9 299L145.4 336.4M47.2 296.4L64.9 291.8M64.9 291.8L145.4 329.2M47.2 289.2L64.9 284.6M64.9 284.6L145.4 322M64.9 335L64.9 284.6M145.4 372.4L145.4 322M47.2 289.2L64.9 284.6M64.9 284.6L145.4 322" stroke="#e6e6e6" stroke-width="0.3" fill="none"/>
<path d="M47.2 339.6L47.2 289.2M47.2 339.6L127.7 377M127.7 377L145.4 372.4M47.2 339.6L48.1 339.4M47.2 332.4L48.1 332.2M47.2 325.2L48.1 325M47.2 318L48.1 317.8M47.2 310.8L48.1 310.6M47.2 303.6L48.1 303.4M47.2 296.4L48.1 296.2M47.2 289.2L48.1 289M58.7 344.9L59.2 344.8M70.2 350.3L70.7 350.1M81.7 355.6L82.2 355.5M93.2 361L93.7 360.8M104.7 366.3L105.2 366.2M116.2 371.7L116.7 371.5M127.7 377L128.2 376.9M129.5 376.5L128.3 376M133 375.6L131.8 375.1M136.6 374.7L135.3 374.1M140.1 373.8L138.9 373.2M143.6 372.9L142.4 372.3" stroke="#9a9a9a" stroke-width="0.35" fill="none"/>
<g stroke="rgba(0,0,0,0.5)" stroke-width="0.25" stroke-linejoin="round"><path fill="url(#eF1)" d="M117.5 372v-44.5l-1.9-.8v44.4zM115.2 370.9v-44.7l-1.9-.9v44.8zM112.9 369.9v-44.1l-1.9-.9v44.1zM110.6 368.8v-43.3l-1.9-.9v43.3zM108.3 367.7v-42.9l-1.9-.8v42.9zM106 366.7v-42.3l-1.9-.8v42.2zM103.7 365.6v-42.1l-1.9-.8v42zM101.4 364.5v-42.2l-1.9-.9v42.3zM99.1 363.4v-42.6l-1.9-.9v42.7zM96.8 362.4v-43.4l-1.9-.8v43.3zM94.5 361.3v-43.2l-1.9-.9v43.3zM92.2 360.2v-44l-1.9-.9v44.1zM89.9 359.2v-44.6l-1.9-.9v44.6zM87.6 358.1v-45.1l-1.9-.9v45.1zM85.3 357v-45.2l-1.9-.8v45.2zM83 356v-44.2l-1.9-.9v44.2zM80.7 354.9v-44.2l-1.9-.9v44.2zM78.4 353.8v-42.9l-1.9-.8v42.9zM76.1 352.8v-43.1l-1.9-.8v43zM73.8 351.7v-42.9l-1.9-.9v42.9zM71.5 350.6v-41.3l-1.9-.9v41.4zM69.2 349.6v-41.8l-1.9-.9v41.8zM66.9 348.5v-41.7l-1.9-.8v41.6zM64.6 347.4v-41.1l-1.9-.8v41.1zM62.3 346.3v-42.4l-1.9-.8v42.4zM60 345.3v-41.9l-1.9-.9v41.9zM57.7 344.2v-42.8l-1.9-.9v42.9zM55.4 343.1v-42.6l-1.9-.8v42.6zM53.1 342.1v-43.5l-1.9-.9v43.5zM50.8 341v-44.9l-1.9-.8v44.8z"/><path fill="url(#eS30)" d="M120.3 371.3v-44.5l-2.8.7v44.5zM123.8 370.3v-43.1l-2.8.7v43.2zM127.4 369.4v-42.1l-2.8.8v42.1zM130.9 368.5v-42.2l-2.8.7v42.2zM134.5 367.6v-41l-2.9.8v40.9z"/><path fill="url(#eF2d)" d="M121 371.1v-43.2l-.7-.3v43.1zM100.3 319.1l-.7-.3v.5l.5-.1.2.1zM93.4 314.7l-.7-.4v.4l.5-.1zM84.7 310.5l.2.1.4-.1-.6-.3zM73.2 307.3v.3l.4-.1zM72.6 307.8l-.6-.3v.3l.5-.1zM56.6 298.5l-.7-.3v.9l.5-.1.2.1zM54.3 296.3l-.7-.3v1.1l.5-.1.2.1z"/><path fill="url(#eF3d)" d="M124.6 370.2v-42.1l-.8-.4v42.1zM117.7 324.6l-.8-.3v.4l.5-.2.3.2zM113.5 323.5l.4-.1-.4-.2zM108.5 321.5l-.8-.3v.8l.5-.2.3.2zM99.3 316.8l-.8-.4v.4l.5-.1zM97 314.4l-.8-.3v1.3l.5-.1.3.1zM62.5 300.3l-.8-.4v1.2l.5-.2.3.2zM57.9 296.4l-.8-.4v1.1l.5-.2.3.2z"/><path fill="url(#eF4)" d="M128.1 369.2v-42.2l-1.8-.9v.7l1.1.5v41.6zM87.2 309.4l1.2.5.3-.1-1.5-.7zM66.5 301.3l.6.2.4-.1-1-.5z"/><path fill="url(#eF5d)" d="M131.6 368.3v-40.9l-.7-.4v41zM115.5 321.5l-.7-.3v.9l.2.1.3-.1.2.1zM110.9 318.8l-.7-.3v.7l.5-.1.2.1zM104 314.7l-.7-.3v.9l.5-.1.2.1zM101.7 312.2l-.7-.4v1.1l.5-.2.2.2zM97.6 311.1l.2.1.4-.1-.6-.3zM78.7 305.2l-.7-.3v.8l.5-.1.2.1zM71.8 301.5l-.7-.4v1.3l.5-.1.2.1zM67.2 297.9l-.7-.3v1.9l.5-.2.2.2z"/><path fill="url(#eS29)" d="M115.6 370.8v-44.1l2.4-.7v-.5l-2.8.7v44.7zM121.5 326.4l-1.3.3.1.1zM125.1 325.3l-2.8.7v.4l1.2.6 1.6-.4z"/><path fill="url(#eF3)" d="M122.3 326l-1.9-.9v.8l1.1.5.5-.1.3.1zM120 325.6l-1.9-.9v.2l1.1.5v.3l.5-.1.3.1zM113.1 323.3l-1.9-.8v.1l1.1.5v.4l.5-.1.3.1zM102 317.8v.1l1.1.5h.2zM101.6 317.4l-1.9-.8v.4l1.1.5v.2l.5-.2.3.2zM94.7 312.7l-1.9-.9v.2l1.1.5v.7l.5-.1.3.1zM69.8 305.1v.1l1.1.5h.2zM69.4 304.1l-1.9-.9v.7l1.1.5v.6l.5-.1.3.1zM67.1 302.9l-1.9-.9v.1l1.1.5v1.1l.5-.1.3.1zM60.2 297.9l-1.9-.8v.2l1.1.5v1.1l.5-.1.3.1z"/><path fill="url(#eS28d)" d="M113.3 369.7v-44l-.4.1v44.1zM120 325.6v.1l.4.2v-.4z"/><path fill="url(#eS28)" d="M119.2 325.4l-1.2.3v.3l1.2-.3zM126.3 325.2l-1.2.3v.5l1.2-.3z"/><path fill="url(#eS27d)" d="M111 368.7v-43.3l-.4.1v43.3z"/><path fill="url(#eF2)" d="M112.3 323.8v.4l.5.3.6-.2zM107.7 323v.2l.7.3.2-.1zM104.9 321.7l-1.8-.8v.1l1.1.5v.6l.5-.2.2.1zM102.6 319.9l-1.8-.8v.4l1.1.6v.7l.5-.1.2.1z"/><path fill="url(#eS27)" d="M116.9 323.9l-2.3.6.6.3 1-.2.3.2.4-.1zM120.5 323.9l-2.8.7v.1l.4.2v-.2l2.4-.6zM127.6 323.9l-2.6.6 1.2.6 1.4-.3z"/><path fill="url(#eF5)" d="M122.9 324l1 .4h.3l-1.3-.6zM106.3 315.6l-1.8-.8v.7l1.1.5v.4l.5-.1.2.1zM86.1 308.2l.8.4.5-.1-1.3-.6zM83.8 307.7v.2l.6.3.3-.1zM69.5 300.2l-1.8-.9v.4l1.1.5v.1l.5-.1.2.1zM63.1 295.8v.1l.9.5.2-.1z"/><path fill="url(#eS26d)" d="M108.7 367.6v-42.9l-.4.1v42.9z"/><path fill="url(#eS26)" d="M121.7 323.6l-1.2.3v.2l1.2-.3z"/><path fill="url(#eS25d)" d="M106.4 366.5v-42.2l-.4.1v42.3zM113.1 323.3v.2h.1h.3v-.3z"/><path fill="url(#eS25)" d="M112.3 323.1l-2.1.6.5.2 1.6-.4z"/><path fill="url(#eS24)" d="M104.1 365.5v-41.9l2.4-.6v-.2l-2.8.7v42.1z"/><path fill="url(#eS23)" d="M101.8 364.4v-41.7l2.4-.6v-.6l-2.8.8v42.2zM107.7 321l-2.8.7v.3l.9.5 1.9-.5zM111.3 320.8l-2.8.7v.5l1 .4 1.8-.5zM114.8 320.8l-2.8.7v.4l.4.3 1.6-.5.8.4zM118.4 320.8l-2.9.7v.7l.7.3h.1h.2l1.9-.4z"/><path fill="url(#eF4d)" d="M112 321.5l-.7-.3v.7l.4-.1.3.1zM107.4 318.7l-.7-.4v.6l.4-.2.3.1zM100.5 314.3l-.7-.3v1.3l.4-.2.3.2zM98.2 312.4l-.7-.3v.8l.4-.1.3.1zM89.5 309.7v.5l.6-.2zM74.5 305.2v.3l.4-.1zM72.9 304l-.7-.4v.9l.4-.2.3.2zM66 300.9l-.7-.3v.4l.4-.1.3.1zM63.7 297.8l-.7-.3v1.3l.4-.1.3.1z"/><path fill="url(#eS22)" d="M99.5 363.3v-41.9l2.4-.6v-.7l-2.8.7v42.6zM105.4 319.2l-2.8.7v.9l.5.2v-.1l2.3-.6zM109 319.6l-2.8.7.7.3 2.1-.5zM112.5 319.9l-2 .5.2.1 1.8-.5zM116.1 319.8l-2.1.6.3.1 1.8-.4z"/><path fill="url(#eS21)" d="M97.2 362.3v-42.4l2.4-.6v-1l-2.8.7v43.4zM103.1 318.4l-2.8.7v.2l.5.2v-.4zM106.7 317.9l-2.6.7 1.3.6 1.3-.3zM110.2 317.9l-2.8.8v.1l1.5.7 1.3-.3zM113.8 318.1l-2.9.7v.4l.9.4 2-.5z"/><path fill="url(#eS20)" d="M94.9 361.2v-43l2.4-.6v-.3l-2.8.8v43.2zM100.8 317.5l-1.8.5.2.1 1.6-.4zM104.4 316.7l-2.8.7v.3l.4.2v-.1l2.4-.6z"/><path fill="url(#eS19)" d="M92.6 360.1v-42.9l2.4-.6v-1.2l-2.8.8v44zM98.5 316.1l-2.4.7.9.4 1.5-.4zM105.6 316l-1.7.5.5.3 1.2-.4zM109.2 314.9l-2.9.7v.8l1.6.8 1.3-.4z"/><path fill="url(#eS19d)" d="M99.7 316.6l-.4.2.4.2z"/><path fill="url(#eS18)" d="M90.3 359.1v-43.8l2.4-.6v-.9l-2.8.8v44.6zM96.2 313.9l-2.8.8 1.6.7v.3l1.2-.3zM99.8 313.7l-2.8.7v1l.8.4 2-.5zM103.3 313.6l-2.8.7v1l1.1.5 1.7-.5zM106.9 314l-2.9.7v.6l.5.2v-.7l2.4-.6z"/><path fill="url(#eS17)" d="M88 358v-44.3l2.4-.6v-.9l-2.8.8v45.1zM93.9 312.5l-2.6.7 1 .4 1.6-.4zM97.5 311.9l-2.8.8v.5l.6.3 2.2-.6zM101 311.7l-2.8.7v.5l.9.5 1.9-.5zM104.6 311.4l-2.9.8v.7l1.6.7 1.3-.3z"/><path fill="url(#eS16)" d="M85.7 356.9v-44.8l2.4-.6v-.4l-2.8.7v45.2zM91.6 311l-2.4.7 1 .4 1.4-.4z"/><path fill="url(#eS15d)" d="M83.4 355.8v-44.1l-.4.1v44.2z"/><path fill="url(#eS15)" d="M92.9 310.6l-1.4.4h.1v.4l1.3-.3zM96.4 310.8l-2.2.6h.1l2.1-.5z"/><path fill="url(#eS14)" d="M81.1 354.8v-43.9l2.4-.6v-.4l-2.8.8v44.2zM94.1 309.8l-1.9.5.4.2 1.5-.4z"/><path fill="url(#eS13d)" d="M78.8 353.7v-42.9l-.4.1v42.9zM89.5 309.8l-.5.1.5.2z"/><path fill="url(#eS13)" d="M95.4 309l-1.9.5.6.3 1.3-.3z"/><path fill="url(#eS12)" d="M76.5 352.6v-42.5l2.4-.7v-.4l-2.8.7v43.1z"/><path fill="url(#eS11)" d="M74.2 351.6v-42.7l2.4-.7v-.1l-2.8.7v42.9zM80.1 308.3l-1.7.4.5.3v.4l1.2-.3zM90.8 308l-2.6.6.2.1 2.4-.6z"/><path fill="url(#eS10d)" d="M71.9 350.5v-41.3l-.4.1v41.3z"/><path fill="url(#eS10)" d="M77.8 307.4l-1.6.5h.1l1.5-.4z"/><path fill="url(#eS9)" d="M69.6 349.4v-41l2.4-.6v-.7l-2.8.7v41.8z"/><path fill="url(#eS8)" d="M67.3 348.4v-41.5l2.4-.6v-.2l-2.8.7v41.7zM76.8 306.3l-2 .5h.2l1-.2.7.3h.1zM80.3 306.4l-2.4.7.7.3 1.7-.4zM83.9 306.4l-2.6.7.3.1 2.3-.5z"/><path fill="url(#eS7d)" d="M65 347.3v-41.1l-.4.1v41.1z"/><path fill="url(#eS7)" d="M74.5 305.2l-2.5.6.5.3 2-.6zM78 304.8l-2.8.7 1.2.6 1.6-.4zM81.6 304.5l-2.9.7v.5l1 .4 1.9-.4z"/><path fill="url(#eS6)" d="M62.7 346.2v-40.7l2.4-.6v-1.7l-2.8.7v42.4zM68.6 304.4l-2.4.7.8.3 1.6-.4zM72.2 303.4l-2.8.7v.9l.4.2v-.1l2.4-.6zM75.7 303.2l-2.8.8v.5l.5.2 2.3-.6z"/><path fill="url(#eS5d)" d="M60.4 345.2v-42l-.4.2v41.9z"/><path fill="url(#eS5)" d="M66.3 302.6l-1.5.4.3.2v.8l1.2-.3zM69.9 302.1l-2.8.8v.8l.4.2v-.7l2.4-.6zM77 302.6l-1.7.5.4.1v.1l1.3-.3z"/><path fill="url(#eS4)" d="M58.1 344.1v-41.6l2.4-.6v-1.3l-2.8.8v42.8zM64 301.8l-1.9.5.1.1 1.8-.5zM71.1 301.1l-2.3.5 1.1.5v.5l.4-.1.2.1.6-.2zM74.7 300.7l-2.9.8v.9l.5.2v-.1l2.4-.6z"/><path fill="url(#eS3)" d="M55.8 343v-42.5l2.4-.6v-.1l-2.8.7v42.6zM61.7 299.7l-2.1.5.9.4v.8l1.2-.3zM65.3 299.5l-2.8.8v.8l1 .4 1.8-.5zM68.8 300.2l-2.8.7v.1l.5.3v-.4l2.3-.6zM72.4 299.5l-2.9.7v.1l.6.3 2.3-.6z"/><path fill="url(#eS2)" d="M53.5 342v-42.3l2.4-.6v-1.2l-2.8.7v43.5zM59.4 297.8l-2.8.7v.6l.8.4 2-.6zM63 297.2l-2.8.7v1l.8.4 2-.5zM66.5 297.1l-2.8.7v1l1.6.7v.3l1.2-.3zM70.1 297.1l-2.9.8v1.6l.5.2v-.4l2.4-.6z"/><path fill="url(#eS1)" d="M51.2 340.9v-43.2l2.4-.6v-1.7l-2.8.7v44.9zM57.1 295.6l-2.8.7v.8l.9.5 1.9-.5zM60.7 295.6l-2.8.8v.7l.4.2v-.2l2.4-.6zM67.8 296l-2.3.6.6.3 1.7-.5z"/></g>
<g stroke="rgba(0,0,0,0.35)" stroke-width="0.25" stroke-linejoin="round"><path fill="#f8f611" d="M115.6 326.7l1.9.8 2.8-.7-1.8-.9zM115.2 326.2l2.8-.7-1.8-.9-2.9.7zM89.9 314.6l2.8-.8-1.8-.8-2.9.7zM88.1 311.4h.5l.6.3 2.4-.7-1.8-.8-2.4.6.7.3zM83 311.8l.4-.1v-.7l1.5-.4-.9-.4-2.9.7zM80.7 310.7l2.8-.8-1.8-.8-2.9.7z"/><path fill="#f5ee17" d="M121 327.9l2.8-.7-1.8-.9-1.7.5v.8zM121.5 326.4l-1.8-.8-1.7.4.5-.1 1.7.8zM122.3 326l2.8-.7-1.9-.9-2.8.7zM119.2 325.4l-1.8-.9-.9.3 1.5.7v.2zM110.6 325.5l.4-.1v-.5l1.8-.4-1.2-.6-2.9.7zM113.4 324.3l.5-.1.7.3 2.3-.6-1.8-.8-2.8.7zM108.3 324.8l.4-.1v-.1l2.3-.5-1.7-.8-2.9.7zM96.8 319l2.8-.7-1.8-.9-2.9.8zM94.5 318.1l2.8-.8-1.8-.8-2.9.7zM97 314.4l2.8-.7-1.9-.9-2.6.7.9.4v.2zM98.2 312.4l2.8-.7-1.8-.9-2.7.7 1 .4v.2zM92.9 310.6l-1.9-.8-1.9.4.2.1.5-.1 1.7.8zM85.2 309.5l-1.7.4v.4l.5-.1.7.3v-.3l1.3-.3zM78.4 310.9l.4-.1v-1l1.1-.2-.5-.3-2.9.8zM76.1 309.7l2.8-.7-1.8-.9-2.9.8zM73.8 308.8l2.8-.7-1.8-.9-2.9.7zM57.7 301.4l2.8-.8-1.8-.8-2.9.7zM57.9 296.4l2.8-.8-1.9-.8-2.1.5.4.3v.4z"/><path fill="#f5ea19" d="M124.6 328.1l2.8-.8-1.9-.8-2 .5.3.2v.5zM128.1 327l2.8-.7-1.8-.9-2.8.7zM120 325.6l.4-.1v-.4l2-.5-1.5-.6-2.8.7zM117.7 324.6l2.8-.7-1.9-.9-2.3.6.6.3v.4zM106 324.4l.4-.1v-.3l2-.5-1.4-.7-2.9.8zM103.7 323.5l2.8-.7-1.8-.9-2.9.8zM101.4 322.3l2.8-.8-1.8-.8-2.9.7zM99.1 320.8l2.8-.7-1.8-.9-2.9.7zM102.6 319.9l2.8-.7-1.8-.9-2.8.8zM100.3 319.1l2.8-.7-1.8-.9-2.1.6.4.2v.5zM100.8 317.5l-1.8-.8-2 .5.3.1v.3l.5-.2 1.2.6zM101.6 317.4l2.8-.7-1.9-.8-2.8.7zM95 316.5h.5l.6.3 2.4-.7-1.8-.8-1.7.4zM100.5 314.3l2.8-.7-1.8-.9-2.4.7.7.3v.3zM101.7 312.2l2.9-.8-1.9-.8-2.6.7.9.4v.1zM93.3 311l-1.7.4v.3l.5-.1.7.4v-.2l1.5-.4zM82.9 308.9l-1.1.3 1.7.7 1.1-.2zM62.3 303.9l2.8-.7-1.8-.9-2.9.8zM55.4 300.5l2.8-.7-1.8-.8-2.9.7zM56.6 298.5l2.8-.7-1.8-.9-2.4.7.7.3v.3zM60.2 297.9l2.8-.7-1.9-.9-2.8.8z"/><path fill="#f5e21e" d="M131.6 327.4l2.9-.8-1.9-.8-1.7.4v.1v.7zM126.8 325.6l-1.7.4v.6l.4-.1.8.3v-.7l1.1-.3zM126.3 325.2l-1.8-.9-1 .2 1.6.8v.2zM122.2 323.6l-1.7.5.4-.1 1.5.6.8-.2.3.1.4-.1zM121.7 323.6l-1.8-.9-1.2.3 1.8.9zM108.2 321.8l-2.4.7.7.3v.2l.5-.2.7.4v-.2l2-.5zM108.5 321.5l2.8-.7-1.9-.9-2.5.7.8.4v.2zM107.4 318.7l2.8-.8-1.8-.8-2.3.5.6.3v.4zM107.9 317.2l-1.8-.9-1.7.5v.4l.4-.2 1.3.6zM105.6 316l-1.8-.8-2.2.6.5.2.4-.1 1.4.6zM106.3 315.6l2.9-.7-1.9-.9-2.8.8zM104 314.7l2.9-.7-1.9-.9-1.7.5v.8zM98.1 309.7l-2.6.7.9.4v.1l.5-.1.7.3v-.3l1.8-.5zM87.2 309.1l1.8.8.5-.1v-.1l2.1-.6-1.6-.8zM84.1 308.7l-1 .3 1.2.6 1.1-.3zM72.6 307.8l.6-.2v-.3l1.8-.5-1.3-.6-2.2.6.5.3v.4zM64.6 306.3l.4-.1v-.2l2.1-.5-1.5-.7-2.9.7zM66.3 302.6l-1.8-.8-2.3.6.4.1.7-.2 1.5.7zM67.1 302.9l2.8-.8-1.9-.8-2.8.7zM64 301.8l-1.8-.9-1.7.5v.5l.5-.1 1.1.5zM62.5 300.3l2.8-.8-1.9-.8-2.4.6.7.4v.2zM67.2 297.9l2.9-.8-1.9-.8-2.1.6.4.2v.5zM62.4 295.6l-1.7.5v.4l.4-.2 1.1.5 1.8-.4zM64.2 296.3l.5-.1.8.4 2.3-.6-1.9-.9-2.8.7z"/><path fill="#f5de21" d="M130.3 325.2l-1.1.3 1.7.7 1.1-.3zM128 324.7l-1.8.4.1.1v.5l.5-.1.6.2 1.7-.4.1.1.3-.1zM124.2 324.4l.3-.1.5.2 2.6-.6-1.9-.9-2.8.8zM117.6 322.2l-1.1.3 1.4.7 1.2-.3zM111.7 321.8l-2.2.6.2.1.8-.2.7.3v-.1l1.2-.3zM112 321.5l2.8-.7-1.8-.9-2.3.6.6.3v.4zM112.5 319.9l-1.8-.8-1.8.4.1.1v.5l.4-.2 1.1.5zM110.9 318.8l2.9-.7-1.9-.9-2 .6.3.1v.6zM95.8 309.4l-1.7.4v.3l.5-.2.9.5 1.6-.4zM95.4 309l-1.9-.8-2.5.6.6.3.7-.2 1.2.6zM87.7 308.4l-2.8.7.5.2 1-.3.8.4v-.3l1.2-.4zM81.8 308l-1.7.5v.6l.5-.1.6.2.5-.1.1.1 1.1-.3.2.1.5-.1zM71.4 305.6l-1.8.4.1.1v.2l.5-.1 1.3.6 1.7-.4zM69.1 304.9l-2.1.5.9-.1 1.7.7 1.3-.3zM65.1 304.8h.5l.6.3 2.4-.7-1.8-.8-1.7.4zM69.4 304.1l2.8-.7-1.9-.9-2.8.7zM65.7 300.9l-2.2.6.5.3v.1l.5-.1.7.3v-.1l1.9-.5z"/><path fill="#f6f214" d="M112.9 325.8l.4-.1v-.4l1.9-.5-1.3-.6-2.9.7zM92.2 316.2l2.8-.8-1.8-.8-2.9.7zM93.4 314.7l2.8-.8-1.8-.8-2.1.5.4.2v.5zM90.7 313h.2l.4.2 2.6-.7-1.8-.9-1.9.5.2.1v.7zM94.7 312.7l2.8-.8-1.9-.8-2.8.7zM85.3 310.5l1-.2 1.1.5 1.9-.5-1.8-.8-2.8.7zM53.1 298.6l2.8-.7-1.8-.9-2.9.7zM54.3 296.3l2.8-.7-1.8-.9-2 .6.3.1v.6z"/><path fill="#f5e61c" d="M112.8 323.4l-2.1.5.3.2.6-.2.7.3v-.4l.9-.3zM113.9 323.4l1.2-.3 1.2.5 1.6-.4-1.6-.7-2.8.7zM108.6 323.4l.7-.1.9.4 2.1-.6-1.8-.8-2.8.7zM113.1 323.3l.4-.1 2.4-.6-1.9-.9-2.8.8zM104.9 321.7l2.8-.7-1.8-.9-2.8.8zM105.8 320.2l.1-.1.3.2 2.8-.7-1.9-.9-1.7.5v.8zM103.3 318.4l.3-.1.5.3 2.6-.7-1.9-.9-2.8.8zM99.3 316.7l.4-.1 2.4-.6-1.9-.9-2.4.7.7.3v.3zM96.9 310.8l-1.2.3.8.4 1.3-.3zM98.2 311.1l1-.3.9.5 1.9-.5-1.6-.7-2.8.7zM96.4 310.8l-1.8-.9-2 .6.3.1v.5l.4-.1.9.4zM88.7 309.8l-.3.1.7.3h.4zM90.1 310l.9-.2 1.2.5 1.9-.5-1.8-.9-2.8.8zM86.4 309l-2.1.6.3.1.6-.2.8.4 1.5-.4zM80.6 309l-1.7.4.5-.1.5.3 1.3-.4zM80.1 308.3l-1.8-.9-2 .5.3.2v.1l.5-.1 1.3.6zM71.5 309.3l.4-.1v-1.3l.7-.1-.1-.1-2.9.7zM73.6 307.5l1.2-.3 1.4.7 1.6-.5-1.8-.8-2.8.7zM69.2 307.8l2.8-.7-1.8-.9-2.9.7zM66.9 306.8l2.8-.7-1.8-.8-2.9.7zM60 303.4l.4-.2v-.1l2.2-.6-1.6-.7-2.9.7zM61.7 299.7l-1.8-.9-2.5.7.8.3v.1l.5-.1.9.4zM63.7 297.8l2.8-.7-1.8-.9-2.5.6.8.4v.3z"/><path fill="#f6db24" d="M123.4 323l-1.9.5.2.1v.2l.5-.2.7.4v-.2l1.4-.4zM115.3 322.1l-.3.1.9.4.3-.1zM115.5 321.5l2.9-.7-1.9-.9-2.2.6.5.3v.4zM116.1 319.8l-1.9-.8-2.4.6.7.3v.1l.5-.1 1 .5zM109.6 316.7l-1.7.5.5-.1 1.5.7 1.3-.4zM91.2 308l-1.2.3 1 .5 1.2-.3zM85.4 307.9l-2.4.6.6.4.5-.2.8.4 2-.5zM87.4 308.5l.3-.1.5.2 2.6-.6-1.9-.9-2.8.8zM79.5 307.6l-.6.1 1.2.6v.2l.9-.3zM79.1 307.6l-1.9-.8-.5.1 1.1.5v.1l.5-.1.6.3zM76.8 306.3l-1.9-.9-2.4.7.7.3.5-.2 1.1.6zM71.1 305.7l.3-.1.6.2 2.5-.6-1.9-.9-2.8.8zM73.4 304.7l1.8.8 2.8-.7-1.8-.8zM72.9 304l2.8-.8-1.8-.8-2.5.6.8.4v.2zM67.5 301.4l.5-.1.8.3 2.3-.5-1.8-.9-2.8.7zM66 300.9l2.8-.7-1.8-.9-1.7.5v.8zM69.5 300.2l2.9-.7-1.9-.9-2.8.7z"/><path fill="#f8d726" d="M121.1 322.6l-.9.3 1.3.6 1-.3zM83.1 307.6l-2.3.6h.2l.8-.2 1.2.5 1.4-.3zM84.7 308.1l.7-.2.7.3v-.3l1.6-.5-1.1-.4-2.8.7zM76.8 306.8h.4l.7.3 2.4-.7-1.8-.8-2.1.5.4.2zM78.7 305.2l2.9-.7-1.9-.9-2.7.7zM71.6 302.3l-1.1.3.9.4 1.1-.3zM71.8 301.5l2.9-.8-1.9-.8-2.7.7z"/><path fill="#f9d429" d="M118.8 322l-1.1.3 1.4.6.8-.2.3.2.3-.1zM82.6 307.7l-1.8-.9-2.2.6.5.2v.1l.4-.1 1.3.6zM84.3 306.5l-2.7.7 1 .5.5-.1.7.3v-.2l1.9-.5zM80.5 306.9l.3-.1.5.3 2.6-.7-1.9-.8-2.3.5.6.3v.4zM79.3 303.7l-1.9-.8-1.7.4v.8l.5-.1.8.3zM72.7 302.7l1.2-.3 1.4.7 1.7-.5-1.9-.8-2.8.7z"/><path fill="#f9fb0e" d="M87.6 313l2.8-.8-1.8-.8-2.9.7zM85.3 311.8l2.8-.7-1.8-.8-2.9.7zM50.8 296.1l2.8-.7-1.8-.8-2.9.7z"/></g>
<g font-size="3.3" fill="#606060" letter-spacing="0"><text transform="translate(45.6 340.5)scale(1.3 1)" text-anchor="end" letter-spacing="0.5">0</text><text transform="translate(45.6 333.3)scale(1.3 1)" text-anchor="end" letter-spacing="0.5">0.5</text><text transform="translate(45.6 326.1)scale(1.3 1)" text-anchor="end" letter-spacing="0.5">1</text><text transform="translate(45.6 318.9)scale(1.3 1)" text-anchor="end" letter-spacing="0.5">1.5</text><text transform="translate(45.6 311.7)scale(1.3 1)" text-anchor="end" letter-spacing="0.5">2</text><text transform="translate(45.6 304.5)scale(1.3 1)" text-anchor="end" letter-spacing="0.5">2.5</text><text transform="translate(45.6 297.3)scale(1.3 1)" text-anchor="end" letter-spacing="0.5">3</text><text transform="translate(45.6 290.1)scale(1.3 1)" text-anchor="end" letter-spacing="0.5">3.5</text><text transform="translate(41.9 344.5)scale(1.3 1)" text-anchor="middle">0</text><text transform="translate(53.4 349.8)scale(1.3 1)" text-anchor="middle">5</text><text transform="translate(64.9 355.2)scale(1.3 1)" text-anchor="middle">10</text><text transform="translate(76.4 360.5)scale(1.3 1)" text-anchor="middle">15</text><text transform="translate(87.9 365.9)scale(1.3 1)" text-anchor="middle">20</text><text transform="translate(99.4 371.2)scale(1.3 1)" text-anchor="middle">25</text><text transform="translate(110.9 376.6)scale(1.3 1)" text-anchor="middle">30</text><text transform="translate(122.4 381.9)scale(1.3 1)" text-anchor="middle">35</text><text transform="translate(134.5 380.9)scale(1.3 1)" text-anchor="middle">1</text><text transform="translate(138 380)scale(1.3 1)" text-anchor="middle">2</text><text transform="translate(141.6 379.1)scale(1.3 1)" text-anchor="middle">3</text><text transform="translate(145.1 378.2)scale(1.3 1)" text-anchor="middle">4</text><text transform="translate(148.6 377.3)scale(1.3 1)" text-anchor="middle">5</text></g>
<text font-size="4.3" fill="#4a4a4a" text-anchor="middle" transform="translate(34.7 311.6) rotate(-90)" textLength="27.4" lengthAdjust="spacingAndGlyphs">Entropia promedio H</text>
<text font-size="3.5" fill="#4a4a4a" x="59.8" y="379.7" textLength="41.2" lengthAdjust="spacingAndGlyphs">Numero de intentos</text>
<text font-size="3.5" fill="#4a4a4a" x="146.4" y="386.7" textLength="56.2" lengthAdjust="spacingAndGlyphs">Numero de iteraciones MoE</text>
<text font-size="3.3" font-weight="bold" stroke="#000" stroke-width="0.12" fill="#000" x="35" y="285.3" textLength="123.1" lengthAdjust="spacingAndGlyphs">Entropia segun intentos e iteraciones de MoE Clasico</text>
<path d="M276.4 345.1L296.1 340.5M296.1 340.5L296.1 289.8M287.6 350.4L307.3 345.8M307.3 345.8L307.3 295.1M298.9 355.7L318.6 351.2M318.6 351.2L318.6 300.4M310.1 361.1L329.8 356.5M329.8 356.5L329.8 305.8M321.4 366.4L341.1 361.8M341.1 361.8L341.1 311.1M332.6 371.7L352.3 367.1M352.3 367.1L352.3 316.4M343.9 377L363.6 372.4M363.6 372.4L363.6 321.7M267.1 339.3L345.9 376.5M267.1 339.3L267.1 288.6M271 338.4L349.8 375.6M271 338.4L271 287.7M275 337.5L353.8 374.7M275 337.5L275 286.8M278.9 336.6L357.7 373.8M278.9 336.6L278.9 285.9M282.8 335.7L361.6 372.9M282.8 335.7L282.8 285M265.1 339.8L284.8 335.2M284.8 335.2L363.6 372.4M265.1 332.6L284.8 328M284.8 328L363.6 365.2M265.1 325.3L284.8 320.7M284.8 320.7L363.6 357.9M265.1 318.1L284.8 313.5M284.8 313.5L363.6 350.7M265.1 310.8L284.8 306.2M284.8 306.2L363.6 343.4M265.1 303.6L284.8 299M284.8 299L363.6 336.2M265.1 296.3L284.8 291.8M284.8 291.8L363.6 329M265.1 289.1L284.8 284.5M284.8 284.5L363.6 321.7M284.8 335.2L284.8 284.5M363.6 372.4L363.6 321.7M265.1 289.1L284.8 284.5M284.8 284.5L363.6 321.7" stroke="#e6e6e6" stroke-width="0.3" fill="none"/>
<path d="M265.1 339.8L265.1 289.1M265.1 339.8L343.9 377M343.9 377L363.6 372.4M265.1 339.8L266 339.6M265.1 332.6L266 332.3M265.1 325.3L266 325.1M265.1 318.1L266 317.8M265.1 310.8L266 310.6M265.1 303.6L266 303.3M265.1 296.3L266 296.1M265.1 289.1L266 288.8M276.4 345.1L276.9 345M287.6 350.4L288.2 350.3M298.9 355.7L299.5 355.6M310.1 361.1L310.7 360.9M321.4 366.4L322 366.2M332.6 371.7L333.2 371.5M343.9 377L344.5 376.9M345.9 376.5L344.7 376M349.8 375.6L348.6 375.1M353.8 374.7L352.6 374.2M357.7 373.8L356.5 373.2M361.6 372.9L360.4 372.3" stroke="#9a9a9a" stroke-width="0.35" fill="none"/>
<g stroke="rgba(0,0,0,0.5)" stroke-width="0.25" stroke-linejoin="round"><path fill="url(#fF1)" d="M333.9 372v-47.5l-1.8-.9v47.6zM331.7 371v-46.6l-1.8-.9v46.6zM329.4 369.9v-46.7l-1.8-.8v46.6zM327.2 368.8v-45.8l-1.8-.9v45.9zM324.9 367.8v-45.6l-1.8-.8v45.5zM322.7 366.7v-45.9l-1.8-.9v46zM320.4 365.6v-44.9l-1.8-.8v44.9zM318.2 364.6v-45.2l-1.8-.9v45.2zM315.9 363.5v-44.9l-1.8-.9v45zM313.7 362.5v-44.7l-1.8-.9v44.7zM311.4 361.4v-45l-1.8-.8v44.9zM309.2 360.3v-44.6l-1.8-.9v44.7zM306.9 359.3v-44.3l-1.8-.8v44.2zM304.7 358.2v-43.4l-1.8-.8v43.4zM302.4 357.1v-42l-1.8-.9v42.1zM300.2 356.1v-43.6l-1.8-.9v43.6zM297.9 355v-43.5l-1.8-.9v43.6zM295.7 354v-43.7l-1.8-.8v43.6zM293.4 352.9v-44.5l-1.8-.9v44.5zM291.2 351.8v-44.1l-1.8-.8v44.1zM288.9 350.8v-44.1l-1.8-.8v44zM286.7 349.7v-43.7l-1.8-.9v43.7zM284.4 348.6v-43.2l-1.8-.9v43.3zM282.2 347.6v-42.1l-1.8-.9v42.1zM279.9 346.5v-41.8l-1.8-.9v41.9zM277.7 345.4v-42.8l-1.8-.8v42.8zM275.4 344.4v-45.8l-1.8-.8v45.7zM273.1 343.3v-44.8l-1.8-.8v44.8zM270.9 342.3v-45.5l-1.8-.8v45.4zM268.6 341.2v-45.1l-1.8-.9v45.1z"/><path fill="url(#fS30)" d="M337.1 371.3v-47.5l-3.2.7v47.5zM341 370.4v-46l-3.1.7v46zM345 369.5v-45.2l-3.2.7v45.2zM348.9 368.5v-45.7l-3.1.7v45.8zM352.8 367.6v-44.3l-3.1.8v44.3z"/><path fill="url(#fF2d)" d="M337.9 371.1v-46l-.8-.4v46zM326.6 320.7l-.8-.4v.4l.5-.1.3.2zM315.4 316.1l-.8-.4v.6l.4-.1.4.2zM306.8 313.6l.2.1.5-.1-.7-.3zM304.1 312.5l-.8-.4v1.5l.5-.1.3.1zM299.6 310l-.8-.4v.4l.5-.1zM297.4 308.2l-.8-.4v1l.4-.1.4.2zM279.3 299.2l-.7-.4v2.3l.4-.1.3.2zM274.8 297l-.8-.4v.5l.5-.2.3.2z"/><path fill="url(#fF3d)" d="M341.8 370.2v-45.2l-.8-.3v45.1zM322 317.2l.3.1.4-.1-.7-.3zM321.6 316.9l-.8-.4v.4l.4-.1.4.2zM301.3 308l-.8-.4v.9l.5-.1.3.1zM285.5 301.6l-.8-.4v1.6l.5-.1.3.2z"/><path fill="url(#fF4)" d="M345.8 369.3v-45.8l-1.8-.8v1.1l1 .5v44.6zM343.5 322.8l-1.8-.9v.5l1 .5v.7l.5-.1.3.1zM316.5 314l-1.8-.8v.5l1 .5.5-.1.3.2zM298.9 305.2v.7l.3.1 1-.2zM298.5 305.2l-1.8-.8 1 .5v.7l.4-.1.4.2zM292.2 304l1 .5v.2l.4-.1-1.4-.7zM285 297l-1.8-.9v.6l1 .4v.2l.4-.1.4.1z"/><path fill="url(#fF5d)" d="M349.7 368.4v-44.3l-.8-.4v44.3zM320.4 314l-.8-.4v.4l.5-.2zM315.9 312.7l-.8-.4v.7l.5-.1h.1h.2zM309.2 307.8l-.8-.4v.7l.4-.1.4.1zM288.9 297.3l-.8-.4v.8l.5-.1.3.2z"/><path fill="url(#fS29d)" d="M332.1 370.9v-46.6l-.4.1v46.6z"/><path fill="url(#fS29)" d="M338.8 323.4l-1.7.4v.2l1.7-.4zM342.7 322.9l-3.1.7v.1l.8.4 2.3-.5zM346.7 322l-3.2.8v.8l.5.2v-1.1z"/><path fill="url(#fF3)" d="M339.6 323.6l-1.8-.8v.1l1 .5v.2l.4-.1.4.2zM326.1 318.1l-1.8-.9v.2l1 .5v.3l.4-.1.4.2zM308 312.1l-1.8-.9 1.1.5v1.5l.7-.2zM304 310.4l1 .5v.1h.2zM303.5 309.3l-1.8-.9v.4l1.1.4v1l.4-.1.3.1zM286 303.1l.9.4h.2l-1.1-.5zM283.3 298.8l-1.8-.9v.1l1 .5v1.9l.4-.1.4.2zM279.2 297v.5l.7.3.7-.1zM278.8 296.3l-1.8-.9v.4l1 .5v.9l.4-.1.4.2z"/><path fill="url(#fS28)" d="M329.9 369.8v-46.3l2.7-.6v-.4l-3.2.7v46.7zM336.5 321.8l-3.1.7v.5l.5.2 2.6-.6zM348.3 321.8l-1 .3.3.1.7-.2z"/><path fill="url(#fF2)" d="M333.4 322.5l-1.8-.9v.4l1 .5v.4l.4-.1.4.2zM331.1 321.7l-1.8-.9v1l.3.1 1.2-.3.3.2zM328.9 321.1l-1.8-.8v.7l1 .5.4-.1.4.2zM322.6 318.8v.7l1-.2zM322.1 318.6l-1.8-.8v.4l1 .5v.5l.5-.1.3.2zM317.6 317.1l-1.8-.8v.3l1 .5.5-.1zM293.3 306.5l.9.4.4-.1-1.3-.6zM281.6 301.9l-1.8-.8v.3l1 .5v1.3l.5-.1.3.1z"/><path fill="url(#fS27d)" d="M327.6 368.7v-45.8l-.4.1v45.8z"/><path fill="url(#fS27)" d="M334.3 320.9l-3.2.8v.1l.5.2v-.4l2.7-.6zM338.2 320.9l-2.4.5.7.4 1.7-.4zM342.2 320.7l-3.2.8.9.4 2.3-.5z"/><path fill="url(#fF4d)" d="M339 321.5l-.8-.4v.3l.5-.1zM335 320.4l.5-.2-.5-.2zM325.9 316.4v.1l.5.2h.2zM307.5 309.6l-.8-.4v.6l.4-.2.4.2zM305.2 307.7l-.8-.3v.4l.5-.1.3.2zM291.7 303.5l-.8-.4v.7l.5-.1.3.1zM289.5 302l-.8-.4v.7l.4-.1.4.2zM287.2 299.2l-.8-.4v1.3l.5-.1.3.2z"/><path fill="url(#fS26)" d="M325.4 367.7v-45.6l2.7-.6-3.2.7v45.6zM343.8 319.6l-2.6.7 1 .4v.4l1.6-.4z"/><path fill="url(#fS26d)" d="M328.9 321.6l.4.2v-.8l-.4.1z"/><path fill="url(#fF5)" d="M338.9 319.5v.1l.8.4h.2zM333.9 317.9l-1.8-.9v.4l1 .5v.5l.5-.1.3.1zM327.6 315.4l.1.6.8-.2zM325.4 315v.2l1 .5h.3zM324.9 314.6l-1.8-.8v1.1l.5.2 1-.2.3.1zM322.7 314.6l-1.8-.8v.4l.9.4.5-.1zM313.7 311l-1.8-.8v.1l1 .5v.6l.4-.1.4.1zM311.4 309.2l-1.8-.9 1 .5v1.3l.5-.1.3.1zM296.1 303.1v.5l.3.1.7-.1zM293.4 300.5l-1.8-.8v1.1l1 .4v.8l.5-.1.3.2zM291.2 298.3l-1.8-.9v.6l1 .5v2l.4-.1.4.1zM284.4 295.3l-1.8-.9v.1l1 .4v.4l.5-.1z"/><path fill="url(#fS25)" d="M323.1 366.6v-45.2l2.7-.7v-.7l-3.1.8v45.9zM333.7 319.7l-2.1.5.1.1.8-.2.9.4.3-.1z"/><path fill="url(#fS25d)" d="M326.6 320.7v.1l.5.2v-.4z"/><path fill="url(#fS24d)" d="M320.9 365.5v-44.9l-.5.1v44.9z"/><path fill="url(#fS24)" d="M327.5 318.9l-2.7.7.4.2 2.3-.6zM335.4 319.1l-2 .5.3.1 1.7-.4z"/><path fill="url(#fS23)" d="M318.6 364.5v-44.6l2.7-.7v-.5l-3.1.7v45.2zM325.3 317.9l-3.2.7v.7l.5.2v-.7l2.7-.6zM329.2 317.4l-3.1.7v.2l1.1.5 2-.5zM333.1 317.9l-2.7.7.6.3 2.1-.5zM337.1 317.1l-3.2.8v.5l1 .5 2.2-.5z"/><path fill="url(#fS22)" d="M316.4 363.4v-44.9l2.7-.6v-.1l-3.2.8v44.9zM330.9 316.5l-2.3.6.6.3v.2l1.7-.4z"/><path fill="url(#fS21)" d="M314.1 362.3v-44.6l2.7-.6-3.1.7v44.7zM320.8 316.4l-3.2.7v.1l.7.3 2.5-.6zM324.7 316.2l-3.1.7v.1l.4.2v-.3zM332.6 315.5l-2.5.6.7.4 1.8-.5z"/><path fill="url(#fS20)" d="M311.9 361.3v-44.4l2.7-.6v-.6l-3.2.7v45zM318.5 315.4l-3.1.7v.3l.4.2v-.3l2.7-.7zM322.5 315.1l-3 .7.5.2 2.5-.6z"/><path fill="url(#fS19d)" d="M309.6 360.2v-44.6l-.4.1v44.6z"/><path fill="url(#fS19)" d="M328.1 313.9l-3.2.7v.4l.5.2v-.2l2.7-.6z"/><path fill="url(#fS18d)" d="M307.4 359.2v-44.3l-.5.1v44.3zM323.1 314.5l-.4.2.4.2z"/><path fill="url(#fS18)" d="M314 314l-2.5.6.6.3 1.9-.5z"/><path fill="url(#fS17d)" d="M305.1 358.1v-43.4l-.4.1v43.4zM320.9 313.9l-.5.1.5.2z"/><path fill="url(#fS17)" d="M315.7 314.2l-1.1.2h.2zM319.6 313.3l-3.1.7v.3l.3.1 1.6-.3.2.1 1-.2z"/><path fill="url(#fS16d)" d="M302.9 357v-42l-.5.1v42z"/><path fill="url(#fS15)" d="M300.6 356v-41.8l2.7-.6v-1.8l-3.1.7v43.6zM307.3 311.7l-3.2.8v1.1l1.9-.4.7.3h.1v-.2l.5-.1zM311.2 311.3l-3.2.8v.9l2-.4.5.2.7-.1zM315.1 312.1l-3 .7 1.2.6 1.8-.4zM319.1 312l-3.2.7v.2l3.2-.8z"/><path fill="url(#fS14)" d="M298.4 354.9v-43.3l2.7-.6v-.3l-3.2.8v43.5zM305 310.9l-2.3.6h.1l2.2-.5zM308.9 310.5l-2.9.7.2.1v-.1l2.7-.6zM312.9 310.8l-1.9.5h.2v.5l1.7-.4zM316.8 310.3l-3.1.7v.4l.7.4 2.4-.6z"/><path fill="url(#fS13)" d="M296.1 353.8v-43.2l2.7-.6v-.4l-3.1.7v43.7zM302.8 309.2l-3.2.8 1.2.6 2-.4zM306.7 308.6l-3.2.7v.9l.5.2 2.7-.6zM310.6 308.8l-3.1.8v.2l1.4.7 1.7-.4zM314.6 308.5l-3.2.7v.9l.5.2v-.1l2.7-.6z"/><path fill="url(#fS12)" d="M293.9 352.8v-43.3l2.7-.7v-1.1l-3.2.7v44.5zM300.5 307.4l-3.1.8v.7l.4.2 2.7-.6zM304.4 307.3l-3.1.7v.5l.4.3v-.4l2.7-.6zM308.4 307l-3.2.7v.2l1.4.6 1.8-.4zM312.3 307l-3.1.8v.3l.4.3 2.7-.7z"/><path fill="url(#fS11d)" d="M291.6 351.7v-44.1l-.4.1v44.1z"/><path fill="url(#fS11)" d="M298.3 306.3l-3.1.7.5.3 2.6-.6z"/><path fill="url(#fS10)" d="M289.4 350.7v-43.8l2.7-.7v-.2l-3.2.7v44.1zM303.9 305.3l-2.9.7.8.4 2.1-.5z"/><path fill="url(#fS9d)" d="M287.1 349.6v-43.7l-.4.1v43.7z"/><path fill="url(#fS9)" d="M297.7 304.9l-2.2.5.4.2.6-.1.5.3.7-.2zM301.6 304.5l-3.1.7v.5l.4.2v-.7l2.7-.6zM305.6 304.5l-2.4.5.7.3v.3l1.7-.4z"/><path fill="url(#fS8d)" d="M284.9 348.5v-43.2l-.5.1v43.2z"/><path fill="url(#fS7d)" d="M282.6 347.5v-42.1l-.4.1v42.1zM293.2 304.5l-.8.2.3.1.5-.1z"/><path fill="url(#fS7)" d="M301.1 303.3l-2.7.6h.2l1.2-.2 1.2.5h.1z"/><path fill="url(#fS6)" d="M280.4 346.4v-41.8l2.7-.6v-.1l-3.2.8v41.8zM290.9 303.1l-2.8.6.7.4.9-.2.3.1.9-.2zM294.9 302.8l-3.2.7v.3l.5.2v-.1l2.7-.6z"/><path fill="url(#fS5)" d="M278.1 345.3v-41.5l2.7-.6v-1.3l-3.1.7v42.8zM284.7 301.2l-3.1.7v1.3l.4.3 2.7-.7zM288.7 300.8l-3.2.8v1.3l.5.2v-.1l2.7-.7zM292.6 301.2l-3.1.8v.4l.5.3 2.6-.7zM296.6 299.8l-3.2.7v1.6l1.5.7v.2l1.7-.4z"/><path fill="url(#fS4)" d="M275.9 344.3v-42.5l2.7-.7v-3.2l-3.2.7v45.8zM282.5 298.5l-3.2.7v2l.5.2v-.3l2.7-.7zM286.4 298l-3.1.8v1.7l.5.2 2.6-.6zM290.4 298.5l-3.2.7v1l1.5.7 1.7-.4zM294.3 297.5l-3.1.8v2.2l.4.3v-1.1l2.7-.7z"/><path fill="url(#fS3d)" d="M273.6 343.2v-44.8l-.5.1v44.8z"/><path fill="url(#fS3)" d="M284.2 297.1l-3 .7.3.2v-.1l2.7-.6zM288.1 296.3l-3.1.7v.3l1.4.7v.1l1.7-.4zM292.1 296.6l-3.2.7v.5l.5.2v-.6l2.7-.6z"/><path fill="url(#fS2)" d="M271.3 342.2v-44.5l2.7-.6v-1l-3.1.7v45.5zM278 296.3l-3.2.7v.1l.6.3 1.4-.3.6.2.6-.1zM281.9 295.5l-3.1.8v1l.4.2v-.5l2.7-.6z"/><path fill="url(#fS1d)" d="M269.1 341.1v-45.1l-.5.1v45.1z"/><path fill="url(#fS1)" d="M275.7 295l-2.6.6.7.4 1.9-.5zM283.6 294.9l-2 .5.3.1v.2l1.7-.4zM287.6 294.5l-3.2.8.8.4 1.1-.3.3.2 1-.2z"/></g>
<g stroke="rgba(0,0,0,0.35)" stroke-width="0.25" stroke-linejoin="round"><path fill="#f9fb0e" d="M332.1 323.6l1.8.9 3.2-.7-1.8-.9z"/><path fill="#f6f214" d="M337.9 325.1l3.1-.7-1.8-.9-2.1.5v.7zM345.8 323.5l3.1-.7-1.8-.8-3.1.7zM338.8 323.4l-1.8-.9-1.7.4 1.8.9zM327.2 323l.4-.1v-.5l2-.5-1.1-.5-3.1.7zM331.1 321.7l3.2-.8-1.8-.8-3.2.7zM328.9 321.1l.4-.1v-.2l2.4-.5-1.5-.7-3.1.7zM322.7 320.8l3.1-.8-1.8-.8-3.1.7zM275.4 298.6l3.2-.7-1.8-.8-3.2.7z"/><path fill="#f5ee17" d="M341.8 325l3.2-.7-1.8-.8-2.8.6.6.3v.3zM339.6 323.6l3.1-.7-1.8-.9-3.1.8zM343.5 322.8l3.2-.8-1.8-.8-3.2.7zM336.7 322.6l.3-.1.6.3 2.8-.6-1.7-.9-2.2.5v.7zM338.2 320.9l-1.8-.9-2.7.7.6.2v.1l.4-.1 1.1.5zM324.9 322.2l3.2-.7-1.8-.9-3.2.8zM326.6 320.7l.5-.1v-.3l2.2-.5-1.3-.7-2.8.7.6.2v.3zM320.4 320.7l.5-.1v-.7l1.7-.4-.8-.4-3.2.8zM323.6 319.3l.4-.1.8.4 2.7-.7-1.8-.8-3.1.7zM318.2 319.4l3.1-.7-1.8-.9-3.1.7zM322.1 318.6l3.2-.7-1.8-.9-3.2.8zM315.9 318.6l3.2-.8-1.8-.8-3.2.7zM311.4 316.4l3.2-.7-1.8-.9-3.2.8zM270.9 296.8l3.1-.7-1.8-.9-3.1.8zM268.6 296.1l.5-.1 2.7-.7-1.8-.8-3.2.7z"/><path fill="#f5ea19" d="M349.7 324.1l3.1-.8-1.8-.8-2.1.5v.7zM342.6 321.3l-2.7.6.5.3.5-.2.8.4v-.5l1.6-.3zM339 321.5l3.2-.8-1.8-.8-2.9.6.7.4v.2zM335.5 320.2l.9-.2 1.1.5 2.2-.5-1.6-.8-3.1.8zM333.7 319.7l-1.8-.8-3 .7.4.2.9-.2 1.4.6zM326.1 318.1l3.1-.7-1.8-.9-3.1.7zM321.2 316.8l-2.9.7.8.4.4-.1.8.4v-.4l2-.5zM313.7 317.8l3.1-.7-1.8-.9-3.1.7zM317.6 317.1l3.2-.7-1.8-.9-3.2.8zM315.4 316.1l3.1-.7-1.8-.9-3.1.7zM309.2 315.7l.4-.1 2.7-.7-1.8-.8-3.1.7zM306.9 315l.5-.1v-.1l2.6-.6-1.7-.8-3.2.8zM293.4 308.4l3.2-.7-1.8-.9-3.2.7zM279.3 299.2l3.2-.7-1.8-.9-2.1.5v.7zM273.1 298.5l.5-.1v-.6l1.8-.4-.9-.5-3.2.8zM274.8 297l3.2-.7-1.8-.9-2.4.6.2.1v.5zM278.8 296.3l3.1-.8-1.8-.8-3.1.7zM275.7 295l-1.8-.8-3 .7.9.4.4-.1.9.4z"/><path fill="#f8f611" d="M331.7 324.4l.4-.1v-.7l1.8-.4-.9-.4-3.1.7zM329.4 323.2l3.2-.7-1.8-.9-3.2.8zM333.4 322.5l3.1-.7-1.8-.9-3.1.7z"/><path fill="#f5e61c" d="M348.8 321.9l-1.2.3 1.3.6v.2l1.4-.3zM348.3 321.8l-1.8-.8-1.4.3 1.6.8.4-.1.2.1zM334.2 320.3l-.8.2.3.2.8-.2zM339.9 320l.5-.1.8.4 2.6-.7-1.8-.8-3.1.7zM329.7 318.2l-2.5.6.3.1v.3l.5-.1.9.5 2.4-.6zM322.7 317.2l.8-.2.8.4v-.2l2.1-.5-1.2-.6-3.2.8zM326.6 316.7l.8-.2 1.2.6 2.3-.6-1.8-.8-3.2.7zM321.6 316.9l3.1-.7-1.8-.9-2.9.7.8.4v.1zM318.7 315.6l.3-.1.5.3 3-.7-1.8-.8-3.1.7.9.4v.1zM314.5 314.3l-2.4.6h.2l.5-.1.8.4 1.9-.4zM314 314l-1.8-.9-3 .7.8.4.5-.1 1 .5zM304.7 314.8l.4-.1v-.5l1.9-.5-1-.5-3.1.8zM300.2 312.5l3.1-.7-1.8-.9-3.1.7zM297.9 311.5l3.2-.8-1.8-.8-3.2.7zM295.7 310.3l3.1-.7-1.8-.9-3.1.8zM297.4 308.2l3.1-.8-1.8-.8-3 .7.9.4v.1zM291.2 307.7l.4-.1v-.1l2.6-.6-1.7-.8-3.1.8zM294.6 306.8h.2l.4.2 3.1-.7-1.8-.8-3.2.7zM288.9 306.7l3.2-.7-1.8-.9-3.2.8zM292.4 306.2l.1-.1.5.3.3-.1v-.1l2.6-.6-1.7-.8-3.1.7zM286.7 306l.4-.1 2.7-.6-1.8-.9-3.1.7zM283.3 298.8l3.1-.8-1.8-.8-3.1.7zM278.4 297.1l-1 .2 1.2.6v.2l1.3-.3zM280.6 297.7l.1-.1.5.2 3-.7-1.8-.8-3.2.7zM285 297l3.1-.7-1.8-.9-3.1.7z"/><path fill="#f5e21e" d="M344.3 320.6l-2.1.5v.3l.4-.1.7.3 1.6-.4.2.1.5-.1zM333.7 320.4l.5-.1.3.2.5-.1v-.4l1.6-.4-.7-.4-2.2.5zM336.8 319.5l1.3-.3.8.4v-.1l1.8-.4-.9-.4-3.2.7zM335.4 319.1l-1.8-.8-2.6.6.3.1.6-.1 1.5.7zM329.3 318.3l.4-.1.7.4 2.7-.7-1.8-.8-2.1.5v.7zM333.9 317.9l3.2-.8-1.8-.8-3.2.7zM318.4 314.1l-3 .7h.1l1.2-.3.9.5 1.8-.5zM307.5 313.6l.8-.2.9.4 2.3-.5-1.5-.7-3.2.7zM304.1 312.5l3.2-.8-1.8-.8-2.7.6.5.3v.3zM299.6 310l3.2-.8-1.8-.8-3.2.7zM303.5 309.3l3.2-.7-1.8-.9-3.2.7zM301.3 308l3.1-.7-1.8-.9-2.8.7.7.3v.2zM300.4 305.7l-2.3.6h.2v.4l.4-.1 1.1.5 2.3-.6zM291.9 304.5l-2.5.6.4.2.5-.2.8.4 2-.5zM284.4 305.4l.5-.1v-.2l2.5-.5-1.6-.8-3.2.7zM277.7 302.6l3.1-.7-1.8-.9-3.1.8zM281.6 301.9l3.1-.7-1.8-.9-3.1.8zM281.9 296.4l.5-.1.7.4.1-.6 2-.4-1.1-.5-2.2.5zM277.9 294.8l-2.2.5v.2l.5-.1.8.4v-.4l1.5-.3zM279 295l1.1-.3 1.5.7 2-.5-1.8-.8-3.1.7z"/><path fill="#f5de21" d="M337.5 318.2l-2.6.7.5.2v.2l.5-.1.7.4v-.2l2.3-.5zM330.9 317.2l.4-.1.8.3v-.4l2.2-.5-1.3-.6-2.2.6h.1zM326.8 315.6l-2.1.5v.1l.5-.1.7.4v-.1l1.8-.4zM328.5 315.8l.6-.1 1 .4 2.5-.6-1.8-.8-3.2.7zM326.4 315.7l-1.8-.8-2.1.5.4-.1 1.7.8zM324.9 314.6l3.2-.7-1.8-.9-3.2.8zM302.4 315.1l.5-.1v-1l1.3-.3-.4-.2-3.2.7zM308 312.1l3.2-.8-1.8-.8-3.2.7zM305 310.9l-1.8-.8-2.4.5.3.1v.3l.4-.1 1.2.6zM305.2 311l.3-.1.5.3 2.9-.7-1.8-.9-3.1.8zM305.2 307.7l3.2-.7-1.8-.9-3 .7zM300.2 305.8l.2-.1.6.3 2.9-.7-1.8-.8-3.2.7zM293.2 305l1-.2 1.3.6 2.2-.5-1.8-.8-3.2.7zM289.7 303.9l-2.6.6.3.1.6-.2 1.4.7 1.9-.5zM282.2 305.5l.4-.1v-.9l1.5-.3-.6-.3-3.1.7zM285.5 301.6l3.2-.8-1.8-.8-3.1.7zM287.2 299.2l3.2-.7-1.8-.9-2.2.5v.7zM291.2 298.3l3.1-.8-1.8-.8-3.1.7zM288.9 297.3l3.2-.7-1.8-.9-2.3.5.1.1v.6zM284.4 295.3l3.2-.8-1.8-.8-3.2.7z"/><path fill="#f6db24" d="M326.7 315.7l.1-.1.5.2h.3v-.4l2.2-.5-1.3-.6-3.1.7zM322.3 314.5l-.7.2.9.4v.3l1.1-.3zM316.2 314.1l-1.4.3.6.4 1.4-.4zM315.7 314.2l-1.8-.9-.9.2 1 .5v.4l.5-.1.1.1zM316.5 314l3.1-.7-1.8-.9-3.1.8zM311.6 312.6l-1.1.2 1 .5.7-.2.8.4.4-.1zM307.5 309.6l3.1-.8-1.8-.8-2.2.5.1.1v.6zM309.2 307.8l3.1-.8-1.8-.8-2.5.6.4.2v.4zM304.3 305.8l-2.5.6.3.1.5-.1 1 .4 1.9-.4zM298.1 305.5l-1.1.3 1.1.5 1.1-.3zM298.5 305.2l3.1-.7-1.8-.8-3.1.7zM287.4 303.4l-1.6.4 1.3.7 1.7-.4zM279.9 304.7l3.2-.8-1.8-.8-3.2.7zM283.1 304l.4-.1.6.3 2.8-.7-1.7-.8-3.2.8zM293.4 300.5l3.2-.7-1.8-.9-3.2.8zM288 295.2l-1.4.4 1.4.6 1.4-.3z"/><path fill="#f8d726" d="M320.1 313.8l-1.5.4.8.3 1.3-.2.9.4.2-.1zM322.7 314.6l.4-.1v-.7l1.6-.4-.7-.4-3.1.8zM320.4 314l.5-.1v-.1l2.5-.6-1.6-.8-2.7.6.5.3v.3zM311.5 312.6h.1l.5.2 3-.7-1.8-.8-2.1.5v.7zM312.9 310.8l-1.8-.8-2.2.5v.1l.5-.1 1.6.8zM311.4 309.2l3.2-.7-1.8-.9-3.2.7zM308.3 305.8l-1.6.4 1.3.6 1.6-.4zM306 305.1l-2.1.5v.3l.4-.1 1.2.6 2.3-.5zM305.6 304.5l-1.8-.9-2.7.6.5.3v.1l.5-.1 1.1.5zM294.7 304.3l1.2-.2.8.3 1.9-.5-1-.4-3.2.7zM293.2 304.5l-1.8-.8-1.4.3 1.3.6.6-.1.5.2zM287.1 303.5l.3-.1.7.3 2.8-.6-1.8-.9-3.1.8zM289.5 302l3.1-.8-1.8-.8-2.1.5v.7z"/><path fill="#f9d429" d="M315.6 312.9l-2.3.5.6-.1.8.4v-.5l1-.3zM316.4 312.7l1.4-.3 1.3.6 1.7-.4-1.3-.6zM315.9 312.7l3.2-.7-1.8-.9-2.9.7.7.3v.2zM313.7 311l3.1-.7-1.8-.8-3.1.7zM293.6 304.6l.8-.2v-.2l2-.5-1.1-.5-3.1.7zM297.1 303.6l.5-.1.8.4 2.7-.6-1.8-.9-3.2.7zM291.7 303.5l3.2-.7-1.8-.9-3.1.8z"/><path fill="#fcce2e" d="M297 302.5l-2.1.5v.3l.4-.1.8.4v-.5l1.5-.3z"/></g>
<g font-size="3.3" fill="#606060" letter-spacing="0"><text transform="translate(263.5 340.7)scale(1.3 1)" text-anchor="end" letter-spacing="0.5">0</text><text transform="translate(263.5 333.5)scale(1.3 1)" text-anchor="end" letter-spacing="0.5">0.5</text><text transform="translate(263.5 326.2)scale(1.3 1)" text-anchor="end" letter-spacing="0.5">1</text><text transform="translate(263.5 319)scale(1.3 1)" text-anchor="end" letter-spacing="0.5">1.5</text><text transform="translate(263.5 311.7)scale(1.3 1)" text-anchor="end" letter-spacing="0.5">2</text><text transform="translate(263.5 304.5)scale(1.3 1)" text-anchor="end" letter-spacing="0.5">2.5</text><text transform="translate(263.5 297.2)scale(1.3 1)" text-anchor="end" letter-spacing="0.5">3</text><text transform="translate(263.5 290)scale(1.3 1)" text-anchor="end" letter-spacing="0.5">3.5</text><text transform="translate(259.8 344.7)scale(1.3 1)" text-anchor="middle">0</text><text transform="translate(271.1 350)scale(1.3 1)" text-anchor="middle">5</text><text transform="translate(282.3 355.3)scale(1.3 1)" text-anchor="middle">10</text><text transform="translate(293.6 360.6)scale(1.3 1)" text-anchor="middle">15</text><text transform="translate(304.8 366)scale(1.3 1)" text-anchor="middle">20</text><text transform="translate(316.1 371.3)scale(1.3 1)" text-anchor="middle">25</text><text transform="translate(327.3 376.6)scale(1.3 1)" text-anchor="middle">30</text><text transform="translate(338.6 381.9)scale(1.3 1)" text-anchor="middle">35</text><text transform="translate(350.9 380.9)scale(1.3 1)" text-anchor="middle">1</text><text transform="translate(354.8 380)scale(1.3 1)" text-anchor="middle">2</text><text transform="translate(358.8 379.1)scale(1.3 1)" text-anchor="middle">3</text><text transform="translate(362.7 378.2)scale(1.3 1)" text-anchor="middle">4</text><text transform="translate(366.6 377.3)scale(1.3 1)" text-anchor="middle">5</text></g>
<text font-size="4.3" fill="#4a4a4a" text-anchor="middle" transform="translate(252.4 310.9) rotate(-90)" textLength="29.6" lengthAdjust="spacingAndGlyphs">Entropia promedio H</text>
<text font-size="3.5" fill="#4a4a4a" x="277.5" y="381" textLength="41" lengthAdjust="spacingAndGlyphs">Numero de intentos</text>
<text font-size="3.5" fill="#4a4a4a" x="364.4" y="387.9" textLength="56.2" lengthAdjust="spacingAndGlyphs">Numero de iteraciones MoE</text>
<text font-size="3.3" font-weight="bold" stroke="#000" stroke-width="0.12" fill="#000" x="241.1" y="285.5" textLength="146.5" lengthAdjust="spacingAndGlyphs">Entropia segun intentos e iteraciones de MoE Clasico Entropico</text>
<path d="M40.3 481.4L57.8 477.7M57.8 477.7L57.8 428.8M51.4 486.7L68.9 482.9M68.9 482.9L68.9 434M62.6 491.9L80.1 488.2M80.1 488.2L80.1 439.3M73.7 497.2L91.2 493.4M91.2 493.4L91.2 444.5M84.9 502.4L102.4 498.7M102.4 498.7L102.4 449.8M96 507.7L113.5 503.9M113.5 503.9L113.5 455M107.2 512.9L124.7 509.1M124.7 509.1L124.7 460.2M30.9 475.8L108.9 512.5M30.9 475.8L30.9 426.9M34.4 475.1L112.4 511.8M34.4 475.1L34.4 426.2M37.9 474.3L115.9 511M37.9 474.3L37.9 425.4M41.4 473.6L119.4 510.3M41.4 473.6L41.4 424.7M44.9 472.8L122.9 509.5M44.9 472.8L44.9 423.9M29.1 476.2L46.6 472.4M46.6 472.4L124.7 509.1M29.1 468.1L46.6 464.3M46.6 464.3L124.7 501M29.1 459.9L46.6 456.1M46.6 456.1L124.7 492.8M29.1 451.8L46.6 448M46.6 448L124.7 484.7M29.1 443.6L46.6 439.8M46.6 439.8L124.7 476.5M29.1 435.4L46.6 431.7M46.6 431.7L124.7 468.4M29.1 427.3L46.6 423.5M46.6 423.5L124.7 460.2M46.6 472.4L46.6 423.5M124.7 509.1L124.7 460.2M29.1 427.3L46.6 423.5M46.6 423.5L124.7 460.2" stroke="#e6e6e6" stroke-width="0.3" fill="none"/>
<path d="M29.1 476.2L29.1 427.3M29.1 476.2L107.2 512.9M107.2 512.9L124.7 509.1M29.1 476.2L30 475.9M29.1 468.1L30 467.8M29.1 459.9L30 459.6M29.1 451.8L30 451.5M29.1 443.6L30 443.3M29.1 435.4L30 435.2M29.1 427.3L30 427M40.3 481.4L40.8 481.3M51.4 486.7L51.9 486.6M62.6 491.9L63.1 491.8M73.7 497.2L74.3 497.1M84.9 502.4L85.4 502.3M96 507.7L96.6 507.5M107.2 512.9L107.7 512.8M108.9 512.5L107.8 512M112.4 511.8L111.3 511.2M115.9 511L114.8 510.5M119.4 510.3L118.3 509.7M122.9 509.5L121.8 509" stroke="#9a9a9a" stroke-width="0.35" fill="none"/>
<g stroke="rgba(0,0,0,0.5)" stroke-width="0.25" stroke-linejoin="round"><path fill="url(#gF1)" d="M97.3 508v-42.9l-1.8-.8v42.9zM95.1 507v-43.5l-1.8-.9v43.5zM92.8 505.9v-42.5l-1.8-.8v42.5zM90.6 504.9v-42.6l-1.8-.8v42.5zM88.4 503.8v-42.8l-1.8-.9v42.9zM86.1 502.8v-41.5l-1.8-.8v41.4zM83.9 501.7v-42.1l-1.8-.9v42.2zM81.7 500.7v-41.7l-1.8-.9v41.7zM79.4 499.6v-42.1l-1.8-.8v42.1zM77.2 498.6v-42.7l-1.8-.8v42.6zM75 497.5v-42.9l-1.8-.9v43zM72.7 496.5v-42.9l-1.7-.8v42.8zM70.5 495.4v-42.2l-1.8-.8v42.2zM68.3 494.4v-42.6l-1.8-.8v42.5zM66 493.3v-42.8l-1.7-.8v42.8zM63.8 492.3v-42.5l-1.8-.8v42.4zM61.6 491.2v-42.9l-1.8-.9v43zM59.4 490.2v-44.1l-1.8-.8v44zM57.1 489.1v-43.9l-1.8-.8v43.9zM54.9 488.1v-42.6l-1.8-.8v42.5zM52.7 487v-42.7l-1.8-.8v42.7zM50.4 486v-42l-1.8-.8v41.9zM48.2 484.9v-42.6l-1.8-.8v42.6zM46 483.9v-41.6l-1.8-.8v41.5zM43.7 482.8v-40.7l-1.8-.8v40.7zM41.5 481.8v-41.3l-1.8-.9v41.3zM39.3 480.7v-41.1l-1.8-.8v41.1zM37 479.7v-40.9l-1.7-.8v40.9zM34.8 478.6v-41.4l-1.8-.8v41.4zM32.6 477.6v-43l-1.8-.9v43.1z"/><path fill="url(#gS30)" d="M100.1 507.4v-42.9l-2.8.6v42.9zM103.6 506.7v-42.7l-2.8.6v42.7zM107.1 505.9v-41.4l-2.8.6v41.4zM110.6 505.2v-41.5l-2.8.6v41.5zM114.1 504.4v-40.3l-2.8.6v40.3z"/><path fill="url(#gF2)" d="M100.8 507.3v-42.7l-1.8-.9v.3l1.1.5v42.4zM85.2 457.8l-1.8-.9v1l.8.4.7-.2.3.1zM82.9 456.4l-1.8-.8v.8l1.1.5v.7l.5-.1.2.2zM80.7 455.4l-1.8-.9v.3l1.1.5v.9l.4-.1.3.1zM74.5 452.4v.1l1 .5v.2l.4-.1zM71.8 451.2l-1.8-.9v.4l1.1.5v.7l.4-.1.3.1zM67.3 449.1l-1.8-.9v.5l1 .5.6-.1.2.1zM65.1 447.4l-1.8-.9v.7l1.1.5v.8l.4-.1.3.1zM47.2 440.8l-1.8-.8v1l.4.2 1.2-.3.2.1zM45 439.9l-1.8-.8v.3l1.1.5v.9l.4-.1.3.1zM42.8 438.8l-1.8-.9v.6l1.1.5v.1l.4-.1.3.1zM38.3 436.9l-1.8-.8 1.1.5v.9l.5-.1.2.1z"/><path fill="url(#gF3d)" d="M104.3 506.5v-41.4l-.7-.3v41.4zM57.9 443.2v.1l.4.3.3-.1zM51.2 441.1v.3l.4-.1zM41.8 437.2l-.7-.3v.9l.5-.1.2.1zM39.6 435.3l-.7-.4v.7l.4-.1.3.1z"/><path fill="url(#gF4)" d="M107.8 505.8v-41.5l-1.8-.8v.5l1.1.5v40.9zM103.3 462.5l-1.8-.8v.9l.4.1 1.2-.2.2.1zM101.1 461.9l-1.8-.8v.3l1.1.5v.4l.4-.1.3.2zM97.1 460.9l.7.4.1-.1-.8-.4zM89.9 456.8l-1.8-.9v.5l1.1.5v.5l.5-.1.2.1zM83.2 453.2l-1.7-.8v.8l.4.2 1.1-.2.2.1zM72.1 448.3l-1.8-.8v.1l1.1.5v.5l.4-.1.3.1zM59.1 442.2v.1l1 .4h.1zM50.2 439.8v.1l.8.4.2-.1zM49.8 439l-1.8-.9v.7l1.1.6v.2h.4l.3.1zM45.3 436.3l-1.8-.9v.7l1.1.5v.6l.5-.1.2.1z"/><path fill="url(#gF5d)" d="M111.3 505v-40.3l-.7-.4v40.4zM106.1 463v.3l.4-.1h-.1zM97.9 459.3l-.7-.3v.4l.4-.1.3.1zM86.7 453.7l-.7-.4v.5l.5-.1.2.1zM73.4 446.8l-.7-.3v.5l.4-.1.3.1zM54.8 440.1v.3l.4-.1-.3-.2zM53.3 438.7l-.7-.3v.9l.4-.1.3.1z"/><path fill="url(#gS29)" d="M95.5 506.9v-42.6l2.4-.5v-.9l-2.8.6v43.5zM101.4 463.2l-2.8.6.4.2v-.3zM104.9 463.3l-1.8.4.5.3 1.3-.3zM111.9 462.7l-2.3.5.8.4 1.5-.3z"/><path fill="url(#gF2d)" d="M97.9 463.5v.3l.4-.1-.3-.1zM94.5 462.3h.2l.5-.1-.7-.3zM87.4 459.7l-.7-.3v.6l.4-.1.3.1zM51.7 442.5l-.7-.4v.6l.4-.1.3.1zM36.1 434.9l-.7-.4v1.4l.4-.1.3.1z"/><path fill="url(#gF5)" d="M107.3 462.5v.7l1-.2zM95.7 458l-1.8-.9v.9l.4.3 1.1-.3.3.1zM93.4 456.4l-1.8-.9v.1l1.1.6v1.6l.5-.1.2.1zM89.4 454.7v.7l.3.2 1.1-.3zM89 453.9l-1.8-.9v1l1.1.5v.7l.4-.1.3.1zM60 441.5l-1.8-.8v.8l1.1.5v.2l.7-.2z"/><path fill="url(#gS28d)" d="M93.3 505.8v-42.5l-.5.1v42.5z"/><path fill="url(#gS28)" d="M99.1 462.2l-1.9.4.5.2 1.4-.3zM106.1 461.9l-2.8.6v.1l1.6.7v.3l1.2-.3z"/><path fill="url(#gS27)" d="M91 504.8v-42.2l2.4-.6v-.3l-2.8.6v42.6zM100.4 461.9l-1.3.3v.3l.5-.1.2.1.6-.2zM107.4 461.6l-1.4.3h.1v.4l1.3-.3z"/><path fill="url(#gS27d)" d="M101.1 462.4l.4.2v-.7h-.4z"/><path fill="url(#gS26)" d="M88.8 503.7v-42.2l2.4-.5v-.6l-2.8.6v42.8zM94.7 460.6l-2.6.5 1.3.6v.3h.4l.9-.2z"/><path fill="url(#gS25d)" d="M86.6 502.7v-41.5l-.5.1v41.5z"/><path fill="url(#gS25)" d="M95.9 460.1l-1.6.3.4.2v.4l1.2-.3zM99.4 460.1l-2.8.6.5.2v-.1l2.3-.5z"/><path fill="url(#gF4d)" d="M96.6 460.7l-.7-.3v.3l.5-.1zM84.8 454.8v.3l.4-.1zM81 452.2l-.7-.3v1.1l.5-.1.2.1zM77 450.6v.4l.7-.1zM76.5 450.3l-.7-.4v1.2l.5-.1.2.1zM72.5 448.8l.4.2.2-.1-.6-.2zM69.9 446.8l-.7-.3v.8l.4-.1.3.1zM43.1 435.2l-.7-.3v1l.4-.1.3.1z"/><path fill="url(#gS24)" d="M84.3 501.6v-41.1l2.4-.5v-1l-2.8.6v42.1zM90.2 459.1l-2.8.6v.3l2-.5.8.4zM93.7 458.5l-2.8.6v.9l.2.1h.2v-.2l2.4-.5zM97.2 458.9l-2.7.5.8.4 1.9-.4zM100.7 458.7l-2.8.6v.1l1.5.7v.2l1.3-.2z"/><path fill="url(#gF3)" d="M90.9 459.1l-1.8-.8v.3l1.1.5v.8l.1.1.3-.1.3.1zM75.7 452l.2.1 1.1-.2-1.3-.6zM71.3 449.5l.8.4.2-.1-1-.5zM64.1 445.2l-1.8-.9v.5l1.1.5v.5l.5-.1.2.1zM55.6 442.5v.5l.5.2.7-.1z"/><path fill="url(#gS23d)" d="M82.1 500.6v-41.7l-.4.1v41.7z"/><path fill="url(#gS23)" d="M88 457.2l-2.8.6v.4l1 .5 1.8-.3zM98.5 457.4l-2.8.6v.1l.5.3 2.3-.5z"/><path fill="url(#gS22)" d="M79.9 499.5v-41.4l2.3-.5v-.7l-2.8.6v42.1zM85.7 455.8l-2.8.6v1.3l.5.2v-1l2.3-.5zM89.2 456.9l-1.2.3v.5l1.2-.3zM92.7 456.2l-2.8.6v.6l1 .5 1-.2.5.2.3-.1zM96.2 455.8l-2.8.6v1.4l.5.2v-.9l2.3-.5z"/><path fill="url(#gS21)" d="M77.6 498.5v-41.8l2.4-.5v-.9l-2.8.6v42.7zM83.5 454.8l-2.8.6v.8l.4.2v-.8l2.4-.5zM87 455.8l-1.3.3v.3l1.3-.2zM94 454.9l-2.7.6.3.1v-.1l2.4-.5z"/><path fill="url(#gS20)" d="M75.4 497.4v-42.3l2.4-.5v-.6l-2.8.6v42.9zM84.8 454l-2 .4.7.4v.3l.4-.1.4.2.5-.1zM88.3 454.5l-2.8.6 1 .5 1.8-.4zM91.8 453.3l-2.8.6v1.3l.4.2v-.7l2.4-.5z"/><path fill="url(#gS19)" d="M73.2 496.4v-42.7l2.3-.5v-.2l-2.8.6v42.9zM79 452.7l-2.7.6 1.3.6 1.4-.3zM86 452.6l-2.8.6v.1l1.6.7v.1l1.2-.3z"/><path fill="url(#gS19d)" d="M86.7 453.8l.5.2v-.4l-.5.1z"/><path fill="url(#gS18d)" d="M71 495.3v-42.2l-.5.1v42.2z"/><path fill="url(#gS18)" d="M80.3 451.5l-2.5.6 1.2.6v.5l1.3-.2zM83.8 451.6l-2.8.6v.8l.5.2v-.8l2.3-.5zM87.3 451.7l-2.1.5.8.4 1.3-.3z"/><path fill="url(#gS17)" d="M68.7 494.3v-41.9l2.4-.5v-.7l-2.8.6v42.6zM74.6 450.6l-2.8.6v.7l.7.3 2.1-.4zM81.6 450.8l-2 .4.1.1z"/><path fill="url(#gS16)" d="M66.5 493.2v-42.2l2.3-.5v-.6l-2.8.6v42.8zM75.8 449.6l-2.3.5 1.1.5v.8l1.2-.3zM79.3 449.7l-2.8.6v.8l.5-.1v-.4l2.3-.5z"/><path fill="url(#gS15d)" d="M64.3 492.2v-42.5l-.5.1v42.5z"/><path fill="url(#gS15)" d="M70.1 448.5l-2.8.6v.1l1 .5 1.8-.4zM80.6 448.9l-2 .4.7.4v.4l1.3-.3z"/><path fill="url(#gS14)" d="M62 491.1v-42.1l2.4-.5v-.8l-2.8.6v42.9zM67.9 446.8l-2.8.6v1.1l.4.2v-.5l2.4-.5zM71.4 448.1l-1.5.3.2.1v.3l1.3-.2zM74.9 447.7l-2.8.6v.3l.4.2v-.1l2.4-.5zM78.4 447.9l-2.3.5.3.2 2-.4z"/><path fill="url(#gS13)" d="M59.8 490.1v-42.7l2.4-.5v-1.4l-2.8.6v44.1zM69.2 446.4l-1.4.3.1.1v.8l1.3-.3zM72.7 446.2l-2.8.6v.5l.4.3v-.1l2.4-.5zM76.2 446.2l-2.8.6v.2l1.1.6 1.7-.4z"/><path fill="url(#gS12)" d="M57.6 489v-43.7l2.3-.6v-.1l-2.8.6v43.9zM63.4 445.3l-1.2.3v.5l1.2-.3zM66.9 444.6l-2.8.6v.6l.7.4 2.1-.5z"/><path fill="url(#gS11d)" d="M55.3 488v-42.6l-.4.1v42.6z"/><path fill="url(#gS11)" d="M61.2 444.2l-1.5.3.2.1v.1l1.3-.1zM68.2 444.4l-1.3.2v.5l1.3-.2zM71.7 444.8l-2.1.4.4.2 1.7-.3z"/><path fill="url(#gS10)" d="M53.1 486.9v-42.2l2.4-.5v-.5l-2.8.6v42.7zM62.5 443.4l-2 .4.4.2 1.6-.3z"/><path fill="url(#gS9d)" d="M50.9 485.9v-42l-.5.1v42z"/><path fill="url(#gS9)" d="M63.7 442.4l-2.3.5.9.4 1.4-.3z"/><path fill="url(#gS8)" d="M48.6 484.8v-41.6l2.4-.5v-1l-2.8.6v42.6zM54.5 441.9l-2.8.6v.2l.9.4 1.9-.3zM65 442.3l-1.3.2v.5l.5-.1.3.2.5-.1z"/><path fill="url(#gS7d)" d="M46.4 483.8v-41.6l-.4.1v41.6zM59.3 442l-.5.1.3.2v-.1h.2z"/><path fill="url(#gS7)" d="M55.8 441.3l-1.8.4.5.2v.3l1.3-.3zM62.8 440.9l-2.8.6v.5l1.9-.4.2.1.7-.2z"/><path fill="url(#gS6d)" d="M44.2 482.7v-40.7l-.5.1v40.7z"/><path fill="url(#gS6)" d="M50 440.2l-2.8.6v.2l.5.2 1.5-.3.8.4zM57 441.1l-1.2.3v.1l1.2-.3z"/><path fill="url(#gS5)" d="M41.9 481.7v-40.4l2.4-.5v-.9l-2.8.6v41.3zM47.8 439.3l-2.8.6v.9l.4.2v-1l2.4-.5zM54.8 440l-2.2.5.4.2 1-.2h.1l.7-.1zM58.3 439.8l-2.8.6 1.3.6 1.4-.3.1-.1z"/><path fill="url(#gS4)" d="M39.7 480.6v-41l2.4-.5v-.1l-2.8.6v41.1zM45.6 438.2l-2.8.6v.3l.4.3v-.3l2.4-.5zM52.6 438.4l-2.8.6v.7l.4.2v-.1l2.4-.5zM56.1 438.1l-2.8.6v.6l.6.3 2.2-.5z"/><path fill="url(#gS4d)" d="M49.1 439.4l-.7.1.5.2.2-.1z"/><path fill="url(#gS3)" d="M37.5 479.6v-40.8l2.3-.6-2.8.6v40.9zM46.8 437.9l-1.2.3v.4l.4-.1.5.2.3-.1z"/><path fill="url(#gS2)" d="M35.3 478.5v-40.5l2.3-.5v-.9l-2.8.6v41.4zM41.1 436.3l-2.8.6v.6l1.2.6 1.6-.3zM44.6 436.6l-2.8.6v.6l2.8-.6zM48.1 435.7l-2.8.6v.9l1.2.6 1.6-.4zM51.6 437l-2.5.6.3.1 2.2-.5z"/><path fill="url(#gS1)" d="M33 477.5v-41.1l2.4-.5v-1.9l-2.8.6v43zM38.9 434.3l-2.8.6v1l.4.2 2.4-.5zM42.4 434.7l-2.8.6v.3l1.3.6 1.5-.3zM45.9 434.6l-2.8.6v.7l.4.2v-.7l2.4-.5zM49.4 435.3l-1.4.3.1.1v.9l1.3-.3z"/></g>
<g stroke="rgba(0,0,0,0.35)" stroke-width="0.25" stroke-linejoin="round"><path fill="#f6f214" d="M95.5 464.3l1.8.8 2.8-.6-1.8-.8zM100.8 464.6l2.8-.6-1.8-.9-2.8.6zM97.9 463.5l.7.3 2.8-.6-1.8-.8-1.9.4.2.1zM92.8 463.4l.5-.1v-.7l1.4-.3-.9-.3-2.8.6zM95.2 462.2l.9-.2 1.1.6 1.9-.4-1.8-.9-2.8.6zM90.6 462.3l2.8-.6-1.8-.8-2.8.6zM88.4 461l2.8-.6-1.8-.9-2.8.6zM82.9 456.4l2.8-.6-1.8-.8-2.8.6zM77.2 455.9l2.8-.6-1.8-.8-2.8.6zM80.7 455.4l2.8-.6-1.8-.9-2.8.6zM75 454.6l2.8-.6-1.8-.9-2.8.6zM72.7 453.6l2.8-.6-1.7-.8-2.8.6zM74.5 452.4l1.8.9 2.7-.6-1.7-.9zM68.3 451.8l2.8-.6-1.8-.8-2.8.6zM71.8 451.2l2.8-.6-1.8-.9-2.8.6zM66 450.5l2.8-.6-1.7-.8-2.8.6zM63.8 449.8l.5-.1 2.2-.5-1.7-.8-2.8.6zM67.3 449.1l2.8-.6-1.8-.9-2.8.6zM61.6 448.3l2.8-.6-1.8-.9-2.8.6zM63.4 445.3l-1.8-.8-1.1.2 1.7.8v.1zM64.1 445.2l2.8-.6-1.8-.9-2.8.6zM54.9 445.5l.4-.1v-1l.8-.2-.2-.1-2.8.6zM56.8 444l1.3-.2 1.6.7 1.5-.3-1.8-.9-2.8.6zM52.7 444.3l2.8-.6-1.8-.8-2.8.6zM48.2 442.3l2.8-.6-1.8-.8-2.8.6zM32.6 434.6l2.8-.6-1.8-.9-2.8.6z"/><path fill="#f5ea19" d="M104.3 465.1l2.8-.6-1.8-.8-1.7.3v.8zM107.8 464.3l2.8-.6-1.8-.8-2.8.6zM104.9 463.3l-1.8-.8-2.3.5.6.2.4-.1 1.3.6zM103.3 462.5l2.8-.6-1.8-.8-2.8.6zM95.1 461.7l-1.3.3.7.3v-.4l.8-.1zM86.1 461.3l.5-.1v-1.1l.7-.1-.2-.1-2.8.6zM87.4 459.7l2.8-.6-1.8-.8-2.2.4.5.3v.4zM90.9 459.1l2.8-.6-1.8-.8-2.8.6zM80.9 454.1l.8-.2 1.1.5 2-.4-1.8-.8-2.8.6zM83.2 453.2l2.8-.6-1.7-.8-2.8.6zM75 451.7l-2.5.5.4.2.9-.2.7.3v-.1l1.4-.3zM81 452.2l2.8-.6-1.8-.8-2.3.5.6.2v.4zM71.4 448.1l-1.8-.9-1.7.4v.1l.4-.1 1.6.8zM69.2 446.4l-1.8-.8-2.6.6h.1l1.2-.3 1.7.8zM69.9 446.8l2.8-.6-1.8-.8-2.7.6zM62.9 443.6l-2 .4.3.2v.4l.4-.1.7.3v-.5l1.5-.3zM58.6 443.5l.8-.2 1.1.5 2-.4-1.8-.8-2.8.6zM54.9 442.7l-1.1.3 1.1.5 1.2-.3zM56.8 443.1l.4-.1.6.3h.1v-.1l2.2-.5-1.7-.8-2.8.6zM46 442.3l.4-.1v-.7l1.3-.3-.7-.3-2.8.6zM47.2 440.8l2.8-.6-1.8-.8-2.8.6zM41.5 440.5l2.8-.6-1.8-.9-2.8.6zM45 439.9l2.8-.6-1.8-.8-2.8.6zM39.3 439.6l2.8-.6-1.8-.8-2.8.6zM42.8 438.8l2.8-.6-1.8-.9-2.8.6zM34.8 437.2l2.8-.6-1.8-.8-2.8.6zM38.3 436.9l2.8-.6-1.8-.8-2.8.6z"/><path fill="#f5e61c" d="M111.3 464.7l2.8-.6-1.8-.9-1.9.4.2.1v.6zM108.3 463l.5-.1.8.3 2.3-.5-1.8-.8-2.8.6zM100.8 462.2l-1 .3 1 .5 1.1-.3zM100.4 461.9l-1.8-.8-1.2.2 1.7.9zM101.1 461.9h.4v-.2l2.1-.5-1.5-.7-2.8.6zM94.7 461.7h.4l.2.1 2.5-.5-1.4-.7-1.7.4zM90.6 459.9l-.3.1.5.2.3-.1zM91.7 460l1.2-.2 1.4.6 1.6-.3-1.8-.8-2.8.6zM89.7 457.3l-1.7.4v.7l.4-.1.7.3v-.3l1.8-.4zM89.2 456.9l-1.8-.8-1.2.3 1.8.8zM89.9 456.8l2.8-.6-1.8-.9-2.8.6zM87 455.8l-1.8-.8-.9.2 1.4.6v.3zM89 453.9l2.8-.6-1.8-.9-2.8.6zM80.8 452.9l-1.8.3v.4l.5-.1.7.3 1.7-.4zM76.3 451l-1.7.4v.4l.4-.1.7.3v-.7l.8-.2zM77.7 450.9l.8-.2 1.1.5 2-.4-1.8-.8-2.8.6zM76.5 450.3l2.8-.6-1.7-.9-2.3.5.5.3v.3zM71.8 448.5l-1.7.3v.5l.5-.1.7.3v-.2l1.6-.3zM73.1 448.9l1-.2 1.2.6 1.8-.4-1.8-.8-2.8.6zM72.1 448.3l2.8-.6-1.8-.8-2.8.6zM73.4 446.8l2.8-.6-1.8-.8-2.5.5.8.3v.3zM68.6 444.8l-1.7.3v.6l.5-.1.8.4 2.1-.5zM68.2 444.4l-1.8-.9-1.1.3 1.6.8zM64.2 442.9l-1.9.4.2.1v.3l.4-.1.9.4 1.3-.3.2.1.4-.1zM60.2 442.7l.5-.1.7.3 2.3-.5-1.8-.8-2.8.6zM50.5 441.3h-.4l.4.2.3-.1zM51.6 441.3l1.1-.3 1.3.7 1.8-.4-1.8-.8-2.8.6zM43.7 442.1l.5-.1v-.5l1.6-.3-1.1-.5-2.8.6zM37 438.8l2.8-.6-1.7-.8-2.8.6zM39.6 435.3l2.8-.6-1.8-.9-1.8.4.1.1v.6z"/><path fill="#f8f611" d="M95.1 463.5l2.8-.6-1.8-.9-2.8.6zM65.1 447.4l2.8-.6-1.8-.9-2.8.6z"/><path fill="#f5e21e" d="M106.6 463.2l-1.7.4v.1h.4l.7.3v-.5l.8-.2zM106.1 463l.7.3.5-.1v-.7l1.2-.3-.7-.3-1.7.4zM107.4 461.6l-1.8-.9-2.1.5h.1l.7-.1 1.7.8zM97.9 461.2l.7-.1.7.3v-.3l1.7-.3-1.1-.6-2.8.6zM96.6 460.7l2.8-.6-1.8-.8-2.3.5.6.3v.3zM94 459.3h.1l.4.1 2.7-.5-1.8-.9-1.8.4.1.1v.6zM95.7 458l2.8-.6-1.8-.9-2.8.6zM93.4 456.4l2.8-.6-1.8-.9-2.8.6zM88.7 455.1l-2.2.5.5.2v.4l.4-.1.7.3v-.5l1.6-.3zM90.8 455.3h.1l.4.2 2.7-.6-1.8-.8-2.8.6zM84.8 454.8l.7.3 2.8-.6-1.8-.8-1.7.4zM86.7 453.7l.5-.1v-.6l1.6-.3-1-.5-1.8.4v.7zM87.3 451.7l-1.8-.8-2.2.5.5.2v.3l.5-.1.9.4zM80.6 448.9l-1.8-.8-2.4.5.7.3.5-.1 1 .5zM78.4 447.9l-1.8-.8-2.1.5.4.1v.5l.4-.1.8.3zM72.1 445l-2.1.4.3.1.6-.1 1 .5 1.6-.3zM71.7 444.8l-1.8-.9-1.8.4.1.1v.5l.4-.1 1 .4zM56.2 441.8l-1.7.4v.6l.4-.1.7.3v-.5l1.4-.3zM50.3 441.3h.2l.3.1h.4v-.3l1.8-.4-1.3-.6-1.7.4v.7zM41.6 437.7l-2.1.4.3.2.5-.1.7.3v-.6l.8-.1zM46.8 437.9l-1.7-.8-1.3.2 1.8.9zM41.8 437.2l2.8-.6-1.8-.8-1.9.4.2.1v.6zM45.3 436.3l2.8-.6-1.8-.9-2.8.6zM43.1 435.2l2.8-.6-1.8-.8-2.5.5.8.4v.2z"/><path fill="#f5ee17" d="M91.3 460.9h.3l.5.2 2.6-.5-1.8-.8-2.1.4.4.2v.5zM83.9 459.6l2.8-.6-1.8-.9-2.8.6zM81.7 459l.4-.1v-.2l2.1-.4-1.5-.8-2.8.6zM85.2 457.8l2.8-.6-1.8-.9-2.8.6zM79.4 457.5l2.8-.6-1.8-.8-2.8.6zM79.5 453.5l-1.9.4.2.1v.6l.4-.1.7.3v-.3l1.9-.4zM70.5 453.2l.5-.1v-.3l1.9-.4-1.4-.6-2.8.6zM77 451.9l.3-.1.5.3 2.5-.6-1.8-.8-2.8.6zM69.1 450.4h.2l.4.2.3-.1v-.2l2.1-.4-1.5-.7-2.3.5.5.2v.4zM72.3 449.8l.5-.1.7.4 2.3-.5-1.7-.9-2.8.6zM62.3 446.9l.3-.1.6.3h.1v-.6l1.6-.3-1-.5-1.7.4v.7zM55.5 444.1h.4l.2.1.5-.1v-.2l1.7-.3-1.1-.6-2.3.5.6.2zM50.4 444l.5-.1v-.4l1.7-.4-1.2-.5-2.8.6zM51.7 442.5l2.8-.6-1.8-.9-2.2.5.5.2v.4zM36.1 434.9l2.8-.6-1.8-.9-2 .5.3.1v.5z"/><path fill="#f6db24" d="M102.9 460.9l-1.8-.9-1.2.3 1.1.5 1.1-.3zM65.4 442.9l-.9.2 1.2.6.7-.2.2.1h.3zM54.8 440.1l.7.3 2.8-.6-1.8-.8-2.6.6.9.4zM47.1 438.6l.2-.1.4.2h.3v-.6l1.6-.3-1-.5-2.1.5.3.1v.5zM49.4 435.3l-1.8-.8-1.7.4.4-.1 1.7.8z"/><path fill="#f5de21" d="M97.9 459.3l2.8-.6-1.8-.9-2.7.6zM93.2 457.7l-.8.2 1.2.5.7-.1zM83.3 450.4l-1.8.4.1.1.4-.1 1.3.6 1.4-.3zM81.1 449.7l-1.3.3 1.7.8 1.2-.3zM67.7 443.4l-1.1.2 1.5.7 1-.2zM65 442.3l-1.8-.9-1.1.3 1.6.7v.1zM59.3 442l-1.8-.8-1.7.3v.4l.4-.1.8.4 1.4-.3.4.2zM60 441.5l2.8-.6-1.8-.8-2.8.6zM57 441.1l-1.8-.8-1.1.2 1.7.8v.1zM49.5 439.6l-.6.1 1.1.5v.3l1-.2zM51.2 440.2l.5-.1.9.4 2.2-.5-1.8-.8-2.8.6zM49.1 439.4l-1.8-.9-.8.2 1.3.6v.2l.4-.1.2.1zM49.8 439l2.8-.6-1.8-.9-2.8.6zM53.3 438.7l2.8-.6-1.8-.8-2.8.6z"/><path fill="#f9fb0e" d="M59.4 446.1l2.8-.6-1.8-.8-2.8.6zM57.1 445.2l2.8-.6-1.8-.8-2.8.6z"/><path fill="#f8d726" d="M56.8 441l.2.1v.1h.5l.7.3v-.8zM52.1 437.1l-2.7.6.2.1 1.2-.3.7.4 1.5-.3zM48.3 437.4l.3-.1.5.3 2.5-.6-1.8-.8-1.7.4v.7z"/></g>
<g font-size="3.3" fill="#606060" letter-spacing="0"><text transform="translate(27.5 477.1)scale(1.3 1)" text-anchor="end" letter-spacing="0.5">0</text><text transform="translate(27.5 468.9)scale(1.3 1)" text-anchor="end" letter-spacing="0.5">0.5</text><text transform="translate(27.5 460.8)scale(1.3 1)" text-anchor="end" letter-spacing="0.5">1</text><text transform="translate(27.5 452.6)scale(1.3 1)" text-anchor="end" letter-spacing="0.5">1.5</text><text transform="translate(27.5 444.5)scale(1.3 1)" text-anchor="end" letter-spacing="0.5">2</text><text transform="translate(27.5 436.3)scale(1.3 1)" text-anchor="end" letter-spacing="0.5">2.5</text><text transform="translate(27.5 428.2)scale(1.3 1)" text-anchor="end" letter-spacing="0.5">3</text><text transform="translate(23.8 481.1)scale(1.3 1)" text-anchor="middle">0</text><text transform="translate(35 486.3)scale(1.3 1)" text-anchor="middle">5</text><text transform="translate(46.1 491.6)scale(1.3 1)" text-anchor="middle">10</text><text transform="translate(57.3 496.8)scale(1.3 1)" text-anchor="middle">15</text><text transform="translate(68.4 502.1)scale(1.3 1)" text-anchor="middle">20</text><text transform="translate(79.6 507.3)scale(1.3 1)" text-anchor="middle">25</text><text transform="translate(90.7 512.6)scale(1.3 1)" text-anchor="middle">30</text><text transform="translate(101.9 517.8)scale(1.3 1)" text-anchor="middle">35</text><text transform="translate(113.9 516.9)scale(1.3 1)" text-anchor="middle">1</text><text transform="translate(117.4 516.2)scale(1.3 1)" text-anchor="middle">2</text><text transform="translate(120.9 515.4)scale(1.3 1)" text-anchor="middle">3</text><text transform="translate(124.4 514.7)scale(1.3 1)" text-anchor="middle">4</text><text transform="translate(127.9 513.9)scale(1.3 1)" text-anchor="middle">5</text></g>
<text font-size="4.3" fill="#4a4a4a" text-anchor="middle" transform="translate(12.6 447.4) rotate(-90)" textLength="27.1" lengthAdjust="spacingAndGlyphs">Entropia promedio H</text>
<text font-size="3.5" fill="#4a4a4a" x="32.5" y="518.6" textLength="41" lengthAdjust="spacingAndGlyphs">Numero de intentos</text>
<text font-size="3.5" fill="#4a4a4a" x="131.7" y="527" textLength="56.2" lengthAdjust="spacingAndGlyphs">Numero de iteraciones MoE</text>
<text font-size="3.3" font-weight="bold" stroke="#000" stroke-width="0.12" fill="#000" x="15.1" y="423.3" textLength="123.8" lengthAdjust="spacingAndGlyphs">Entropia segun intentos e iteraciones de MoE Clasico</text>
<path d="M276 483.7L294.3 479.3M294.3 479.3L294.3 427M287.6 489.1L305.9 484.6M305.9 484.6L305.9 432.3M299.2 494.4L317.5 489.9M317.5 489.9L317.5 437.7M310.8 499.8L329.1 495.3M329.1 495.3L329.1 443M322.4 505.1L340.7 500.6M340.7 500.6L340.7 448.3M334 510.5L352.3 506M352.3 506L352.3 453.7M345.6 515.8L363.9 511.3M363.9 511.3L363.9 459M266.2 478L347.4 515.4M266.2 478L266.2 425.7M269.9 477.1L351.1 514.5M269.9 477.1L269.9 424.8M273.5 476.2L354.8 513.6M273.5 476.2L273.5 423.9M277.2 475.3L358.4 512.7M277.2 475.3L277.2 423M280.9 474.4L362.1 511.8M280.9 474.4L280.9 422.1M264.4 478.4L282.7 473.9M282.7 473.9L363.9 511.3M264.4 469.7L282.7 465.2M282.7 465.2L363.9 502.6M264.4 461L282.7 456.5M282.7 456.5L363.9 493.9M264.4 452.3L282.7 447.8M282.7 447.8L363.9 485.2M264.4 443.5L282.7 439.1M282.7 439.1L363.9 476.5M264.4 434.8L282.7 430.3M282.7 430.3L363.9 467.7M264.4 426.1L282.7 421.6M282.7 421.6L363.9 459M282.7 473.9L282.7 421.6M363.9 511.3L363.9 459M264.4 426.1L282.7 421.6M282.7 421.6L363.9 459" stroke="#e6e6e6" stroke-width="0.3" fill="none"/>
<path d="M264.4 478.4L264.4 426.1M264.4 478.4L345.6 515.8M345.6 515.8L363.9 511.3M264.4 478.4L265.3 478.1M264.4 469.7L265.3 469.4M264.4 461L265.3 460.7M264.4 452.3L265.3 452M264.4 443.5L265.3 443.3M264.4 434.8L265.3 434.6M264.4 426.1L265.3 425.9M276 483.7L276.5 483.6M287.6 489.1L288.1 489M299.2 494.4L299.7 494.3M310.8 499.8L311.3 499.6M322.4 505.1L322.9 505M334 510.5L334.5 510.3M345.6 515.8L346.1 515.7M347.4 515.4L346.2 514.8M351.1 514.5L349.9 513.9M354.8 513.6L353.5 513M358.4 512.7L357.2 512.1M362.1 511.8L360.9 511.2" stroke="#9a9a9a" stroke-width="0.35" fill="none"/>
<g stroke="rgba(0,0,0,0.5)" stroke-width="0.25" stroke-linejoin="round"><path fill="url(#hF1)" d="M335.3 510.8v-45.4l-1.9-.9v45.4zM333 509.7v-46.9l-1.9-.9v47zM330.7 508.7v-47.4l-1.9-.9v47.4zM328.3 507.6v-46.9l-1.8-.8v46.8zM326 506.5v-46.3l-1.8-.8v46.3zM323.7 505.5v-46.8l-1.9-.8v46.7zM321.4 504.4v-47.7l-1.9-.9v47.7zM319.1 503.3v-47.9l-1.9-.8v47.9zM316.7 502.2v-47.8l-1.8-.9v47.9zM314.4 501.2v-45.8l-1.8-.8v45.7zM312.1 500.1v-47.1l-1.9-.9v47.2zM309.8 499v-45.5l-1.9-.9v45.6zM307.5 498v-46.6l-1.9-.9v46.6zM305.1 496.9v-45.9l-1.8-.9v45.9zM302.8 495.8v-46.8l-1.8-.8v46.8zM300.5 494.8v-46.7l-1.9-.8v46.6zM298.2 493.7v-45.6l-1.9-.9v45.6zM295.9 492.6v-44.5l-1.9-.8v44.5zM293.5 491.6v-44.2l-1.8-.8v44.1zM291.2 490.5v-43.7l-1.8-.8v43.6zM288.9 489.4v-43.6l-1.9-.9v43.7zM286.6 488.4v-43.4l-1.9-.9v43.4zM284.3 487.3v-42.9l-1.9-.9v42.9zM281.9 486.2v-46.6l-1.8-.8v46.6zM279.6 485.1v-48.1l-1.8-.9v48.2zM277.3 484.1v-47.4l-1.9-.8v47.3zM275 483v-47.5l-1.9-.8v47.5zM272.7 481.9v-45.9l-1.9-.8v45.9zM270.3 480.9v-45.7l-1.8-.8v45.6zM268 479.8v-44.8l-1.8-.8v44.8z"/><path fill="url(#hS30)" d="M338.2 510.1v-45.4l-2.9.7v45.4zM341.9 509.2v-47.1l-2.9.7v47.1zM345.5 508.3v-46.2l-2.9.7v46.2zM349.2 507.4v-46.3l-2.9.7v46.3zM352.9 506.5v-47.8l-3 .7v47.8z"/><path fill="url(#hF2)" d="M339 509.9v-47.1l-1.9-.8v2.2l1.1.5v44.9zM336.6 461.1l-1.8-.8v1.2l1.1.5v1.9l.5-.1.2.1zM332 459.6l-1.9-.8v.7l.9.4.7-.2.3.1zM329.7 459.1l-1.9-.8v.7l.8.4.8-.2.3.1zM327.4 457.6l-1.9-.8v.7l1.1.5v.8l.5-.2.3.2zM325 455l-1.8-.8v1.2l1.1.5v1.4l.5-.1.2.1zM322.7 454.8l-1.8-.9v.3l1.1.5v.5l.4-.1.3.1zM316.2 453.2l1.3-.3-1.3-.6zM315.8 451.7l-1.9-.9v.9l1.1.6v1.2l.8-.2zM313.4 450.8l-1.8-.9v1.9l1.6-.4.2.1zM311.1 450.4l-1.8-.8v.5l1.1.6v1.3l.7-.1zM306.9 449.4v.3l.7.3.4-.1zM302.3 446.8v.1l1.1.5v.2l.4-.1zM301.8 446.7l-1.8-.9v1l.1.1 1.5-.4zM299.5 446.3l-1.8-.8v1.4l1.5-.4.3.1zM297.2 446.3l-1.9-.9v.8l1.1.5.5-.1.3.1zM294.9 445.8l-1.9-.8v.6l.9.4.7-.1.3.1zM292.6 445.2l-1.9-.8v.1l1.1.5v.4l.5-.1.3.1zM290.2 443.7l-1.8-.9v1l1.1.5.5-.1.2.1zM287.9 443.2l-1.8-.9v.8l.9.5.6-.2.3.2zM285.6 437.5l-1.9-.8v1.7l1.2.5v4l.4-.1.3.1zM283.3 436.6l-1.9-.9 1.1.5v2l.5-.2.3.2zM278.6 434.6l-1.8-.9v.6l1.1.5v.5l.5-.1.2.1zM276.3 433.6l-1.8-.9v1.6l1.5-.3.3.1zM272.1 434l1.2.6.4-.2.2.1-1.8-.9zM271.7 432.8l-1.9-.8v1.8l.4.2 1.2-.3.3.1z"/><path fill="url(#hF3d)" d="M342.6 509v-46.2l-.7-.3v46.2zM328.7 455.7l-.7-.3v.8l.4-.1.3.1zM319.4 451.6l-.7-.4v.5l.4-.1.3.1z"/><path fill="url(#hF4)" d="M346.3 508.1v-46.3l-1.9-.8v.6l1.1.5v45.7zM344 459.6l-1.9-.8v1.7l1.1.5v.3l.5-.1.3.2zM341.6 458.2l-1.8-.8v.2l1.1.5v2.1l.5-.1.2.1zM337 455.2l-1.9-.8v2l1.6-.4.3.1zM332.4 453l-1.9-.8v1.9l1.6-.4.3.1zM330 452.8l-1.8-.9v.6l1.1.6v1.1l.5-.1.2.1zM327.7 451.3l-1.8-.8v1.1l1.1.5v.2l.4-.1.3.1zM325.4 450.8l-1.9-.9v.9l1.2.6.4-.2.3.2zM323.1 449.3l-1.9-.9v1.9l.8.4.8-.2.3.1zM320.8 449.6l-1.9-.8v.7l1.1.5v.1l.5-.1.3.1zM318.4 448.4l-1.8-.8v.5l1.1.6v.6l.5-.1.2.1zM316.1 447l-1.8-.8v1.3l.9.5.6-.2.3.1zM313.8 445.6l-1.9-.8v2.7l.2.1 1.4-.4.3.1zM311.5 445.5l-1.9-.8v.7l1.1.5v1.3l.5-.1.3.1zM309.2 444.3l-1.9-.9v1.4l.8.4.8-.2.3.2zM300.3 444.1v.7h.3l.5.2h.2v-.4zM299.9 442.6l-1.9-.9v.9l1.1.5v1.9l.5-.1h.3zM293.4 440.9l.2.1.6-.1-.8-.4zM286.4 434l.4.2 1-.3-1.4-.6zM286 432.5l-1.9-.9v.8l1.1.5v.9l.5-.2.3.2zM283.6 431.8l-1.8-.9v.9l.8.4.8-.2.2.2zM279 431.6l-1.9-.8v1.2h.3l.2.1 1.1-.2.3.1z"/><path fill="url(#hF5)" d="M349.9 507.2v-47.8l-1.8-.8v2l1.1.5v45.8zM340.7 454.3l-1.9-.8v.5l1.1.5v1.8l.5-.1.3.1zM338.3 453.5l-1.8-.8v1.3l1.6-.4.2.2zM331.8 451.6l.5.2.5-.2-1-.4zM331.4 450.3l-1.9-.9v.7l1.1.5v.7l.5-.1.3.1zM326.7 448.5l-1.8-.9v.5l1.1.5v.7l.5-.1.2.1zM322.1 446.9l-1.9-.8v1.1l1.2.5v.5l.4-.1.3.1zM317.5 444.6l-1.9-.8v.6l1.1.5v.6l.5-.1.3.2zM312.8 443.8l-1.8-.8v.1l1.1.5v.5l.4-.1.3.1zM310.5 442.7l-1.9-.9v1.3l1.6-.4.3.1zM306.3 442.9v.3l.5.2.4-.1zM303.5 442l-1.8-.8v.1l1.1.5v1.7l.7-.1zM298.9 440.1l-1.9-.8v.8l1.2.5v.2l.4-.1.3.2zM296.6 434.9l-1.9-.8v.5l1.1.5v4.8l.5-.1.3.1zM292.4 433.7l1.1.5v.1h.3l-1.4-.7zM291.9 432.1l-1.8-.9v1.7l1.1.5.5-.1.2.1zM289.6 431.9l-1.8-.8v.2l1.1.5v.9l.4-.2.3.2zM287.3 430.3l-1.9-.9v1.1l1.2.5.4-.1.3.2zM283.1 429.7v.9l1.3-.3zM280.8 430.4l.9.4.4-.1-1.3-.5z"/><path fill="url(#hS29)" d="M333.4 509.6v-45.1l2.5-.6v-1.9l-2.9.8v46.9zM339.6 460.4l-3 .7v2.8l.5.3v-2.2l2.5-.6zM343.2 461l-2.5.6.6.2 1.9-.5zM346.9 458.9l-2.9.7v1.8l.4.2v-.6l2.5-.6z"/><path fill="url(#hF5d)" d="M347.6 459.6l-.7-.3v1.1l.4-.2.3.2zM336 453.6l-.7-.4v1l.4-.1.3.1zM322.6 447.6v.5l.8-.2zM319.8 446.7l-.8-.4v.7l.5-.1.3.1zM304 443v.3l.4-.1z"/><path fill="url(#hS29d)" d="M347.6 460.4l.5.2v-1.1l-.5.1z"/><path fill="url(#hS28)" d="M331.1 508.5v-46.6l2.5-.6v-.7l-2.9.7v47.4zM340.9 458.1l-2.9.7v.9l1.6.7v.2l1.3-.4zM344.6 457.5l-3 .7v2l.5.3v-1.7l2.5-.7zM348.2 457.7l-2.5.7.6.2 1.9-.5z"/><path fill="url(#hF2d)" d="M334.3 461.2l-.7-.4v.5l.4-.1.3.1z"/><path fill="url(#hS28d)" d="M334.3 461.3l.5.2v-.4l-.5.1z"/><path fill="url(#hF3)" d="M338 458.8l-1.9-.8v1.9l1.6-.3.3.1zM335.7 457.6l-1.9-.9v1.7l1.1.5v.8l.5-.1.3.1zM333.3 457.6l-1.8-.8v1.1l.8.4.8-.2.2.1zM331 455.2l-1.8-.8v2l1.1.5v.8l.4-.1.3.1zM324.5 453.5l.5.2.8-.2-1.3-.6zM324.1 452.8l-1.9-.8v1.6l1.6-.4.3.1zM321.7 452l-1.8-.8v.7l1.1.5v1.4l.7-.1zM312.9 448.5v.7l.6.2.9-.2zM312.5 448.8l-1.9-.9v1.2l.2.1 1.4-.4.3.2zM310.1 448.7l-1.8-.9v.8l.7.3.9-.2.2.1zM307.8 446.6l-1.8-.8v.6l1.1.5v1.5l.4-.2.3.2zM305.5 446.1l-1.9-.9v.2l1.2.6v.2l.4-.2.3.2zM303.2 445l-1.9-.9v1l.6.3 1-.3.3.1zM296.2 443.8l-1.8-.8v1l.8.4.7-.2.3.2zM293.9 442.3l-1.9-.9v1l1.2.5v.9l.4-.1.3.1zM291.6 442.2l-1.9-.9v.6l.8.4.8-.2zM289.3 435.7l-1.9-.8v1.4l1.1.5v4.9l.5-.1.3.1zM286.9 435.4l-1.8-.8v.7l1.1.6v.2l.5-.1.2.1zM282.8 434.4v1l1.4-.4zM282.3 433.6l-1.9-.8v.5l1.2.5v1.8l.4-.1h.3zM280 433.1l-1.9-.9v.2l1.1.5v.2l.5-.1z"/><path fill="url(#hS27d)" d="M328.8 507.5v-46.9l-.5.1v46.9z"/><path fill="url(#hS27)" d="M334.9 458.9l-2.9.7v.2l.8.4 2.1-.5zM338.6 456.9l-2.9.7v2.1l.4.2v-1.9l2.5-.6zM345.9 456.6l-2.1.6.5.2 1.6-.4z"/><path fill="url(#hS26d)" d="M326.5 506.4v-46.3l-.5.1v46.3zM329.7 459.3l.4.2v-.5l-.4.1zM333.3 458.2l.5.2v-.9l-.5.1z"/><path fill="url(#hS26)" d="M339.9 454.5l-2.9.7v.9l1.2.6 1.7-.4zM343.6 453.6l-2.9.7v2l.4.2 2.5-.6z"/><path fill="url(#hS25)" d="M324.2 505.3v-45.9l2.4-.6v-.8l-2.9.7v46.8zM330.3 456.9l-2.9.7v1.2l.4.2v-.7l2.5-.6zM333.9 454.5l-2.9.7v2.5l.5.2v-1.1l2.4-.6zM341.3 452.8l-3 .7v.3l.5.2v-.5l2.5-.6z"/><path fill="url(#hF4d)" d="M334.7 455.7l-.8-.3v.8l.5-.1.3.1zM297.6 442.3l-.8-.3v.4l.5-.2.3.2zM292.9 435.8l-.7-.3v5.2l.4-.1.3.1zM288.7 434.2l.5.2h.2l-.7-.4zM279.5 431.9l.7-.2-.7-.3z"/><path fill="url(#hS25d)" d="M334.7 456.2l.4.2v-.8l-.4.1z"/><path fill="url(#hS24)" d="M321.8 504.3v-46.4l2.5-.6v-1.4l-2.9.8v47.7zM328 454.3l-3 .7v2.3l.5.2v-.7l2.5-.6zM335.3 452.3l-2.9.7v.8l1.5.8 1.4-.4z"/><path fill="url(#hS24d)" d="M328.7 456.2l.5.2v-.8l-.5.1zM336 453.6v.6l.5-.2v-.6z"/><path fill="url(#hS23)" d="M319.5 503.2v-47.4l2.5-.6v-.5l-2.9.7v47.9zM329.3 453.1l-2.7.6 1.4.6v.3l1.3-.4zM336.6 451.4l-2.2.5.9.4v.1l1.3-.3z"/><path fill="url(#hS23d)" d="M322.7 455.2l.5.2v-.8l-.5.2zM330 454.2l.5-.1v-1.4l-.5.1z"/><path fill="url(#hS22)" d="M317.2 502.1v-47.5l2.5-.6v-.3l-3 .7v47.8zM327 452.1l-2.9.7v.5l.4.2v-.6l2.5-.6zM330.6 450.6l-2.9.7v1l.5.2v-.6l2.4-.6zM334.3 449.6l-2.9.7v1l.4.3v-.4l2.5-.6z"/><path fill="url(#hS21d)" d="M314.9 501.1v-45.8l-.5.1v45.8zM325.4 451.4l.5.2v-.9l-.5.1z"/><path fill="url(#hS21)" d="M321 452.4l-2.6.7 1.3.6v.3l.4-.1.3.1.6-.2zM324.7 451.3l-3 .7v1.7l.5-.1v-1.6z"/><path fill="url(#hS20)" d="M312.6 500v-45.4l2.3-.6v-.5h.1v-1.2l-2.9.7v47.1zM318.7 451l-2.9.7v1.6l.4-.1v-.9l2.5-.6zM326 448.6l-2.9.7v1.3l.4.2v-.9l2.5-.6zM329.7 447.8l-3 .7v.8l.5.3 2.5-.7z"/><path fill="url(#hS20d)" d="M319.4 451.7l.5.2v-.5l-.5.2z"/><path fill="url(#hS19d)" d="M310.2 498.9v-45.5l-.4.1v45.5zM320.8 450.1l.4.2v-.8l-.4.1z"/><path fill="url(#hS19)" d="M316.4 450.1l-3 .7v.7l.5.2v-.9l2.5-.6zM320 450l-2.2.6h.1l2.1-.5z"/><path fill="url(#hS18)" d="M307.9 497.9v-45.3l2.5-.6v-1.3l-2.9.7v46.6zM317.7 448.7l-2.9.7.9.4 2-.5zM321.4 447.7l-3 .7v.9l.5.2v-.7l2.5-.6zM325 446.2l-2.9.7v1.3l.5-.1v-.5l2.4-.6z"/><path fill="url(#hS18d)" d="M311.1 451.9l.5-.1v-1.5l-.5.1z"/><path fill="url(#hS17d)" d="M305.6 496.8v-45.9l-.5.1v45.9zM312.5 449l.4.2v-.5l-.4.1zM319.8 446.7v.3l.4.2v-.6z"/><path fill="url(#hS17)" d="M319 446.3l-2.9.7v.9l.5.2v-.5l2.4-.6z"/><path fill="url(#hS16)" d="M303.3 495.7v-45.6l2.4-.6v-1.2l-2.9.7v46.8zM316.7 444.9l-2.9.7v1.7l.5.2v-1.3l2.4-.7zM320.4 443.9l-2.9.7v1l.5.2 2.4-.6z"/><path fill="url(#hS16d)" d="M310.1 448.8l.5.3v-.5l-.5.1z"/><path fill="url(#hS15)" d="M301 494.7v-46.5l2.4-.6v-.2l-2.9.7v46.7zM307.1 446.9l-2.9.7 1.5.7v.4l1.4-.3zM310.7 445.9l-2.9.7v1.8l.5.2v-.8l2.4-.6z"/><path fill="url(#hS15d)" d="M311.5 447.2l.4.3v-2.1l-.4.1z"/><path fill="url(#hS14d)" d="M298.6 493.6v-45.6l-.4.1v45.6zM305.5 446.2l.5.2v-.4l-.5.1z"/><path fill="url(#hS14)" d="M304.8 446l-3 .7.5.2v-.1l2.5-.6zM312.1 443.6l-2.9.7v.9l.4.2v-.7l2.5-.6zM315.7 443.1l-2.9.7v.3l.7.3 1.4-.3.2.1.5-.1v-.3h.1z"/><path fill="url(#hS13d)" d="M296.3 492.5v-44.5l-.4.1v44.5zM299.5 446.6l.5.2v-.6l-.5.1z"/><path fill="url(#hS13)" d="M306.1 444.3l-2.9.7v.2l.4.2v-.2l2.5-.6zM313.4 442l-2.9.7v.1l.5.3v-.1l2.4-.6z"/><path fill="url(#hS12d)" d="M294 491.4v-44.1l-.5.1v44.2zM297.2 446.7l.5.2v-.8l-.5.2z"/><path fill="url(#hS11d)" d="M291.7 490.4v-43.7l-.5.1v43.7zM294.9 446l.4.2v-.5l-.4.1z"/><path fill="url(#hS10)" d="M289.4 489.3v-43.3l2.4-.6v-.4l-2.9.8v43.6zM299.1 443.1l-2.9.7v.6l1.2.5.9-.2.7.3h.1zM302.8 441.8l-2.9.8v2.3l.4-.1v-.7l2.5-.6zM306.5 441.3l-3 .7v1.4l.5-.1v-.3l2.5-.6z"/><path fill="url(#hS10d)" d="M292.6 445.4l.4.2v-.5l-.4.1z"/><path fill="url(#hS9)" d="M287 488.2v-43.3l2.5-.6-2.9.7v43.4zM293.2 442.9l-3 .8v.6l.5.2v-.1l2.5-.6zM296.8 441.6l-2.9.7v1.5l.5.2v-1l2.4-.6z"/><path fill="url(#hS9d)" d="M297.6 442.4l.4.2v-.4l-.4.1z"/><path fill="url(#hS8d)" d="M284.7 487.2v-43l-.4.2v42.9zM287.9 443.6l.5.2v-.7l-.5.1zM291.6 442.2l.4.2v-.3z"/><path fill="url(#hS8)" d="M298.2 440.6l-2.2.6.3.1 1.9-.5zM301.8 439.4l-2.9.7v.8l.5.2 2.4-.6z"/><path fill="url(#hS7)" d="M282.4 486.1v-42.6l2.5-.6v-4l-3 .7v46.6zM288.5 436.8l-2.9.7v5.4l.5.2v-.8l2.4-.6zM292.2 435l-2.9.7v6l.4.2v-.6l2.5-.6zM295.8 435.1l-2.9.7v4.9l.5.2v-.4l2.4-.6zM299.5 434.2l-2.9.7v5l.4.2v-.8l2.5-.6z"/><path fill="url(#hS6)" d="M280.1 485v-46.2l2.4-.6v-2l-2.9.8v48.1zM286.2 435.9l-2.9.7v1.6l.4.2v-1.7l2.5-.6zM293.5 434.2l-2 .5.2.1 1.8-.5z"/><path fill="url(#hS6d)" d="M286.9 436.1l.5.2v-1l-.5.1z"/><path fill="url(#hS5d)" d="M277.8 484v-47.4l-.5.1v47.4z"/><path fill="url(#hS5)" d="M291.2 433.4l-2.7.7.2.1v-.2zM294.9 431.4l-3 .7v1.3l.5.3v-.1l2.5-.6z"/><path fill="url(#hS4)" d="M275.4 482.9v-47l2.5-.6v-.5l-2.9.7v47.5zM281.6 433.8l-3 .8v.7l.9.4 1.2-.3.6.2h.3zM285.2 432.9l-2.9.7v1.9l.5-.1v-1l2.4-.6zM288.9 431.8l-2.9.7v1.3l.4.2v-.7l2.5-.6z"/><path fill="url(#hS4d)" d="M289.6 432.7l.5.2v-1.1l-.5.1z"/><path fill="url(#hS3d)" d="M273.1 481.8v-45.9l-.4.1v45.9zM280 433.1l.4.2v-.3z"/><path fill="url(#hS3)" d="M279.2 432.9l-2.9.7v.5l.5.2v-.6l2.4-.6zM286.6 431l-3 .8v.4l.5.2v-.8zM290.2 429.6l-2.9.7v.8l.5.2v-.2l2.4-.6z"/><path fill="url(#hS2)" d="M270.8 480.8v-45.6l2.5-.7-3 .7v45.7z"/><path fill="url(#hS1d)" d="M268.5 479.7v-44.8l-.5.1v44.8zM279 432l.5-.1v-.4l-.5.1z"/><path fill="url(#hS1)" d="M274.6 432.1l-2.9.7v1l.4.2v-.4l2.4-.5v-.4h.1z"/></g>
<g stroke="rgba(0,0,0,0.35)" stroke-width="0.25" stroke-linejoin="round"><path fill="#f5ea19" d="M333.4 464.5l1.9.9 2.9-.7-1.8-.9zM314.4 455.4l.5-.1v-1.3l-2.3.6zM309.8 453.5l.4-.1v-1.3l.7-.1-.1-.1-2.9.7zM305.1 451l.5-.1v-.4l2-.5-1.4-.6-2.9.7zM308 449.9l.5-.1.8.3v-.5l1.5-.4-.9-.5-3 .7zM310.1 448.7l.5-.1v-.7l1.5-.3-.9-.5-2.9.7zM315.1 444.2l.5.2v-.3zM298.2 448.1l.4-.1v-.7l1.5-.4-.9-.4-2.9.7zM305.5 446.1l.5-.1v-.2l2.1-.6-1.5-.7-3 .7zM299.5 446.3l.5-.1v-.4l1.9-.4-1.3-.6-2.9.7zM303.2 445l2.9-.7-1.9-.9-2.9.7zM272.7 436l.4-.1v-1.2l.7-.2-.1-.1-2.9.8zM270.3 435.2l3-.7-1.9-.8-2.9.7zM273.9 434.5l.6-.2v-1.2l-2.4.5zM278.7 431.9l-1.1.2.5.3v-.2l.9-.2zM280.2 431.7l.8-.2.8.3v-.9l.7-.2h-.1l-2.9.7zM279 431.6l.5-.1v-.1l2.2-.6-1.6-.7-3 .7z"/><path fill="#f6f214" d="M339 462.8l2.9-.7-1.9-.8-2.9.7zM333 462.8l2.9-.8-1.9-.8-2.9.7zM344 459.6l2.9-.7-1.9-.9-2.9.8zM330.7 461.3l2.9-.7-1.9-.9-2.9.7zM328.3 460.7l.5-.1v-.2l2.2-.5-1.6-.7-2.9.7zM332 459.6l2.9-.7-1.8-.8-3 .7zM340.4 456.2l-2.2.5.4.2v.5l.4-.1.8.3v-.2l2.1-.5zM333.3 457.6l.5-.1v-.8l1.3-.3-.7-.3-2.9.7zM327.4 457.6l2.9-.7-1.9-.8-2.9.7zM334.7 455.7l.4-.1v-1.2l.8-.2-.2-.1-1.8.5v.8zM328.7 455.7l.5-.1v-1.2l.7-.2-.1-.1-1.8.5v.8zM336 453.6l.5-.2v-.7l1.3-.4-.7-.3-1.8.4v.8zM317.5 452.9l.3-.1.6.3 2.6-.7-1.9-.8-2.9.7zM321.7 452l3-.7-1.9-.8-2.9.7zM328.1 449.9l.7-.2.7.4v-.7l1.3-.3-.7-.3-2.9.7zM312.1 453l2.9-.7-1.8-.9-3 .7zM315.8 451.7l2.9-.7-1.9-.9-2.9.7zM313.4 450.8l3-.7-1.9-.9-2.9.7zM323.4 447.9l.7-.2.8.4v-.5l1.5-.3-.9-.5-2.9.8zM312.9 448.5l1.9.9 2.9-.7-1.9-.9zM318.4 448.4l3-.7-1.9-.8-2.9.7zM322.1 446.9l2.9-.7-1.8-.8-3 .7zM316.1 447l2.9-.7-1.8-.9-2.9.8zM302.8 449l2.9-.7-1.8-.8-2.9.7zM313.8 445.6l2.9-.7-1.8-.8-3 .7zM293.8 434.3l.2-.1.4.2.3-.1v-.2l2.1-.5-1.5-.7-2.9.7zM277.3 436.7l.5-.1v-.5l1.7-.4-1.1-.5-3 .7zM284.2 435h.1l.5.2.3-.1v-.5l1.7-.4-1.1-.6-2.9.8zM287.8 433.9h.2l.5.2 2.7-.7-1.9-.9-2.9.8zM275 435.5l2.9-.7-1.9-.8-2.9.7zM278.6 434.6l3-.8-1.9-.8-2.9.7zM289.6 431.9l.5-.1v-.6l1.7-.4-1.1-.5-2.9.8zM276.3 433.6l2.9-.7-1.8-.9-2.9.7zM280 433.1l.4-.1v-.2l2.2-.6-1.6-.7-2.9.7zM283.6 431.8l3-.8-1.9-.8-2.9.7zM284.4 430.3l.3-.1.6.2h.1v-1l1.1-.2-.5-.3-2.9.8z"/><path fill="#f5ee17" d="M342.6 462.8l2.9-.7-1.8-.9-2.4.6.6.3v.4zM346.3 461.8l2.9-.7-1.9-.9-2.9.8zM339.6 461.4l.4-.1.7.3 2.5-.6-1.8-.9-1.8.5zM347.6 459.6l.5-.1v-.9l1.1-.3-.5-.3-2.4.6.6.3v.4zM334.3 461.2l.5-.1v-.8l1.4-.3-.8-.4-2.6.6.8.4v.2zM344.6 458.1l.4-.1.7.4 2.5-.7-1.8-.8-2.1.5.3.1zM345.9 456.6l-1.9-.8-2.9.7.8.4.8-.2 1.1.5zM326 460.2l.5-.1v-.2l2.1-.5-1.5-.8-2.9.8zM329.7 459.1l.4-.1v-.2l2.2-.5-1.6-.7-2.9.7zM323.7 458.7l2.9-.7-1.8-.8-3 .7zM321.5 453.7l-1.1.3.5.2v-.3zM319.4 451.6l.5-.2v-.2l2.1-.5-1.5-.7-2.6.6.8.4v.2zM320 450l-1.8-.8-2.5.6.7.3v.1l.4-.1 1 .5zM320.8 449.6l.4-.1v-1.1l1-.2-.4-.1-2.9.7zM307.5 451.4l2.9-.7-1.9-.9-2.9.7zM311.1 450.4l.5-.1v-.4l1.9-.5-1.3-.6-2.9.8zM312.5 448.8l.4-.1v-.2l2.3-.5-1.7-.8-2.9.7zM319.8 446.7l.4-.1v-.5l1.8-.5-1.2-.5-2.8.7zM300.5 448.1l2.9-.7-1.8-.9-3 .8zM302.3 446.8l1.9.8 2.9-.7-1.9-.9zM307.8 446.6l2.9-.7-1.8-.9-2.9.8zM311.5 445.5l.4-.1v-.6l1.6-.4-1-.4-2.9.7zM301.8 446.7l3-.7-1.9-.9-2.9.7zM309.2 444.3l2.9-.7-1.9-.9-2.9.7zM312.8 443.8l2.9-.7-1.8-.8-2.9.7zM310.5 442.7l2.9-.7-1.8-.9-3 .7zM281.9 439.6l3-.7-1.9-.9-2.9.8zM282 435.5l-.7.1.1.1.8-.2zM271.7 432.8l2.9-.7-1.9-.8-2.9.7z"/><path fill="#f8f611" d="M349.9 459.4l3-.7-1.9-.9-2.9.8zM336.6 461.1l3-.7-1.9-.8-2.9.7zM338 458.8l2.9-.7-1.9-.8-2.9.7zM341.6 458.2l3-.7-1.9-.8-2.9.7zM335.7 457.6l2.9-.7-1.9-.9-2.9.7zM321.4 456.7l2.9-.8-1.9-.8-2.9.7zM319.1 455.4l2.9-.7-1.9-.8-2.9.7zM322.7 454.8l.5-.2v-.4l1.8-.5-1.2-.5-2.9.7zM325.8 453.5h.3l.5.2 2.7-.6-1.9-.9-2.9.7zM330 452.8l.5-.1v-.5l1.8-.4-1.2-.6-2.9.7zM332.8 451.6l.6-.1 1 .4 2.2-.5-1.8-.9-3 .7zM316.7 454.4l3-.7-1.9-.9-2.9.7zM324.1 452.8l2.9-.7-1.9-.9-2.9.8zM327.7 451.3l2.9-.7-1.8-.9-2.9.8zM325.4 450.8l.5-.1v-.2l2.1-.6-1.5-.7-3 .7zM323.1 449.3l2.9-.7-1.9-.9-2.9.7zM326.7 448.5l3-.7-1.9-.9-2.9.7zM317.5 444.6l2.9-.7-1.9-.8-2.9.7zM285.6 437.5l2.9-.7-1.8-.8-3 .7zM292.9 435.8l2.9-.7-1.8-.9-2.3.6.5.2v.5zM296.6 434.9l2.9-.7-1.9-.8-2.9.7zM279.6 437l2.9-.8-1.8-.8-2.9.7zM283.3 436.6l2.9-.7-1.9-.9-2.9.7zM286.9 435.4l.5-.1v-.4l1.8-.5-1.2-.5-2.9.7zM289.4 434.4l.9-.3 1.2.6 2-.5-1.8-.9-3 .7zM282.3 433.6l2.9-.7-1.8-.9-3 .8zM286 432.5l2.9-.7-1.9-.9-2.9.7zM287.3 430.3l2.9-.7-1.8-.9-3 .7z"/><path fill="#f9fb0e" d="M337 455.2l2.9-.7-1.8-.9-3 .8zM340.7 454.3l2.9-.7-1.9-.8-2.9.7zM331 455.2l2.9-.7-1.8-.8-2.9.7zM338.3 453.5l3-.7-1.9-.9-2.9.8zM325 455l3-.7-1.9-.8-2.9.7zM332.4 453l2.9-.7-1.9-.8-2.9.7zM331.4 450.3l2.9-.7-1.9-.9-2.9.7zM289.3 435.7l2.9-.7-1.9-.9-2.9.8zM291.9 432.1l3-.7-1.9-.9-2.9.7z"/><path fill="#f5e61c" d="M305.7 449.5l.5-.1.7.3v-.3l2.1-.5-1.5-.7-1.8.5zM295.9 448.1l.4-.1v-.8l1.4-.3-.8-.3-2.9.7zM306.4 444.5h.2l.4.2.3-.1v-1.2l.8-.2-.2-.1-2.8.7 1 .5v.1zM268 435l.5-.1v-.5l1.7-.4-1.1-.6-2.9.8zM276.4 431.7l-1.8.5v.5l2.6-.6zM282.1 430.7h.3h.1l.6-.1v-.9l.7-.2-.1-.1-2.9.8z"/><path fill="#f5e21e" d="M293.5 447.4l.5-.1 2.4-.6-1.8-.8-2.9.7zM297.2 446.3l.5-.2v-.6l1.5-.4-.9-.4-3 .7zM303 443.7l1.2-.3.9.4 1.7-.4-1.2-.5-2.9.7zM307.2 443.3l.7-.2.2.1.5-.1v-.8l-2.3.6zM294.9 445.8l.4-.1v-.3l2.1-.5-1.5-.7-2.9.8zM296.2 443.8l2.9-.7-1.8-.9-2.9.8zM299.9 442.6l2.9-.8-1.9-.8-2.9.7zM303.5 442l3-.7-1.9-.9-2.9.8zM290.2 443.7l3-.8-1.9-.8-2.9.7zM293.9 442.3l2.9-.7-1.8-.9-3 .7z"/><path fill="#f5de21" d="M291.2 446.8l.5-.1v-.1l2.2-.6-1.6-.7-2.9.7zM304.4 443.2l1.2-.3.7.3v-.3l1.4-.3-.8-.4-2.9.8zM288.9 445.8l2.9-.8-1.8-.8-3 .7zM292.6 445.2l.4-.1v-.1l2.2-.6-1.6-.7-2.9.7zM286.6 445l2.9-.7-1.9-.9-2.9.7zM297.6 442.3l.4-.1v-.5l1.8-.4-1.2-.6-2.3.6.5.3v.4zM284.3 444.4l.4-.2v-.1l2.3-.5-1.7-.8-2.9.7zM287.9 443.2l.5-.1v-.3l2.1-.5-1.5-.7-2.9.7zM291.6 442.2l.4-.1v-.7l1.6-.4-1-.4-2.9.7zM294.2 440.9l.8-.2 1 .5 2.2-.6-1.9-.8-2.9.7zM298.9 440.1l2.9-.7-1.8-.8-3 .7z"/><path fill="#f6db24" d="M299.6 444.9l-.6.1.2.1.6-.1zM301.3 444.6v-.5l1.4-.3v-.2l.6-.2-3 .7zM302.3 440.4l-2.9.7.4.2 1.1-.3.8.3v-.1l1.5-.4z"/></g>
<g font-size="3.3" fill="#606060" letter-spacing="0"><text transform="translate(262.8 479.3)scale(1.3 1)" text-anchor="end" letter-spacing="0.5">0</text><text transform="translate(262.8 470.6)scale(1.3 1)" text-anchor="end" letter-spacing="0.5">0.5</text><text transform="translate(262.8 461.9)scale(1.3 1)" text-anchor="end" letter-spacing="0.5">1</text><text transform="translate(262.8 453.2)scale(1.3 1)" text-anchor="end" letter-spacing="0.5">1.5</text><text transform="translate(262.8 444.4)scale(1.3 1)" text-anchor="end" letter-spacing="0.5">2</text><text transform="translate(262.8 435.7)scale(1.3 1)" text-anchor="end" letter-spacing="0.5">2.5</text><text transform="translate(262.8 427)scale(1.3 1)" text-anchor="end" letter-spacing="0.5">3</text><text transform="translate(259.1 483.3)scale(1.3 1)" text-anchor="middle">0</text><text transform="translate(270.7 488.6)scale(1.3 1)" text-anchor="middle">5</text><text transform="translate(282.3 494)scale(1.3 1)" text-anchor="middle">10</text><text transform="translate(293.9 499.3)scale(1.3 1)" text-anchor="middle">15</text><text transform="translate(305.5 504.7)scale(1.3 1)" text-anchor="middle">20</text><text transform="translate(317.1 510)scale(1.3 1)" text-anchor="middle">25</text><text transform="translate(328.7 515.4)scale(1.3 1)" text-anchor="middle">30</text><text transform="translate(340.3 520.7)scale(1.3 1)" text-anchor="middle">35</text><text transform="translate(352.4 519.8)scale(1.3 1)" text-anchor="middle">1</text><text transform="translate(356.1 518.9)scale(1.3 1)" text-anchor="middle">2</text><text transform="translate(359.8 518)scale(1.3 1)" text-anchor="middle">3</text><text transform="translate(363.4 517.1)scale(1.3 1)" text-anchor="middle">4</text><text transform="translate(367.1 516.2)scale(1.3 1)" text-anchor="middle">5</text></g>
<text font-size="4.3" fill="#4a4a4a" text-anchor="middle" transform="translate(251.9 449.4) rotate(-90)" textLength="29.6" lengthAdjust="spacingAndGlyphs">Entropia promedio H</text>
<text font-size="3.5" fill="#4a4a4a" x="278" y="518.8" textLength="41" lengthAdjust="spacingAndGlyphs">Numero de intentos</text>
<text font-size="3.5" fill="#4a4a4a" x="363.9" y="525.8" textLength="56.2" lengthAdjust="spacingAndGlyphs">Numero de iteraciones MoE</text>
<text font-size="3.3" font-weight="bold" stroke="#000" stroke-width="0.12" fill="#000" x="240.6" y="423.1" textLength="146.8" lengthAdjust="spacingAndGlyphs">Entropia segun intentos e iteraciones de MoE Clasico Entropico</text>
<text class="cap" x="52.6" y="128.7" textLength="86.3" lengthAdjust="spacingAndGlyphs">(<tspan font-weight="bold">a</tspan>) Arrhythmia (MoE)</text>
<text class="cap" x="266.9" y="128.5" textLength="93.3" lengthAdjust="spacingAndGlyphs">(<tspan font-weight="bold">b</tspan>) Arrhythmia (EMoE)</text>
<text class="cap" x="63.4" y="266.8" textLength="64.3" lengthAdjust="spacingAndGlyphs">(<tspan font-weight="bold">c</tspan>) Secom (MoE)</text>
<text class="cap" x="277.5" y="266.7" textLength="71.8" lengthAdjust="spacingAndGlyphs">(<tspan font-weight="bold">d</tspan>) Secom (EMoE)</text>
<text class="cap" x="64" y="405.7" textLength="63" lengthAdjust="spacingAndGlyphs">(<tspan font-weight="bold">e</tspan>) Pie10P(MoE)</text>
<text class="cap" x="279.2" y="405.7" textLength="67.6" lengthAdjust="spacingAndGlyphs">(<tspan font-weight="bold">f</tspan>) Pie10P(EMoE)</text>
<text class="cap" x="54.8" y="543.8" textLength="78.9" lengthAdjust="spacingAndGlyphs">(<tspan font-weight="bold">g</tspan>) Leukemia (MoE)</text>
<text class="cap" x="269.4" y="543.8" textLength="85.2" lengthAdjust="spacingAndGlyphs">(<tspan font-weight="bold">h</tspan>) Leukemia (EMoE)</text>
</svg>
</body></html>
